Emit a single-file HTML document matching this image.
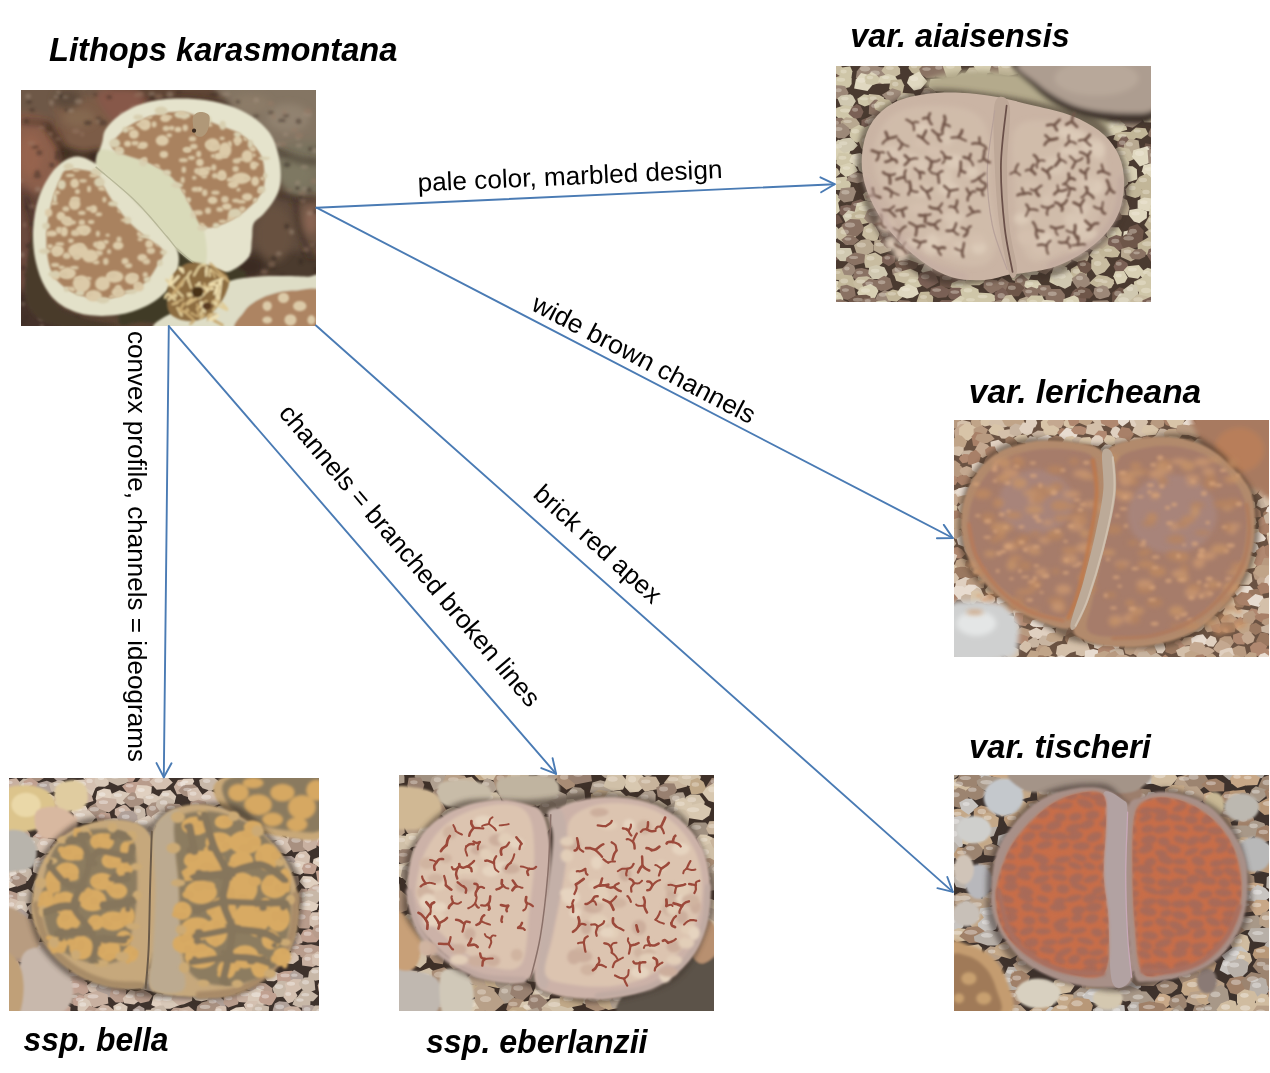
<!DOCTYPE html>
<html><head><meta charset="utf-8">
<style>
html,body{margin:0;padding:0;background:#fff;}
body{width:1270px;height:1073px;position:relative;overflow:hidden;}
.ph{position:absolute;overflow:hidden;}
.ph svg{display:block;width:100%;height:100%;}
.s{fill:none;stroke-linecap:round;stroke-linejoin:round}
#ov{position:absolute;left:0;top:0;width:1270px;height:1073px;}
</style></head>
<body>
<div class="ph" style="left:21px;top:90px;width:295px;height:236px;background:#8a7560"><svg viewBox="0 0 1270 1016" preserveAspectRatio="none">
<defs><filter id="p1g" x="-30%" y="-30%" width="160%" height="160%"><feGaussianBlur stdDeviation="16"/></filter>
<filter id="p1m" x="-30%" y="-30%" width="160%" height="160%"><feGaussianBlur stdDeviation="8"/></filter>
<filter id="p1s" x="-30%" y="-30%" width="160%" height="160%"><feGaussianBlur stdDeviation="4"/></filter>
<filter id="p1t" x="-30%" y="-30%" width="160%" height="160%"><feGaussianBlur stdDeviation="2.5"/></filter>
</defs>
<rect width="1270" height="1016" fill="#5a4434"/>
<g filter="url(#p1g)"><path d="M-40 -40C27 -70 297 -65 360 -40C423 -15 362 75 340 110C318 145 273 163 230 170C187 177 125 155 80 150C35 145 -20 172 -40 140C-60 108 -107 -10 -40 -40Z" fill="#6e5846"/><path d="M-40 130C-15 79 74 110 110 125C146 140 163 179 175 220C187 261 194 333 180 370C166 407 127 430 90 440C53 450 -18 482 -40 430C-62 378 -65 181 -40 130Z" fill="#8c5e4b"/><path d="M150 60C178 40 285 22 330 30C375 38 408 73 420 110C432 147 420 221 400 250C380 279 334 286 300 285C266 284 218 268 195 245C172 222 172 181 165 150C158 119 122 80 150 60Z" fill="#7c5b47"/><path d="M330 10C350 -13 480 -8 520 0C560 8 577 38 570 60C563 82 508 117 480 130C452 143 425 160 400 140C375 120 310 33 330 10Z" fill="#87594a"/><path d="M520 -40C577 -56 842 -55 900 -40C958 -25 903 37 870 50C837 63 752 39 700 40C648 41 590 68 560 55C530 42 463 -24 520 -40Z" fill="#5e4535"/><path d="M860 -40C930 -57 1235 -100 1310 -40C1385 20 1330 263 1310 320C1290 377 1232 313 1190 300C1148 287 1098 265 1060 240C1022 215 988 180 960 150C932 120 907 92 890 60C873 28 790 -23 860 -40Z" fill="#847463"/><path d="M1090 250C1123 228 1273 193 1310 230C1347 267 1335 433 1310 470C1285 507 1193 468 1160 450C1127 432 1122 393 1110 360C1098 327 1057 272 1090 250Z" fill="#7a735f"/><path d="M960 440C995 412 1102 430 1150 450C1198 470 1235 508 1250 560C1265 612 1262 717 1240 760C1218 803 1163 818 1120 820C1077 822 1010 803 980 770C950 737 943 675 940 620C937 565 925 468 960 440Z" fill="#5f4b3c"/><path d="M1180 480C1198 458 1288 430 1310 470C1332 510 1322 682 1310 720C1298 758 1258 720 1240 700C1222 680 1210 637 1200 600C1190 563 1162 502 1180 480Z" fill="#6e5444"/><path d="M-40 460C-23 358 37 427 60 450C83 473 97 542 100 600C103 658 78 723 80 800C82 877 130 1017 110 1060C90 1103 -15 1160 -40 1060C-65 960 -57 562 -40 460Z" fill="#6b4a3c"/><path d="M40 860C80 870 137 927 200 960C263 993 460 1043 420 1060C380 1077 37 1087 -40 1060C-117 1033 -53 933 -40 900C-27 867 0 850 40 860Z" fill="#45322a"/><path d="M990 690C1025 673 1257 697 1310 720C1363 743 1345 813 1310 830C1275 847 1153 843 1100 820C1047 797 955 707 990 690Z" fill="#4c3a2e"/></g>
<g filter="url(#p1g)"><ellipse cx="40" cy="280" rx="50" ry="90" fill="#96644e"/><ellipse cx="250" cy="120" rx="70" ry="40" fill="#846850"/><ellipse cx="1150" cy="120" rx="90" ry="60" fill="#91826f"/><ellipse cx="990" cy="60" rx="80" ry="40" fill="#8c7c68"/><ellipse cx="1180" cy="360" rx="70" ry="60" fill="#7e7862"/><ellipse cx="1090" cy="620" rx="80" ry="120" fill="#675140"/><ellipse cx="980" cy="760" rx="70" ry="50" fill="#3a2a20"/><ellipse cx="330" cy="290" rx="45" ry="30" fill="#3e2c22"/><ellipse cx="200" cy="40" rx="60" ry="40" fill="#5c4a3a"/><ellipse cx="1250" cy="560" rx="30" ry="60" fill="#8a6552"/><path class="s" d="M110 150C120 165 157 210 170 240C183 270 185 300 190 330C195 360 198 405 200 420" stroke="#2e2218" stroke-width="22"/><path class="s" d="M180 260C193 263 233 278 260 280C287 282 327 272 340 270" stroke="#2e2218" stroke-width="20"/><path class="s" d="M0 135C13 136 58 138 80 140C102 142 122 148 130 150" stroke="#3a2a20" stroke-width="14"/><path class="s" d="M880 60C893 75 930 120 960 150C990 180 1022 215 1060 240C1098 265 1155 288 1190 300C1225 312 1257 308 1270 310" stroke="#3a2c22" stroke-width="18"/><path class="s" d="M1100 450C1117 453 1172 467 1200 470C1228 473 1258 470 1270 470" stroke="#3a2c22" stroke-width="16"/><path class="s" d="M1180 470C1183 492 1188 558 1200 600C1212 642 1242 700 1250 720" stroke="#2e2218" stroke-width="14"/><path class="s" d="M540 60C567 58 647 45 700 45C753 45 833 58 860 60" stroke="#3a2a20" stroke-width="16"/><path class="s" d="M20 460C27 483 50 543 60 600C70 657 77 767 80 800" stroke="#2e2218" stroke-width="16"/></g>
<g filter="url(#p1m)" opacity="0.45"><ellipse cx="89" cy="162" rx="15" ry="7" fill="#9a7a66"/><ellipse cx="1086" cy="764" rx="13" ry="12" fill="#3a2c22"/><ellipse cx="226" cy="867" rx="16" ry="8" fill="#3a2c22"/><ellipse cx="486" cy="76" rx="16" ry="12" fill="#9a7a66"/><ellipse cx="1262" cy="669" rx="16" ry="10" fill="#3a2c22"/><ellipse cx="1065" cy="206" rx="11" ry="6" fill="#2e241c"/><ellipse cx="1157" cy="431" rx="13" ry="6" fill="#9a7a66"/><ellipse cx="1122" cy="884" rx="12" ry="13" fill="#9a7a66"/><ellipse cx="1158" cy="847" rx="18" ry="11" fill="#9a7a66"/><ellipse cx="1013" cy="43" rx="12" ry="11" fill="#a89482"/><ellipse cx="516" cy="-10" rx="17" ry="12" fill="#3a2c22"/><ellipse cx="3" cy="709" rx="12" ry="12" fill="#a89482"/><ellipse cx="1191" cy="400" rx="11" ry="10" fill="#a89482"/><ellipse cx="331" cy="895" rx="10" ry="7" fill="#9a7a66"/><ellipse cx="1057" cy="836" rx="13" ry="8" fill="#9a7a66"/><ellipse cx="48" cy="577" rx="18" ry="7" fill="#3a2c22"/><ellipse cx="1139" cy="191" rx="12" ry="8" fill="#a89482"/><ellipse cx="595" cy="1026" rx="11" ry="8" fill="#3a2c22"/><ellipse cx="1140" cy="110" rx="14" ry="8" fill="#3a2c22"/><ellipse cx="185" cy="849" rx="16" ry="10" fill="#2e241c"/><ellipse cx="133" cy="323" rx="11" ry="11" fill="#2e241c"/><ellipse cx="320" cy="20" rx="9" ry="7" fill="#3a2c22"/><ellipse cx="236" cy="177" rx="17" ry="11" fill="#9a7a66"/><ellipse cx="1193" cy="205" rx="12" ry="10" fill="#a89482"/><ellipse cx="991" cy="857" rx="15" ry="8" fill="#2e241c"/><ellipse cx="704" cy="1032" rx="18" ry="12" fill="#3a2c22"/><ellipse cx="341" cy="137" rx="18" ry="8" fill="#a89482"/><ellipse cx="8" cy="906" rx="17" ry="9" fill="#3a2c22"/><ellipse cx="183" cy="1019" rx="9" ry="7" fill="#9a7a66"/><ellipse cx="70" cy="789" rx="10" ry="9" fill="#a89482"/><ellipse cx="1133" cy="95" rx="9" ry="11" fill="#9a7a66"/><ellipse cx="78" cy="923" rx="9" ry="10" fill="#a89482"/><ellipse cx="88" cy="984" rx="15" ry="9" fill="#a89482"/><ellipse cx="1144" cy="587" rx="11" ry="12" fill="#2e241c"/><ellipse cx="927" cy="1005" rx="9" ry="10" fill="#2e241c"/><ellipse cx="31" cy="27" rx="12" ry="10" fill="#a89482"/><ellipse cx="281" cy="951" rx="14" ry="10" fill="#9a7a66"/><ellipse cx="211" cy="935" rx="12" ry="12" fill="#3a2c22"/><ellipse cx="1228" cy="688" rx="13" ry="12" fill="#9a7a66"/><ellipse cx="1198" cy="197" rx="17" ry="12" fill="#9a7a66"/><ellipse cx="500" cy="23" rx="15" ry="7" fill="#9a7a66"/><ellipse cx="1205" cy="460" rx="10" ry="10" fill="#2e241c"/><ellipse cx="70" cy="354" rx="11" ry="9" fill="#2e241c"/><ellipse cx="1262" cy="393" rx="15" ry="12" fill="#9a7a66"/><ellipse cx="264" cy="191" rx="9" ry="10" fill="#9a7a66"/><ellipse cx="63" cy="933" rx="17" ry="9" fill="#9a7a66"/><ellipse cx="755" cy="89" rx="15" ry="9" fill="#a89482"/><ellipse cx="35" cy="51" rx="13" ry="9" fill="#3a2c22"/><ellipse cx="1238" cy="104" rx="14" ry="11" fill="#a89482"/><ellipse cx="1123" cy="950" rx="14" ry="10" fill="#2e241c"/><ellipse cx="7" cy="998" rx="12" ry="6" fill="#2e241c"/><ellipse cx="1220" cy="1024" rx="9" ry="6" fill="#9a7a66"/><ellipse cx="-2" cy="391" rx="11" ry="6" fill="#a89482"/><ellipse cx="1124" cy="799" rx="11" ry="10" fill="#3a2c22"/><ellipse cx="907" cy="997" rx="11" ry="8" fill="#2e241c"/><ellipse cx="23" cy="134" rx="9" ry="8" fill="#2e241c"/><ellipse cx="473" cy="988" rx="12" ry="12" fill="#9a7a66"/><ellipse cx="1127" cy="925" rx="13" ry="11" fill="#a89482"/><ellipse cx="126" cy="709" rx="11" ry="6" fill="#9a7a66"/><ellipse cx="1249" cy="254" rx="14" ry="10" fill="#3a2c22"/><ellipse cx="641" cy="19" rx="16" ry="13" fill="#a89482"/><ellipse cx="1220" cy="331" rx="16" ry="8" fill="#a89482"/><ellipse cx="1156" cy="919" rx="15" ry="12" fill="#a89482"/><ellipse cx="836" cy="1031" rx="12" ry="10" fill="#3a2c22"/><ellipse cx="1211" cy="817" rx="10" ry="9" fill="#9a7a66"/><ellipse cx="334" cy="122" rx="13" ry="7" fill="#3a2c22"/><ellipse cx="831" cy="19" rx="18" ry="10" fill="#3a2c22"/><ellipse cx="1149" cy="869" rx="13" ry="12" fill="#2e241c"/><ellipse cx="870" cy="79" rx="14" ry="11" fill="#3a2c22"/><ellipse cx="73" cy="427" rx="12" ry="11" fill="#a89482"/><ellipse cx="563" cy="17" rx="14" ry="10" fill="#a89482"/><ellipse cx="1088" cy="115" rx="9" ry="12" fill="#9a7a66"/><ellipse cx="1145" cy="322" rx="15" ry="11" fill="#2e241c"/><ellipse cx="1081" cy="941" rx="15" ry="6" fill="#2e241c"/><ellipse cx="45" cy="229" rx="15" ry="9" fill="#9a7a66"/><ellipse cx="1108" cy="1007" rx="16" ry="13" fill="#3a2c22"/><ellipse cx="1077" cy="285" rx="14" ry="11" fill="#a89482"/><ellipse cx="1165" cy="611" rx="11" ry="11" fill="#a89482"/><ellipse cx="1178" cy="172" rx="14" ry="8" fill="#9a7a66"/><ellipse cx="79" cy="270" rx="13" ry="12" fill="#3a2c22"/><ellipse cx="409" cy="965" rx="18" ry="7" fill="#3a2c22"/><ellipse cx="659" cy="76" rx="16" ry="10" fill="#9a7a66"/><ellipse cx="246" cy="859" rx="16" ry="8" fill="#a89482"/><ellipse cx="1269" cy="773" rx="8" ry="12" fill="#2e241c"/><ellipse cx="462" cy="952" rx="15" ry="7" fill="#2e241c"/><ellipse cx="525" cy="975" rx="12" ry="6" fill="#3a2c22"/><ellipse cx="777" cy="936" rx="16" ry="9" fill="#2e241c"/><ellipse cx="1218" cy="701" rx="16" ry="7" fill="#2e241c"/><ellipse cx="974" cy="997" rx="12" ry="6" fill="#3a2c22"/><ellipse cx="1108" cy="883" rx="8" ry="13" fill="#2e241c"/><ellipse cx="41" cy="757" rx="13" ry="9" fill="#a89482"/><ellipse cx="843" cy="-17" rx="16" ry="7" fill="#2e241c"/><ellipse cx="-7" cy="168" rx="8" ry="8" fill="#9a7a66"/><ellipse cx="128" cy="189" rx="11" ry="9" fill="#9a7a66"/><ellipse cx="697" cy="1024" rx="13" ry="12" fill="#9a7a66"/><ellipse cx="418" cy="925" rx="16" ry="7" fill="#9a7a66"/><ellipse cx="1282" cy="-16" rx="9" ry="6" fill="#a89482"/><ellipse cx="1075" cy="57" rx="13" ry="11" fill="#9a7a66"/><ellipse cx="173" cy="26" rx="11" ry="9" fill="#2e241c"/><ellipse cx="680" cy="9" rx="13" ry="7" fill="#3a2c22"/><ellipse cx="1047" cy="782" rx="15" ry="10" fill="#9a7a66"/><ellipse cx="29" cy="506" rx="14" ry="9" fill="#2e241c"/><ellipse cx="1125" cy="233" rx="18" ry="10" fill="#9a7a66"/><ellipse cx="1241" cy="872" rx="17" ry="8" fill="#a89482"/><ellipse cx="1156" cy="972" rx="10" ry="11" fill="#9a7a66"/><ellipse cx="288" cy="141" rx="17" ry="10" fill="#2e241c"/><ellipse cx="205" cy="86" rx="17" ry="9" fill="#2e241c"/><ellipse cx="215" cy="89" rx="13" ry="8" fill="#a89482"/><ellipse cx="549" cy="71" rx="15" ry="10" fill="#a89482"/><ellipse cx="1027" cy="863" rx="16" ry="8" fill="#2e241c"/><ellipse cx="1234" cy="427" rx="13" ry="9" fill="#3a2c22"/><ellipse cx="1195" cy="135" rx="12" ry="12" fill="#3a2c22"/><ellipse cx="934" cy="51" rx="10" ry="8" fill="#2e241c"/><ellipse cx="1226" cy="426" rx="16" ry="8" fill="#a89482"/><ellipse cx="1205" cy="738" rx="10" ry="13" fill="#2e241c"/><ellipse cx="158" cy="272" rx="12" ry="13" fill="#3a2c22"/><ellipse cx="264" cy="1008" rx="15" ry="9" fill="#9a7a66"/><ellipse cx="239" cy="983" rx="16" ry="11" fill="#2e241c"/><ellipse cx="1062" cy="1001" rx="8" ry="11" fill="#9a7a66"/><ellipse cx="1243" cy="531" rx="12" ry="9" fill="#a89482"/><ellipse cx="1227" cy="945" rx="12" ry="12" fill="#2e241c"/><ellipse cx="151" cy="837" rx="11" ry="11" fill="#2e241c"/><ellipse cx="1225" cy="103" rx="11" ry="9" fill="#a89482"/><ellipse cx="106" cy="777" rx="9" ry="12" fill="#a89482"/><ellipse cx="1266" cy="946" rx="11" ry="11" fill="#2e241c"/><ellipse cx="593" cy="28" rx="17" ry="13" fill="#9a7a66"/><ellipse cx="1075" cy="985" rx="17" ry="10" fill="#9a7a66"/><ellipse cx="1079" cy="750" rx="15" ry="11" fill="#9a7a66"/><ellipse cx="883" cy="18" rx="17" ry="7" fill="#a89482"/><ellipse cx="511" cy="18" rx="17" ry="12" fill="#9a7a66"/><ellipse cx="184" cy="983" rx="14" ry="9" fill="#9a7a66"/><ellipse cx="1190" cy="421" rx="9" ry="10" fill="#2e241c"/><ellipse cx="915" cy="143" rx="15" ry="10" fill="#a89482"/><ellipse cx="510" cy="954" rx="18" ry="9" fill="#a89482"/><ellipse cx="58" cy="846" rx="15" ry="11" fill="#a89482"/><ellipse cx="48" cy="86" rx="12" ry="9" fill="#3a2c22"/><ellipse cx="36" cy="671" rx="17" ry="12" fill="#2e241c"/><ellipse cx="1210" cy="445" rx="17" ry="9" fill="#9a7a66"/><ellipse cx="643" cy="1008" rx="13" ry="10" fill="#a89482"/><ellipse cx="688" cy="-16" rx="9" ry="11" fill="#3a2c22"/><ellipse cx="1262" cy="667" rx="18" ry="6" fill="#9a7a66"/><ellipse cx="72" cy="906" rx="14" ry="12" fill="#2e241c"/><ellipse cx="150" cy="30" rx="11" ry="9" fill="#a89482"/><ellipse cx="200" cy="928" rx="16" ry="12" fill="#a89482"/><ellipse cx="161" cy="10" rx="9" ry="9" fill="#a89482"/><ellipse cx="141" cy="746" rx="9" ry="6" fill="#3a2c22"/><ellipse cx="1288" cy="347" rx="16" ry="9" fill="#a89482"/><ellipse cx="352" cy="141" rx="18" ry="13" fill="#3a2c22"/><ellipse cx="38" cy="868" rx="15" ry="10" fill="#a89482"/><ellipse cx="1123" cy="131" rx="17" ry="7" fill="#2e241c"/><ellipse cx="47" cy="501" rx="13" ry="9" fill="#9a7a66"/><ellipse cx="168" cy="-16" rx="8" ry="9" fill="#3a2c22"/><ellipse cx="937" cy="1012" rx="11" ry="10" fill="#3a2c22"/><ellipse cx="863" cy="1010" rx="11" ry="9" fill="#2e241c"/><ellipse cx="1197" cy="239" rx="14" ry="9" fill="#a89482"/><ellipse cx="16" cy="580" rx="8" ry="11" fill="#9a7a66"/><ellipse cx="380" cy="31" rx="12" ry="9" fill="#3a2c22"/><ellipse cx="22" cy="978" rx="12" ry="13" fill="#3a2c22"/><ellipse cx="995" cy="978" rx="16" ry="8" fill="#a89482"/><ellipse cx="315" cy="881" rx="11" ry="7" fill="#2e241c"/><ellipse cx="1088" cy="725" rx="13" ry="13" fill="#2e241c"/><ellipse cx="956" cy="-20" rx="15" ry="9" fill="#9a7a66"/><ellipse cx="1213" cy="478" rx="12" ry="8" fill="#9a7a66"/><ellipse cx="1266" cy="885" rx="14" ry="8" fill="#3a2c22"/><ellipse cx="70" cy="370" rx="16" ry="10" fill="#3a2c22"/><ellipse cx="157" cy="292" rx="14" ry="12" fill="#3a2c22"/><ellipse cx="564" cy="33" rx="15" ry="11" fill="#3a2c22"/><ellipse cx="435" cy="103" rx="11" ry="8" fill="#a89482"/><ellipse cx="1267" cy="524" rx="10" ry="11" fill="#3a2c22"/><ellipse cx="90" cy="1017" rx="9" ry="9" fill="#a89482"/><ellipse cx="616" cy="1023" rx="16" ry="11" fill="#3a2c22"/><ellipse cx="1103" cy="236" rx="16" ry="10" fill="#a89482"/><ellipse cx="131" cy="55" rx="10" ry="13" fill="#a89482"/><ellipse cx="1274" cy="249" rx="15" ry="8" fill="#3a2c22"/><ellipse cx="248" cy="49" rx="17" ry="12" fill="#a89482"/><ellipse cx="1110" cy="704" rx="12" ry="9" fill="#a89482"/><ellipse cx="23" cy="797" rx="9" ry="10" fill="#2e241c"/><ellipse cx="1286" cy="8" rx="9" ry="11" fill="#2e241c"/><ellipse cx="1280" cy="666" rx="17" ry="7" fill="#2e241c"/><ellipse cx="12" cy="766" rx="17" ry="12" fill="#3a2c22"/><ellipse cx="160" cy="1032" rx="16" ry="10" fill="#2e241c"/><ellipse cx="998" cy="899" rx="11" ry="12" fill="#a89482"/><ellipse cx="1012" cy="112" rx="13" ry="8" fill="#3a2c22"/><ellipse cx="1240" cy="430" rx="12" ry="11" fill="#3a2c22"/><ellipse cx="1076" cy="97" rx="13" ry="8" fill="#3a2c22"/><ellipse cx="1236" cy="91" rx="17" ry="12" fill="#9a7a66"/><ellipse cx="342" cy="911" rx="10" ry="11" fill="#3a2c22"/><ellipse cx="61" cy="245" rx="16" ry="7" fill="#2e241c"/><ellipse cx="1265" cy="260" rx="10" ry="12" fill="#a89482"/><ellipse cx="1072" cy="245" rx="17" ry="9" fill="#2e241c"/><ellipse cx="9" cy="922" rx="9" ry="7" fill="#a89482"/><ellipse cx="192" cy="31" rx="12" ry="6" fill="#a89482"/><ellipse cx="272" cy="-15" rx="11" ry="12" fill="#a89482"/><ellipse cx="159" cy="210" rx="14" ry="7" fill="#9a7a66"/><ellipse cx="1011" cy="831" rx="14" ry="13" fill="#3a2c22"/></g>
<g filter="url(#p1m)"><path d="M560 640C607 593 633 677 700 700C767 723 927 753 960 780C993 807 943 825 900 860C857 895 763 967 700 990C637 1013 567 1002 520 1000C473 998 413 1040 420 980C427 920 513 687 560 640Z" fill="#3f3a28"/><path d="M60 600C77 597 88 817 120 880C152 943 200 958 250 980C300 1002 437 1004 420 1010C403 1016 217 1034 150 1016C83 998 35 969 20 900C5 831 43 603 60 600Z" fill="#4a3a2a"/></g>
<g filter="url(#p1s)"><path d="M600 1040C500 1022 661 960 700 930C739 900 802 876 836 858C870 840 876 829 906 820C936 811 979 807 1015 804C1051 801 1087 801 1123 801C1159 801 1202 802 1231 804C1260 806 1288 773 1300 812C1312 851 1417 1002 1300 1040C1183 1078 700 1058 600 1040Z" fill="#deddc6"/><path d="M940 1040C883 1026 948 977 960 955C972 933 992 920 1015 906C1038 892 1069 881 1096 874C1123 867 1143 864 1177 863C1211 862 1280 840 1300 869C1320 898 1360 1012 1300 1040C1240 1068 997 1054 940 1040Z" fill="#ad8462"/><path d="M350 224C355 207 352 189 364 170C376 151 398 127 425 108C452 89 486 70 526 58C566 46 617 39 662 37C707 35 755 38 798 44C841 50 884 61 920 75C956 89 988 108 1015 129C1042 150 1066 174 1082 203C1098 232 1107 271 1113 305C1119 339 1120 379 1116 407C1112 435 1101 454 1089 475C1077 496 1057 519 1042 536C1027 553 1009 558 1001 576C993 594 998 620 994 644C990 668 996 697 980 720C964 743 921 774 895 782C869 790 850 772 825 766C800 760 769 757 744 744C719 731 695 708 676 689C657 670 650 656 628 631C606 606 575 567 547 536C519 505 490 475 459 447C428 419 387 385 364 366C341 347 328 348 323 332C318 316 330 288 335 270C340 252 345 241 350 224Z" fill="#e5e3cc"/><path d="M340 258C357 248 394 263 425 271C456 279 493 291 526 305C559 319 596 336 621 353C646 370 660 387 676 407C692 427 704 452 716 475C728 498 739 523 750 542C761 561 776 566 784 590C792 614 799 661 800 689C801 717 799 751 790 760C781 769 763 756 744 744C725 732 695 708 676 689C657 670 650 656 628 631C606 606 575 567 547 536C519 505 490 475 459 447C428 419 387 385 364 366C341 347 327 350 323 332C319 314 323 268 340 258Z" fill="#d9dab9"/><path d="M246 286C267 287 294 300 313 312C332 324 336 338 360 360C384 382 428 418 459 447C490 476 519 505 547 536C575 567 606 604 628 631C650 658 669 675 676 700C683 725 679 755 671 782C663 809 649 839 627 864C605 889 572 914 537 931C502 948 460 962 418 968C376 974 324 975 283 968C242 961 202 944 172 924C142 904 122 880 104 849C86 818 72 778 63 737C54 696 50 648 52 603C54 558 62 509 75 469C88 429 108 391 127 364C146 337 167 318 187 305C207 292 225 285 246 286Z" fill="#e3e1c9"/></g>
<g filter="url(#p1s)"><path d="M391 237C394 220 425 188 445 170C465 152 488 140 513 129C538 118 567 108 594 102C621 96 653 95 676 95C699 95 710 96 730 102C750 108 776 120 798 129C820 138 842 147 865 156C888 165 913 172 933 183C953 194 970 207 987 224C1004 241 1025 262 1035 285C1045 308 1047 335 1048 359C1049 383 1050 406 1042 427C1034 448 1019 469 1001 488C983 507 958 526 933 542C908 558 877 575 852 583C827 591 801 597 784 590C767 583 761 561 750 542C739 523 728 498 716 475C704 452 692 427 676 407C660 387 646 370 621 353C596 336 559 319 526 305C493 291 448 282 425 271C402 260 388 254 391 237Z" fill="#a9825f"/><path d="M201 342C227 336 296 346 321 357C346 368 337 387 351 409C365 431 384 465 403 491C422 517 441 542 463 566C485 590 512 612 537 633C562 654 603 672 612 692C621 712 602 730 589 752C576 774 558 807 537 827C516 847 493 859 463 871C433 883 392 898 358 901C324 904 290 895 261 886C232 877 208 865 187 849C166 833 146 814 134 789C122 764 116 734 112 700C108 666 108 625 112 588C116 551 125 508 134 476C143 444 153 416 164 394C175 372 175 348 201 342Z" fill="#a9825f"/></g>
<g filter="url(#p1s)"><ellipse cx="231" cy="491" rx="25" ry="26" fill="#dccaa8"/><ellipse cx="201" cy="566" rx="21" ry="21" fill="#dccaa8"/><ellipse cx="269" cy="603" rx="33" ry="23" fill="#dccaa8"/><ellipse cx="186" cy="610" rx="16" ry="21" fill="#dccaa8"/><ellipse cx="157" cy="692" rx="28" ry="25" fill="#dccaa8"/><ellipse cx="246" cy="692" rx="43" ry="32" fill="#dccaa8"/><ellipse cx="298" cy="715" rx="36" ry="28" fill="#dccaa8"/><ellipse cx="201" cy="789" rx="35" ry="26" fill="#dccaa8"/><ellipse cx="261" cy="834" rx="38" ry="37" fill="#dccaa8"/><ellipse cx="351" cy="834" rx="32" ry="31" fill="#dccaa8"/><ellipse cx="403" cy="804" rx="38" ry="26" fill="#dccaa8"/><ellipse cx="477" cy="812" rx="30" ry="25" fill="#dccaa8"/><ellipse cx="522" cy="722" rx="21" ry="16" fill="#dccaa8"/><ellipse cx="418" cy="670" rx="23" ry="18" fill="#dccaa8"/><ellipse cx="343" cy="670" rx="22" ry="21" fill="#dccaa8"/><ellipse cx="172" cy="543" rx="19" ry="19" fill="#dccaa8"/><ellipse cx="231" cy="402" rx="19" ry="21" fill="#dccaa8"/><ellipse cx="313" cy="513" rx="15" ry="17" fill="#dccaa8"/><ellipse cx="134" cy="618" rx="21" ry="13" fill="#dccaa8"/><ellipse cx="448" cy="737" rx="15" ry="14" fill="#dccaa8"/><ellipse cx="313" cy="886" rx="35" ry="25" fill="#dccaa8"/><ellipse cx="418" cy="871" rx="28" ry="22" fill="#dccaa8"/><ellipse cx="507" cy="849" rx="22" ry="19" fill="#dccaa8"/><ellipse cx="149" cy="797" rx="21" ry="21" fill="#dccaa8"/><ellipse cx="119" cy="528" rx="16" ry="17" fill="#dccaa8"/><ellipse cx="552" cy="663" rx="17" ry="17" fill="#dccaa8"/><ellipse cx="533" cy="149" rx="26" ry="25" fill="#dccaa8"/><ellipse cx="621" cy="122" rx="22" ry="16" fill="#dccaa8"/><ellipse cx="486" cy="190" rx="21" ry="20" fill="#dccaa8"/><ellipse cx="608" cy="217" rx="28" ry="23" fill="#dccaa8"/><ellipse cx="526" cy="237" rx="20" ry="14" fill="#dccaa8"/><ellipse cx="615" cy="278" rx="18" ry="15" fill="#dccaa8"/><ellipse cx="676" cy="170" rx="15" ry="12" fill="#dccaa8"/><ellipse cx="825" cy="237" rx="30" ry="29" fill="#dccaa8"/><ellipse cx="879" cy="258" rx="27" ry="33" fill="#dccaa8"/><ellipse cx="852" cy="285" rx="20" ry="15" fill="#dccaa8"/><ellipse cx="974" cy="285" rx="24" ry="27" fill="#dccaa8"/><ellipse cx="947" cy="380" rx="40" ry="25" fill="#dccaa8"/><ellipse cx="913" cy="407" rx="23" ry="16" fill="#dccaa8"/><ellipse cx="784" cy="353" rx="27" ry="20" fill="#dccaa8"/><ellipse cx="770" cy="312" rx="16" ry="16" fill="#dccaa8"/><ellipse cx="865" cy="366" rx="20" ry="22" fill="#dccaa8"/><ellipse cx="825" cy="475" rx="21" ry="16" fill="#dccaa8"/><ellipse cx="886" cy="502" rx="21" ry="14" fill="#dccaa8"/><ellipse cx="906" cy="542" rx="16" ry="16" fill="#dccaa8"/><ellipse cx="974" cy="461" rx="23" ry="17" fill="#dccaa8"/><ellipse cx="1008" cy="393" rx="17" ry="21" fill="#dccaa8"/><ellipse cx="1001" cy="325" rx="15" ry="18" fill="#dccaa8"/><ellipse cx="716" cy="258" rx="14" ry="10" fill="#dccaa8"/><ellipse cx="770" cy="427" rx="12" ry="11" fill="#dccaa8"/><ellipse cx="933" cy="217" rx="19" ry="17" fill="#dccaa8"/><ellipse cx="459" cy="231" rx="15" ry="13" fill="#dccaa8"/><ellipse cx="703" cy="115" rx="14" ry="11" fill="#dccaa8"/><ellipse cx="1060" cy="930" rx="20" ry="21" fill="#dccaa8"/><ellipse cx="1130" cy="895" rx="24" ry="22" fill="#dccaa8"/><ellipse cx="1200" cy="930" rx="29" ry="22" fill="#dccaa8"/><ellipse cx="1060" cy="990" rx="21" ry="15" fill="#dccaa8"/><ellipse cx="1160" cy="990" rx="26" ry="25" fill="#dccaa8"/><ellipse cx="1250" cy="990" rx="17" ry="20" fill="#dccaa8"/><ellipse cx="205" cy="330" rx="22" ry="15" fill="#d8cfb0"/><ellipse cx="326" cy="353" rx="24" ry="18" fill="#d8cfb0"/><ellipse cx="338" cy="397" rx="23" ry="21" fill="#d8cfb0"/><ellipse cx="396" cy="490" rx="21" ry="12" fill="#d8cfb0"/><ellipse cx="459" cy="561" rx="16" ry="16" fill="#d8cfb0"/><ellipse cx="531" cy="630" rx="25" ry="8" fill="#d8cfb0"/><ellipse cx="614" cy="699" rx="15" ry="11" fill="#d8cfb0"/><ellipse cx="598" cy="745" rx="12" ry="14" fill="#d8cfb0"/><ellipse cx="543" cy="816" rx="15" ry="13" fill="#d8cfb0"/><ellipse cx="472" cy="869" rx="27" ry="10" fill="#d8cfb0"/><ellipse cx="353" cy="905" rx="27" ry="14" fill="#d8cfb0"/><ellipse cx="253" cy="875" rx="20" ry="11" fill="#d8cfb0"/><ellipse cx="196" cy="858" rx="12" ry="12" fill="#d8cfb0"/><ellipse cx="143" cy="793" rx="26" ry="13" fill="#d8cfb0"/><ellipse cx="102" cy="694" rx="25" ry="12" fill="#d8cfb0"/><ellipse cx="108" cy="586" rx="17" ry="14" fill="#d8cfb0"/><ellipse cx="146" cy="466" rx="8" ry="21" fill="#d8cfb0"/><ellipse cx="175" cy="408" rx="18" ry="21" fill="#d8cfb0"/><ellipse cx="403" cy="229" rx="24" ry="20" fill="#d8cfb0"/><ellipse cx="450" cy="171" rx="14" ry="13" fill="#d8cfb0"/><ellipse cx="505" cy="117" rx="21" ry="12" fill="#d8cfb0"/><ellipse cx="603" cy="89" rx="28" ry="18" fill="#d8cfb0"/><ellipse cx="688" cy="106" rx="28" ry="16" fill="#d8cfb0"/><ellipse cx="716" cy="109" rx="12" ry="12" fill="#d8cfb0"/><ellipse cx="803" cy="130" rx="17" ry="21" fill="#d8cfb0"/><ellipse cx="868" cy="152" rx="14" ry="20" fill="#d8cfb0"/><ellipse cx="932" cy="191" rx="16" ry="11" fill="#d8cfb0"/><ellipse cx="988" cy="233" rx="12" ry="19" fill="#d8cfb0"/><ellipse cx="1047" cy="294" rx="26" ry="8" fill="#d8cfb0"/><ellipse cx="1052" cy="369" rx="9" ry="12" fill="#d8cfb0"/><ellipse cx="1036" cy="428" rx="17" ry="15" fill="#d8cfb0"/><ellipse cx="1009" cy="474" rx="9" ry="10" fill="#d8cfb0"/><ellipse cx="922" cy="530" rx="29" ry="20" fill="#d8cfb0"/><ellipse cx="840" cy="583" rx="15" ry="12" fill="#d8cfb0"/><ellipse cx="780" cy="594" rx="21" ry="13" fill="#d8cfb0"/><ellipse cx="741" cy="537" rx="11" ry="16" fill="#d8cfb0"/><ellipse cx="722" cy="472" rx="10" ry="10" fill="#d8cfb0"/><ellipse cx="672" cy="410" rx="25" ry="13" fill="#d8cfb0"/><ellipse cx="629" cy="356" rx="17" ry="13" fill="#d8cfb0"/><ellipse cx="526" cy="311" rx="17" ry="18" fill="#d8cfb0"/><ellipse cx="424" cy="264" rx="20" ry="18" fill="#d8cfb0"/></g>
<clipPath id="p1cw"><path d="M391 237C394 220 425 188 445 170C465 152 488 140 513 129C538 118 567 108 594 102C621 96 653 95 676 95C699 95 710 96 730 102C750 108 776 120 798 129C820 138 842 147 865 156C888 165 913 172 933 183C953 194 970 207 987 224C1004 241 1025 262 1035 285C1045 308 1047 335 1048 359C1049 383 1050 406 1042 427C1034 448 1019 469 1001 488C983 507 958 526 933 542C908 558 877 575 852 583C827 591 801 597 784 590C767 583 761 561 750 542C739 523 728 498 716 475C704 452 692 427 676 407C660 387 646 370 621 353C596 336 559 319 526 305C493 291 448 282 425 271C402 260 388 254 391 237Z"/><path d="M201 342C227 336 296 346 321 357C346 368 337 387 351 409C365 431 384 465 403 491C422 517 441 542 463 566C485 590 512 612 537 633C562 654 603 672 612 692C621 712 602 730 589 752C576 774 558 807 537 827C516 847 493 859 463 871C433 883 392 898 358 901C324 904 290 895 261 886C232 877 208 865 187 849C166 833 146 814 134 789C122 764 116 734 112 700C108 666 108 625 112 588C116 551 125 508 134 476C143 444 153 416 164 394C175 372 175 348 201 342Z"/></clipPath><g filter="url(#p1s)"><g clip-path="url(#p1cw)"><ellipse cx="64" cy="70" rx="12" ry="13" fill="#d8c6a4"/><ellipse cx="140" cy="56" rx="12" ry="11" fill="#d8c6a4"/><ellipse cx="195" cy="71" rx="13" ry="15" fill="#d8c6a4"/><ellipse cx="233" cy="70" rx="11" ry="13" fill="#d8c6a4"/><ellipse cx="340" cy="72" rx="12" ry="8" fill="#d8c6a4"/><ellipse cx="399" cy="59" rx="11" ry="13" fill="#d8c6a4"/><ellipse cx="473" cy="46" rx="13" ry="15" fill="#d8c6a4"/><ellipse cx="519" cy="69" rx="12" ry="11" fill="#d8c6a4"/><ellipse cx="584" cy="61" rx="12" ry="13" fill="#d8c6a4"/><ellipse cx="605" cy="63" rx="15" ry="8" fill="#d8c6a4"/><ellipse cx="702" cy="73" rx="12" ry="7" fill="#d8c6a4"/><ellipse cx="761" cy="55" rx="12" ry="12" fill="#d8c6a4"/><ellipse cx="893" cy="66" rx="17" ry="15" fill="#d8c6a4"/><ellipse cx="1020" cy="71" rx="18" ry="14" fill="#d8c6a4"/><ellipse cx="1085" cy="46" rx="10" ry="13" fill="#d8c6a4"/><ellipse cx="1132" cy="65" rx="10" ry="8" fill="#d8c6a4"/><ellipse cx="1171" cy="52" rx="12" ry="8" fill="#d8c6a4"/><ellipse cx="1206" cy="67" rx="13" ry="11" fill="#d8c6a4"/><ellipse cx="1261" cy="61" rx="20" ry="13" fill="#d8c6a4"/><ellipse cx="82" cy="91" rx="15" ry="10" fill="#d8c6a4"/><ellipse cx="145" cy="101" rx="19" ry="11" fill="#d8c6a4"/><ellipse cx="182" cy="102" rx="17" ry="9" fill="#d8c6a4"/><ellipse cx="219" cy="109" rx="15" ry="9" fill="#d8c6a4"/><ellipse cx="272" cy="113" rx="14" ry="11" fill="#d8c6a4"/><ellipse cx="316" cy="107" rx="9" ry="9" fill="#d8c6a4"/><ellipse cx="378" cy="116" rx="17" ry="9" fill="#d8c6a4"/><ellipse cx="401" cy="107" rx="9" ry="11" fill="#d8c6a4"/><ellipse cx="467" cy="110" rx="10" ry="14" fill="#d8c6a4"/><ellipse cx="511" cy="91" rx="17" ry="9" fill="#d8c6a4"/><ellipse cx="551" cy="117" rx="14" ry="7" fill="#d8c6a4"/><ellipse cx="593" cy="96" rx="12" ry="10" fill="#d8c6a4"/><ellipse cx="639" cy="116" rx="13" ry="7" fill="#d8c6a4"/><ellipse cx="692" cy="101" rx="18" ry="7" fill="#d8c6a4"/><ellipse cx="999" cy="104" rx="13" ry="11" fill="#d8c6a4"/><ellipse cx="1060" cy="95" rx="11" ry="11" fill="#d8c6a4"/><ellipse cx="1092" cy="116" rx="20" ry="10" fill="#d8c6a4"/><ellipse cx="1148" cy="95" rx="18" ry="10" fill="#d8c6a4"/><ellipse cx="1184" cy="114" rx="18" ry="9" fill="#d8c6a4"/><ellipse cx="47" cy="140" rx="14" ry="14" fill="#d8c6a4"/><ellipse cx="105" cy="141" rx="10" ry="10" fill="#d8c6a4"/><ellipse cx="163" cy="146" rx="17" ry="9" fill="#d8c6a4"/><ellipse cx="213" cy="165" rx="11" ry="8" fill="#d8c6a4"/><ellipse cx="257" cy="164" rx="18" ry="13" fill="#d8c6a4"/><ellipse cx="285" cy="143" rx="18" ry="10" fill="#d8c6a4"/><ellipse cx="332" cy="139" rx="19" ry="9" fill="#d8c6a4"/><ellipse cx="379" cy="137" rx="10" ry="12" fill="#d8c6a4"/><ellipse cx="471" cy="165" rx="17" ry="9" fill="#d8c6a4"/><ellipse cx="514" cy="148" rx="19" ry="9" fill="#d8c6a4"/><ellipse cx="573" cy="148" rx="11" ry="13" fill="#d8c6a4"/><ellipse cx="624" cy="166" rx="14" ry="12" fill="#d8c6a4"/><ellipse cx="649" cy="164" rx="12" ry="10" fill="#d8c6a4"/><ellipse cx="707" cy="163" rx="12" ry="15" fill="#d8c6a4"/><ellipse cx="767" cy="163" rx="14" ry="10" fill="#d8c6a4"/><ellipse cx="814" cy="151" rx="11" ry="7" fill="#d8c6a4"/><ellipse cx="876" cy="140" rx="10" ry="9" fill="#d8c6a4"/><ellipse cx="979" cy="144" rx="18" ry="7" fill="#d8c6a4"/><ellipse cx="1030" cy="153" rx="17" ry="9" fill="#d8c6a4"/><ellipse cx="1079" cy="165" rx="17" ry="8" fill="#d8c6a4"/><ellipse cx="1175" cy="152" rx="9" ry="13" fill="#d8c6a4"/><ellipse cx="1255" cy="156" rx="9" ry="10" fill="#d8c6a4"/><ellipse cx="144" cy="191" rx="10" ry="8" fill="#d8c6a4"/><ellipse cx="177" cy="192" rx="12" ry="10" fill="#d8c6a4"/><ellipse cx="269" cy="210" rx="13" ry="11" fill="#d8c6a4"/><ellipse cx="367" cy="192" rx="17" ry="12" fill="#d8c6a4"/><ellipse cx="638" cy="195" rx="12" ry="9" fill="#d8c6a4"/><ellipse cx="738" cy="210" rx="16" ry="11" fill="#d8c6a4"/><ellipse cx="866" cy="208" rx="11" ry="8" fill="#d8c6a4"/><ellipse cx="967" cy="209" rx="10" ry="11" fill="#d8c6a4"/><ellipse cx="1020" cy="182" rx="20" ry="10" fill="#d8c6a4"/><ellipse cx="1055" cy="208" rx="11" ry="13" fill="#d8c6a4"/><ellipse cx="1101" cy="203" rx="18" ry="12" fill="#d8c6a4"/><ellipse cx="1178" cy="198" rx="19" ry="7" fill="#d8c6a4"/><ellipse cx="1220" cy="194" rx="13" ry="9" fill="#d8c6a4"/><ellipse cx="53" cy="251" rx="19" ry="10" fill="#d8c6a4"/><ellipse cx="108" cy="259" rx="12" ry="13" fill="#d8c6a4"/><ellipse cx="254" cy="236" rx="15" ry="7" fill="#d8c6a4"/><ellipse cx="373" cy="229" rx="13" ry="9" fill="#d8c6a4"/><ellipse cx="421" cy="255" rx="16" ry="7" fill="#d8c6a4"/><ellipse cx="491" cy="229" rx="16" ry="10" fill="#d8c6a4"/><ellipse cx="518" cy="245" rx="18" ry="7" fill="#d8c6a4"/><ellipse cx="715" cy="257" rx="19" ry="10" fill="#d8c6a4"/><ellipse cx="744" cy="243" rx="16" ry="12" fill="#d8c6a4"/><ellipse cx="806" cy="235" rx="14" ry="14" fill="#d8c6a4"/><ellipse cx="839" cy="245" rx="17" ry="13" fill="#d8c6a4"/><ellipse cx="899" cy="232" rx="9" ry="13" fill="#d8c6a4"/><ellipse cx="931" cy="231" rx="10" ry="9" fill="#d8c6a4"/><ellipse cx="998" cy="254" rx="14" ry="12" fill="#d8c6a4"/><ellipse cx="1023" cy="232" rx="18" ry="15" fill="#d8c6a4"/><ellipse cx="1078" cy="254" rx="18" ry="13" fill="#d8c6a4"/><ellipse cx="1134" cy="234" rx="10" ry="12" fill="#d8c6a4"/><ellipse cx="1166" cy="247" rx="13" ry="8" fill="#d8c6a4"/><ellipse cx="95" cy="287" rx="9" ry="12" fill="#d8c6a4"/><ellipse cx="118" cy="283" rx="16" ry="10" fill="#d8c6a4"/><ellipse cx="215" cy="282" rx="17" ry="14" fill="#d8c6a4"/><ellipse cx="327" cy="300" rx="19" ry="12" fill="#d8c6a4"/><ellipse cx="374" cy="283" rx="15" ry="11" fill="#d8c6a4"/><ellipse cx="394" cy="282" rx="13" ry="13" fill="#d8c6a4"/><ellipse cx="533" cy="299" rx="11" ry="11" fill="#d8c6a4"/><ellipse cx="699" cy="302" rx="19" ry="9" fill="#d8c6a4"/><ellipse cx="734" cy="292" rx="15" ry="9" fill="#d8c6a4"/><ellipse cx="765" cy="276" rx="11" ry="14" fill="#d8c6a4"/><ellipse cx="827" cy="284" rx="10" ry="9" fill="#d8c6a4"/><ellipse cx="877" cy="286" rx="14" ry="7" fill="#d8c6a4"/><ellipse cx="928" cy="306" rx="17" ry="12" fill="#d8c6a4"/><ellipse cx="947" cy="298" rx="17" ry="7" fill="#d8c6a4"/><ellipse cx="1003" cy="280" rx="9" ry="7" fill="#d8c6a4"/><ellipse cx="1104" cy="299" rx="13" ry="13" fill="#d8c6a4"/><ellipse cx="1132" cy="283" rx="11" ry="9" fill="#d8c6a4"/><ellipse cx="1178" cy="291" rx="11" ry="11" fill="#d8c6a4"/><ellipse cx="1249" cy="277" rx="12" ry="11" fill="#d8c6a4"/><ellipse cx="99" cy="336" rx="12" ry="9" fill="#d8c6a4"/><ellipse cx="191" cy="333" rx="11" ry="13" fill="#d8c6a4"/><ellipse cx="237" cy="337" rx="19" ry="15" fill="#d8c6a4"/><ellipse cx="292" cy="333" rx="16" ry="8" fill="#d8c6a4"/><ellipse cx="324" cy="328" rx="13" ry="8" fill="#d8c6a4"/><ellipse cx="387" cy="351" rx="12" ry="9" fill="#d8c6a4"/><ellipse cx="478" cy="330" rx="19" ry="9" fill="#d8c6a4"/><ellipse cx="583" cy="331" rx="15" ry="12" fill="#d8c6a4"/><ellipse cx="701" cy="343" rx="10" ry="14" fill="#d8c6a4"/><ellipse cx="758" cy="349" rx="13" ry="13" fill="#d8c6a4"/><ellipse cx="805" cy="339" rx="13" ry="9" fill="#d8c6a4"/><ellipse cx="830" cy="334" rx="11" ry="14" fill="#d8c6a4"/><ellipse cx="924" cy="340" rx="14" ry="13" fill="#d8c6a4"/><ellipse cx="1014" cy="320" rx="11" ry="8" fill="#d8c6a4"/><ellipse cx="1080" cy="330" rx="9" ry="7" fill="#d8c6a4"/><ellipse cx="1156" cy="345" rx="15" ry="13" fill="#d8c6a4"/><ellipse cx="1252" cy="338" rx="18" ry="12" fill="#d8c6a4"/><ellipse cx="74" cy="380" rx="13" ry="12" fill="#d8c6a4"/><ellipse cx="212" cy="368" rx="19" ry="7" fill="#d8c6a4"/><ellipse cx="267" cy="391" rx="17" ry="8" fill="#d8c6a4"/><ellipse cx="311" cy="368" rx="17" ry="9" fill="#d8c6a4"/><ellipse cx="377" cy="374" rx="15" ry="11" fill="#d8c6a4"/><ellipse cx="415" cy="382" rx="15" ry="15" fill="#d8c6a4"/><ellipse cx="465" cy="394" rx="16" ry="10" fill="#d8c6a4"/><ellipse cx="490" cy="374" rx="17" ry="11" fill="#d8c6a4"/><ellipse cx="532" cy="375" rx="11" ry="14" fill="#d8c6a4"/><ellipse cx="586" cy="370" rx="14" ry="9" fill="#d8c6a4"/><ellipse cx="625" cy="383" rx="12" ry="10" fill="#d8c6a4"/><ellipse cx="696" cy="387" rx="9" ry="14" fill="#d8c6a4"/><ellipse cx="746" cy="378" rx="10" ry="9" fill="#d8c6a4"/><ellipse cx="789" cy="373" rx="12" ry="8" fill="#d8c6a4"/><ellipse cx="835" cy="369" rx="13" ry="12" fill="#d8c6a4"/><ellipse cx="863" cy="375" rx="19" ry="12" fill="#d8c6a4"/><ellipse cx="905" cy="386" rx="20" ry="10" fill="#d8c6a4"/><ellipse cx="973" cy="381" rx="15" ry="9" fill="#d8c6a4"/><ellipse cx="1048" cy="381" rx="19" ry="9" fill="#d8c6a4"/><ellipse cx="1103" cy="387" rx="10" ry="10" fill="#d8c6a4"/><ellipse cx="1157" cy="375" rx="17" ry="10" fill="#d8c6a4"/><ellipse cx="1181" cy="373" rx="16" ry="14" fill="#d8c6a4"/><ellipse cx="149" cy="441" rx="19" ry="9" fill="#d8c6a4"/><ellipse cx="243" cy="437" rx="11" ry="11" fill="#d8c6a4"/><ellipse cx="293" cy="426" rx="9" ry="14" fill="#d8c6a4"/><ellipse cx="350" cy="424" rx="18" ry="10" fill="#d8c6a4"/><ellipse cx="373" cy="419" rx="13" ry="13" fill="#d8c6a4"/><ellipse cx="482" cy="421" rx="17" ry="15" fill="#d8c6a4"/><ellipse cx="513" cy="425" rx="16" ry="8" fill="#d8c6a4"/><ellipse cx="660" cy="427" rx="11" ry="14" fill="#d8c6a4"/><ellipse cx="694" cy="438" rx="14" ry="12" fill="#d8c6a4"/><ellipse cx="750" cy="427" rx="16" ry="11" fill="#d8c6a4"/><ellipse cx="791" cy="442" rx="12" ry="15" fill="#d8c6a4"/><ellipse cx="837" cy="442" rx="18" ry="9" fill="#d8c6a4"/><ellipse cx="936" cy="429" rx="9" ry="8" fill="#d8c6a4"/><ellipse cx="1032" cy="437" rx="15" ry="9" fill="#d8c6a4"/><ellipse cx="1073" cy="422" rx="12" ry="15" fill="#d8c6a4"/><ellipse cx="1122" cy="425" rx="16" ry="14" fill="#d8c6a4"/><ellipse cx="1218" cy="441" rx="19" ry="8" fill="#d8c6a4"/><ellipse cx="32" cy="466" rx="15" ry="9" fill="#d8c6a4"/><ellipse cx="99" cy="490" rx="17" ry="15" fill="#d8c6a4"/><ellipse cx="140" cy="488" rx="20" ry="7" fill="#d8c6a4"/><ellipse cx="234" cy="470" rx="20" ry="11" fill="#d8c6a4"/><ellipse cx="359" cy="472" rx="9" ry="12" fill="#d8c6a4"/><ellipse cx="446" cy="466" rx="16" ry="11" fill="#d8c6a4"/><ellipse cx="496" cy="471" rx="20" ry="13" fill="#d8c6a4"/><ellipse cx="539" cy="460" rx="9" ry="9" fill="#d8c6a4"/><ellipse cx="624" cy="489" rx="9" ry="14" fill="#d8c6a4"/><ellipse cx="694" cy="488" rx="12" ry="13" fill="#d8c6a4"/><ellipse cx="717" cy="476" rx="10" ry="8" fill="#d8c6a4"/><ellipse cx="878" cy="471" rx="16" ry="15" fill="#d8c6a4"/><ellipse cx="925" cy="476" rx="16" ry="9" fill="#d8c6a4"/><ellipse cx="949" cy="481" rx="19" ry="8" fill="#d8c6a4"/><ellipse cx="1013" cy="481" rx="13" ry="11" fill="#d8c6a4"/><ellipse cx="1061" cy="462" rx="10" ry="12" fill="#d8c6a4"/><ellipse cx="1157" cy="474" rx="10" ry="9" fill="#d8c6a4"/><ellipse cx="65" cy="519" rx="10" ry="14" fill="#d8c6a4"/><ellipse cx="98" cy="527" rx="18" ry="12" fill="#d8c6a4"/><ellipse cx="193" cy="512" rx="15" ry="11" fill="#d8c6a4"/><ellipse cx="262" cy="529" rx="16" ry="9" fill="#d8c6a4"/><ellipse cx="295" cy="511" rx="15" ry="9" fill="#d8c6a4"/><ellipse cx="335" cy="535" rx="14" ry="9" fill="#d8c6a4"/><ellipse cx="433" cy="520" rx="18" ry="10" fill="#d8c6a4"/><ellipse cx="487" cy="512" rx="14" ry="10" fill="#d8c6a4"/><ellipse cx="554" cy="517" rx="11" ry="10" fill="#d8c6a4"/><ellipse cx="607" cy="508" rx="20" ry="13" fill="#d8c6a4"/><ellipse cx="703" cy="505" rx="11" ry="14" fill="#d8c6a4"/><ellipse cx="763" cy="528" rx="20" ry="11" fill="#d8c6a4"/><ellipse cx="805" cy="520" rx="13" ry="14" fill="#d8c6a4"/><ellipse cx="856" cy="514" rx="15" ry="10" fill="#d8c6a4"/><ellipse cx="953" cy="513" rx="14" ry="13" fill="#d8c6a4"/><ellipse cx="1079" cy="510" rx="15" ry="13" fill="#d8c6a4"/><ellipse cx="1117" cy="521" rx="12" ry="7" fill="#d8c6a4"/><ellipse cx="1163" cy="528" rx="13" ry="14" fill="#d8c6a4"/><ellipse cx="1201" cy="525" rx="18" ry="15" fill="#d8c6a4"/><ellipse cx="46" cy="575" rx="17" ry="14" fill="#d8c6a4"/><ellipse cx="76" cy="581" rx="13" ry="10" fill="#d8c6a4"/><ellipse cx="189" cy="562" rx="17" ry="15" fill="#d8c6a4"/><ellipse cx="220" cy="570" rx="17" ry="9" fill="#d8c6a4"/><ellipse cx="262" cy="570" rx="14" ry="13" fill="#d8c6a4"/><ellipse cx="302" cy="568" rx="14" ry="9" fill="#d8c6a4"/><ellipse cx="443" cy="560" rx="14" ry="7" fill="#d8c6a4"/><ellipse cx="503" cy="573" rx="14" ry="7" fill="#d8c6a4"/><ellipse cx="554" cy="559" rx="17" ry="12" fill="#d8c6a4"/><ellipse cx="714" cy="579" rx="19" ry="10" fill="#d8c6a4"/><ellipse cx="776" cy="582" rx="14" ry="10" fill="#d8c6a4"/><ellipse cx="868" cy="566" rx="17" ry="8" fill="#d8c6a4"/><ellipse cx="901" cy="561" rx="14" ry="13" fill="#d8c6a4"/><ellipse cx="952" cy="577" rx="16" ry="12" fill="#d8c6a4"/><ellipse cx="1056" cy="553" rx="19" ry="13" fill="#d8c6a4"/><ellipse cx="1086" cy="564" rx="20" ry="15" fill="#d8c6a4"/><ellipse cx="1137" cy="569" rx="10" ry="10" fill="#d8c6a4"/><ellipse cx="1195" cy="570" rx="15" ry="7" fill="#d8c6a4"/><ellipse cx="61" cy="625" rx="11" ry="9" fill="#d8c6a4"/><ellipse cx="111" cy="619" rx="11" ry="11" fill="#d8c6a4"/><ellipse cx="164" cy="604" rx="14" ry="15" fill="#d8c6a4"/><ellipse cx="234" cy="616" rx="19" ry="14" fill="#d8c6a4"/><ellipse cx="277" cy="611" rx="10" ry="13" fill="#d8c6a4"/><ellipse cx="331" cy="619" rx="9" ry="13" fill="#d8c6a4"/><ellipse cx="373" cy="625" rx="9" ry="7" fill="#d8c6a4"/><ellipse cx="511" cy="619" rx="12" ry="11" fill="#d8c6a4"/><ellipse cx="670" cy="601" rx="14" ry="13" fill="#d8c6a4"/><ellipse cx="798" cy="610" rx="13" ry="9" fill="#d8c6a4"/><ellipse cx="838" cy="622" rx="18" ry="11" fill="#d8c6a4"/><ellipse cx="905" cy="613" rx="15" ry="12" fill="#d8c6a4"/><ellipse cx="942" cy="623" rx="9" ry="14" fill="#d8c6a4"/><ellipse cx="969" cy="607" rx="16" ry="8" fill="#d8c6a4"/><ellipse cx="1033" cy="619" rx="13" ry="11" fill="#d8c6a4"/><ellipse cx="1085" cy="609" rx="10" ry="13" fill="#d8c6a4"/><ellipse cx="1172" cy="604" rx="10" ry="14" fill="#d8c6a4"/><ellipse cx="1207" cy="618" rx="13" ry="14" fill="#d8c6a4"/><ellipse cx="1272" cy="613" rx="18" ry="15" fill="#d8c6a4"/><ellipse cx="125" cy="673" rx="12" ry="10" fill="#d8c6a4"/><ellipse cx="167" cy="663" rx="19" ry="9" fill="#d8c6a4"/><ellipse cx="215" cy="649" rx="12" ry="10" fill="#d8c6a4"/><ellipse cx="257" cy="669" rx="16" ry="9" fill="#d8c6a4"/><ellipse cx="322" cy="665" rx="12" ry="12" fill="#d8c6a4"/><ellipse cx="366" cy="654" rx="12" ry="9" fill="#d8c6a4"/><ellipse cx="422" cy="644" rx="11" ry="13" fill="#d8c6a4"/><ellipse cx="513" cy="643" rx="11" ry="8" fill="#d8c6a4"/><ellipse cx="594" cy="662" rx="16" ry="12" fill="#d8c6a4"/><ellipse cx="628" cy="662" rx="14" ry="9" fill="#d8c6a4"/><ellipse cx="681" cy="644" rx="17" ry="7" fill="#d8c6a4"/><ellipse cx="744" cy="659" rx="11" ry="9" fill="#d8c6a4"/><ellipse cx="761" cy="663" rx="11" ry="9" fill="#d8c6a4"/><ellipse cx="823" cy="654" rx="19" ry="8" fill="#d8c6a4"/><ellipse cx="854" cy="664" rx="11" ry="11" fill="#d8c6a4"/><ellipse cx="917" cy="654" rx="19" ry="7" fill="#d8c6a4"/><ellipse cx="1109" cy="667" rx="10" ry="13" fill="#d8c6a4"/><ellipse cx="1135" cy="670" rx="10" ry="11" fill="#d8c6a4"/><ellipse cx="1203" cy="646" rx="16" ry="14" fill="#d8c6a4"/><ellipse cx="59" cy="695" rx="18" ry="11" fill="#d8c6a4"/><ellipse cx="102" cy="691" rx="15" ry="9" fill="#d8c6a4"/><ellipse cx="150" cy="707" rx="10" ry="8" fill="#d8c6a4"/><ellipse cx="197" cy="714" rx="17" ry="14" fill="#d8c6a4"/><ellipse cx="240" cy="720" rx="15" ry="13" fill="#d8c6a4"/><ellipse cx="336" cy="702" rx="16" ry="12" fill="#d8c6a4"/><ellipse cx="379" cy="695" rx="9" ry="11" fill="#d8c6a4"/><ellipse cx="559" cy="692" rx="18" ry="14" fill="#d8c6a4"/><ellipse cx="721" cy="706" rx="12" ry="7" fill="#d8c6a4"/><ellipse cx="760" cy="707" rx="17" ry="9" fill="#d8c6a4"/><ellipse cx="813" cy="717" rx="14" ry="12" fill="#d8c6a4"/><ellipse cx="879" cy="710" rx="18" ry="13" fill="#d8c6a4"/><ellipse cx="999" cy="719" rx="17" ry="13" fill="#d8c6a4"/><ellipse cx="1022" cy="701" rx="13" ry="11" fill="#d8c6a4"/><ellipse cx="1088" cy="710" rx="18" ry="11" fill="#d8c6a4"/><ellipse cx="1117" cy="716" rx="19" ry="12" fill="#d8c6a4"/><ellipse cx="1181" cy="701" rx="15" ry="13" fill="#d8c6a4"/><ellipse cx="1205" cy="701" rx="15" ry="11" fill="#d8c6a4"/><ellipse cx="1243" cy="694" rx="12" ry="11" fill="#d8c6a4"/><ellipse cx="95" cy="742" rx="13" ry="12" fill="#d8c6a4"/><ellipse cx="147" cy="753" rx="18" ry="9" fill="#d8c6a4"/><ellipse cx="175" cy="764" rx="13" ry="8" fill="#d8c6a4"/><ellipse cx="230" cy="765" rx="18" ry="8" fill="#d8c6a4"/><ellipse cx="324" cy="742" rx="14" ry="9" fill="#d8c6a4"/><ellipse cx="365" cy="738" rx="12" ry="15" fill="#d8c6a4"/><ellipse cx="463" cy="756" rx="16" ry="11" fill="#d8c6a4"/><ellipse cx="540" cy="738" rx="16" ry="13" fill="#d8c6a4"/><ellipse cx="690" cy="743" rx="16" ry="11" fill="#d8c6a4"/><ellipse cx="828" cy="735" rx="13" ry="8" fill="#d8c6a4"/><ellipse cx="869" cy="755" rx="14" ry="9" fill="#d8c6a4"/><ellipse cx="1058" cy="757" rx="11" ry="14" fill="#d8c6a4"/><ellipse cx="1142" cy="755" rx="13" ry="9" fill="#d8c6a4"/><ellipse cx="1184" cy="736" rx="11" ry="8" fill="#d8c6a4"/><ellipse cx="1224" cy="762" rx="16" ry="10" fill="#d8c6a4"/><ellipse cx="53" cy="806" rx="14" ry="8" fill="#d8c6a4"/><ellipse cx="118" cy="810" rx="17" ry="9" fill="#d8c6a4"/><ellipse cx="185" cy="796" rx="17" ry="12" fill="#d8c6a4"/><ellipse cx="247" cy="812" rx="19" ry="7" fill="#d8c6a4"/><ellipse cx="293" cy="811" rx="11" ry="7" fill="#d8c6a4"/><ellipse cx="393" cy="798" rx="19" ry="12" fill="#d8c6a4"/><ellipse cx="488" cy="802" rx="17" ry="10" fill="#d8c6a4"/><ellipse cx="535" cy="795" rx="11" ry="12" fill="#d8c6a4"/><ellipse cx="649" cy="805" rx="9" ry="10" fill="#d8c6a4"/><ellipse cx="699" cy="804" rx="19" ry="7" fill="#d8c6a4"/><ellipse cx="796" cy="805" rx="17" ry="11" fill="#d8c6a4"/><ellipse cx="844" cy="790" rx="16" ry="10" fill="#d8c6a4"/><ellipse cx="927" cy="800" rx="17" ry="10" fill="#d8c6a4"/><ellipse cx="979" cy="807" rx="19" ry="13" fill="#d8c6a4"/><ellipse cx="1044" cy="793" rx="15" ry="10" fill="#d8c6a4"/><ellipse cx="1068" cy="788" rx="10" ry="13" fill="#d8c6a4"/><ellipse cx="1121" cy="790" rx="14" ry="11" fill="#d8c6a4"/><ellipse cx="1156" cy="812" rx="20" ry="11" fill="#d8c6a4"/><ellipse cx="1227" cy="792" rx="12" ry="12" fill="#d8c6a4"/><ellipse cx="1260" cy="810" rx="13" ry="10" fill="#d8c6a4"/><ellipse cx="217" cy="858" rx="18" ry="12" fill="#d8c6a4"/><ellipse cx="419" cy="851" rx="14" ry="13" fill="#d8c6a4"/><ellipse cx="503" cy="840" rx="16" ry="14" fill="#d8c6a4"/><ellipse cx="579" cy="854" rx="11" ry="14" fill="#d8c6a4"/><ellipse cx="646" cy="853" rx="11" ry="8" fill="#d8c6a4"/><ellipse cx="720" cy="827" rx="11" ry="13" fill="#d8c6a4"/><ellipse cx="760" cy="851" rx="17" ry="11" fill="#d8c6a4"/><ellipse cx="857" cy="848" rx="9" ry="15" fill="#d8c6a4"/><ellipse cx="915" cy="854" rx="16" ry="10" fill="#d8c6a4"/><ellipse cx="963" cy="853" rx="11" ry="12" fill="#d8c6a4"/><ellipse cx="996" cy="833" rx="13" ry="8" fill="#d8c6a4"/><ellipse cx="1043" cy="832" rx="11" ry="15" fill="#d8c6a4"/><ellipse cx="1093" cy="846" rx="16" ry="12" fill="#d8c6a4"/><ellipse cx="1147" cy="840" rx="10" ry="12" fill="#d8c6a4"/><ellipse cx="1184" cy="857" rx="16" ry="11" fill="#d8c6a4"/><ellipse cx="1221" cy="844" rx="19" ry="13" fill="#d8c6a4"/><ellipse cx="168" cy="876" rx="20" ry="10" fill="#d8c6a4"/><ellipse cx="202" cy="880" rx="12" ry="14" fill="#d8c6a4"/><ellipse cx="296" cy="880" rx="12" ry="8" fill="#d8c6a4"/><ellipse cx="393" cy="894" rx="14" ry="13" fill="#d8c6a4"/><ellipse cx="423" cy="879" rx="18" ry="14" fill="#d8c6a4"/><ellipse cx="485" cy="886" rx="19" ry="11" fill="#d8c6a4"/><ellipse cx="565" cy="904" rx="10" ry="11" fill="#d8c6a4"/><ellipse cx="710" cy="891" rx="16" ry="13" fill="#d8c6a4"/><ellipse cx="814" cy="882" rx="13" ry="13" fill="#d8c6a4"/><ellipse cx="837" cy="892" rx="13" ry="9" fill="#d8c6a4"/><ellipse cx="987" cy="875" rx="12" ry="14" fill="#d8c6a4"/><ellipse cx="1077" cy="885" rx="11" ry="12" fill="#d8c6a4"/><ellipse cx="1124" cy="877" rx="11" ry="13" fill="#d8c6a4"/><ellipse cx="1155" cy="880" rx="20" ry="9" fill="#d8c6a4"/><ellipse cx="1198" cy="884" rx="9" ry="13" fill="#d8c6a4"/><ellipse cx="1269" cy="902" rx="19" ry="11" fill="#d8c6a4"/><ellipse cx="54" cy="924" rx="18" ry="13" fill="#d8c6a4"/><ellipse cx="84" cy="933" rx="17" ry="10" fill="#d8c6a4"/><ellipse cx="129" cy="941" rx="19" ry="13" fill="#d8c6a4"/><ellipse cx="173" cy="923" rx="10" ry="8" fill="#d8c6a4"/><ellipse cx="216" cy="920" rx="17" ry="15" fill="#d8c6a4"/><ellipse cx="269" cy="944" rx="17" ry="12" fill="#d8c6a4"/><ellipse cx="307" cy="935" rx="17" ry="10" fill="#d8c6a4"/><ellipse cx="399" cy="940" rx="12" ry="14" fill="#d8c6a4"/><ellipse cx="438" cy="946" rx="16" ry="10" fill="#d8c6a4"/><ellipse cx="581" cy="939" rx="17" ry="10" fill="#d8c6a4"/><ellipse cx="762" cy="937" rx="15" ry="10" fill="#d8c6a4"/><ellipse cx="838" cy="931" rx="14" ry="10" fill="#d8c6a4"/><ellipse cx="911" cy="944" rx="12" ry="8" fill="#d8c6a4"/><ellipse cx="1003" cy="937" rx="10" ry="9" fill="#d8c6a4"/><ellipse cx="1062" cy="947" rx="16" ry="13" fill="#d8c6a4"/><ellipse cx="1099" cy="926" rx="19" ry="14" fill="#d8c6a4"/><ellipse cx="1155" cy="936" rx="16" ry="11" fill="#d8c6a4"/><ellipse cx="1184" cy="944" rx="16" ry="11" fill="#d8c6a4"/><ellipse cx="1245" cy="949" rx="16" ry="13" fill="#d8c6a4"/></g></g>
<g filter="url(#p1t)"><path d="M740 120C743 104 758 97 770 95C782 93 804 98 810 110C816 122 810 155 805 170C800 185 789 197 780 200C771 203 757 203 750 190C743 177 737 136 740 120Z" fill="#b09878"/><ellipse cx="745" cy="175" rx="9" ry="9" fill="#3a2c20"/><path class="s" d="M323 332C330 338 341 347 364 366C387 385 428 419 459 447C490 475 519 505 547 536C575 567 606 606 628 631C650 656 657 670 676 689C695 708 733 735 744 744" stroke="#b8b898" stroke-width="6"/></g>
<g filter="url(#p1s)"><path d="M650 800C665 779 693 752 720 745C747 738 782 746 810 755C838 764 878 779 890 800C902 821 893 852 880 880C867 908 837 951 810 970C783 989 748 997 720 995C692 993 655 981 640 960C625 939 628 897 630 870C632 843 635 821 650 800Z" fill="#8c6c40"/><path class="s" d="M828 835C824 839 813 861 807 861C801 861 792 838 789 833" stroke="#d4b880" stroke-width="7"/><path class="s" d="M792 870C797 864 813 838 821 832C828 827 835 837 838 837" stroke="#d4b880" stroke-width="9"/><path class="s" d="M835 807C833 801 817 773 821 774C826 774 856 804 863 810" stroke="#d4b880" stroke-width="7"/><path class="s" d="M675 939C678 944 689 971 691 971C692 972 686 948 685 943" stroke="#e0cc98" stroke-width="11"/><path class="s" d="M866 918C869 923 892 947 886 946C879 945 836 919 826 914" stroke="#e0cc98" stroke-width="12"/><path class="s" d="M825 965C822 966 799 967 806 975C813 983 857 1006 867 1012" stroke="#c8a870" stroke-width="12"/><path class="s" d="M672 939C678 942 702 958 710 959C717 959 715 945 716 942" stroke="#d4b880" stroke-width="9"/><path class="s" d="M745 798C749 791 761 766 769 759C777 751 789 754 793 753" stroke="#e0cc98" stroke-width="10"/><path class="s" d="M820 857C816 857 799 857 800 857C801 857 822 856 826 855" stroke="#f0e0b0" stroke-width="11"/><path class="s" d="M797 799C798 793 800 763 800 761C800 758 797 781 796 785" stroke="#f0e0b0" stroke-width="9"/><path class="s" d="M673 866C677 870 702 895 694 887C686 879 637 829 626 817" stroke="#e0cc98" stroke-width="10"/><path class="s" d="M758 943C764 938 790 915 796 911C802 907 794 916 793 917" stroke="#d4b880" stroke-width="11"/><path class="s" d="M678 803C672 809 645 839 640 840C636 840 649 809 651 803" stroke="#f0e0b0" stroke-width="12"/><path class="s" d="M781 916C780 917 773 911 774 917C776 923 788 949 791 955" stroke="#f0e0b0" stroke-width="10"/><path class="s" d="M722 825C721 821 717 808 718 800C720 793 729 785 731 782" stroke="#e0cc98" stroke-width="10"/><path class="s" d="M662 902C657 898 638 879 631 878C624 877 622 892 620 894" stroke="#e0cc98" stroke-width="12"/><path class="s" d="M741 862C741 865 735 883 740 878C744 873 763 839 768 831" stroke="#f0e0b0" stroke-width="11"/><path class="s" d="M720 950C714 950 690 957 686 952C683 947 699 925 701 919" stroke="#c8a870" stroke-width="12"/><path class="s" d="M819 970C818 973 812 989 817 990C821 990 842 975 847 972" stroke="#f0e0b0" stroke-width="12"/><path class="s" d="M714 964C719 969 741 984 744 992C746 999 732 1004 729 1007" stroke="#c8a870" stroke-width="10"/><path class="s" d="M690 842C694 836 706 804 713 806C720 807 728 843 732 851" stroke="#e0cc98" stroke-width="9"/><path class="s" d="M840 962C835 965 816 973 809 978C803 982 804 989 803 992" stroke="#c8a870" stroke-width="6"/><path class="s" d="M768 895C774 889 801 869 805 862C808 855 791 854 789 853" stroke="#f0e0b0" stroke-width="10"/><path class="s" d="M815 771C814 776 811 794 811 798C811 803 814 800 814 800" stroke="#e0cc98" stroke-width="9"/><path class="s" d="M683 845C678 851 651 883 653 879C655 875 689 831 697 821" stroke="#c8a870" stroke-width="10"/><path class="s" d="M833 879C835 873 846 836 847 844C848 852 840 914 838 928" stroke="#f0e0b0" stroke-width="9"/><path class="s" d="M675 918C671 918 647 926 651 923C655 920 691 904 699 900" stroke="#d4b880" stroke-width="7"/><path class="s" d="M781 958C780 960 771 976 772 971C773 966 784 935 787 928" stroke="#e0cc98" stroke-width="7"/><path class="s" d="M789 969C786 971 776 980 773 982C771 985 773 983 773 983" stroke="#d4b880" stroke-width="9"/><path class="s" d="M734 899C731 902 707 925 715 922C722 920 767 890 778 883" stroke="#d4b880" stroke-width="11"/><path class="s" d="M771 859C768 856 747 839 755 839C762 838 805 854 815 857" stroke="#e0cc98" stroke-width="8"/><path class="s" d="M696 772C694 771 680 763 680 765C680 767 695 780 698 784" stroke="#f0e0b0" stroke-width="11"/><path class="s" d="M828 907C832 908 853 904 853 911C852 918 830 943 826 949" stroke="#d4b880" stroke-width="8"/><path class="s" d="M842 856C846 850 861 810 862 818C864 825 853 887 852 901" stroke="#f0e0b0" stroke-width="9"/><path class="s" d="M753 883C754 882 752 877 759 875C766 872 788 871 793 871" stroke="#c8a870" stroke-width="10"/><path class="s" d="M841 840C836 839 805 841 812 836C819 830 870 811 881 807" stroke="#f0e0b0" stroke-width="9"/><path class="s" d="M732 960C737 962 758 979 763 973C767 967 760 931 759 923" stroke="#c8a870" stroke-width="9"/><path class="s" d="M665 888C665 887 671 880 666 882C661 885 640 898 635 902" stroke="#e0cc98" stroke-width="12"/><path class="s" d="M856 791C862 797 902 831 895 824C889 817 828 760 815 747" stroke="#c8a870" stroke-width="9"/><path class="s" d="M718 878C723 878 748 877 748 878C748 880 725 885 720 886" stroke="#e0cc98" stroke-width="10"/><ellipse cx="760" cy="870" rx="26" ry="24" fill="#4a3018"/><ellipse cx="800" cy="930" rx="20" ry="16" fill="#5a3a20"/></g>
</svg>
</div>
<div class="ph" style="left:836px;top:66px;width:315px;height:236px;background:#9a8a7a"><svg viewBox="0 0 1270 951" preserveAspectRatio="none">
<defs><filter id="p2g" x="-30%" y="-30%" width="160%" height="160%"><feGaussianBlur stdDeviation="6"/></filter>
<filter id="p2m" x="-30%" y="-30%" width="160%" height="160%"><feGaussianBlur stdDeviation="10"/></filter>
<filter id="p2s" x="-30%" y="-30%" width="160%" height="160%"><feGaussianBlur stdDeviation="4"/></filter>
<filter id="p2t" x="-30%" y="-30%" width="160%" height="160%"><feGaussianBlur stdDeviation="3"/></filter>
<filter id="p2c" x="-30%" y="-30%" width="160%" height="160%"><feGaussianBlur stdDeviation="5"/></filter>
</defs>
<rect width="1270" height="951" fill="#4a3a30"/>
<g filter="url(#p2t)"><polygon points="-64,-47 -36,-50 -15,-37 -13,-23 -29,-3 -47,-3 -70,-7 -77,-37" fill="#c8bca0"/><polygon points="11,-52 45,-55 62,-37 52,-13 38,-4 4,-15 -1,-35" fill="#6e5648"/><polygon points="52,-35 68,-57 99,-69 137,-60 154,-45 139,-23 101,-6 86,-16" fill="#c8bca0"/><polygon points="186,-52 196,-32 187,-13 173,-10 149,-17 142,-39 147,-51 169,-63" fill="#e0d8c0"/><polygon points="230,-27 214,-3 173,-1 158,-51 183,-76 224,-63" fill="#c2b698"/><polygon points="215,-25 207,-42 218,-60 252,-61 291,-47 292,-27 274,-17 233,-12" fill="#d8d0b4"/><polygon points="327,-66 374,-57 398,-34 382,-22 350,-8 322,-18 311,-43" fill="#c2b698"/><polygon points="399,2 380,5 346,-23 352,-60 379,-77 404,-75 429,-50 423,-29" fill="#7a6054"/><polygon points="477,-22 446,-2 412,-12 407,-41 417,-57 463,-53" fill="#cfc6a8"/><polygon points="523,-6 496,2 473,0 449,-37 471,-60 487,-65 518,-45" fill="#c8bca0"/><polygon points="555,-19 563,-31 586,-41 604,-32 618,-8 609,3 582,10 560,-1" fill="#c8bca0"/><polygon points="554,-28 583,-56 616,-57 646,-38 637,-13 610,-4 583,-1" fill="#7a6054"/><polygon points="701,9 667,-4 651,-33 683,-59 720,-41 721,-19" fill="#cfc6a8"/><polygon points="794,-60 794,-29 772,-6 743,-7 730,-24 730,-52 740,-69 769,-70" fill="#e0d8c0"/><polygon points="791,19 757,-21 782,-46 835,-38 858,-22 839,14" fill="#c2b698"/><polygon points="906,-22 861,-16 833,-25 827,-46 848,-71 869,-72 897,-66 907,-40" fill="#d8d0b4"/><polygon points="984,-22 979,6 964,15 929,11 913,-3 909,-20 940,-35 963,-36" fill="#6e5648"/><polygon points="1042,-37 1042,-13 1020,17 997,22 953,6 946,-12 974,-54 1015,-51" fill="#7a6054"/><polygon points="1062,-55 1103,-31 1110,-12 1071,13 1026,18 1006,-11 1017,-36" fill="#d8d0b4"/><polygon points="1154,-53 1149,-28 1131,-16 1101,-17 1087,-33 1101,-59 1129,-69" fill="#6e5648"/><polygon points="1196,13 1164,16 1140,1 1147,-34 1156,-49 1189,-51 1213,-32 1206,-1" fill="#d8d0b4"/><polygon points="1243,-52 1265,-47 1278,-28 1275,-8 1246,5 1227,-7 1217,-35" fill="#cfc6a8"/><polygon points="1254,10 1220,-24 1232,-47 1271,-59 1328,-40 1329,-17 1302,9" fill="#c8bca0"/><polygon points="17,-6 34,19 23,46 -23,51 -42,29 -25,-1" fill="#c8bca0"/><polygon points="19,7 57,1 66,21 61,56 42,61 15,51 15,20" fill="#cfc6a8"/><polygon points="128,61 80,48 84,22 110,-13 147,-10 177,5 176,37" fill="#9c8878"/><polygon points="212,43 191,73 151,72 113,35 149,3 202,6" fill="#9c8878"/><polygon points="201,-7 217,-9 244,-6 258,10 259,32 235,45 202,39 183,19" fill="#c8bca0"/><polygon points="342,-12 351,14 344,32 329,38 306,27 292,8 299,-10 317,-17" fill="#c2b698"/><polygon points="335,12 354,-7 390,-10 407,0 418,25 397,46 365,48 344,34" fill="#8a7264"/><polygon points="435,48 402,43 383,26 394,-5 411,-12 442,-10 461,13 455,28" fill="#8a7264"/><polygon points="506,14 482,43 447,46 430,-1 467,-26 501,-16" fill="#cfc6a8"/><polygon points="612,25 603,45 573,62 531,55 514,38 537,7 564,5" fill="#c8bca0"/><polygon points="635,-5 634,24 593,32 573,27 554,-1 566,-29 623,-34" fill="#d8d0b4"/><polygon points="667,-26 687,4 681,19 657,37 641,35 619,21 631,-17 646,-25" fill="#8a7264"/><polygon points="714,-20 740,4 736,32 695,39 657,33 653,-3 681,-21" fill="#c8bca0"/><polygon points="762,53 736,41 731,1 747,-4 784,-10 812,9 801,35" fill="#b8a890"/><polygon points="855,45 832,61 815,64 774,54 765,19 800,5 835,1 855,18" fill="#cfc6a8"/><polygon points="916,61 890,56 863,29 883,8 923,13 942,29" fill="#cfc6a8"/><polygon points="1002,0 1013,22 1003,35 967,54 948,43 944,20 955,-8 980,-7" fill="#d8d0b4"/><polygon points="1004,5 1018,-27 1053,-23 1076,-13 1082,11 1067,36 1028,31" fill="#7a6054"/><polygon points="1076,66 1039,62 1027,39 1033,6 1069,-8 1098,3 1096,47" fill="#7a6054"/><polygon points="1123,39 1124,21 1145,5 1168,4 1202,21 1193,42 1169,60 1134,60" fill="#d8d0b4"/><polygon points="1160,5 1162,-16 1191,-17 1226,-14 1244,-1 1224,27 1194,29 1169,19" fill="#cfc6a8"/><polygon points="1207,12 1214,0 1240,-10 1268,15 1275,35 1257,61 1233,60 1213,48" fill="#6e5648"/><polygon points="1272,35 1261,-6 1301,-32 1330,-29 1332,24 1310,39" fill="#9c8878"/><polygon points="-4,88 -34,85 -56,52 -38,37 -9,25 22,44 17,76" fill="#6e5648"/><polygon points="63,49 63,73 54,86 24,92 -5,82 -11,61 0,45 37,33" fill="#cfc6a8"/><polygon points="80,54 101,28 149,40 149,75 127,101 73,91" fill="#e0d8c0"/><polygon points="116,42 144,24 163,35 175,48 176,67 150,77 121,73 115,55" fill="#cfc6a8"/><polygon points="223,71 186,72 170,63 176,42 210,32 238,40 251,61" fill="#d8d0b4"/><polygon points="220,56 263,53 275,78 267,117 236,116 214,92" fill="#c2b698"/><polygon points="314,99 286,69 295,43 335,22 368,62 342,93" fill="#e0d8c0"/><polygon points="375,85 381,52 422,52 449,75 437,101 398,101" fill="#d8d0b4"/><polygon points="502,69 503,95 470,114 443,106 435,66 465,55" fill="#e0d8c0"/><polygon points="507,29 537,31 568,55 553,83 528,90 480,71 475,51" fill="#d0c8b0"/><polygon points="576,52 603,84 570,103 514,98 487,79 530,50" fill="#e0d8c0"/><polygon points="635,84 627,99 611,106 587,101 577,81 589,60 618,62" fill="#d8d0b4"/><polygon points="703,109 671,79 683,46 735,46 765,77 744,108" fill="#b8a890"/><polygon points="676,75 706,47 746,49 772,63 773,88 747,105 688,102" fill="#9c8878"/><polygon points="822,112 785,101 779,75 795,62 818,51 849,66 855,84 845,106" fill="#7a6054"/><polygon points="833,37 887,24 912,52 912,75 871,88 831,73" fill="#8a7264"/><polygon points="945,36 946,62 910,79 889,68 894,35 916,31" fill="#d0c8b0"/><polygon points="938,68 974,59 1026,70 1024,86 1009,108 987,113 945,108 938,81" fill="#c2b698"/><polygon points="1052,72 1055,95 1038,108 1018,115 994,87 996,73 1014,55 1037,55" fill="#6e5648"/><polygon points="1100,42 1148,43 1159,61 1143,89 1102,101 1075,72" fill="#c8bca0"/><polygon points="1162,58 1185,55 1208,80 1201,101 1163,112 1147,98 1139,83" fill="#d0c8b0"/><polygon points="1263,45 1283,81 1264,88 1223,96 1196,87 1197,61 1214,45 1234,41" fill="#d8d0b4"/><polygon points="1259,55 1283,20 1305,11 1340,41 1334,65 1306,92 1280,84" fill="#6e5648"/><polygon points="19,135 -4,131 -13,108 0,78 22,79 37,82 51,109 39,128" fill="#9c8878"/><polygon points="68,120 80,142 67,163 33,161 18,159 6,130 21,119 58,114" fill="#d0c8b0"/><polygon points="91,152 86,132 113,114 144,120 159,134 148,152 116,163" fill="#cfc6a8"/><polygon points="124,127 134,113 174,117 195,128 184,153 170,163 142,165 132,153" fill="#c8bca0"/><polygon points="261,101 261,123 230,147 210,142 185,116 227,90" fill="#9c8878"/><polygon points="253,155 245,135 268,108 314,112 327,129 311,156" fill="#c8bca0"/><polygon points="356,90 377,87 404,106 402,127 374,139 343,129 340,116" fill="#9c8878"/><polygon points="437,165 415,167 395,148 405,116 437,114 454,133" fill="#d0c8b0"/><polygon points="503,142 474,152 445,143 424,125 438,99 472,86 499,92 512,125" fill="#c2b698"/><polygon points="549,141 525,129 513,103 548,85 571,90 573,126" fill="#b8a890"/><polygon points="591,96 631,100 653,106 647,133 621,151 589,148 568,137 565,107" fill="#9c8878"/><polygon points="675,95 707,108 714,148 677,171 648,158 648,117" fill="#b8a890"/><polygon points="691,113 708,92 732,86 763,96 781,132 760,150 740,152 694,140" fill="#7a6054"/><polygon points="800,129 770,134 740,112 736,82 786,63 814,86 823,104" fill="#d0c8b0"/><polygon points="810,99 865,102 886,129 854,156 820,156 803,133" fill="#b8a890"/><polygon points="922,113 928,135 918,155 899,155 877,142 886,114 902,105" fill="#6e5648"/><polygon points="915,111 932,104 964,113 969,136 952,162 919,165 909,143" fill="#d8d0b4"/><polygon points="993,143 964,114 990,89 1022,77 1061,97 1056,115 1040,142" fill="#c2b698"/><polygon points="1032,106 1063,82 1092,77 1138,99 1122,133 1087,146 1056,138" fill="#c2b698"/><polygon points="1161,136 1149,159 1138,158 1115,160 1103,137 1111,124 1122,115 1149,119" fill="#d8d0b4"/><polygon points="1144,157 1138,123 1152,98 1187,89 1221,111 1214,154 1180,170" fill="#c2b698"/><polygon points="1211,148 1189,126 1210,116 1249,106 1273,123 1278,140 1250,152" fill="#e0d8c0"/><polygon points="1309,129 1304,113 1339,103 1365,103 1376,126 1363,142 1324,147" fill="#8a7264"/><polygon points="-27,202 -67,191 -83,177 -63,155 -23,148 -8,158 -2,193" fill="#7a6054"/><polygon points="35,157 74,164 93,181 76,213 57,219 9,210 -7,196 1,169" fill="#cfc6a8"/><polygon points="64,167 83,153 99,161 111,184 101,208 75,214 50,192" fill="#7a6054"/><polygon points="170,203 132,193 134,157 157,134 192,143 206,167 201,188" fill="#8a7264"/><polygon points="215,137 227,150 224,172 185,188 157,174 153,156 177,129" fill="#c2b698"/><polygon points="286,153 316,170 301,190 278,196 253,195 237,168 260,152" fill="#d0c8b0"/><polygon points="309,164 326,134 348,120 369,139 376,180 349,197 323,178" fill="#7a6054"/><polygon points="377,128 401,122 421,136 416,165 390,183 368,176 357,143" fill="#c2b698"/><polygon points="432,127 470,142 480,171 461,188 426,189 386,176 391,149" fill="#8a7264"/><polygon points="540,149 554,180 543,200 496,204 474,198 467,176 481,149 521,141" fill="#8a7264"/><polygon points="582,153 609,159 615,193 598,213 575,206 560,187 562,172" fill="#9c8878"/><polygon points="616,134 645,157 632,196 593,198 577,166 588,148" fill="#d8d0b4"/><polygon points="716,148 718,179 687,193 656,188 648,156 660,142" fill="#d8d0b4"/><polygon points="711,174 720,151 736,142 773,145 811,171 797,194 772,200 730,199" fill="#e0d8c0"/><polygon points="830,119 850,155 832,186 794,187 759,167 763,132 782,118" fill="#e0d8c0"/><polygon points="863,197 835,196 814,177 829,152 870,157 876,180" fill="#7a6054"/><polygon points="889,129 910,125 953,129 964,142 959,168 928,179 894,169 874,163" fill="#c2b698"/><polygon points="1009,208 966,212 942,188 947,167 982,153 1009,155 1019,177" fill="#d0c8b0"/><polygon points="1028,180 1040,154 1087,152 1101,166 1091,191 1049,200" fill="#c2b698"/><polygon points="1090,160 1132,159 1140,183 1119,211 1080,206 1071,178" fill="#b8a890"/><polygon points="1157,188 1152,159 1185,135 1232,157 1219,188 1179,200" fill="#cfc6a8"/><polygon points="1191,199 1204,164 1229,155 1256,179 1244,213 1221,219" fill="#6e5648"/><polygon points="1256,167 1269,156 1301,162 1318,182 1307,194 1282,206 1252,198" fill="#7a6054"/><polygon points="-37,262 -52,243 -26,211 23,209 45,231 47,251 17,269" fill="#8a7264"/><polygon points="95,230 96,244 63,255 42,254 21,239 19,224 40,207 81,212" fill="#b8a890"/><polygon points="138,203 169,229 164,257 132,268 102,244 103,218" fill="#7a6054"/><polygon points="159,254 136,250 120,214 149,196 194,210 197,232" fill="#9c8878"/><polygon points="274,255 246,254 220,217 237,194 276,196 293,220" fill="#8a7264"/><polygon points="266,232 266,199 287,189 313,201 318,233 291,246" fill="#cfc6a8"/><polygon points="395,220 375,233 337,222 334,200 361,175 394,184" fill="#e0d8c0"/><polygon points="873,223 865,252 839,259 805,244 790,220 817,187 855,194" fill="#d8d0b4"/><polygon points="872,269 843,247 843,232 874,210 901,212 916,236 899,260" fill="#c2b698"/><polygon points="978,168 992,190 992,220 971,235 947,225 936,202 941,178" fill="#9c8878"/><polygon points="1084,217 1072,241 1034,265 1014,262 997,228 1015,190 1047,187" fill="#d0c8b0"/><polygon points="1039,228 1033,205 1085,191 1123,203 1123,225 1082,247" fill="#9c8878"/><polygon points="1174,257 1134,269 1092,254 1085,230 1136,212 1164,218" fill="#cfc6a8"/><polygon points="1150,202 1194,177 1233,191 1232,224 1196,249 1143,237" fill="#9c8878"/><polygon points="1310,210 1287,228 1243,227 1227,200 1234,185 1279,177 1304,196" fill="#cfc6a8"/><polygon points="1332,187 1340,209 1330,238 1309,243 1287,238 1281,197 1303,180" fill="#7a6054"/><polygon points="6,250 -8,272 -53,281 -62,269 -66,241 -47,219 -12,223" fill="#9c8878"/><polygon points="58,271 36,290 9,291 -14,278 -19,261 -7,240 27,230 53,250" fill="#9c8878"/><polygon points="69,302 55,282 59,255 93,237 113,245 127,262 110,295 85,309" fill="#cfc6a8"/><polygon points="192,295 171,306 138,309 118,283 117,247 146,234 176,247 188,259" fill="#cfc6a8"/><polygon points="262,265 254,278 238,292 213,292 202,287 202,261 219,247 233,249" fill="#9c8878"/><polygon points="294,273 288,285 261,303 237,306 206,285 212,267 242,259 270,259" fill="#d8d0b4"/><polygon points="957,298 924,287 907,279 923,252 949,245 983,256 985,271 979,288" fill="#7a6054"/><polygon points="1013,247 993,276 976,286 937,279 927,250 932,226 961,214 1005,227" fill="#b8a890"/><polygon points="1057,311 1018,296 1015,268 1032,258 1075,255 1102,279 1082,298" fill="#8a7264"/><polygon points="1055,255 1072,231 1131,210 1166,236 1146,272 1080,288" fill="#d8d0b4"/><polygon points="1158,313 1118,296 1127,271 1154,265 1198,266 1215,285 1189,308" fill="#c2b698"/><polygon points="1259,274 1231,294 1197,287 1189,265 1209,248 1248,251" fill="#c2b698"/><polygon points="1260,270 1271,246 1313,247 1334,256 1338,283 1319,297 1287,299 1259,281" fill="#8a7264"/><polygon points="27,364 -3,359 -21,337 -18,322 9,297 41,307 61,327 53,360" fill="#d8d0b4"/><polygon points="33,351 17,340 -1,315 1,306 28,292 61,289 88,320 69,339" fill="#d0c8b0"/><polygon points="164,330 122,352 101,330 92,305 106,280 151,275 168,304" fill="#c2b698"/><polygon points="204,310 211,339 189,364 155,361 129,339 125,314 165,298" fill="#c8bca0"/><polygon points="246,357 227,357 209,336 211,319 231,307 259,309 278,330 282,348" fill="#6e5648"/><polygon points="1018,332 1017,301 1050,282 1068,293 1068,340 1045,354" fill="#c8bca0"/><polygon points="1091,328 1050,332 1033,330 1019,312 1032,292 1064,287 1083,288 1096,308" fill="#e0d8c0"/><polygon points="1195,317 1192,336 1157,354 1134,330 1134,309 1153,283 1172,284" fill="#7a6054"/><polygon points="1189,363 1158,340 1162,316 1184,292 1220,300 1225,335" fill="#b8a890"/><polygon points="1238,347 1247,311 1276,316 1292,331 1285,352 1258,360" fill="#6e5648"/><polygon points="1333,362 1289,356 1278,330 1306,300 1348,297 1363,343" fill="#e0d8c0"/><polygon points="21,349 19,371 -15,386 -38,374 -47,366 -37,334 -14,322 4,332" fill="#d8d0b4"/><polygon points="11,350 60,354 76,369 65,391 23,410 1,393 2,372" fill="#cfc6a8"/><polygon points="65,357 98,351 129,375 109,406 82,405 53,383" fill="#e0d8c0"/><polygon points="210,354 224,379 213,400 185,411 147,418 119,391 132,368 156,346" fill="#c8bca0"/><polygon points="193,343 212,345 240,353 258,372 242,406 209,410 185,390 183,367" fill="#8a7264"/><polygon points="1003,385 996,356 1035,334 1080,353 1095,382 1064,412 1017,412" fill="#c8bca0"/><polygon points="1108,358 1132,373 1130,408 1100,416 1074,411 1067,389 1084,364" fill="#7a6054"/><polygon points="1203,375 1167,391 1132,382 1113,343 1140,325 1182,333" fill="#c8bca0"/><polygon points="1255,323 1271,348 1266,390 1225,405 1193,366 1199,340" fill="#e0d8c0"/><polygon points="1260,390 1256,339 1293,326 1325,346 1338,365 1313,401 1273,404" fill="#9c8878"/><polygon points="-12,403 8,415 17,434 -3,450 -19,450 -36,445 -40,419 -34,412" fill="#c8bca0"/><polygon points="74,396 88,422 65,440 39,447 14,427 19,401 54,390" fill="#d8d0b4"/><polygon points="119,438 93,421 85,397 124,380 160,388 173,419 159,442" fill="#d0c8b0"/><polygon points="190,426 175,448 150,447 127,424 139,395 176,389" fill="#9c8878"/><polygon points="1096,428 1074,423 1065,398 1073,382 1100,375 1118,381 1136,402 1131,419" fill="#e0d8c0"/><polygon points="1183,390 1173,419 1163,429 1136,426 1114,401 1125,370 1143,363 1169,368" fill="#cfc6a8"/><polygon points="1183,467 1152,465 1140,422 1165,403 1196,404 1213,416 1215,456" fill="#d8d0b4"/><polygon points="1240,399 1276,392 1317,415 1315,435 1289,451 1245,441 1233,424" fill="#e0d8c0"/><polygon points="1355,458 1303,477 1269,461 1259,424 1310,398 1341,419" fill="#e0d8c0"/><polygon points="-17,500 -30,508 -63,503 -81,478 -71,468 -50,450 -31,451 -13,477" fill="#6e5648"/><polygon points="-26,453 42,445 60,474 56,500 -13,500 -31,478" fill="#cfc6a8"/><polygon points="77,428 116,436 114,464 86,472 41,461 49,445" fill="#9c8878"/><polygon points="152,492 139,478 146,438 160,428 192,436 198,463 191,488" fill="#c2b698"/><polygon points="230,507 201,518 186,498 194,465 226,457 236,478" fill="#d0c8b0"/><polygon points="1110,513 1081,517 1055,495 1058,480 1078,462 1112,460 1127,471 1126,497" fill="#c8bca0"/><polygon points="1152,496 1119,484 1109,460 1128,433 1163,434 1178,458 1177,476" fill="#cfc6a8"/><polygon points="1252,505 1218,492 1204,476 1222,447 1252,433 1283,461 1285,476" fill="#c2b698"/><polygon points="1332,480 1325,503 1293,507 1276,489 1282,451 1292,434 1321,436" fill="#7a6054"/><polygon points="11,549 -6,557 -31,555 -48,531 -33,522 -6,510 5,518 20,535" fill="#cfc6a8"/><polygon points="8,531 20,493 71,488 81,506 68,544 32,550" fill="#9c8878"/><polygon points="160,545 131,546 117,539 109,517 120,507 144,505 161,515 165,532" fill="#cfc6a8"/><polygon points="205,525 202,537 183,558 160,555 152,539 151,520 167,505 180,505" fill="#e0d8c0"/><polygon points="1130,544 1089,569 1057,551 1060,509 1094,493 1141,512" fill="#6e5648"/><polygon points="1160,494 1164,520 1130,544 1098,527 1095,513 1101,479 1140,477" fill="#d8d0b4"/><polygon points="1180,480 1196,469 1222,479 1238,507 1222,527 1206,532 1171,521 1168,497" fill="#c2b698"/><polygon points="1256,551 1228,543 1226,509 1240,489 1264,481 1298,504 1297,528 1269,546" fill="#c2b698"/><polygon points="1295,523 1284,493 1303,481 1327,474 1350,484 1354,510 1344,524 1326,526" fill="#8a7264"/><polygon points="-21,617 -42,614 -68,574 -59,541 -30,541 7,543 16,584" fill="#d8d0b4"/><polygon points="83,599 66,611 35,609 14,595 18,565 43,559 71,563 95,579" fill="#7a6054"/><polygon points="55,575 66,548 99,537 147,559 126,581 85,588" fill="#7a6054"/><polygon points="120,542 162,554 177,606 155,620 88,622 71,604 84,553" fill="#cfc6a8"/><polygon points="187,527 228,539 248,551 237,579 193,585 168,575 155,548" fill="#e0d8c0"/><polygon points="1017,567 1040,547 1062,535 1098,558 1103,578 1079,604 1049,608 1021,584" fill="#cfc6a8"/><polygon points="1123,568 1111,591 1079,598 1064,579 1072,548 1101,545" fill="#7a6054"/><polygon points="1173,540 1183,571 1177,601 1139,600 1119,577 1124,548 1151,530" fill="#b8a890"/><polygon points="1216,574 1216,542 1242,530 1275,534 1284,553 1270,586 1250,584" fill="#e0d8c0"/><polygon points="1267,562 1301,543 1333,565 1340,604 1291,618 1261,598" fill="#d8d0b4"/><polygon points="13,603 28,630 -9,643 -42,635 -56,610 -8,592" fill="#6e5648"/><polygon points="50,581 77,587 90,618 80,636 40,634 26,604" fill="#d0c8b0"/><polygon points="146,629 91,641 63,625 61,596 95,582 138,587 155,607" fill="#c2b698"/><polygon points="161,572 201,578 219,617 188,640 135,638 113,614 129,577" fill="#9c8878"/><polygon points="190,661 190,645 200,611 238,596 252,606 271,624 263,651 227,672" fill="#8a7264"/><polygon points="1072,595 1106,620 1107,657 1052,670 1014,633 1025,611" fill="#9c8878"/><polygon points="1104,624 1094,602 1119,583 1138,579 1154,606 1149,619 1119,629" fill="#6e5648"/><polygon points="1253,613 1223,634 1201,627 1180,600 1183,580 1224,573 1254,586" fill="#e0d8c0"/><polygon points="1302,665 1270,671 1243,641 1264,602 1285,586 1311,615" fill="#c2b698"/><polygon points="1340,665 1311,660 1295,648 1293,614 1323,600 1354,602 1379,618 1383,648" fill="#cfc6a8"/><polygon points="-42,674 -31,650 3,648 22,671 5,696 -17,697" fill="#d0c8b0"/><polygon points="32,640 66,647 81,685 72,706 46,721 8,697 4,661" fill="#c8bca0"/><polygon points="22,641 57,617 96,619 116,658 84,687 44,682" fill="#8a7264"/><polygon points="143,632 157,643 176,677 165,706 137,703 121,697 105,682 113,649" fill="#c8bca0"/><polygon points="175,707 173,691 179,667 212,660 232,667 235,697 229,713 204,721" fill="#8a7264"/><polygon points="225,648 249,628 282,622 302,641 302,663 282,674 242,672" fill="#c8bca0"/><polygon points="983,671 975,644 989,627 1022,625 1034,641 1034,672 1020,683 999,681" fill="#d8d0b4"/><polygon points="1067,686 1051,702 1019,706 1006,689 996,672 1014,650 1042,644 1064,660" fill="#b8a890"/><polygon points="1105,716 1091,682 1092,666 1110,650 1140,650 1153,671 1147,705 1122,716" fill="#cfc6a8"/><polygon points="1189,706 1157,693 1160,667 1199,658 1218,675 1210,699" fill="#e0d8c0"/><polygon points="1215,637 1241,664 1236,699 1186,713 1170,685 1182,649" fill="#6e5648"/><polygon points="1245,671 1282,645 1304,651 1323,684 1299,697 1262,692" fill="#c2b698"/><polygon points="-22,699 16,717 16,732 6,750 -27,759 -54,744 -53,730 -45,707" fill="#d0c8b0"/><polygon points="44,683 71,685 93,702 70,721 37,720 21,700" fill="#8a7264"/><polygon points="72,721 101,701 133,696 152,722 150,747 111,769 83,756" fill="#b8a890"/><polygon points="207,697 226,718 222,744 179,758 151,742 155,702" fill="#b8a890"/><polygon points="194,687 235,675 257,699 254,731 206,734 178,707" fill="#7a6054"/><polygon points="322,727 311,761 273,765 253,766 236,732 249,689 273,692 305,688" fill="#8a7264"/><polygon points="321,704 363,699 389,713 389,732 370,745 341,742 318,732" fill="#cfc6a8"/><polygon points="981,742 951,755 922,761 891,738 891,716 909,696 963,689 981,712" fill="#d8d0b4"/><polygon points="1001,684 1033,696 1043,715 1028,730 1002,739 993,730 970,709 978,694" fill="#d0c8b0"/><polygon points="1107,734 1074,759 1046,751 1007,725 1020,703 1050,676 1078,680 1116,708" fill="#b8a890"/><polygon points="1168,732 1138,744 1103,733 1096,714 1099,694 1130,681 1160,689 1176,717" fill="#7a6054"/><polygon points="1225,678 1246,719 1197,736 1157,732 1140,695 1185,669" fill="#6e5648"/><polygon points="1305,693 1315,727 1308,754 1253,761 1217,749 1216,716 1263,688" fill="#c2b698"/><polygon points="1292,744 1287,717 1311,698 1340,701 1371,724 1359,745 1323,750" fill="#b8a890"/><polygon points="-34,737 1,746 9,779 -23,799 -47,793 -65,765" fill="#7a6054"/><polygon points="68,761 39,787 16,786 -14,752 13,733 59,733" fill="#d0c8b0"/><polygon points="73,804 39,786 42,772 75,752 115,759 125,780 111,794" fill="#8a7264"/><polygon points="189,771 193,789 165,815 119,813 114,792 117,763 158,752" fill="#c8bca0"/><polygon points="186,770 208,759 239,766 237,791 213,807 186,791" fill="#7a6054"/><polygon points="248,798 253,771 298,756 332,767 322,804 276,816" fill="#d8d0b4"/><polygon points="314,752 334,749 370,755 368,779 357,796 331,803 297,788 282,767" fill="#cfc6a8"/><polygon points="422,738 437,752 440,768 423,784 393,785 375,763 391,743" fill="#cfc6a8"/><polygon points="434,732 463,712 486,722 503,752 490,783 454,794 431,774" fill="#d0c8b0"/><polygon points="515,738 540,745 546,774 533,787 496,789 477,783 468,756 474,742" fill="#7a6054"/><polygon points="711,761 765,765 775,789 748,810 711,805 686,792" fill="#e0d8c0"/><polygon points="813,797 782,799 764,797 750,770 766,746 781,742 819,754 822,774" fill="#cfc6a8"/><polygon points="909,741 910,771 881,779 838,766 844,743 887,732" fill="#6e5648"/><polygon points="949,788 922,810 899,803 889,768 909,745 945,755" fill="#c2b698"/><polygon points="951,781 950,763 981,747 1017,751 1020,768 1013,787 983,794" fill="#b8a890"/><polygon points="1040,737 1064,734 1097,750 1079,779 1043,783 1021,763" fill="#c8bca0"/><polygon points="1112,772 1071,767 1060,749 1092,721 1121,728 1146,751 1136,770" fill="#c2b698"/><polygon points="1213,774 1189,788 1149,770 1150,737 1181,728 1211,741" fill="#b8a890"/><polygon points="1223,780 1194,778 1182,762 1206,739 1231,736 1251,753 1246,769" fill="#8a7264"/><polygon points="1254,763 1261,738 1279,731 1302,747 1309,778 1296,793 1274,796" fill="#7a6054"/><polygon points="46,839 32,863 -6,861 -26,830 0,818 29,815" fill="#c2b698"/><polygon points="34,844 23,818 50,792 73,805 81,826 59,851" fill="#9c8878"/><polygon points="138,852 126,863 88,861 66,853 76,827 82,817 104,814 134,822" fill="#8a7264"/><polygon points="209,838 197,858 147,858 130,836 134,810 162,802 195,811" fill="#d0c8b0"/><polygon points="254,800 272,798 290,821 279,855 255,862 229,840 225,821" fill="#9c8878"/><polygon points="283,778 333,795 323,815 270,835 243,814 237,790" fill="#6e5648"/><polygon points="389,798 407,821 388,848 360,844 343,826 358,796" fill="#e0d8c0"/><polygon points="413,791 441,794 453,821 444,839 420,849 388,841 389,812" fill="#8a7264"/><polygon points="464,833 426,826 425,815 446,794 466,794 493,810 489,824" fill="#d8d0b4"/><polygon points="553,861 516,846 504,812 549,785 580,796 593,836" fill="#d0c8b0"/><polygon points="625,799 644,815 640,852 630,866 606,871 596,860 587,832 608,810" fill="#6e5648"/><polygon points="627,807 639,784 667,771 690,796 693,818 664,834 640,830" fill="#d0c8b0"/><polygon points="719,797 760,789 795,823 778,861 735,868 712,863 692,823" fill="#cfc6a8"/><polygon points="824,788 830,812 812,841 778,842 752,815 763,792 797,778" fill="#e0d8c0"/><polygon points="846,840 813,829 803,805 829,777 865,783 874,815" fill="#8a7264"/><polygon points="932,812 934,838 919,854 888,853 867,846 875,817 884,800 905,801" fill="#d8d0b4"/><polygon points="971,804 1007,811 1011,834 1010,862 978,873 946,865 945,846 947,818" fill="#c2b698"/><polygon points="973,804 976,788 1003,782 1031,799 1035,814 1008,838 985,828" fill="#6e5648"/><polygon points="1029,781 1049,774 1090,775 1106,802 1083,830 1049,845 1029,816" fill="#c8bca0"/><polygon points="1147,778 1174,794 1181,815 1169,825 1139,834 1128,827 1119,809 1129,787" fill="#7a6054"/><polygon points="1160,823 1175,807 1221,802 1242,827 1218,857 1180,851" fill="#d8d0b4"/><polygon points="1221,835 1256,813 1279,820 1294,841 1261,861 1238,859" fill="#d8d0b4"/><polygon points="1340,830 1310,824 1302,804 1314,789 1334,781 1355,791 1371,805 1359,825" fill="#c2b698"/><polygon points="-21,861 10,867 20,892 1,909 -35,915 -55,886" fill="#e0d8c0"/><polygon points="4,888 16,852 34,841 65,844 74,866 79,891 51,911 16,903" fill="#c2b698"/><polygon points="151,858 149,881 125,902 95,905 78,896 68,870 89,850 125,847" fill="#c8bca0"/><polygon points="105,878 133,857 165,862 179,898 146,919 119,913" fill="#8a7264"/><polygon points="161,864 194,845 218,855 229,892 208,903 180,907 158,891" fill="#8a7264"/><polygon points="280,877 242,865 233,836 300,817 330,831 337,869" fill="#c8bca0"/><polygon points="298,851 337,851 364,867 342,889 313,897 275,882" fill="#cfc6a8"/><polygon points="330,860 338,835 383,824 401,839 414,871 398,881 367,898 340,880" fill="#7a6054"/><polygon points="443,827 495,844 509,876 469,896 419,890 419,845" fill="#6e5648"/><polygon points="467,874 495,863 520,864 548,887 538,897 512,914 486,910 462,890" fill="#cfc6a8"/><polygon points="592,846 603,868 578,884 541,883 520,874 527,853 558,835" fill="#c2b698"/><polygon points="611,909 595,893 596,866 620,861 650,863 661,889 652,904 627,919" fill="#8a7264"/><polygon points="684,906 650,907 647,872 668,852 697,871 697,894" fill="#8a7264"/><polygon points="722,882 721,859 749,838 779,865 775,885 752,909" fill="#8a7264"/><polygon points="784,909 759,887 764,866 783,861 813,863 829,883 801,906" fill="#d8d0b4"/><polygon points="860,870 866,836 896,830 922,845 918,877 892,887" fill="#d8d0b4"/><polygon points="947,885 923,898 876,876 879,839 900,829 939,821 955,847" fill="#d0c8b0"/><polygon points="1002,835 1021,858 1025,879 1002,895 975,899 957,874 951,856 983,833" fill="#9c8878"/><polygon points="1118,878 1088,898 1046,890 1021,874 1035,860 1056,841 1094,847 1121,862" fill="#c2b698"/><polygon points="1110,895 1086,901 1061,894 1054,881 1066,860 1087,851 1116,860 1121,875" fill="#c8bca0"/><polygon points="1176,852 1165,872 1133,880 1118,847 1126,827 1161,826" fill="#d8d0b4"/><polygon points="1277,858 1282,901 1243,922 1204,902 1201,869 1241,849" fill="#cfc6a8"/><polygon points="1250,834 1284,812 1318,823 1348,846 1334,877 1277,888 1230,861" fill="#cfc6a8"/><polygon points="0,965 -19,948 -31,926 -3,907 30,919 29,950" fill="#d8d0b4"/><polygon points="30,939 15,910 19,887 44,881 74,894 80,927 49,943" fill="#8a7264"/><polygon points="156,938 126,945 99,941 85,914 97,894 139,878 162,892 171,907" fill="#d8d0b4"/><polygon points="168,919 197,903 224,913 238,934 220,950 179,957 158,941" fill="#9c8878"/><polygon points="245,950 211,945 198,916 229,901 269,910 274,927" fill="#c2b698"/><polygon points="334,918 310,933 286,937 253,926 246,914 261,892 292,878 326,895" fill="#e0d8c0"/><polygon points="375,909 392,931 390,956 373,968 337,965 325,950 335,921 341,911" fill="#c2b698"/><polygon points="411,935 377,920 383,896 423,883 466,905 444,932" fill="#7a6054"/><polygon points="453,930 453,902 465,894 499,894 532,908 526,925 512,944 464,941" fill="#7a6054"/><polygon points="508,934 501,902 520,887 541,885 574,900 577,918 558,946 541,942" fill="#cfc6a8"/><polygon points="567,913 623,916 649,929 633,962 585,961 549,940" fill="#cfc6a8"/><polygon points="640,913 671,893 712,923 715,946 684,985 652,973 640,934" fill="#7a6054"/><polygon points="737,928 700,929 685,902 698,871 741,876 760,894" fill="#6e5648"/><polygon points="817,900 815,924 786,943 766,934 751,903 788,890" fill="#8a7264"/><polygon points="817,884 861,884 874,911 863,928 830,929 812,912" fill="#8a7264"/><polygon points="899,964 852,951 844,935 846,915 865,899 905,899 923,921 922,948" fill="#8a7264"/><polygon points="1009,947 993,960 963,952 942,934 954,909 966,898 990,899 1008,917" fill="#7a6054"/><polygon points="984,888 1022,899 1038,921 1023,937 968,935 956,918" fill="#6e5648"/><polygon points="1094,890 1107,918 1100,930 1064,940 1049,934 1038,916 1042,895 1075,884" fill="#9c8878"/><polygon points="1173,955 1145,970 1113,955 1114,913 1143,892 1174,902 1177,930" fill="#6e5648"/><polygon points="1219,921 1193,942 1170,936 1157,903 1191,877 1214,887" fill="#d0c8b0"/><polygon points="1236,947 1219,923 1227,884 1265,877 1293,887 1315,915 1292,941 1262,951" fill="#cfc6a8"/><polygon points="1339,961 1303,948 1284,925 1305,910 1355,907 1382,927 1370,947" fill="#6e5648"/><polygon points="-3,957 -7,997 -25,1003 -48,986 -49,949 -18,939" fill="#c8bca0"/><polygon points="-21,999 -39,975 -29,945 19,940 50,951 50,975 33,1003" fill="#8a7264"/><polygon points="47,943 83,924 122,922 138,928 148,961 114,977 81,975 60,961" fill="#6e5648"/><polygon points="155,976 125,974 101,950 114,937 155,934 169,946" fill="#8a7264"/><polygon points="163,948 198,944 231,966 230,995 208,1006 167,1005 147,975" fill="#d0c8b0"/><polygon points="240,958 256,943 294,946 310,955 315,988 298,999 259,1006 237,983" fill="#8a7264"/><polygon points="336,941 363,940 388,974 370,1010 334,1010 316,976" fill="#c8bca0"/><polygon points="413,1003 373,989 380,972 393,964 422,961 445,976 432,1000" fill="#8a7264"/><polygon points="426,943 474,944 497,960 500,984 474,999 447,996 416,979 407,960" fill="#7a6054"/><polygon points="461,953 503,925 539,948 537,982 497,993 464,992" fill="#d8d0b4"/><polygon points="560,976 512,970 506,949 534,922 573,921 598,940 590,972" fill="#cfc6a8"/><polygon points="665,943 674,950 687,970 680,988 655,995 632,990 618,973 627,950" fill="#9c8878"/><polygon points="668,983 660,958 684,925 708,922 729,950 702,991" fill="#c8bca0"/><polygon points="740,939 769,929 797,947 801,962 771,984 749,982 723,962" fill="#b8a890"/><polygon points="825,1007 780,1004 770,984 769,941 787,925 831,925 854,973" fill="#cfc6a8"/><polygon points="898,983 867,998 836,993 814,970 835,942 878,945 895,959" fill="#e0d8c0"/><polygon points="977,934 984,960 961,988 936,987 913,976 917,940 960,924" fill="#d8d0b4"/><polygon points="981,995 956,978 978,958 1023,959 1033,978 1005,993" fill="#6e5648"/><polygon points="1106,990 1061,999 1028,970 1035,946 1094,944 1112,958" fill="#9c8878"/><polygon points="1151,998 1129,999 1103,992 1096,969 1116,951 1148,955 1163,977" fill="#cfc6a8"/><polygon points="1177,915 1220,936 1220,970 1166,996 1120,980 1122,947 1144,917" fill="#d0c8b0"/><polygon points="1272,942 1262,974 1229,988 1186,966 1187,944 1216,920 1259,930" fill="#c8bca0"/><polygon points="1269,930 1311,944 1305,973 1279,977 1238,966 1235,945" fill="#7a6054"/><g fill="#f4eee0" opacity="0.35"><ellipse cx="-53" cy="-32" rx="12" ry="7"/><ellipse cx="23" cy="-37" rx="14" ry="6"/><ellipse cx="92" cy="-47" rx="19" ry="8"/><ellipse cx="161" cy="-42" rx="12" ry="7"/><ellipse cx="186" cy="-48" rx="15" ry="10"/><ellipse cx="236" cy="-46" rx="18" ry="7"/><ellipse cx="342" cy="-44" rx="16" ry="8"/><ellipse cx="379" cy="-50" rx="16" ry="11"/><ellipse cx="428" cy="-38" rx="16" ry="7"/><ellipse cx="480" cy="-41" rx="15" ry="10"/><ellipse cx="579" cy="-20" rx="13" ry="6"/><ellipse cx="595" cy="-36" rx="19" ry="7"/><ellipse cx="681" cy="-33" rx="15" ry="8"/><ellipse cx="753" cy="-45" rx="15" ry="9"/><ellipse cx="797" cy="-25" rx="19" ry="8"/><ellipse cx="861" cy="-52" rx="16" ry="8"/><ellipse cx="939" cy="-19" rx="15" ry="7"/><ellipse cx="987" cy="-25" rx="20" ry="10"/><ellipse cx="1042" cy="-25" rx="20" ry="9"/><ellipse cx="1115" cy="-51" rx="13" ry="8"/><ellipse cx="1170" cy="-27" rx="15" ry="9"/><ellipse cx="1243" cy="-32" rx="13" ry="8"/><ellipse cx="1265" cy="-34" rx="21" ry="10"/><ellipse cx="-14" cy="14" rx="15" ry="9"/><ellipse cx="31" cy="22" rx="12" ry="8"/><ellipse cx="117" cy="11" rx="21" ry="11"/><ellipse cx="157" cy="28" rx="20" ry="10"/><ellipse cx="217" cy="8" rx="16" ry="7"/><ellipse cx="315" cy="2" rx="13" ry="7"/><ellipse cx="365" cy="12" rx="17" ry="7"/><ellipse cx="414" cy="6" rx="14" ry="9"/><ellipse cx="461" cy="2" rx="17" ry="9"/><ellipse cx="550" cy="25" rx="19" ry="9"/><ellipse cx="586" cy="-9" rx="18" ry="10"/><ellipse cx="647" cy="-2" rx="14" ry="9"/><ellipse cx="686" cy="0" rx="20" ry="9"/><ellipse cx="758" cy="11" rx="18" ry="8"/><ellipse cx="806" cy="22" rx="19" ry="9"/><ellipse cx="894" cy="23" rx="14" ry="7"/><ellipse cx="968" cy="11" rx="14" ry="8"/><ellipse cx="1033" cy="-4" rx="17" ry="8"/><ellipse cx="1054" cy="16" rx="15" ry="10"/><ellipse cx="1148" cy="23" rx="17" ry="8"/><ellipse cx="1188" cy="-3" rx="17" ry="7"/><ellipse cx="1234" cy="17" rx="13" ry="9"/><ellipse cx="1292" cy="-7" rx="16" ry="10"/><ellipse cx="-25" cy="50" rx="16" ry="8"/><ellipse cx="20" cy="55" rx="17" ry="8"/><ellipse cx="102" cy="57" rx="17" ry="10"/><ellipse cx="137" cy="46" rx="13" ry="7"/><ellipse cx="201" cy="46" rx="15" ry="6"/><ellipse cx="239" cy="73" rx="13" ry="10"/><ellipse cx="315" cy="51" rx="16" ry="10"/><ellipse cx="402" cy="69" rx="16" ry="7"/><ellipse cx="462" cy="75" rx="16" ry="8"/><ellipse cx="508" cy="50" rx="19" ry="8"/><ellipse cx="534" cy="71" rx="21" ry="8"/><ellipse cx="600" cy="77" rx="12" ry="7"/><ellipse cx="703" cy="68" rx="18" ry="9"/><ellipse cx="718" cy="67" rx="20" ry="8"/><ellipse cx="810" cy="75" rx="16" ry="9"/><ellipse cx="862" cy="49" rx="17" ry="8"/><ellipse cx="911" cy="46" rx="14" ry="6"/><ellipse cx="967" cy="79" rx="19" ry="8"/><ellipse cx="1019" cy="74" rx="12" ry="8"/><ellipse cx="1106" cy="61" rx="19" ry="8"/><ellipse cx="1162" cy="75" rx="14" ry="7"/><ellipse cx="1227" cy="60" rx="17" ry="9"/><ellipse cx="1290" cy="43" rx="16" ry="10"/><ellipse cx="10" cy="98" rx="13" ry="8"/><ellipse cx="36" cy="131" rx="15" ry="7"/><ellipse cx="113" cy="132" rx="18" ry="6"/><ellipse cx="150" cy="130" rx="14" ry="8"/><ellipse cx="219" cy="111" rx="15" ry="8"/><ellipse cx="276" cy="122" rx="17" ry="8"/><ellipse cx="366" cy="105" rx="14" ry="7"/><ellipse cx="414" cy="129" rx="12" ry="8"/><ellipse cx="460" cy="108" rx="18" ry="9"/><ellipse cx="538" cy="102" rx="13" ry="7"/><ellipse cx="599" cy="115" rx="18" ry="7"/><ellipse cx="668" cy="123" rx="16" ry="10"/><ellipse cx="725" cy="108" rx="18" ry="10"/><ellipse cx="770" cy="93" rx="19" ry="9"/><ellipse cx="830" cy="117" rx="16" ry="8"/><ellipse cx="897" cy="125" rx="11" ry="6"/><ellipse cx="928" cy="123" rx="13" ry="9"/><ellipse cx="1006" cy="102" rx="19" ry="9"/><ellipse cx="1072" cy="103" rx="21" ry="9"/><ellipse cx="1124" cy="131" rx="11" ry="6"/><ellipse cx="1171" cy="120" rx="18" ry="10"/><ellipse cx="1227" cy="125" rx="18" ry="6"/><ellipse cx="1332" cy="117" rx="16" ry="6"/><ellipse cx="-48" cy="165" rx="16" ry="7"/><ellipse cx="37" cy="179" rx="21" ry="8"/><ellipse cx="77" cy="176" rx="12" ry="8"/><ellipse cx="159" cy="160" rx="17" ry="9"/><ellipse cx="182" cy="151" rx="17" ry="7"/><ellipse cx="266" cy="170" rx="15" ry="6"/><ellipse cx="338" cy="148" rx="13" ry="9"/><ellipse cx="382" cy="144" rx="14" ry="7"/><ellipse cx="425" cy="153" rx="20" ry="8"/><ellipse cx="501" cy="163" rx="19" ry="9"/><ellipse cx="582" cy="177" rx="11" ry="7"/><ellipse cx="604" cy="156" rx="13" ry="9"/><ellipse cx="670" cy="160" rx="17" ry="7"/><ellipse cx="747" cy="164" rx="19" ry="8"/><ellipse cx="796" cy="143" rx="19" ry="9"/><ellipse cx="840" cy="169" rx="13" ry="6"/><ellipse cx="911" cy="145" rx="17" ry="7"/><ellipse cx="971" cy="173" rx="17" ry="8"/><ellipse cx="1056" cy="166" rx="17" ry="7"/><ellipse cx="1099" cy="175" rx="14" ry="8"/><ellipse cx="1179" cy="162" rx="19" ry="8"/><ellipse cx="1216" cy="180" rx="13" ry="8"/><ellipse cx="1275" cy="174" rx="14" ry="7"/><ellipse cx="-8" cy="229" rx="20" ry="9"/><ellipse cx="47" cy="224" rx="17" ry="6"/><ellipse cx="129" cy="225" rx="14" ry="8"/><ellipse cx="148" cy="219" rx="17" ry="8"/><ellipse cx="250" cy="215" rx="15" ry="8"/><ellipse cx="283" cy="207" rx="12" ry="8"/><ellipse cx="356" cy="198" rx="14" ry="7"/><ellipse cx="824" cy="214" rx="16" ry="9"/><ellipse cx="870" cy="229" rx="14" ry="8"/><ellipse cx="960" cy="194" rx="12" ry="9"/><ellipse cx="1025" cy="217" rx="18" ry="10"/><ellipse cx="1069" cy="207" rx="22" ry="7"/><ellipse cx="1124" cy="230" rx="18" ry="8"/><ellipse cx="1179" cy="203" rx="20" ry="10"/><ellipse cx="1257" cy="196" rx="18" ry="6"/><ellipse cx="1305" cy="203" rx="13" ry="9"/><ellipse cx="-40" cy="242" rx="17" ry="9"/><ellipse cx="9" cy="254" rx="17" ry="8"/><ellipse cx="78" cy="263" rx="16" ry="9"/><ellipse cx="144" cy="265" rx="17" ry="10"/><ellipse cx="222" cy="266" rx="12" ry="6"/><ellipse cx="239" cy="274" rx="17" ry="7"/><ellipse cx="942" cy="266" rx="16" ry="6"/><ellipse cx="960" cy="241" rx="18" ry="9"/><ellipse cx="1043" cy="271" rx="18" ry="8"/><ellipse cx="1097" cy="241" rx="22" ry="11"/><ellipse cx="1153" cy="281" rx="18" ry="7"/><ellipse cx="1215" cy="262" rx="14" ry="6"/><ellipse cx="1286" cy="263" rx="17" ry="8"/><ellipse cx="6" cy="323" rx="18" ry="9"/><ellipse cx="29" cy="311" rx="17" ry="8"/><ellipse cx="119" cy="300" rx="15" ry="10"/><ellipse cx="155" cy="322" rx="17" ry="9"/><ellipse cx="234" cy="328" rx="15" ry="7"/><ellipse cx="1036" cy="305" rx="12" ry="9"/><ellipse cx="1051" cy="304" rx="15" ry="6"/><ellipse cx="1154" cy="309" rx="13" ry="9"/><ellipse cx="1183" cy="315" rx="14" ry="9"/><ellipse cx="1258" cy="329" rx="11" ry="7"/><ellipse cx="1316" cy="322" rx="18" ry="9"/><ellipse cx="-22" cy="345" rx="14" ry="8"/><ellipse cx="26" cy="370" rx="16" ry="8"/><ellipse cx="83" cy="369" rx="14" ry="8"/><ellipse cx="161" cy="370" rx="20" ry="10"/><ellipse cx="208" cy="366" rx="17" ry="9"/><ellipse cx="1034" cy="364" rx="19" ry="11"/><ellipse cx="1092" cy="380" rx="14" ry="8"/><ellipse cx="1149" cy="351" rx="19" ry="9"/><ellipse cx="1224" cy="352" rx="18" ry="11"/><ellipse cx="1283" cy="359" rx="18" ry="11"/><ellipse cx="-21" cy="420" rx="12" ry="7"/><ellipse cx="42" cy="411" rx="15" ry="7"/><ellipse cx="121" cy="402" rx="18" ry="9"/><ellipse cx="153" cy="411" rx="12" ry="8"/><ellipse cx="1088" cy="393" rx="15" ry="8"/><ellipse cx="1143" cy="390" rx="13" ry="9"/><ellipse cx="1170" cy="424" rx="16" ry="9"/><ellipse cx="1263" cy="415" rx="19" ry="7"/><ellipse cx="1292" cy="429" rx="21" ry="9"/><ellipse cx="-50" cy="468" rx="14" ry="8"/><ellipse cx="0" cy="467" rx="21" ry="8"/><ellipse cx="71" cy="443" rx="15" ry="7"/><ellipse cx="160" cy="449" rx="13" ry="10"/><ellipse cx="204" cy="478" rx="11" ry="9"/><ellipse cx="1082" cy="479" rx="16" ry="7"/><ellipse cx="1137" cy="456" rx="15" ry="8"/><ellipse cx="1238" cy="459" rx="16" ry="9"/><ellipse cx="1295" cy="462" rx="13" ry="10"/><ellipse cx="-18" cy="528" rx="13" ry="6"/><ellipse cx="38" cy="509" rx="16" ry="9"/><ellipse cx="131" cy="521" rx="12" ry="5"/><ellipse cx="169" cy="523" rx="12" ry="7"/><ellipse cx="1083" cy="517" rx="20" ry="10"/><ellipse cx="1118" cy="499" rx="14" ry="8"/><ellipse cx="1194" cy="492" rx="14" ry="9"/><ellipse cx="1250" cy="508" rx="15" ry="9"/><ellipse cx="1315" cy="492" rx="14" ry="7"/><ellipse cx="-39" cy="566" rx="19" ry="11"/><ellipse cx="44" cy="577" rx="15" ry="8"/><ellipse cx="88" cy="558" rx="19" ry="7"/><ellipse cx="114" cy="574" rx="22" ry="11"/><ellipse cx="189" cy="550" rx="20" ry="7"/><ellipse cx="1053" cy="561" rx="16" ry="10"/><ellipse cx="1086" cy="565" rx="11" ry="8"/><ellipse cx="1146" cy="556" rx="13" ry="11"/><ellipse cx="1241" cy="549" rx="15" ry="8"/><ellipse cx="1286" cy="572" rx="18" ry="10"/><ellipse cx="-23" cy="612" rx="18" ry="7"/><ellipse cx="50" cy="603" rx="15" ry="8"/><ellipse cx="97" cy="605" rx="21" ry="8"/><ellipse cx="154" cy="595" rx="23" ry="10"/><ellipse cx="218" cy="625" rx="19" ry="9"/><ellipse cx="1051" cy="621" rx="20" ry="10"/><ellipse cx="1121" cy="599" rx="12" ry="7"/><ellipse cx="1208" cy="594" rx="17" ry="8"/><ellipse cx="1274" cy="621" rx="15" ry="11"/><ellipse cx="1320" cy="623" rx="21" ry="8"/><ellipse cx="-18" cy="666" rx="13" ry="7"/><ellipse cx="35" cy="669" rx="17" ry="10"/><ellipse cx="56" cy="641" rx="21" ry="10"/><ellipse cx="133" cy="663" rx="14" ry="9"/><ellipse cx="197" cy="679" rx="14" ry="9"/><ellipse cx="260" cy="642" rx="17" ry="8"/><ellipse cx="999" cy="646" rx="13" ry="8"/><ellipse cx="1026" cy="666" rx="16" ry="8"/><ellipse cx="1114" cy="673" rx="14" ry="9"/><ellipse cx="1181" cy="677" rx="13" ry="6"/><ellipse cx="1197" cy="666" rx="16" ry="10"/><ellipse cx="1277" cy="664" rx="15" ry="7"/><ellipse cx="-26" cy="722" rx="16" ry="7"/><ellipse cx="48" cy="697" rx="14" ry="6"/><ellipse cx="102" cy="721" rx="19" ry="10"/><ellipse cx="176" cy="719" rx="18" ry="8"/><ellipse cx="214" cy="698" rx="16" ry="9"/><ellipse cx="268" cy="716" rx="18" ry="11"/><ellipse cx="346" cy="716" rx="17" ry="6"/><ellipse cx="930" cy="714" rx="19" ry="10"/><ellipse cx="1001" cy="704" rx="15" ry="7"/><ellipse cx="1049" cy="706" rx="21" ry="10"/><ellipse cx="1126" cy="705" rx="16" ry="9"/><ellipse cx="1180" cy="694" rx="21" ry="9"/><ellipse cx="1256" cy="716" rx="22" ry="10"/><ellipse cx="1315" cy="718" rx="17" ry="7"/><ellipse cx="-35" cy="760" rx="14" ry="9"/><ellipse cx="19" cy="750" rx="16" ry="9"/><ellipse cx="71" cy="772" rx="18" ry="6"/><ellipse cx="139" cy="775" rx="16" ry="9"/><ellipse cx="207" cy="773" rx="12" ry="7"/><ellipse cx="278" cy="778" rx="19" ry="7"/><ellipse cx="321" cy="766" rx="18" ry="7"/><ellipse cx="403" cy="756" rx="13" ry="7"/><ellipse cx="459" cy="742" rx="15" ry="10"/><ellipse cx="494" cy="756" rx="17" ry="8"/><ellipse cx="725" cy="779" rx="18" ry="7"/><ellipse cx="780" cy="764" rx="14" ry="7"/><ellipse cx="869" cy="748" rx="15" ry="7"/><ellipse cx="910" cy="770" rx="14" ry="9"/><ellipse cx="979" cy="762" rx="14" ry="6"/><ellipse cx="1046" cy="750" rx="16" ry="7"/><ellipse cx="1097" cy="742" rx="16" ry="7"/><ellipse cx="1175" cy="747" rx="15" ry="8"/><ellipse cx="1212" cy="753" rx="13" ry="6"/><ellipse cx="1275" cy="755" rx="11" ry="8"/><ellipse cx="3" cy="832" rx="15" ry="6"/><ellipse cx="44" cy="816" rx="11" ry="8"/><ellipse cx="95" cy="832" rx="14" ry="7"/><ellipse cx="158" cy="825" rx="17" ry="8"/><ellipse cx="251" cy="821" rx="15" ry="9"/><ellipse cx="272" cy="796" rx="19" ry="7"/><ellipse cx="367" cy="816" rx="14" ry="7"/><ellipse cx="412" cy="813" rx="15" ry="7"/><ellipse cx="450" cy="807" rx="13" ry="6"/><ellipse cx="541" cy="812" rx="19" ry="9"/><ellipse cx="612" cy="827" rx="11" ry="9"/><ellipse cx="650" cy="796" rx="14" ry="8"/><ellipse cx="731" cy="820" rx="21" ry="11"/><ellipse cx="781" cy="802" rx="17" ry="9"/><ellipse cx="831" cy="796" rx="13" ry="8"/><ellipse cx="895" cy="821" rx="15" ry="8"/><ellipse cx="969" cy="827" rx="15" ry="10"/><ellipse cx="995" cy="799" rx="13" ry="8"/><ellipse cx="1055" cy="796" rx="15" ry="10"/><ellipse cx="1140" cy="797" rx="12" ry="8"/><ellipse cx="1195" cy="820" rx="18" ry="8"/><ellipse cx="1252" cy="832" rx="15" ry="6"/><ellipse cx="1327" cy="800" rx="14" ry="6"/><ellipse cx="-24" cy="880" rx="15" ry="7"/><ellipse cx="33" cy="866" rx="16" ry="10"/><ellipse cx="100" cy="868" rx="18" ry="8"/><ellipse cx="134" cy="876" rx="16" ry="8"/><ellipse cx="184" cy="871" rx="15" ry="8"/><ellipse cx="274" cy="841" rx="22" ry="8"/><ellipse cx="308" cy="865" rx="17" ry="7"/><ellipse cx="360" cy="849" rx="17" ry="10"/><ellipse cx="447" cy="853" rx="20" ry="9"/><ellipse cx="497" cy="881" rx="16" ry="6"/><ellipse cx="551" cy="854" rx="17" ry="7"/><ellipse cx="618" cy="878" rx="14" ry="8"/><ellipse cx="667" cy="875" rx="12" ry="7"/><ellipse cx="741" cy="864" rx="12" ry="9"/><ellipse cx="782" cy="876" rx="14" ry="7"/><ellipse cx="882" cy="849" rx="15" ry="8"/><ellipse cx="909" cy="847" rx="17" ry="10"/><ellipse cx="982" cy="854" rx="14" ry="9"/><ellipse cx="1060" cy="863" rx="18" ry="7"/><ellipse cx="1082" cy="869" rx="13" ry="6"/><ellipse cx="1140" cy="844" rx="12" ry="8"/><ellipse cx="1231" cy="873" rx="19" ry="10"/><ellipse cx="1277" cy="840" rx="22" ry="10"/><ellipse cx="-4" cy="928" rx="13" ry="7"/><ellipse cx="38" cy="903" rx="14" ry="7"/><ellipse cx="119" cy="905" rx="18" ry="9"/><ellipse cx="188" cy="922" rx="15" ry="8"/><ellipse cx="225" cy="918" rx="17" ry="7"/><ellipse cx="282" cy="901" rx="17" ry="7"/><ellipse cx="353" cy="931" rx="14" ry="8"/><ellipse cx="406" cy="903" rx="18" ry="7"/><ellipse cx="479" cy="911" rx="18" ry="7"/><ellipse cx="532" cy="904" rx="17" ry="9"/><ellipse cx="591" cy="929" rx="20" ry="7"/><ellipse cx="666" cy="926" rx="15" ry="11"/><ellipse cx="709" cy="894" rx="16" ry="9"/><ellipse cx="777" cy="909" rx="14" ry="7"/><ellipse cx="836" cy="898" rx="13" ry="7"/><ellipse cx="872" cy="918" rx="18" ry="9"/><ellipse cx="971" cy="918" rx="14" ry="8"/><ellipse cx="990" cy="908" rx="15" ry="7"/><ellipse cx="1063" cy="904" rx="13" ry="8"/><ellipse cx="1137" cy="917" rx="15" ry="11"/><ellipse cx="1185" cy="899" rx="13" ry="9"/><ellipse cx="1250" cy="905" rx="20" ry="11"/><ellipse cx="1324" cy="926" rx="19" ry="6"/><ellipse cx="-31" cy="962" rx="11" ry="8"/><ellipse cx="0" cy="959" rx="20" ry="9"/><ellipse cx="88" cy="942" rx="20" ry="8"/><ellipse cx="128" cy="946" rx="12" ry="7"/><ellipse cx="183" cy="967" rx="19" ry="9"/><ellipse cx="266" cy="963" rx="16" ry="9"/><ellipse cx="342" cy="965" rx="16" ry="11"/><ellipse cx="401" cy="974" rx="14" ry="6"/><ellipse cx="447" cy="961" rx="19" ry="8"/><ellipse cx="490" cy="954" rx="19" ry="9"/><ellipse cx="542" cy="942" rx="18" ry="7"/><ellipse cx="644" cy="963" rx="15" ry="7"/><ellipse cx="685" cy="946" rx="15" ry="10"/><ellipse cx="753" cy="950" rx="14" ry="7"/><ellipse cx="794" cy="953" rx="18" ry="11"/><ellipse cx="849" cy="964" rx="16" ry="8"/><ellipse cx="943" cy="950" rx="15" ry="9"/><ellipse cx="986" cy="969" rx="14" ry="6"/><ellipse cx="1063" cy="961" rx="18" ry="8"/><ellipse cx="1120" cy="971" rx="14" ry="6"/><ellipse cx="1159" cy="943" rx="22" ry="11"/><ellipse cx="1218" cy="941" rx="19" ry="9"/><ellipse cx="1265" cy="950" rx="15" ry="6"/></g></g>
<g filter="url(#p2m)"><path d="M360 60C377 45 460 25 520 20C580 15 663 18 720 30C777 42 813 67 860 90C907 113 960 147 1000 170C1040 193 1090 212 1100 230C1110 248 1093 278 1060 280C1027 282 950 257 900 240C850 223 810 198 760 180C710 162 657 142 600 130C543 118 460 122 420 110C380 98 343 75 360 60Z" fill="#b4aa8c"/><path d="M740 -30C822 -50 1198 -68 1290 -30C1382 8 1313 157 1290 200C1267 243 1207 232 1150 230C1093 228 1008 213 950 190C892 167 835 127 800 90C765 53 658 -10 740 -30Z" fill="#3e322a"/><path d="M760 -20C840 -35 1202 -51 1290 -20C1378 11 1313 130 1290 165C1267 200 1205 191 1150 190C1095 189 1017 180 960 160C903 140 843 100 810 70C777 40 680 -5 760 -20Z" fill="#ad9d90"/><ellipse cx="1050" cy="50" rx="170" ry="70" fill="#b8a89a"/></g>
<g filter="url(#p2m)" opacity="0.55"><path d="M90 320C100 275 107 238 150 200C193 162 267 109 350 95C433 81 550 101 650 115C750 129 877 158 950 180C1023 202 1052 207 1090 250C1128 293 1168 385 1180 440C1192 495 1173 538 1160 580C1147 622 1143 647 1100 690C1057 733 967 812 900 840C833 868 775 853 700 860C625 867 517 887 450 880C383 873 348 857 300 820C252 783 195 718 160 660C125 602 102 527 90 470C78 413 80 365 90 320Z" fill="#3a2e26"/></g>
<g filter="url(#p2t)"><path d="M110 320C117 283 130 248 150 220C170 192 197 168 230 150C263 132 305 122 350 115C395 108 450 106 500 108C550 110 600 116 650 125C700 134 750 148 800 160C850 172 907 183 950 200C993 217 1030 237 1060 260C1090 283 1113 310 1130 340C1147 370 1157 403 1160 440C1163 477 1160 523 1150 560C1140 597 1125 628 1100 660C1075 692 1037 725 1000 750C963 775 922 796 880 810C838 824 780 830 750 835C720 840 725 836 700 840C675 844 638 860 600 862C562 864 512 864 470 852C428 840 390 819 350 790C310 761 263 718 230 680C197 642 170 600 150 560C130 520 115 480 108 440C101 400 103 357 110 320Z" fill="#cab4a4"/></g>
<g filter="url(#p2m)"><path d="M160 300C173 260 200 213 240 190C280 167 347 160 400 160C453 160 523 167 560 190C597 213 610 248 620 300C630 352 615 433 620 500C625 567 653 650 650 700C647 750 632 785 600 800C568 815 505 807 460 790C415 773 370 738 330 700C290 662 248 605 220 560C192 515 170 473 160 430C150 387 147 340 160 300Z" fill="#d0bcaa"/><path d="M720 260C742 213 803 220 850 220C897 220 962 238 1000 260C1038 282 1065 310 1080 350C1095 390 1097 452 1090 500C1083 548 1067 600 1040 640C1013 680 970 715 930 740C890 765 832 797 800 790C768 783 753 748 740 700C727 652 723 573 720 500C717 427 698 307 720 260Z" fill="#d0bcaa"/></g>
<g filter="url(#p2m)"><ellipse cx="977" cy="642" rx="44" ry="31" fill="#dccab8"/><ellipse cx="386" cy="729" rx="38" ry="34" fill="#d8c6b4"/><ellipse cx="547" cy="426" rx="27" ry="24" fill="#dccab8"/><ellipse cx="312" cy="715" rx="40" ry="22" fill="#d8c6b4"/><ellipse cx="447" cy="288" rx="25" ry="33" fill="#d8c6b4"/><ellipse cx="1047" cy="340" rx="28" ry="25" fill="#d8c6b4"/><ellipse cx="957" cy="358" rx="44" ry="30" fill="#d4c0ae"/><ellipse cx="344" cy="310" rx="28" ry="21" fill="#d4c0ae"/><ellipse cx="928" cy="546" rx="39" ry="21" fill="#d4c0ae"/><ellipse cx="894" cy="412" rx="35" ry="31" fill="#d8c6b4"/><ellipse cx="576" cy="733" rx="32" ry="26" fill="#dccab8"/><ellipse cx="857" cy="538" rx="25" ry="21" fill="#d8c6b4"/><ellipse cx="1045" cy="317" rx="30" ry="32" fill="#d4c0ae"/><ellipse cx="342" cy="503" rx="41" ry="22" fill="#dccab8"/><ellipse cx="858" cy="402" rx="34" ry="35" fill="#d8c6b4"/><ellipse cx="444" cy="716" rx="32" ry="34" fill="#dccab8"/><ellipse cx="474" cy="385" rx="41" ry="29" fill="#dccab8"/><ellipse cx="1059" cy="338" rx="26" ry="35" fill="#dccab8"/><ellipse cx="750" cy="615" rx="32" ry="24" fill="#dccab8"/><ellipse cx="222" cy="715" rx="26" ry="27" fill="#d8c6b4"/><ellipse cx="493" cy="733" rx="38" ry="32" fill="#d8c6b4"/><ellipse cx="349" cy="252" rx="33" ry="22" fill="#dccab8"/><ellipse cx="1052" cy="478" rx="35" ry="31" fill="#d4c0ae"/><ellipse cx="388" cy="707" rx="27" ry="32" fill="#dccab8"/><ellipse cx="941" cy="500" rx="32" ry="21" fill="#d4c0ae"/><ellipse cx="915" cy="501" rx="26" ry="32" fill="#d4c0ae"/><ellipse cx="952" cy="625" rx="32" ry="31" fill="#d4c0ae"/><ellipse cx="825" cy="731" rx="39" ry="34" fill="#d4c0ae"/><ellipse cx="926" cy="266" rx="36" ry="24" fill="#dccab8"/><ellipse cx="316" cy="490" rx="38" ry="25" fill="#d4c0ae"/><ellipse cx="976" cy="658" rx="32" ry="33" fill="#dccab8"/><ellipse cx="346" cy="401" rx="28" ry="35" fill="#d8c6b4"/><ellipse cx="1040" cy="489" rx="39" ry="31" fill="#dccab8"/><ellipse cx="447" cy="726" rx="35" ry="34" fill="#d4c0ae"/><ellipse cx="988" cy="566" rx="39" ry="20" fill="#d8c6b4"/><ellipse cx="940" cy="347" rx="40" ry="23" fill="#dccab8"/><ellipse cx="389" cy="342" rx="26" ry="22" fill="#d4c0ae"/><ellipse cx="894" cy="523" rx="33" ry="25" fill="#dccab8"/><ellipse cx="929" cy="374" rx="43" ry="20" fill="#d4c0ae"/><ellipse cx="1014" cy="676" rx="39" ry="28" fill="#d8c6b4"/><ellipse cx="836" cy="402" rx="35" ry="34" fill="#d4c0ae"/><ellipse cx="1002" cy="461" rx="41" ry="30" fill="#d4c0ae"/><ellipse cx="263" cy="427" rx="35" ry="23" fill="#d8c6b4"/><ellipse cx="852" cy="689" rx="25" ry="22" fill="#dccab8"/><ellipse cx="913" cy="416" rx="43" ry="28" fill="#d4c0ae"/><ellipse cx="291" cy="377" rx="44" ry="26" fill="#d8c6b4"/><ellipse cx="823" cy="731" rx="35" ry="26" fill="#d4c0ae"/><ellipse cx="838" cy="706" rx="28" ry="20" fill="#dccab8"/><ellipse cx="882" cy="401" rx="41" ry="32" fill="#d8c6b4"/><ellipse cx="424" cy="351" rx="34" ry="21" fill="#d4c0ae"/><ellipse cx="262" cy="754" rx="31" ry="29" fill="#d4c0ae"/><ellipse cx="1016" cy="683" rx="43" ry="20" fill="#d8c6b4"/><ellipse cx="413" cy="402" rx="31" ry="28" fill="#d4c0ae"/><ellipse cx="473" cy="659" rx="28" ry="20" fill="#dccab8"/><ellipse cx="567" cy="699" rx="36" ry="20" fill="#d4c0ae"/><ellipse cx="960" cy="718" rx="38" ry="33" fill="#d4c0ae"/><ellipse cx="473" cy="609" rx="43" ry="27" fill="#d8c6b4"/><ellipse cx="201" cy="641" rx="37" ry="30" fill="#d4c0ae"/><ellipse cx="786" cy="490" rx="36" ry="27" fill="#d4c0ae"/><ellipse cx="876" cy="520" rx="26" ry="31" fill="#d4c0ae"/><ellipse cx="993" cy="579" rx="26" ry="31" fill="#d8c6b4"/><ellipse cx="964" cy="283" rx="42" ry="23" fill="#dccab8"/><ellipse cx="776" cy="690" rx="45" ry="31" fill="#d4c0ae"/><ellipse cx="444" cy="444" rx="28" ry="29" fill="#d8c6b4"/><ellipse cx="951" cy="618" rx="31" ry="29" fill="#d8c6b4"/><ellipse cx="1021" cy="324" rx="34" ry="25" fill="#dccab8"/><ellipse cx="341" cy="574" rx="43" ry="22" fill="#d4c0ae"/><ellipse cx="453" cy="493" rx="43" ry="28" fill="#dccab8"/><ellipse cx="225" cy="347" rx="42" ry="24" fill="#d8c6b4"/><ellipse cx="1016" cy="478" rx="33" ry="22" fill="#d8c6b4"/></g>
<g filter="url(#p2t)"><path d="M640 150C650 110 692 118 700 160C708 202 690 318 690 400C690 482 693 580 700 650C707 720 730 788 730 820C730 852 712 868 700 840C688 812 670 723 660 650C650 577 643 483 640 400C637 317 630 190 640 150Z" fill="#bea898"/><path class="s" d="M688 160C684 200 666 318 665 400C664 482 672 578 680 650C688 722 707 800 712 830" stroke="#6a5048" stroke-width="7"/><path class="s" d="M640 180C635 220 612 343 610 420C608 497 617 573 630 640C643 707 680 790 690 820" stroke="#b8a29a" stroke-width="5"/></g>
<g filter="url(#p2c)"><path class="s" d="M309 231C306 229 295 222 291 219C286 217 284 216 283 216" stroke="#72564a" stroke-width="9"/><path class="s" d="M309 231C311 230 316 226 320 225C323 225 330 227 332 227" stroke="#72564a" stroke-width="8"/><path class="s" d="M309 231C310 233 314 242 314 247C315 251 314 257 314 259" stroke="#72564a" stroke-width="9"/><path class="s" d="M374 214C374 212 373 206 374 202C374 198 378 193 379 191" stroke="#72564a" stroke-width="11"/><path class="s" d="M374 214C375 217 379 226 381 230C383 233 385 234 386 235" stroke="#72564a" stroke-width="10"/><path class="s" d="M374 214C372 213 368 210 364 209C360 209 353 211 351 212" stroke="#72564a" stroke-width="10"/><path class="s" d="M435 234C436 231 440 220 440 215C440 210 438 204 437 202" stroke="#72564a" stroke-width="12"/><path class="s" d="M435 234C438 235 449 238 453 239C457 241 458 243 459 244" stroke="#72564a" stroke-width="9"/><path class="s" d="M435 234C434 238 430 249 429 254C428 258 429 260 428 261" stroke="#72564a" stroke-width="12"/><path class="s" d="M880 238C882 236 889 230 892 226C896 223 900 218 902 216" stroke="#72564a" stroke-width="11"/><path class="s" d="M880 238C881 240 883 246 885 249C887 253 890 257 891 259" stroke="#72564a" stroke-width="11"/><path class="s" d="M880 238C877 237 870 235 865 236C860 236 853 239 851 239" stroke="#72564a" stroke-width="11"/><path class="s" d="M951 224C952 221 952 210 954 205C955 199 960 193 961 191" stroke="#72564a" stroke-width="10"/><path class="s" d="M951 224C953 226 960 233 963 236C967 240 970 244 972 245" stroke="#72564a" stroke-width="11"/><path class="s" d="M951 224C949 225 944 227 940 229C936 231 930 235 928 236" stroke="#72564a" stroke-width="11"/><path class="s" d="M210 293C209 290 206 280 204 275C203 271 201 268 200 266" stroke="#72564a" stroke-width="12"/><path class="s" d="M210 293C214 292 227 289 233 288C238 286 241 285 243 284" stroke="#72564a" stroke-width="11"/><path class="s" d="M210 293C207 295 199 300 195 304C191 307 189 311 188 313" stroke="#72564a" stroke-width="9"/><path class="s" d="M266 312C265 315 263 323 262 327C260 331 255 335 254 336" stroke="#72564a" stroke-width="10"/><path class="s" d="M266 312C264 310 256 302 253 299C251 296 251 295 250 294" stroke="#72564a" stroke-width="9"/><path class="s" d="M266 312C268 313 274 317 278 319C283 321 290 323 292 324" stroke="#72564a" stroke-width="8"/><path class="s" d="M349 292C350 289 353 282 355 277C358 272 362 264 363 261" stroke="#72564a" stroke-width="11"/><path class="s" d="M349 292C351 294 357 300 361 304C365 308 371 312 373 314" stroke="#72564a" stroke-width="9"/><path class="s" d="M349 292C347 291 342 286 339 285C336 283 331 282 330 281" stroke="#72564a" stroke-width="11"/><path class="s" d="M410 277C412 277 423 277 426 275C430 274 430 270 431 269" stroke="#72564a" stroke-width="9"/><path class="s" d="M410 277C411 280 413 290 415 295C418 299 422 302 424 303" stroke="#72564a" stroke-width="10"/><path class="s" d="M410 277C408 276 402 271 399 268C395 265 390 259 388 258" stroke="#72564a" stroke-width="10"/><path class="s" d="M494 287C496 288 505 293 510 295C515 297 522 300 524 301" stroke="#72564a" stroke-width="9"/><path class="s" d="M494 287C491 287 484 288 479 288C475 288 468 289 465 289" stroke="#72564a" stroke-width="9"/><path class="s" d="M494 287C496 284 503 273 506 269C508 264 508 260 508 259" stroke="#72564a" stroke-width="12"/><path class="s" d="M581 313C584 315 595 319 599 322C603 325 605 332 606 334" stroke="#72564a" stroke-width="10"/><path class="s" d="M581 313C578 313 568 311 562 311C557 311 551 313 549 313" stroke="#72564a" stroke-width="10"/><path class="s" d="M581 313C581 311 579 305 579 301C578 297 578 291 578 288" stroke="#72564a" stroke-width="10"/><path class="s" d="M863 297C866 297 875 296 880 295C885 294 890 292 892 292" stroke="#72564a" stroke-width="12"/><path class="s" d="M863 297C861 299 853 303 849 306C845 310 842 316 841 318" stroke="#72564a" stroke-width="11"/><path class="s" d="M863 297C860 295 851 286 848 283C845 280 844 280 844 279" stroke="#72564a" stroke-width="10"/><path class="s" d="M941 304C940 301 937 294 937 290C937 286 938 281 939 279" stroke="#72564a" stroke-width="8"/><path class="s" d="M941 304C944 304 953 305 957 307C962 308 966 312 967 313" stroke="#72564a" stroke-width="8"/><path class="s" d="M941 304C940 305 935 309 933 312C930 314 927 318 925 320" stroke="#72564a" stroke-width="10"/><path class="s" d="M1004 298C1002 298 997 298 993 298C988 298 981 300 979 301" stroke="#72564a" stroke-width="9"/><path class="s" d="M1004 298C1006 296 1015 287 1018 284C1021 280 1022 278 1023 277" stroke="#72564a" stroke-width="12"/><path class="s" d="M1004 298C1006 301 1015 311 1019 315C1022 319 1026 320 1027 321" stroke="#72564a" stroke-width="9"/><path class="s" d="M173 350C175 350 185 347 188 347C192 347 193 349 194 350" stroke="#72564a" stroke-width="8"/><path class="s" d="M173 350C172 354 172 364 170 369C169 374 164 379 163 380" stroke="#72564a" stroke-width="10"/><path class="s" d="M173 350C171 350 165 348 160 346C155 344 148 342 145 341" stroke="#72564a" stroke-width="12"/><path class="s" d="M226 375C224 372 216 361 213 356C210 351 209 349 209 347" stroke="#72564a" stroke-width="8"/><path class="s" d="M226 375C228 376 238 377 241 379C244 381 244 386 245 388" stroke="#72564a" stroke-width="11"/><path class="s" d="M226 375C223 377 215 382 210 384C206 386 201 386 199 386" stroke="#72564a" stroke-width="11"/><path class="s" d="M296 378C294 380 291 386 287 390C284 393 278 397 277 399" stroke="#72564a" stroke-width="11"/><path class="s" d="M296 378C294 376 289 371 286 368C283 365 279 362 277 360" stroke="#72564a" stroke-width="11"/><path class="s" d="M296 378C299 377 312 373 317 372C323 371 326 373 328 373" stroke="#72564a" stroke-width="9"/><path class="s" d="M385 385C383 383 378 378 374 375C371 372 365 369 363 368" stroke="#72564a" stroke-width="10"/><path class="s" d="M385 385C389 385 402 384 408 383C414 381 417 378 419 377" stroke="#72564a" stroke-width="9"/><path class="s" d="M385 385C385 389 383 402 381 408C380 413 376 415 376 417" stroke="#72564a" stroke-width="12"/><path class="s" d="M439 366C439 369 438 380 437 384C435 388 430 391 429 392" stroke="#72564a" stroke-width="8"/><path class="s" d="M439 366C438 364 436 357 433 353C431 350 426 347 424 345" stroke="#72564a" stroke-width="9"/><path class="s" d="M439 366C441 367 446 369 449 370C453 371 460 371 463 371" stroke="#72564a" stroke-width="12"/><path class="s" d="M537 375C539 378 546 386 549 390C551 395 552 399 553 401" stroke="#72564a" stroke-width="8"/><path class="s" d="M537 375C535 375 529 372 525 370C521 369 516 368 514 367" stroke="#72564a" stroke-width="11"/><path class="s" d="M537 375C538 373 539 366 540 363C541 359 543 356 543 355" stroke="#72564a" stroke-width="11"/><path class="s" d="M594 373C593 374 589 381 586 383C582 385 576 384 575 384" stroke="#72564a" stroke-width="8"/><path class="s" d="M594 373C595 369 597 356 598 350C598 345 598 342 598 340" stroke="#72564a" stroke-width="11"/><path class="s" d="M594 373C597 375 609 383 613 386C617 388 619 388 620 388" stroke="#72564a" stroke-width="11"/><path class="s" d="M815 384C814 382 811 373 808 368C806 364 800 361 798 359" stroke="#72564a" stroke-width="11"/><path class="s" d="M815 384C817 383 825 380 829 380C834 380 839 381 841 382" stroke="#72564a" stroke-width="8"/><path class="s" d="M815 384C814 387 810 395 809 399C808 403 810 407 811 409" stroke="#72564a" stroke-width="9"/><path class="s" d="M903 377C902 375 898 368 897 364C896 360 898 355 898 353" stroke="#72564a" stroke-width="9"/><path class="s" d="M903 377C906 378 916 381 920 383C924 385 926 388 927 390" stroke="#72564a" stroke-width="8"/><path class="s" d="M903 377C901 380 893 391 890 395C887 400 885 401 884 402" stroke="#72564a" stroke-width="12"/><path class="s" d="M965 385C969 384 980 381 984 379C989 376 992 372 994 371" stroke="#72564a" stroke-width="9"/><path class="s" d="M965 385C965 387 963 393 960 397C958 402 954 409 952 412" stroke="#72564a" stroke-width="10"/><path class="s" d="M965 385C963 382 952 372 948 368C944 364 943 364 942 363" stroke="#72564a" stroke-width="8"/><path class="s" d="M1015 363C1016 361 1021 354 1023 351C1025 348 1026 346 1026 345" stroke="#72564a" stroke-width="10"/><path class="s" d="M1015 363C1015 366 1017 376 1018 381C1018 385 1017 389 1017 391" stroke="#72564a" stroke-width="11"/><path class="s" d="M1015 363C1012 362 1003 355 998 352C993 350 986 348 984 348" stroke="#72564a" stroke-width="10"/><path class="s" d="M215 440C213 439 206 438 202 436C197 434 192 430 190 428" stroke="#72564a" stroke-width="11"/><path class="s" d="M215 440C218 439 228 439 232 438C236 437 237 435 238 434" stroke="#72564a" stroke-width="9"/><path class="s" d="M215 440C215 443 217 451 218 457C218 463 218 471 218 474" stroke="#72564a" stroke-width="12"/><path class="s" d="M277 448C277 446 276 437 277 432C277 428 280 422 281 420" stroke="#72564a" stroke-width="10"/><path class="s" d="M277 448C278 450 279 456 280 460C282 463 285 467 286 468" stroke="#72564a" stroke-width="8"/><path class="s" d="M277 448C275 449 266 450 260 451C254 453 246 456 243 457" stroke="#72564a" stroke-width="11"/><path class="s" d="M335 428C333 426 324 419 321 416C318 414 317 414 317 413" stroke="#72564a" stroke-width="9"/><path class="s" d="M335 428C337 428 344 427 347 428C351 429 354 432 355 432" stroke="#72564a" stroke-width="11"/><path class="s" d="M335 428C336 430 339 435 339 439C340 443 339 451 339 453" stroke="#72564a" stroke-width="10"/><path class="s" d="M411 437C408 436 396 434 390 432C385 430 381 426 380 425" stroke="#72564a" stroke-width="9"/><path class="s" d="M411 437C412 436 416 429 419 427C422 425 428 424 430 424" stroke="#72564a" stroke-width="9"/><path class="s" d="M411 437C411 441 413 452 414 457C414 463 415 469 415 471" stroke="#72564a" stroke-width="10"/><path class="s" d="M502 420C504 421 510 425 513 426C516 428 519 428 521 429" stroke="#72564a" stroke-width="11"/><path class="s" d="M502 420C501 422 497 431 496 436C495 440 495 443 494 445" stroke="#72564a" stroke-width="8"/><path class="s" d="M502 420C503 417 503 406 503 400C504 394 503 387 503 385" stroke="#72564a" stroke-width="11"/><path class="s" d="M576 451C573 453 566 459 561 462C556 464 549 466 547 466" stroke="#72564a" stroke-width="9"/><path class="s" d="M576 451C578 449 585 445 589 442C593 439 598 434 600 433" stroke="#72564a" stroke-width="9"/><path class="s" d="M576 451C578 454 583 464 588 467C592 471 599 472 602 473" stroke="#72564a" stroke-width="10"/><path class="s" d="M722 427C724 428 730 429 733 432C736 434 740 439 742 440" stroke="#72564a" stroke-width="8"/><path class="s" d="M722 427C720 427 712 429 709 431C705 432 704 434 703 435" stroke="#72564a" stroke-width="8"/><path class="s" d="M722 427C723 424 724 415 726 410C728 405 733 397 735 395" stroke="#72564a" stroke-width="9"/><path class="s" d="M787 420C788 418 789 410 790 406C792 402 796 399 797 398" stroke="#72564a" stroke-width="11"/><path class="s" d="M787 420C789 422 797 429 800 432C803 434 803 435 803 436" stroke="#72564a" stroke-width="12"/><path class="s" d="M787 420C785 420 779 417 776 418C772 418 767 421 765 422" stroke="#72564a" stroke-width="9"/><path class="s" d="M851 427C853 430 859 439 860 443C862 448 861 451 861 453" stroke="#72564a" stroke-width="10"/><path class="s" d="M851 427C850 426 845 424 842 422C839 420 834 416 832 415" stroke="#72564a" stroke-width="11"/><path class="s" d="M851 427C853 425 857 418 860 415C864 412 870 409 872 408" stroke="#72564a" stroke-width="11"/><path class="s" d="M940 454C938 456 933 465 929 469C925 473 918 476 915 477" stroke="#72564a" stroke-width="9"/><path class="s" d="M940 454C940 452 940 445 939 441C939 438 938 435 938 434" stroke="#72564a" stroke-width="12"/><path class="s" d="M940 454C942 454 947 452 951 452C955 453 961 457 963 458" stroke="#72564a" stroke-width="11"/><path class="s" d="M1005 433C1006 435 1007 442 1007 445C1007 449 1008 454 1008 456" stroke="#72564a" stroke-width="9"/><path class="s" d="M1005 433C1003 432 995 428 992 426C988 424 986 421 985 420" stroke="#72564a" stroke-width="12"/><path class="s" d="M1005 433C1006 431 1009 422 1011 419C1013 415 1017 413 1018 412" stroke="#72564a" stroke-width="10"/><path class="s" d="M1079 425C1078 423 1076 414 1074 409C1073 405 1072 399 1071 397" stroke="#72564a" stroke-width="9"/><path class="s" d="M1079 425C1082 427 1091 431 1095 433C1099 435 1101 436 1103 437" stroke="#72564a" stroke-width="10"/><path class="s" d="M1079 425C1076 425 1065 424 1062 425C1058 426 1057 429 1057 430" stroke="#72564a" stroke-width="11"/><path class="s" d="M150 519C152 520 158 523 163 525C167 527 175 529 178 530" stroke="#72564a" stroke-width="12"/><path class="s" d="M150 519C148 520 142 523 138 524C134 525 127 526 124 526" stroke="#72564a" stroke-width="11"/><path class="s" d="M150 519C150 517 150 510 149 506C149 502 147 496 147 493" stroke="#72564a" stroke-width="11"/><path class="s" d="M224 507C224 509 224 513 224 517C223 521 221 527 221 528" stroke="#72564a" stroke-width="9"/><path class="s" d="M224 507C221 505 213 497 208 495C204 492 198 493 196 493" stroke="#72564a" stroke-width="12"/><path class="s" d="M224 507C227 508 239 514 244 516C249 518 252 519 253 520" stroke="#72564a" stroke-width="8"/><path class="s" d="M301 499C304 501 312 505 317 506C322 508 327 507 329 507" stroke="#72564a" stroke-width="9"/><path class="s" d="M301 499C300 502 295 511 293 514C292 517 292 518 292 519" stroke="#72564a" stroke-width="10"/><path class="s" d="M301 499C301 496 300 484 299 478C299 473 297 468 296 466" stroke="#72564a" stroke-width="12"/><path class="s" d="M365 507C368 506 377 503 381 501C385 498 386 494 387 493" stroke="#72564a" stroke-width="11"/><path class="s" d="M365 507C367 510 372 521 374 526C376 531 377 533 378 535" stroke="#72564a" stroke-width="10"/><path class="s" d="M365 507C363 504 353 498 349 494C345 490 344 486 342 485" stroke="#72564a" stroke-width="9"/><path class="s" d="M459 503C462 502 475 500 481 499C486 498 489 498 491 497" stroke="#72564a" stroke-width="10"/><path class="s" d="M459 503C458 506 455 516 454 520C453 524 453 527 452 528" stroke="#72564a" stroke-width="10"/><path class="s" d="M459 503C456 501 449 495 445 491C441 488 437 485 436 483" stroke="#72564a" stroke-width="10"/><path class="s" d="M541 516C539 514 534 508 532 504C529 500 528 495 527 494" stroke="#72564a" stroke-width="10"/><path class="s" d="M541 516C542 515 546 508 550 506C553 505 560 506 562 506" stroke="#72564a" stroke-width="9"/><path class="s" d="M541 516C539 518 534 525 532 529C531 533 531 539 531 542" stroke="#72564a" stroke-width="10"/><path class="s" d="M590 500C587 500 577 498 573 497C570 497 570 496 569 496" stroke="#72564a" stroke-width="12"/><path class="s" d="M590 500C592 499 600 493 602 489C605 486 604 481 604 479" stroke="#72564a" stroke-width="11"/><path class="s" d="M590 500C590 503 589 511 590 515C591 518 593 520 594 521" stroke="#72564a" stroke-width="10"/><path class="s" d="M760 515C757 515 747 515 742 516C738 517 733 520 732 521" stroke="#72564a" stroke-width="11"/><path class="s" d="M760 515C758 512 752 501 751 497C749 493 750 493 750 492" stroke="#72564a" stroke-width="9"/><path class="s" d="M760 515C762 514 770 512 775 512C779 512 785 515 787 516" stroke="#72564a" stroke-width="10"/><path class="s" d="M805 499C804 500 800 502 796 502C793 502 787 498 785 497" stroke="#72564a" stroke-width="9"/><path class="s" d="M805 499C808 498 814 492 818 489C822 486 827 483 829 482" stroke="#72564a" stroke-width="9"/><path class="s" d="M805 499C806 501 807 508 809 512C811 516 817 521 818 523" stroke="#72564a" stroke-width="12"/><path class="s" d="M897 503C900 503 910 504 915 503C921 501 927 498 930 497" stroke="#72564a" stroke-width="10"/><path class="s" d="M897 503C895 504 889 508 886 511C883 513 881 516 880 517" stroke="#72564a" stroke-width="11"/><path class="s" d="M897 503C896 501 894 491 894 488C893 484 893 482 893 481" stroke="#72564a" stroke-width="8"/><path class="s" d="M943 493C943 497 941 509 939 515C938 521 935 524 935 526" stroke="#72564a" stroke-width="9"/><path class="s" d="M943 493C941 491 932 482 929 479C925 476 923 477 922 476" stroke="#72564a" stroke-width="9"/><path class="s" d="M943 493C945 493 952 493 955 494C959 495 962 497 963 498" stroke="#72564a" stroke-width="11"/><path class="s" d="M1012 510C1012 508 1013 497 1012 493C1011 490 1008 489 1007 489" stroke="#72564a" stroke-width="12"/><path class="s" d="M1012 510C1015 512 1026 519 1030 522C1035 526 1037 530 1038 532" stroke="#72564a" stroke-width="11"/><path class="s" d="M1012 510C1009 513 1001 521 997 525C993 528 990 529 989 529" stroke="#72564a" stroke-width="9"/><path class="s" d="M1104 493C1106 495 1112 504 1115 507C1118 510 1122 510 1123 510" stroke="#72564a" stroke-width="11"/><path class="s" d="M1104 493C1103 495 1098 504 1095 508C1093 512 1090 516 1089 517" stroke="#72564a" stroke-width="9"/><path class="s" d="M1104 493C1103 490 1100 479 1098 473C1096 468 1093 462 1092 460" stroke="#72564a" stroke-width="11"/><path class="s" d="M213 581C216 584 227 595 232 599C236 604 238 605 239 606" stroke="#72564a" stroke-width="10"/><path class="s" d="M213 581C211 581 204 581 199 581C195 581 189 580 187 580" stroke="#72564a" stroke-width="9"/><path class="s" d="M213 581C215 580 219 576 223 574C227 571 233 566 235 564" stroke="#72564a" stroke-width="8"/><path class="s" d="M265 580C266 583 269 593 270 597C271 601 273 604 273 606" stroke="#72564a" stroke-width="11"/><path class="s" d="M265 580C262 580 252 580 248 581C244 582 243 583 242 584" stroke="#72564a" stroke-width="10"/><path class="s" d="M265 580C267 579 276 574 279 573C282 571 283 572 284 572" stroke="#72564a" stroke-width="11"/><path class="s" d="M360 601C357 602 349 603 345 602C341 602 337 601 335 601" stroke="#72564a" stroke-width="12"/><path class="s" d="M360 601C362 601 366 601 369 600C373 600 379 598 381 597" stroke="#72564a" stroke-width="9"/><path class="s" d="M360 601C360 604 360 612 360 617C359 622 359 627 359 630" stroke="#72564a" stroke-width="12"/><path class="s" d="M410 576C411 577 417 580 420 582C423 585 424 591 425 592" stroke="#72564a" stroke-width="9"/><path class="s" d="M410 576C406 576 394 574 389 573C384 571 379 568 377 567" stroke="#72564a" stroke-width="11"/><path class="s" d="M410 576C412 574 420 565 423 561C426 557 427 554 428 553" stroke="#72564a" stroke-width="9"/><path class="s" d="M480 571C477 570 467 566 463 566C459 565 458 568 457 568" stroke="#72564a" stroke-width="9"/><path class="s" d="M480 571C481 568 486 559 487 554C489 549 488 544 488 542" stroke="#72564a" stroke-width="11"/><path class="s" d="M480 571C482 573 487 581 488 584C490 588 490 589 491 590" stroke="#72564a" stroke-width="9"/><path class="s" d="M554 589C553 587 547 580 544 577C542 573 540 569 539 568" stroke="#72564a" stroke-width="11"/><path class="s" d="M554 589C558 589 569 586 573 585C578 585 579 586 580 587" stroke="#72564a" stroke-width="9"/><path class="s" d="M554 589C552 591 543 595 539 598C534 600 530 603 528 604" stroke="#72564a" stroke-width="8"/><path class="s" d="M778 578C777 580 774 586 772 591C770 596 767 603 765 605" stroke="#72564a" stroke-width="8"/><path class="s" d="M778 578C777 575 774 566 772 563C770 560 768 559 767 558" stroke="#72564a" stroke-width="10"/><path class="s" d="M778 578C781 578 792 578 798 578C804 579 811 581 813 582" stroke="#72564a" stroke-width="9"/><path class="s" d="M856 572C855 575 851 587 850 591C849 596 852 598 852 600" stroke="#72564a" stroke-width="9"/><path class="s" d="M856 572C854 571 844 570 839 569C835 568 830 565 829 564" stroke="#72564a" stroke-width="9"/><path class="s" d="M856 572C858 571 862 569 866 568C869 566 875 563 877 562" stroke="#72564a" stroke-width="11"/><path class="s" d="M906 563C907 565 912 568 913 571C914 575 911 581 911 583" stroke="#72564a" stroke-width="11"/><path class="s" d="M906 563C904 562 899 555 895 553C891 551 886 551 884 550" stroke="#72564a" stroke-width="11"/><path class="s" d="M906 563C909 561 919 556 923 552C928 548 930 542 931 540" stroke="#72564a" stroke-width="11"/><path class="s" d="M984 563C985 566 987 575 988 579C989 584 991 589 991 591" stroke="#72564a" stroke-width="8"/><path class="s" d="M984 563C982 562 974 558 969 555C965 553 960 551 958 550" stroke="#72564a" stroke-width="12"/><path class="s" d="M984 563C986 560 993 550 995 546C998 542 998 540 999 539" stroke="#72564a" stroke-width="11"/><path class="s" d="M1071 575C1072 578 1073 587 1076 590C1078 593 1084 594 1085 595" stroke="#72564a" stroke-width="11"/><path class="s" d="M1071 575C1068 575 1057 575 1052 573C1047 572 1042 567 1040 566" stroke="#72564a" stroke-width="9"/><path class="s" d="M1071 575C1072 572 1075 560 1075 556C1076 551 1076 550 1076 548" stroke="#72564a" stroke-width="8"/><path class="s" d="M183 635C183 631 185 619 184 613C184 607 181 602 180 599" stroke="#72564a" stroke-width="10"/><path class="s" d="M183 635C185 637 188 645 191 648C194 650 200 649 202 650" stroke="#72564a" stroke-width="10"/><path class="s" d="M183 635C180 635 168 635 163 636C159 637 157 641 156 642" stroke="#72564a" stroke-width="9"/><path class="s" d="M257 667C256 670 253 680 252 686C251 692 250 699 249 701" stroke="#72564a" stroke-width="10"/><path class="s" d="M257 667C253 665 242 661 238 659C233 657 232 654 231 654" stroke="#72564a" stroke-width="8"/><path class="s" d="M257 667C259 664 267 655 271 651C275 648 279 647 281 646" stroke="#72564a" stroke-width="10"/><path class="s" d="M326 648C325 652 325 663 324 669C323 674 322 680 321 683" stroke="#72564a" stroke-width="11"/><path class="s" d="M326 648C322 646 311 639 306 636C301 633 297 632 295 631" stroke="#72564a" stroke-width="10"/><path class="s" d="M326 648C329 648 341 644 346 643C352 643 356 646 358 646" stroke="#72564a" stroke-width="11"/><path class="s" d="M398 639C399 641 401 647 403 650C405 653 410 656 411 657" stroke="#72564a" stroke-width="11"/><path class="s" d="M398 639C396 639 388 640 383 639C378 638 372 635 370 635" stroke="#72564a" stroke-width="12"/><path class="s" d="M398 639C400 637 405 630 408 627C412 625 419 623 421 622" stroke="#72564a" stroke-width="9"/><path class="s" d="M472 663C475 665 483 674 486 677C490 679 493 679 494 679" stroke="#72564a" stroke-width="9"/><path class="s" d="M472 663C470 663 464 664 460 664C455 664 448 664 446 664" stroke="#72564a" stroke-width="11"/><path class="s" d="M472 663C474 660 479 650 481 645C483 640 484 636 484 634" stroke="#72564a" stroke-width="10"/><path class="s" d="M531 663C528 661 520 656 516 655C512 653 507 651 506 651" stroke="#72564a" stroke-width="9"/><path class="s" d="M531 663C532 660 534 652 536 649C538 647 543 647 544 646" stroke="#72564a" stroke-width="9"/><path class="s" d="M531 663C530 665 528 674 526 678C524 681 519 684 517 685" stroke="#72564a" stroke-width="12"/><path class="s" d="M808 660C810 661 818 663 823 664C828 665 833 665 836 666" stroke="#72564a" stroke-width="11"/><path class="s" d="M808 660C808 663 806 673 807 679C808 684 812 690 813 693" stroke="#72564a" stroke-width="11"/><path class="s" d="M808 660C807 657 805 646 802 641C800 636 795 631 794 629" stroke="#72564a" stroke-width="10"/><path class="s" d="M885 655C885 657 885 667 887 671C888 675 893 679 894 681" stroke="#72564a" stroke-width="8"/><path class="s" d="M885 655C883 654 874 651 871 650C868 648 867 647 866 647" stroke="#72564a" stroke-width="11"/><path class="s" d="M885 655C889 654 901 651 907 650C912 649 915 648 917 647" stroke="#72564a" stroke-width="10"/><path class="s" d="M960 673C961 670 963 663 964 657C965 652 964 645 964 642" stroke="#72564a" stroke-width="12"/><path class="s" d="M960 673C961 675 964 680 966 684C968 688 972 694 973 696" stroke="#72564a" stroke-width="12"/><path class="s" d="M960 673C957 672 945 670 940 668C934 666 930 663 929 662" stroke="#72564a" stroke-width="8"/><path class="s" d="M1030 646C1029 648 1027 654 1025 656C1022 658 1017 660 1015 660" stroke="#72564a" stroke-width="12"/><path class="s" d="M1030 646C1027 644 1019 637 1015 633C1011 629 1007 625 1005 623" stroke="#72564a" stroke-width="11"/><path class="s" d="M1030 646C1032 645 1039 637 1043 635C1048 633 1055 634 1057 634" stroke="#72564a" stroke-width="11"/><path class="s" d="M268 734C270 736 278 745 281 748C284 751 283 752 283 752" stroke="#72564a" stroke-width="10"/><path class="s" d="M268 734C264 732 252 727 247 724C242 721 239 717 238 716" stroke="#72564a" stroke-width="9"/><path class="s" d="M268 734C268 732 270 725 272 721C274 717 278 713 279 712" stroke="#72564a" stroke-width="9"/><path class="s" d="M339 712C339 713 339 718 338 722C336 726 331 732 330 734" stroke="#72564a" stroke-width="8"/><path class="s" d="M339 712C336 710 326 706 322 704C318 703 315 702 313 701" stroke="#72564a" stroke-width="11"/><path class="s" d="M339 712C342 711 352 708 356 707C360 706 361 706 362 706" stroke="#72564a" stroke-width="10"/><path class="s" d="M412 736C410 735 400 730 397 728C394 726 393 726 392 726" stroke="#72564a" stroke-width="11"/><path class="s" d="M412 736C414 736 420 732 425 732C429 731 436 733 439 733" stroke="#72564a" stroke-width="12"/><path class="s" d="M412 736C413 739 413 747 415 751C417 755 421 759 423 761" stroke="#72564a" stroke-width="9"/><path class="s" d="M509 745C506 745 497 743 492 741C487 739 482 736 480 735" stroke="#72564a" stroke-width="8"/><path class="s" d="M509 745C510 742 513 733 514 727C515 722 516 715 516 713" stroke="#72564a" stroke-width="10"/><path class="s" d="M509 745C509 747 508 754 509 758C510 762 512 767 513 769" stroke="#72564a" stroke-width="11"/><path class="s" d="M849 724C849 727 849 738 850 743C851 749 854 755 855 757" stroke="#72564a" stroke-width="9"/><path class="s" d="M849 724C846 723 836 720 830 719C824 719 817 721 814 722" stroke="#72564a" stroke-width="10"/><path class="s" d="M849 724C850 722 853 716 855 713C858 709 863 705 865 704" stroke="#72564a" stroke-width="9"/><path class="s" d="M929 711C925 711 913 712 907 712C902 712 900 710 899 709" stroke="#72564a" stroke-width="10"/><path class="s" d="M929 711C930 708 935 698 937 694C938 691 938 691 938 690" stroke="#72564a" stroke-width="10"/><path class="s" d="M929 711C931 712 939 717 941 721C944 724 943 730 943 732" stroke="#72564a" stroke-width="9"/><path class="s" d="M974 721C978 720 991 718 997 718C1002 718 1004 721 1005 721" stroke="#72564a" stroke-width="10"/><path class="s" d="M974 721C972 721 962 722 958 722C954 722 953 723 952 723" stroke="#72564a" stroke-width="8"/><path class="s" d="M974 721C975 717 978 703 978 698C979 692 976 689 976 687" stroke="#72564a" stroke-width="10"/></g>
<g filter="url(#p2m)"><path class="s" d="M120 460C128 480 147 540 170 580C193 620 225 663 260 700C295 737 337 775 380 800C423 825 497 842 520 850" stroke="#c4aca2" stroke-width="18"/><path class="s" d="M1150 450C1148 468 1150 525 1140 560C1130 595 1115 628 1090 660C1065 692 1028 726 990 750C952 774 882 796 860 805" stroke="#c0a89e" stroke-width="18"/></g>
</svg>
</div>
<div class="ph" style="left:954px;top:420px;width:315px;height:237px;background:#a07a5a"><svg viewBox="0 0 1270 956" preserveAspectRatio="none">
<defs><filter id="p3m" x="-30%" y="-30%" width="160%" height="160%"><feGaussianBlur stdDeviation="10"/></filter>
<filter id="p3s" x="-30%" y="-30%" width="160%" height="160%"><feGaussianBlur stdDeviation="4"/></filter>
<filter id="p3t" x="-30%" y="-30%" width="160%" height="160%"><feGaussianBlur stdDeviation="2.5"/></filter>
<filter id="p3c" x="-30%" y="-30%" width="160%" height="160%"><feGaussianBlur stdDeviation="6"/></filter>
</defs>
<rect width="1270" height="956" fill="#6a5242"/>
<g filter="url(#p3t)"><polygon points="7,-59 20,-42 19,-16 7,-3 -31,-10 -51,-27 -43,-44 -21,-65" fill="#e8dcd0"/><polygon points="23,-53 55,-44 61,-25 41,-11 18,-8 -1,-20 -6,-35 9,-50" fill="#c4a890"/><polygon points="71,-72 95,-48 64,-16 36,-18 13,-43 31,-72" fill="#c0a488"/><polygon points="108,-26 85,-39 100,-56 129,-58 141,-45 133,-31" fill="#c0a488"/><polygon points="148,4 126,-7 129,-36 161,-39 187,-35 193,-20 173,2" fill="#d4c0aa"/><polygon points="164,-33 183,-48 229,-40 231,-12 217,3 172,3 153,-13" fill="#e8dcd0"/><polygon points="243,-14 217,-7 199,-21 202,-42 219,-50 247,-50 259,-34" fill="#c4a890"/><polygon points="291,-60 319,-42 308,-18 263,-13 253,-27 258,-58" fill="#c0a488"/><polygon points="347,-22 329,-11 316,-12 300,-22 293,-33 308,-47 333,-47 345,-39" fill="#e0d0c0"/><polygon points="376,-18 354,-35 363,-53 400,-59 427,-41 422,-25" fill="#9a7860"/><polygon points="411,7 397,-17 422,-37 438,-41 461,-31 470,-11 445,6" fill="#d8c4a8"/><polygon points="439,-33 468,-41 483,-36 499,-14 492,5 453,12 436,-1" fill="#9a7860"/><polygon points="477,-27 481,-43 493,-60 519,-60 539,-47 541,-18 512,-6 503,-11" fill="#b08870"/><polygon points="526,-27 528,-40 544,-60 565,-61 580,-52 585,-35 575,-18 550,-14" fill="#b89a80"/><polygon points="608,-51 622,-62 640,-58 651,-44 649,-22 629,-5 616,-8 605,-33" fill="#c4a890"/><polygon points="662,-68 687,-48 680,-20 658,-13 639,-25 633,-46 643,-64" fill="#b08870"/><polygon points="671,0 662,-14 660,-42 678,-56 712,-53 722,-43 719,-10 699,3" fill="#c4a890"/><polygon points="779,-63 786,-45 785,-15 751,-3 727,-20 722,-35 747,-59" fill="#c8b4a0"/><polygon points="766,-47 787,-56 801,-38 799,-9 770,-12 755,-33" fill="#d8c4a8"/><polygon points="882,-12 857,2 833,-7 821,-34 823,-49 858,-63 877,-52 889,-32" fill="#d4c0aa"/><polygon points="897,-62 906,-32 882,-17 856,-17 852,-48 877,-69" fill="#d4c0aa"/><polygon points="977,-38 969,-8 934,0 919,-14 936,-52 961,-58" fill="#d4c0aa"/><polygon points="981,-10 960,-9 944,-17 939,-30 951,-46 972,-56 992,-37 994,-29" fill="#c0a488"/><polygon points="1011,0 990,-8 983,-22 992,-36 1008,-46 1021,-42 1035,-25 1031,-14" fill="#9a7860"/><polygon points="1113,-51 1125,-29 1103,-4 1079,0 1059,-18 1063,-43 1092,-60" fill="#9a7860"/><polygon points="1129,-7 1101,-22 1112,-46 1143,-49 1156,-38 1160,-15" fill="#e8dcd0"/><polygon points="1220,-20 1208,-12 1180,1 1141,-17 1146,-42 1157,-63 1193,-63 1217,-48" fill="#b89a80"/><polygon points="1186,-42 1207,-55 1230,-57 1233,-44 1238,-28 1226,-13 1194,-19 1182,-30" fill="#b89a80"/><polygon points="1226,-25 1209,-45 1221,-57 1259,-59 1289,-43 1278,-27" fill="#9a7860"/><polygon points="1305,-58 1331,-29 1306,-5 1278,-7 1250,-39 1277,-61" fill="#b08870"/><polygon points="-27,9 -7,-8 23,0 31,15 10,35 -27,29" fill="#b89a80"/><polygon points="66,8 72,28 47,49 13,28 13,10 31,-1" fill="#d4c0aa"/><polygon points="112,9 115,26 98,43 73,37 68,2 94,-9" fill="#c0a488"/><polygon points="112,-18 135,-28 149,-24 158,0 151,20 124,26 109,19 105,-4" fill="#d8c4a8"/><polygon points="229,0 216,26 190,33 149,25 138,12 165,-21 201,-29" fill="#d4c0aa"/><polygon points="248,22 221,27 205,21 191,-5 207,-27 235,-28 252,-18 264,5" fill="#c0a488"/><polygon points="209,3 236,-11 255,-19 281,0 286,15 270,34 236,31 224,23" fill="#c0a488"/><polygon points="307,-12 330,-3 336,12 328,29 317,31 295,23 290,12 291,-5" fill="#e0d0c0"/><polygon points="360,38 351,29 350,7 360,-1 383,0 403,18 401,31 381,41" fill="#d8c4a8"/><polygon points="389,-11 412,-14 437,-8 446,8 433,31 404,38 386,28 374,9" fill="#c4a890"/><polygon points="445,3 460,-7 472,-12 486,-3 491,17 479,35 463,34 441,21" fill="#d8c4a8"/><polygon points="515,-9 504,12 482,25 467,22 460,2 465,-20 480,-32 509,-20" fill="#b08870"/><polygon points="504,-11 513,-19 544,-21 566,-6 548,18 535,24 504,11" fill="#c0a488"/><polygon points="620,-18 629,1 608,24 576,21 557,2 581,-18" fill="#d4c0aa"/><polygon points="624,-37 655,-20 663,-4 665,20 637,34 594,14 588,-11 611,-32" fill="#b08870"/><polygon points="705,7 679,26 662,13 659,-14 682,-31 708,-17" fill="#e8dcd0"/><polygon points="770,-6 774,20 746,39 715,23 706,-2 731,-16" fill="#e0d0c0"/><polygon points="775,-8 783,8 768,32 740,28 726,1 743,-15" fill="#d4c0aa"/><polygon points="846,25 824,35 806,36 791,15 801,-8 830,-18 851,-10" fill="#b89a80"/><polygon points="842,-3 863,-19 879,-13 891,11 876,27 854,20" fill="#a88068"/><polygon points="921,24 898,34 873,28 856,0 877,-20 892,-26 916,-20 929,1" fill="#d8c4a8"/><polygon points="976,14 970,34 948,39 922,24 924,12 945,-8 958,-9" fill="#e8dcd0"/><polygon points="1043,5 1041,30 1022,36 988,34 979,17 978,0 1010,-15 1031,-7" fill="#b89a80"/><polygon points="1079,20 1064,35 1030,45 1014,39 990,22 995,9 1022,0 1066,8" fill="#e0d0c0"/><polygon points="1128,42 1084,42 1076,29 1087,1 1107,-4 1134,0 1146,21" fill="#b08870"/><polygon points="1098,18 1097,-6 1140,-13 1164,-7 1166,19 1153,38 1122,38" fill="#c8b4a0"/><polygon points="1189,-17 1215,1 1210,18 1176,23 1150,16 1145,-3 1160,-15" fill="#c0a488"/><polygon points="1200,-8 1205,-20 1226,-26 1251,-14 1263,-5 1249,22 1227,27 1203,15" fill="#c0a488"/><polygon points="1271,-8 1288,-7 1308,18 1297,44 1264,54 1240,34 1241,14" fill="#c4a890"/><polygon points="1332,-25 1362,-15 1367,2 1361,16 1342,25 1318,11 1317,-12" fill="#a88068"/><polygon points="-55,62 -78,34 -65,10 -42,6 -12,23 -10,47 -34,65" fill="#a88068"/><polygon points="52,69 18,74 3,71 0,41 25,17 41,15 53,49" fill="#c4a890"/><polygon points="88,31 85,63 57,84 40,80 20,57 21,32 50,10 75,22" fill="#d8c4a8"/><polygon points="111,22 137,38 128,58 100,67 79,54 79,35" fill="#b89a80"/><polygon points="203,35 199,55 179,65 148,56 138,41 161,16 187,21" fill="#d8c4a8"/><polygon points="178,58 178,44 222,37 239,40 252,61 231,77 191,75" fill="#d4c0aa"/><polygon points="247,14 275,22 277,52 259,70 224,55 225,28" fill="#c8b4a0"/><polygon points="262,34 278,10 306,12 323,25 314,54 294,64 271,50" fill="#e0d0c0"/><polygon points="313,56 338,42 358,44 378,56 368,73 349,79 326,75" fill="#c8b4a0"/><polygon points="368,60 359,45 366,26 401,21 425,35 424,49 407,64" fill="#d8c4a8"/><polygon points="431,71 416,49 432,32 460,37 473,48 452,79" fill="#a88068"/><polygon points="501,52 492,73 476,89 444,98 417,77 427,57 453,30 468,34" fill="#e8dcd0"/><polygon points="485,56 472,42 487,25 511,24 531,31 539,46 522,61" fill="#b08870"/><polygon points="571,11 593,21 606,46 567,63 531,54 536,20" fill="#d4c0aa"/><polygon points="619,75 595,85 572,78 567,60 583,42 615,45" fill="#b08870"/><polygon points="672,68 659,75 641,69 630,49 639,31 653,25 667,32 677,52" fill="#e0d0c0"/><polygon points="709,84 674,79 659,57 676,28 707,33 725,56" fill="#a88068"/><polygon points="740,15 782,20 797,32 789,59 754,69 718,49 724,34" fill="#d4c0aa"/><polygon points="814,59 779,63 755,47 765,23 801,19 826,37" fill="#d8c4a8"/><polygon points="863,72 832,76 819,68 816,57 831,34 847,35 861,41 869,66" fill="#c8b4a0"/><polygon points="920,58 907,76 880,83 851,72 846,51 865,36 893,34" fill="#c0a488"/><polygon points="922,18 946,21 958,45 944,61 911,60 895,45 900,22" fill="#b89a80"/><polygon points="979,72 942,59 931,33 953,18 990,18 1015,37 995,63" fill="#b89a80"/><polygon points="1046,85 1014,77 1003,61 1011,51 1048,42 1062,52 1070,76" fill="#e8dcd0"/><polygon points="1098,46 1070,64 1033,52 1029,23 1057,11 1092,19" fill="#c0a488"/><polygon points="1155,55 1131,69 1116,67 1107,50 1106,26 1129,18 1154,30" fill="#a88068"/><polygon points="1187,77 1147,77 1131,62 1141,39 1187,40 1193,56" fill="#b89a80"/><polygon points="1211,17 1226,12 1249,23 1249,38 1242,48 1225,57 1204,48 1197,37" fill="#b08870"/><polygon points="1259,22 1278,34 1268,55 1261,58 1239,59 1225,49 1223,36 1240,22" fill="#c8b4a0"/><polygon points="1317,77 1289,85 1264,78 1263,68 1263,47 1291,32 1311,44 1321,61" fill="#a88068"/><polygon points="-46,112 -26,74 2,82 26,96 12,131 -23,128" fill="#d8c4a8"/><polygon points="44,109 26,122 4,117 -7,97 -9,86 11,62 31,64 53,86" fill="#c0a488"/><polygon points="109,108 77,104 71,67 87,47 116,53 124,93" fill="#a88068"/><polygon points="93,58 120,53 148,57 164,77 134,93 115,94 85,78" fill="#b89a80"/><polygon points="179,80 203,98 193,123 168,124 149,108 147,88" fill="#e0d0c0"/><polygon points="230,108 208,94 207,75 222,66 250,76 256,82 254,99" fill="#9a7860"/><polygon points="302,80 284,94 257,90 241,73 261,62 289,57" fill="#d8c4a8"/><polygon points="306,65 331,71 345,95 321,113 292,103 285,90" fill="#e0d0c0"/><polygon points="424,87 408,109 382,112 354,111 334,82 338,73 378,60 398,71" fill="#e8dcd0"/><polygon points="389,105 378,87 381,75 411,63 432,68 447,82 423,102" fill="#9a7860"/><polygon points="491,73 495,85 486,101 469,109 449,101 439,87 452,69 477,64" fill="#d8c4a8"/><polygon points="529,84 519,102 501,103 481,95 474,80 496,67 513,71" fill="#c8b4a0"/><polygon points="506,84 518,71 548,69 565,94 556,112 535,119 500,106" fill="#d8c4a8"/><polygon points="570,62 585,62 599,71 603,89 581,106 563,103 551,98 555,75" fill="#e0d0c0"/><polygon points="616,61 634,63 651,73 657,92 640,101 626,105 607,90 604,81" fill="#d8c4a8"/><polygon points="690,75 702,86 694,105 671,113 649,106 647,83 658,70" fill="#c8b4a0"/><polygon points="709,83 726,71 758,72 770,99 761,121 738,134 717,110" fill="#d4c0aa"/><polygon points="803,99 788,114 770,117 759,105 751,82 763,69 781,66 799,74" fill="#b08870"/><polygon points="800,89 796,75 820,57 842,59 853,83 847,92 818,107" fill="#d4c0aa"/><polygon points="917,83 910,97 885,108 853,100 842,82 870,65 898,68" fill="#d8c4a8"/><polygon points="902,76 937,79 944,91 933,111 906,118 880,118 869,104 868,85" fill="#d4c0aa"/><polygon points="956,74 977,88 984,100 976,124 945,128 920,109 926,80" fill="#9a7860"/><polygon points="1010,117 972,116 961,95 981,76 1012,77 1026,97" fill="#d4c0aa"/><polygon points="1009,95 1016,78 1034,69 1059,87 1048,111 1034,119" fill="#d4c0aa"/><polygon points="1103,111 1084,92 1080,78 1100,53 1131,59 1137,83 1133,97" fill="#9a7860"/><polygon points="1090,99 1089,69 1114,57 1143,61 1160,76 1156,110 1129,121" fill="#e8dcd0"/><polygon points="1205,123 1167,117 1147,82 1184,59 1224,77 1227,115" fill="#e0d0c0"/><polygon points="1200,79 1231,81 1251,86 1258,104 1238,122 1210,131 1190,119 1190,94" fill="#a88068"/><polygon points="1278,56 1306,69 1315,89 1301,114 1261,120 1245,103 1238,83 1263,61" fill="#c0a488"/><polygon points="1349,84 1330,106 1310,100 1300,92 1293,72 1307,51 1338,46 1347,62" fill="#c4a890"/><polygon points="4,135 -14,136 -40,124 -36,102 -4,100 13,108" fill="#c4a890"/><polygon points="39,130 22,146 1,141 -8,131 -2,109 20,106 39,111" fill="#d4c0aa"/><polygon points="91,145 68,158 40,157 29,136 39,124 64,122 92,128" fill="#c8b4a0"/><polygon points="135,142 116,153 96,142 83,123 93,104 104,88 135,99 143,108" fill="#c4a890"/><polygon points="146,150 129,141 125,120 142,107 165,107 174,133 166,151" fill="#a88068"/><polygon points="169,121 173,103 209,92 226,99 239,117 221,138 186,139" fill="#e0d0c0"/><polygon points="240,141 252,127 277,133 281,141 279,154 259,163 240,154" fill="#d8c4a8"/><polygon points="340,136 318,147 298,145 278,127 271,113 286,102 324,104 347,115" fill="#e8dcd0"/><polygon points="324,142 339,120 355,109 379,124 383,138 372,156 339,157" fill="#b08870"/><polygon points="369,97 383,99 407,122 400,146 383,156 334,148 332,123 339,100" fill="#e0d0c0"/><polygon points="460,118 450,129 433,143 414,136 401,118 412,100 427,91 448,96" fill="#9a7860"/><polygon points="454,115 482,105 500,114 503,129 492,147 457,147 446,128" fill="#a88068"/><polygon points="507,103 526,99 550,100 575,110 566,128 542,136 527,134 501,118" fill="#b08870"/><polygon points="562,109 601,125 590,144 567,161 530,145 535,112" fill="#c4a890"/><polygon points="634,101 646,115 647,132 619,139 592,130 592,116 609,99" fill="#e8dcd0"/><polygon points="623,148 616,126 634,107 682,114 688,124 684,150 640,159" fill="#b08870"/><polygon points="750,133 748,150 714,157 688,148 683,123 701,101 727,96 744,110" fill="#b89a80"/><polygon points="761,164 735,171 715,160 711,136 716,111 752,107 772,126 775,141" fill="#c0a488"/><polygon points="810,148 793,163 769,155 753,136 756,113 780,103 809,124" fill="#b89a80"/><polygon points="881,126 868,143 838,143 826,121 824,109 850,93 872,98" fill="#b89a80"/><polygon points="861,125 882,117 894,121 903,131 893,150 883,156 864,148 860,140" fill="#c4a890"/><polygon points="925,125 928,97 951,92 972,118 966,135 938,140" fill="#d4c0aa"/><polygon points="941,109 965,99 1000,106 1014,141 969,157 942,152" fill="#e8dcd0"/><polygon points="1077,124 1067,139 1038,144 1019,141 1014,125 1021,106 1045,91 1068,105" fill="#d4c0aa"/><polygon points="1093,149 1063,134 1064,106 1076,93 1098,93 1115,110 1102,138" fill="#d8c4a8"/><polygon points="1096,121 1115,89 1133,96 1151,126 1136,148 1114,149" fill="#b08870"/><polygon points="1150,158 1144,139 1153,110 1181,104 1199,123 1198,155 1172,164" fill="#e0d0c0"/><polygon points="1234,144 1208,141 1197,130 1198,106 1220,97 1232,101 1249,112 1245,133" fill="#a88068"/><polygon points="1303,121 1300,131 1282,147 1259,143 1241,125 1244,118 1266,105 1289,108" fill="#d4c0aa"/><polygon points="1318,153 1300,145 1292,131 1303,116 1327,111 1337,126 1337,143" fill="#d4c0aa"/><polygon points="4,201 -16,203 -32,188 -37,181 -23,163 5,163 26,178 20,194" fill="#b89a80"/><polygon points="25,147 39,137 59,138 63,156 53,171 34,174 20,157" fill="#b08870"/><polygon points="84,184 56,178 56,146 67,130 88,120 109,141 99,180" fill="#a88068"/><polygon points="154,206 133,202 119,180 126,157 138,143 174,153 179,171 176,190" fill="#a88068"/><polygon points="150,171 155,158 181,139 213,152 212,172 192,188" fill="#d4c0aa"/><polygon points="206,144 225,125 260,131 266,164 249,183 207,177" fill="#e0d0c0"/><polygon points="287,199 274,209 262,204 251,191 247,172 267,157 278,158 296,169" fill="#c0a488"/><polygon points="337,155 321,180 300,183 287,176 275,155 289,144 300,134 328,145" fill="#e8dcd0"/><polygon points="351,195 336,197 323,184 318,176 325,163 346,159 362,171 366,190" fill="#c8b4a0"/><polygon points="411,201 393,191 401,161 414,151 443,163 445,186 428,200" fill="#a88068"/><polygon points="448,189 443,163 469,148 490,159 487,187 468,202" fill="#e8dcd0"/><polygon points="500,199 485,189 480,162 496,149 532,151 542,163 541,189 516,202" fill="#9a7860"/><polygon points="505,160 529,139 561,147 565,166 556,182 519,191 502,177" fill="#c0a488"/><polygon points="628,165 609,192 577,185 554,155 569,135 610,136" fill="#d8c4a8"/><polygon points="668,125 682,149 679,170 655,183 618,176 613,156 624,130 644,122" fill="#c8b4a0"/><polygon points="691,188 659,182 657,164 671,138 691,139 721,161 716,179" fill="#c4a890"/><polygon points="721,136 740,135 772,155 770,171 757,193 729,197 707,185 706,165" fill="#d4c0aa"/><polygon points="762,187 747,168 764,150 800,140 821,155 829,174 809,184" fill="#b89a80"/><polygon points="827,144 841,152 843,180 824,191 806,188 798,174 801,152" fill="#d8c4a8"/><polygon points="889,185 871,202 841,181 847,157 870,150 896,170" fill="#9a7860"/><polygon points="961,152 960,184 923,189 884,167 905,144 933,141" fill="#c4a890"/><polygon points="996,187 974,203 952,200 940,172 956,150 979,142 1001,157" fill="#a88068"/><polygon points="973,177 986,145 1005,136 1023,147 1028,175 1019,197 988,193" fill="#e8dcd0"/><polygon points="1030,198 1022,174 1044,169 1084,173 1088,191 1059,206" fill="#d4c0aa"/><polygon points="1072,176 1096,161 1111,159 1127,180 1132,195 1114,205 1096,212 1069,190" fill="#c8b4a0"/><polygon points="1188,156 1184,174 1150,178 1126,166 1132,144 1154,139" fill="#c8b4a0"/><polygon points="1148,173 1163,158 1193,162 1206,186 1183,207 1152,196" fill="#9a7860"/><polygon points="1185,146 1230,138 1248,150 1257,171 1236,183 1201,180 1179,161" fill="#b89a80"/><polygon points="1296,177 1266,186 1242,175 1233,159 1248,140 1277,134 1307,155" fill="#d4c0aa"/><polygon points="1339,191 1316,194 1295,182 1289,166 1304,158 1324,151 1350,163 1347,176" fill="#e0d0c0"/><polygon points="4,194 2,224 -19,241 -42,236 -59,215 -43,189 -18,185" fill="#b08870"/><polygon points="-9,183 28,185 40,204 29,231 1,233 -25,223 -26,189" fill="#b89a80"/><polygon points="77,228 51,234 38,227 22,207 28,195 51,186 78,196 89,212" fill="#c4a890"/><polygon points="73,203 71,180 98,169 131,182 136,206 107,222" fill="#e0d0c0"/><polygon points="157,231 119,225 101,205 122,184 158,185 181,206" fill="#d4c0aa"/><polygon points="173,182 199,180 218,181 231,195 212,214 193,217 172,211 164,194" fill="#b08870"/><polygon points="209,177 242,173 268,188 248,213 219,215 199,200" fill="#b08870"/><polygon points="318,196 311,208 275,221 250,214 243,191 255,183 282,180" fill="#b08870"/><polygon points="330,218 316,201 329,176 337,163 377,181 382,204 365,223" fill="#c8b4a0"/><polygon points="344,195 365,175 397,180 394,209 380,217 356,213" fill="#b08870"/><polygon points="412,177 446,198 449,213 415,227 381,206 385,184" fill="#c0a488"/><polygon points="873,228 827,230 811,210 825,186 850,186 879,200" fill="#a88068"/><polygon points="881,230 864,224 855,214 852,204 869,188 891,190 903,199 897,223" fill="#d8c4a8"/><polygon points="926,202 956,193 976,207 972,230 947,244 932,241 912,214" fill="#d4c0aa"/><polygon points="980,186 1003,184 1013,197 1011,218 982,226 966,211 969,196" fill="#b08870"/><polygon points="1074,184 1062,214 1027,220 1014,197 1022,179 1055,172" fill="#b89a80"/><polygon points="1123,232 1104,243 1059,235 1061,216 1075,197 1108,201" fill="#e8dcd0"/><polygon points="1120,212 1090,214 1075,192 1082,174 1112,168 1132,179 1137,198" fill="#b89a80"/><polygon points="1174,245 1153,230 1151,210 1174,193 1191,206 1189,232" fill="#e0d0c0"/><polygon points="1203,204 1227,212 1227,224 1219,232 1199,236 1173,235 1164,218 1183,205" fill="#e0d0c0"/><polygon points="1259,183 1277,180 1305,197 1305,216 1290,231 1259,227 1237,213 1237,197" fill="#e0d0c0"/><polygon points="1336,169 1347,187 1342,211 1317,229 1286,219 1285,196 1286,181 1323,162" fill="#9a7860"/><polygon points="-13,219 10,229 17,243 7,261 -25,266 -37,259 -36,228" fill="#b08870"/><polygon points="62,255 31,264 5,242 24,223 51,223 76,243" fill="#a88068"/><polygon points="66,253 69,240 86,227 109,232 117,242 120,260 98,277 79,271" fill="#c4a890"/><polygon points="114,226 148,228 176,245 155,268 129,272 104,251" fill="#e0d0c0"/><polygon points="176,218 191,216 206,243 192,269 176,265 158,237" fill="#c8b4a0"/><polygon points="276,257 260,275 216,268 208,249 232,230 260,235" fill="#c4a890"/><polygon points="248,209 269,209 294,232 290,243 265,255 252,258 231,241 235,219" fill="#c4a890"/><polygon points="897,229 914,216 926,212 960,222 959,240 948,250 919,256 903,250" fill="#c4a890"/><polygon points="919,288 905,257 927,237 960,234 978,266 968,280" fill="#c8b4a0"/><polygon points="1004,286 978,272 986,244 1017,234 1055,244 1060,263 1043,276" fill="#e8dcd0"/><polygon points="1068,275 1035,266 1025,256 1049,231 1082,232 1093,245 1089,268" fill="#b89a80"/><polygon points="1112,222 1129,248 1122,270 1094,273 1073,269 1064,245 1086,226" fill="#b89a80"/><polygon points="1110,262 1100,226 1114,214 1150,223 1153,247 1141,267" fill="#9a7860"/><polygon points="1189,235 1206,241 1212,262 1181,275 1154,268 1154,243" fill="#d4c0aa"/><polygon points="1229,281 1207,274 1191,262 1202,240 1229,227 1256,243 1256,261" fill="#d4c0aa"/><polygon points="1242,252 1236,233 1262,212 1317,215 1317,245 1296,258" fill="#b08870"/><polygon points="1340,226 1336,248 1321,262 1298,265 1289,247 1293,225 1303,214 1323,215" fill="#d4c0aa"/><polygon points="-17,268 -16,298 -28,313 -59,307 -72,282 -50,261" fill="#e0d0c0"/><polygon points="25,274 58,286 51,320 9,330 -20,309 -18,292" fill="#e0d0c0"/><polygon points="84,275 85,291 60,309 39,311 3,293 18,276 45,269" fill="#e8dcd0"/><polygon points="65,261 104,248 125,267 111,300 78,299 56,285" fill="#e8dcd0"/><polygon points="169,309 137,309 109,299 115,274 147,266 166,276 183,293" fill="#e8dcd0"/><polygon points="209,280 234,281 246,293 237,317 211,322 192,310 191,287" fill="#a88068"/><polygon points="1025,279 1043,279 1060,290 1060,298 1044,313 1025,319 1008,309 1007,290" fill="#b89a80"/><polygon points="1061,277 1103,273 1124,291 1099,313 1077,321 1054,293" fill="#d4c0aa"/><polygon points="1148,305 1146,320 1123,326 1091,323 1080,310 1086,290 1122,287 1136,288" fill="#d4c0aa"/><polygon points="1197,312 1186,324 1156,319 1137,304 1141,290 1169,275 1195,278 1204,287" fill="#c0a488"/><polygon points="1221,296 1210,303 1186,286 1183,273 1195,252 1212,250 1230,253 1237,278" fill="#b89a80"/><polygon points="1226,296 1239,271 1268,263 1283,291 1275,306 1246,317" fill="#c4a890"/><polygon points="1329,321 1300,321 1281,306 1282,296 1295,280 1313,268 1342,281 1349,301" fill="#e0d0c0"/><polygon points="-40,325 -25,302 7,297 23,323 2,360 -18,355" fill="#c4a890"/><polygon points="14,311 35,305 60,302 87,318 83,334 66,348 39,354 16,331" fill="#b89a80"/><polygon points="37,332 45,315 69,296 99,304 118,330 97,360 62,363" fill="#c4a890"/><polygon points="168,293 180,316 170,337 145,350 120,328 119,306 136,294" fill="#e8dcd0"/><polygon points="157,355 135,339 135,320 144,305 176,310 197,327 179,351" fill="#b08870"/><polygon points="1069,315 1058,336 1035,337 1005,329 1008,309 1023,296 1049,297" fill="#c8b4a0"/><polygon points="1118,348 1095,368 1065,362 1056,333 1076,318 1113,324" fill="#b08870"/><polygon points="1101,333 1126,318 1165,316 1176,328 1173,353 1147,369 1115,371 1100,348" fill="#c8b4a0"/><polygon points="1163,335 1178,325 1205,326 1213,332 1215,353 1202,361 1183,367 1172,355" fill="#d8c4a8"/><polygon points="1276,338 1262,350 1240,356 1219,345 1226,324 1242,315 1262,314 1276,324" fill="#c8b4a0"/><polygon points="1287,301 1295,319 1295,336 1270,343 1256,344 1248,327 1249,305 1271,294" fill="#d4c0aa"/><polygon points="1353,326 1337,340 1297,337 1284,319 1305,308 1347,309" fill="#b08870"/><polygon points="12,369 -9,375 -36,369 -42,354 -31,345 -1,342 14,348" fill="#d8c4a8"/><polygon points="-26,383 -15,368 16,364 35,384 29,402 -4,403" fill="#a88068"/><polygon points="65,379 36,377 23,372 14,351 32,336 56,335 70,343 75,358" fill="#d4c0aa"/><polygon points="112,346 129,359 127,386 118,400 100,405 79,393 79,362 90,345" fill="#c4a890"/><polygon points="136,348 169,344 191,367 174,396 143,398 126,381" fill="#b89a80"/><polygon points="1108,365 1103,388 1082,398 1060,397 1055,370 1060,343 1079,338 1097,346" fill="#e8dcd0"/><polygon points="1086,378 1071,367 1074,346 1098,338 1120,338 1134,352 1128,379 1109,388" fill="#c4a890"/><polygon points="1149,376 1167,361 1179,357 1201,378 1194,396 1186,403 1166,410 1140,390" fill="#d4c0aa"/><polygon points="1201,395 1174,385 1181,363 1220,355 1235,367 1238,390" fill="#b08870"/><polygon points="1297,370 1298,389 1282,405 1249,395 1246,375 1265,355 1290,352" fill="#9a7860"/><polygon points="1326,374 1299,382 1275,378 1257,369 1263,353 1280,339 1299,338 1317,347" fill="#e8dcd0"/><polygon points="-10,426 -25,426 -39,399 -26,380 -8,384 2,402" fill="#b89a80"/><polygon points="-12,429 -8,403 19,393 50,408 41,434 11,444" fill="#c0a488"/><polygon points="42,406 64,398 88,402 99,422 84,433 60,435 45,422" fill="#d8c4a8"/><polygon points="110,370 145,380 153,404 129,426 92,412 98,389" fill="#a88068"/><polygon points="1060,390 1079,375 1113,369 1143,381 1143,404 1117,415 1088,415 1058,405" fill="#e0d0c0"/><polygon points="1141,437 1118,438 1099,425 1106,400 1112,389 1144,393 1163,410 1157,424" fill="#c0a488"/><polygon points="1179,428 1149,419 1153,400 1169,394 1215,395 1220,412 1215,424" fill="#d8c4a8"/><polygon points="1250,442 1230,431 1226,404 1241,389 1264,399 1269,420" fill="#b08870"/><polygon points="1304,381 1304,403 1286,419 1257,416 1248,387 1268,372" fill="#c8b4a0"/><polygon points="1326,390 1347,398 1358,430 1346,457 1324,454 1306,428" fill="#e0d0c0"/><polygon points="-21,422 10,442 -16,466 -38,468 -67,452 -48,423" fill="#c4a890"/><polygon points="27,443 37,461 26,478 7,481 -11,468 -9,445 10,438" fill="#c4a890"/><polygon points="93,441 85,456 45,465 33,449 27,429 65,417" fill="#d4c0aa"/><polygon points="128,456 98,456 90,445 87,428 95,414 124,419 138,428 139,445" fill="#c8b4a0"/><polygon points="133,451 150,439 167,449 169,470 161,486 134,485 125,468" fill="#b89a80"/><polygon points="1154,442 1136,463 1099,460 1094,441 1112,412 1140,421" fill="#c0a488"/><polygon points="1148,426 1161,423 1181,424 1185,436 1187,455 1164,465 1155,462 1146,449" fill="#e8dcd0"/><polygon points="1246,466 1231,475 1199,475 1189,463 1187,449 1199,439 1234,440 1240,452" fill="#d8c4a8"/><polygon points="1269,465 1232,458 1226,435 1254,418 1281,426 1285,452" fill="#a88068"/><polygon points="1262,472 1261,456 1298,446 1322,452 1317,481 1287,486" fill="#d8c4a8"/><polygon points="-38,521 -53,500 -43,475 -31,474 -5,475 9,499 0,509 -15,521" fill="#c8b4a0"/><polygon points="17,502 11,479 32,465 57,471 71,489 43,512" fill="#e8dcd0"/><polygon points="52,493 61,476 85,476 107,483 114,508 94,521 76,523 54,512" fill="#a88068"/><polygon points="132,535 111,526 100,501 123,476 147,487 153,505" fill="#e8dcd0"/><polygon points="1103,502 1088,489 1091,471 1105,458 1124,461 1139,470 1135,492 1122,502" fill="#a88068"/><polygon points="1171,497 1160,518 1142,523 1118,511 1113,489 1120,479 1140,470 1161,475" fill="#b89a80"/><polygon points="1192,510 1172,507 1160,480 1175,466 1202,462 1215,471 1222,489 1208,509" fill="#c4a890"/><polygon points="1252,487 1225,494 1191,488 1181,473 1195,465 1228,451 1247,464 1258,477" fill="#e8dcd0"/><polygon points="1328,491 1305,518 1270,508 1260,471 1284,456 1319,461" fill="#c4a890"/><polygon points="1316,458 1335,453 1361,473 1361,485 1338,497 1311,499 1296,487 1288,474" fill="#b89a80"/><polygon points="-28,490 -6,503 -9,523 -26,539 -72,540 -90,526 -89,511 -55,493" fill="#e8dcd0"/><polygon points="-14,518 15,512 32,522 46,541 27,560 -13,554 -19,541" fill="#b08870"/><polygon points="95,509 105,520 94,539 59,549 44,528 40,514 70,495" fill="#e8dcd0"/><polygon points="153,544 143,555 114,559 96,547 89,539 105,517 122,515 147,527" fill="#e8dcd0"/><polygon points="143,498 167,499 180,524 166,544 143,548 112,530 112,507" fill="#a88068"/><polygon points="1123,492 1141,495 1149,523 1145,529 1121,545 1102,537 1088,511 1100,493" fill="#d4c0aa"/><polygon points="1143,561 1119,549 1117,533 1128,518 1149,517 1171,522 1187,544 1173,561" fill="#d4c0aa"/><polygon points="1177,510 1205,493 1223,502 1230,522 1209,536 1189,527" fill="#e8dcd0"/><polygon points="1224,549 1217,527 1246,506 1266,520 1267,539 1257,552" fill="#b08870"/><polygon points="1263,552 1254,540 1253,509 1282,497 1297,500 1329,518 1325,552 1293,563" fill="#a88068"/><polygon points="-28,534 -16,530 13,546 7,563 -1,578 -23,580 -51,564 -46,548" fill="#e0d0c0"/><polygon points="58,568 77,581 53,601 30,605 11,598 4,582 10,566 32,558" fill="#c0a488"/><polygon points="45,589 47,571 69,560 91,566 103,577 95,592 85,598 61,596" fill="#9a7860"/><polygon points="114,551 148,549 169,562 153,589 126,590 100,565" fill="#9a7860"/><polygon points="1084,577 1081,559 1096,551 1118,552 1139,560 1142,578 1124,591 1109,593" fill="#a88068"/><polygon points="1166,529 1184,556 1170,595 1137,587 1117,558 1138,534" fill="#a88068"/><polygon points="1164,562 1192,546 1220,554 1231,574 1212,597 1178,601 1166,587" fill="#d8c4a8"/><polygon points="1220,546 1250,542 1290,563 1274,591 1232,600 1209,577" fill="#b08870"/><polygon points="1287,558 1302,581 1291,604 1260,609 1238,586 1250,557" fill="#b89a80"/><polygon points="1342,537 1355,540 1368,560 1353,580 1336,588 1317,579 1300,567 1321,543" fill="#a88068"/><polygon points="-42,593 -14,575 11,589 11,616 -13,624 -47,612" fill="#d8c4a8"/><polygon points="47,633 20,639 -2,630 4,597 27,592 49,593 55,620" fill="#9a7860"/><polygon points="95,633 64,654 39,638 29,610 49,596 81,593 106,610" fill="#9a7860"/><polygon points="65,593 87,583 122,589 131,600 124,610 109,625 83,620 64,603" fill="#b89a80"/><polygon points="106,605 116,582 158,577 172,602 151,617 131,622" fill="#e0d0c0"/><polygon points="1105,623 1099,638 1079,643 1062,630 1061,622 1067,609 1089,601 1105,616" fill="#9a7860"/><polygon points="1092,628 1083,601 1094,591 1108,583 1127,588 1138,614 1129,624 1101,635" fill="#9a7860"/><polygon points="1180,636 1150,646 1131,631 1129,619 1147,605 1166,604 1184,625" fill="#c8b4a0"/><polygon points="1236,648 1213,643 1204,614 1220,602 1247,604 1250,631" fill="#b89a80"/><polygon points="1276,627 1245,640 1230,632 1208,617 1216,593 1233,585 1274,587 1284,600" fill="#c0a488"/><polygon points="1322,640 1303,639 1284,624 1287,604 1321,595 1332,615" fill="#d4c0aa"/><polygon points="7,617 14,627 21,637 10,659 -3,660 -15,660 -21,634 -11,621" fill="#d4c0aa"/><polygon points="9,649 46,633 83,646 84,676 44,694 4,675" fill="#e0d0c0"/><polygon points="70,684 48,665 52,645 85,632 124,651 120,678" fill="#b89a80"/><polygon points="114,616 141,625 143,641 117,652 97,645 95,630" fill="#d8c4a8"/><polygon points="190,638 193,659 173,673 154,673 134,655 135,639 155,626" fill="#b08870"/><polygon points="1114,634 1115,642 1098,656 1075,664 1056,651 1055,636 1068,621 1094,622" fill="#e8dcd0"/><polygon points="1116,647 1119,626 1144,623 1169,631 1169,648 1160,658 1137,668 1121,655" fill="#e0d0c0"/><polygon points="1189,665 1155,665 1141,641 1143,623 1182,611 1200,621 1203,650" fill="#d4c0aa"/><polygon points="1233,633 1263,638 1271,658 1259,666 1225,665 1220,648" fill="#c4a890"/><polygon points="1296,630 1305,657 1288,685 1266,685 1250,662 1254,637 1267,624" fill="#e0d0c0"/><polygon points="1350,611 1361,629 1350,661 1318,671 1305,663 1288,625 1305,610" fill="#c0a488"/><polygon points="-49,672 -21,661 8,681 6,707 -20,712 -63,702" fill="#e8dcd0"/><polygon points="54,690 57,701 38,725 3,724 -9,705 -16,690 7,670 36,671" fill="#e8dcd0"/><polygon points="51,709 33,684 58,664 85,665 109,682 113,708 83,716" fill="#e8dcd0"/><polygon points="106,726 79,719 67,697 92,676 109,684 122,711" fill="#d4c0aa"/><polygon points="165,679 161,701 140,704 128,695 126,684 141,666 159,667" fill="#d8c4a8"/><polygon points="180,664 203,666 219,692 214,702 194,712 165,710 157,688 159,681" fill="#9a7860"/><polygon points="221,719 214,689 236,672 264,673 292,692 287,713 245,727" fill="#e8dcd0"/><polygon points="1049,691 1035,691 1012,692 1000,681 1008,664 1026,653 1042,661 1053,670" fill="#d8c4a8"/><polygon points="1020,672 1054,661 1089,668 1101,681 1082,697 1048,705 1029,691" fill="#e0d0c0"/><polygon points="1121,712 1087,706 1075,685 1088,674 1124,665 1145,675 1148,696" fill="#b08870"/><polygon points="1218,709 1183,731 1146,718 1131,695 1154,669 1194,670 1217,694" fill="#e8dcd0"/><polygon points="1223,681 1239,694 1246,710 1230,725 1209,732 1187,717 1185,702 1190,687" fill="#9a7860"/><polygon points="1240,655 1263,659 1279,686 1268,697 1237,703 1222,673" fill="#a88068"/><polygon points="1289,708 1272,705 1272,683 1290,667 1305,674 1319,689 1309,708" fill="#9a7860"/><polygon points="-21,740 -33,716 -33,703 2,703 16,720 3,738" fill="#a88068"/><polygon points="45,702 76,708 85,728 61,744 38,738 27,726 30,711" fill="#c8b4a0"/><polygon points="117,733 94,748 67,740 67,719 72,691 96,689 119,705" fill="#d8c4a8"/><polygon points="144,703 165,715 166,729 151,745 116,741 109,723 117,712" fill="#e0d0c0"/><polygon points="203,709 216,723 216,741 193,754 178,745 172,737 172,718 196,708" fill="#e8dcd0"/><polygon points="245,726 256,738 251,753 233,766 211,764 201,756 197,739 224,723" fill="#b89a80"/><polygon points="272,713 292,739 276,760 253,760 228,736 239,715" fill="#d4c0aa"/><polygon points="976,700 1012,728 998,762 964,761 936,743 941,716" fill="#e0d0c0"/><polygon points="975,724 979,704 1008,698 1037,704 1040,723 1021,733 988,736" fill="#e8dcd0"/><polygon points="1077,750 1054,748 1031,737 1041,717 1056,704 1073,706 1098,720 1097,737" fill="#c4a890"/><polygon points="1136,724 1140,742 1119,766 1099,764 1076,741 1094,718 1111,708" fill="#d8c4a8"/><polygon points="1175,721 1182,731 1164,757 1139,754 1130,735 1126,717 1153,706" fill="#9a7860"/><polygon points="1210,723 1194,751 1150,744 1129,720 1158,694 1195,700" fill="#a88068"/><polygon points="1244,710 1253,732 1230,754 1192,745 1182,728 1215,702" fill="#e8dcd0"/><polygon points="1257,767 1228,742 1244,721 1286,713 1312,722 1314,754 1288,771" fill="#d4c0aa"/><polygon points="1351,752 1331,756 1314,746 1305,724 1326,705 1343,704 1359,720 1355,738" fill="#c4a890"/><polygon points="-51,781 -57,765 -40,751 -14,746 8,755 10,781 -11,795 -39,799" fill="#b89a80"/><polygon points="59,769 64,787 52,804 25,813 11,797 8,772 28,763" fill="#c8b4a0"/><polygon points="33,752 63,753 72,766 63,788 36,793 28,775" fill="#c8b4a0"/><polygon points="101,782 81,772 74,749 91,731 119,737 129,754 120,771" fill="#9a7860"/><polygon points="197,752 189,779 162,784 135,768 145,740 172,739" fill="#b08870"/><polygon points="169,759 186,739 201,736 224,739 249,752 240,777 212,788 190,780" fill="#c4a890"/><polygon points="252,757 280,755 294,787 282,800 244,795 237,770" fill="#e0d0c0"/><polygon points="330,771 315,785 292,787 274,782 267,769 283,749 299,744 320,754" fill="#e8dcd0"/><polygon points="319,746 350,743 386,750 393,770 378,786 360,792 326,785 316,773" fill="#d8c4a8"/><polygon points="879,776 861,799 836,803 819,794 810,769 837,757 866,765" fill="#e8dcd0"/><polygon points="873,785 866,761 883,745 892,737 914,751 925,762 908,792 899,794" fill="#c4a890"/><polygon points="964,784 930,782 922,772 923,760 946,750 971,752 987,761 979,782" fill="#c0a488"/><polygon points="954,745 984,749 1003,758 1001,774 966,787 942,779 925,772 931,755" fill="#e8dcd0"/><polygon points="1003,766 1021,736 1045,733 1058,744 1059,777 1046,787 1012,786" fill="#c0a488"/><polygon points="1042,753 1056,740 1088,746 1095,756 1073,773 1050,770" fill="#d4c0aa"/><polygon points="1143,769 1145,781 1125,809 1104,807 1082,780 1092,761 1102,747 1121,741" fill="#d8c4a8"/><polygon points="1157,802 1126,790 1133,771 1158,763 1192,768 1189,787" fill="#d4c0aa"/><polygon points="1226,801 1205,809 1184,799 1188,771 1199,759 1222,764 1233,784" fill="#b08870"/><polygon points="1251,801 1223,777 1227,756 1253,737 1279,759 1269,786" fill="#d4c0aa"/><polygon points="1328,749 1334,768 1320,789 1293,786 1282,775 1283,751 1302,742" fill="#a88068"/><polygon points="29,792 32,815 25,832 9,842 -21,838 -37,819 -25,792 -3,790" fill="#b89a80"/><polygon points="39,782 56,776 72,799 69,813 51,820 38,821 27,811 29,788" fill="#c0a488"/><polygon points="116,830 84,841 58,822 63,802 91,796 120,804" fill="#e0d0c0"/><polygon points="118,811 139,799 161,806 159,823 138,837 121,827" fill="#d4c0aa"/><polygon points="143,829 134,796 146,781 175,781 199,800 190,827 161,835" fill="#e8dcd0"/><polygon points="243,793 243,807 238,824 221,829 206,826 192,816 189,801 220,790" fill="#e0d0c0"/><polygon points="291,778 319,796 288,832 264,828 239,808 248,776" fill="#b08870"/><polygon points="299,777 335,793 330,810 309,824 277,816 279,790" fill="#9a7860"/><polygon points="384,816 381,830 351,836 319,834 306,826 315,809 338,801 363,798" fill="#e8dcd0"/><polygon points="396,798 438,816 427,834 388,842 358,831 375,804" fill="#c8b4a0"/><polygon points="493,788 485,813 452,823 428,812 420,796 438,770 450,764 482,781" fill="#b89a80"/><polygon points="556,798 548,826 495,837 478,809 496,785 525,782" fill="#e8dcd0"/><polygon points="606,802 616,814 618,830 591,850 576,849 555,833 555,810 578,798" fill="#e8dcd0"/><polygon points="781,783 818,796 826,810 815,829 790,845 769,834 750,817 768,791" fill="#d4c0aa"/><polygon points="823,842 802,830 798,814 823,801 851,803 866,823 848,838" fill="#c0a488"/><polygon points="870,836 837,816 844,784 874,780 907,794 906,826" fill="#b89a80"/><polygon points="914,784 943,800 942,814 924,829 882,823 881,804 887,794" fill="#d8c4a8"/><polygon points="961,779 974,785 990,799 983,817 946,823 928,816 927,797 927,786" fill="#c0a488"/><polygon points="1036,831 1010,832 990,812 1007,795 1022,788 1045,799 1050,822" fill="#e8dcd0"/><polygon points="1016,805 1044,786 1064,796 1075,822 1045,839 1020,824" fill="#b89a80"/><polygon points="1087,791 1116,782 1142,802 1142,819 1138,838 1097,841 1086,832 1074,807" fill="#b89a80"/><polygon points="1183,833 1162,848 1142,848 1131,834 1128,813 1155,794 1172,808" fill="#b08870"/><polygon points="1186,827 1165,816 1166,785 1178,777 1205,768 1221,792 1205,820" fill="#b89a80"/><polygon points="1216,803 1212,790 1238,780 1265,782 1284,787 1278,804 1259,821 1238,816" fill="#a88068"/><polygon points="1306,808 1305,820 1286,832 1261,833 1240,820 1246,806 1270,798" fill="#b89a80"/><polygon points="1313,788 1342,788 1353,808 1338,826 1311,828 1302,803" fill="#c0a488"/><polygon points="-22,829 -4,832 9,845 3,857 -13,863 -21,865 -36,854 -30,836" fill="#e0d0c0"/><polygon points="45,834 38,846 23,853 0,854 -18,835 -11,828 5,817 28,818" fill="#d8c4a8"/><polygon points="98,817 116,834 108,850 77,858 52,855 37,842 41,820 72,810" fill="#c0a488"/><polygon points="104,878 77,845 89,837 119,812 147,823 156,832 150,870 118,878" fill="#c8b4a0"/><polygon points="154,886 137,884 115,868 124,853 138,842 166,846 184,855 182,879" fill="#c4a890"/><polygon points="218,833 220,852 197,859 179,855 160,834 175,819 200,816" fill="#c4a890"/><polygon points="253,857 225,865 212,862 198,831 208,823 232,810 259,825 263,838" fill="#c8b4a0"/><polygon points="315,867 292,884 263,882 245,862 248,850 272,836 304,846" fill="#b89a80"/><polygon points="357,850 369,857 358,881 325,884 307,869 300,852 332,837" fill="#e0d0c0"/><polygon points="358,876 351,852 362,834 388,836 403,845 412,864 387,882" fill="#e0d0c0"/><polygon points="454,823 464,854 449,872 412,865 409,847 419,819" fill="#c4a890"/><polygon points="487,882 459,879 449,869 456,848 470,839 494,841 516,862 508,869" fill="#b08870"/><polygon points="499,846 524,845 545,863 524,884 499,887 472,866" fill="#b08870"/><polygon points="526,832 563,830 586,850 578,868 539,880 520,862" fill="#b89a80"/><polygon points="594,839 610,839 630,851 631,859 617,876 591,875 572,868 571,853" fill="#c4a890"/><polygon points="670,870 639,868 616,844 610,818 641,808 672,816 682,829" fill="#a88068"/><polygon points="742,851 710,858 688,840 700,818 730,815 743,829" fill="#d4c0aa"/><polygon points="784,821 798,851 777,872 751,871 733,846 752,823" fill="#e8dcd0"/><polygon points="827,851 814,875 798,882 784,858 783,836 795,821 818,829" fill="#c4a890"/><polygon points="854,825 876,835 874,850 861,859 833,860 810,849 819,833 837,820" fill="#c4a890"/><polygon points="927,867 910,878 871,867 860,858 877,833 902,833 931,844" fill="#e8dcd0"/><polygon points="923,876 897,850 910,830 954,830 977,850 949,867" fill="#b89a80"/><polygon points="946,826 963,816 997,821 1012,831 999,846 986,854 948,853 943,844" fill="#d4c0aa"/><polygon points="1061,840 1040,853 1021,856 1013,845 1006,825 1016,814 1047,815 1058,827" fill="#b89a80"/><polygon points="1086,847 1069,859 1043,853 1035,829 1068,821 1082,826" fill="#b08870"/><polygon points="1079,817 1126,817 1135,833 1132,855 1100,859 1075,850 1070,834" fill="#9a7860"/><polygon points="1139,842 1146,832 1168,821 1194,821 1214,840 1216,857 1178,864 1159,862" fill="#c0a488"/><polygon points="1193,827 1217,818 1240,832 1247,851 1216,867 1190,853" fill="#9a7860"/><polygon points="1279,865 1240,854 1238,834 1276,822 1302,838 1305,855" fill="#c8b4a0"/><polygon points="1278,854 1296,839 1332,838 1355,842 1360,865 1350,876 1327,880 1296,872" fill="#c8b4a0"/><polygon points="-16,905 -34,892 -30,872 -6,855 12,855 27,867 30,890 11,902" fill="#d8c4a8"/><polygon points="8,854 41,851 57,871 42,899 13,895 -10,875" fill="#b08870"/><polygon points="58,905 78,885 117,886 144,903 123,923 94,929" fill="#b08870"/><polygon points="147,905 111,916 96,901 102,872 132,872 148,883" fill="#9a7860"/><polygon points="183,885 197,900 190,915 169,922 148,909 161,889" fill="#b08870"/><polygon points="238,891 214,900 196,884 204,861 220,851 243,860 247,879" fill="#c4a890"/><polygon points="267,862 300,874 299,897 279,906 235,893 240,871" fill="#b08870"/><polygon points="334,917 316,919 295,904 299,889 318,878 331,877 343,893 345,916" fill="#c8b4a0"/><polygon points="385,912 354,910 335,893 356,869 391,871 416,892" fill="#c8b4a0"/><polygon points="436,891 422,892 389,897 371,886 377,865 387,859 417,857 443,868" fill="#c0a488"/><polygon points="471,856 487,866 498,880 489,901 458,905 448,887 449,871" fill="#9a7860"/><polygon points="464,878 486,871 508,878 525,897 512,914 494,922 470,919 456,902" fill="#d4c0aa"/><polygon points="521,876 567,862 594,876 590,894 570,910 527,895" fill="#d8c4a8"/><polygon points="574,881 600,886 605,914 583,925 565,919 564,892" fill="#e0d0c0"/><polygon points="608,874 645,872 676,889 664,921 634,933 605,914" fill="#e8dcd0"/><polygon points="636,872 656,857 688,858 700,888 684,906 641,898" fill="#b89a80"/><polygon points="740,883 755,885 779,898 779,918 752,929 734,925 709,910 701,897" fill="#b89a80"/><polygon points="776,922 749,915 740,895 750,873 759,866 786,869 798,887 797,911" fill="#c0a488"/><polygon points="815,886 832,898 821,923 798,930 768,909 784,886" fill="#b89a80"/><polygon points="888,900 858,898 851,877 860,864 887,849 916,866 914,883" fill="#9a7860"/><polygon points="937,901 929,920 912,923 890,918 887,901 892,893 906,886 930,893" fill="#b08870"/><polygon points="985,895 969,907 930,911 916,896 928,878 964,873" fill="#b89a80"/><polygon points="1019,902 987,920 960,912 956,881 978,868 1004,864 1023,889" fill="#e8dcd0"/><polygon points="1055,877 1060,894 1046,915 1025,913 1012,900 1018,887 1034,869" fill="#e0d0c0"/><polygon points="1090,872 1116,872 1129,897 1113,920 1084,923 1065,913 1071,881" fill="#b89a80"/><polygon points="1152,857 1177,871 1171,906 1142,905 1125,892 1125,866" fill="#b08870"/><polygon points="1207,895 1183,906 1166,893 1159,875 1174,855 1193,852 1213,875" fill="#c4a890"/><polygon points="1228,916 1218,891 1235,857 1263,860 1282,884 1271,910" fill="#9a7860"/><polygon points="1304,884 1313,893 1323,909 1305,924 1280,918 1275,911 1282,892" fill="#9a7860"/><polygon points="1299,901 1302,891 1329,882 1371,894 1373,909 1352,922 1323,921" fill="#c0a488"/><polygon points="-9,914 -14,934 -45,942 -57,941 -81,929 -68,906 -39,893 -22,896" fill="#b89a80"/><polygon points="9,967 -15,953 -9,927 9,908 32,915 46,944 35,967" fill="#e0d0c0"/><polygon points="73,958 46,961 26,942 42,917 60,915 95,927 96,948" fill="#b89a80"/><polygon points="122,923 103,941 77,943 66,934 61,905 79,895 97,891 118,907" fill="#9a7860"/><polygon points="171,902 193,920 180,936 166,942 132,929 126,913 141,905" fill="#e8dcd0"/><polygon points="166,911 180,896 211,895 224,910 212,931 187,940 166,931" fill="#b89a80"/><polygon points="262,949 248,957 225,962 200,942 207,924 239,915 260,925" fill="#d4c0aa"/><polygon points="286,889 308,901 311,920 292,940 264,924 264,911" fill="#d4c0aa"/><polygon points="375,945 359,953 338,949 329,926 343,908 372,910 383,925" fill="#b89a80"/><polygon points="398,941 387,952 359,956 338,946 349,920 366,912 384,916" fill="#c0a488"/><polygon points="416,912 436,904 462,905 472,917 471,938 441,959 422,958 411,942" fill="#d4c0aa"/><polygon points="455,906 477,899 508,907 509,924 503,930 471,939 455,931 446,916" fill="#d4c0aa"/><polygon points="514,953 491,946 491,911 510,897 537,897 549,931 541,949" fill="#d4c0aa"/><polygon points="540,964 528,954 528,931 562,924 590,932 578,966" fill="#e8dcd0"/><polygon points="653,926 648,949 627,966 597,963 580,949 581,923 600,911 639,912" fill="#b08870"/><polygon points="658,919 682,927 689,957 670,973 634,965 627,931" fill="#c8b4a0"/><polygon points="716,889 741,902 753,924 742,933 711,949 691,942 686,923 691,908" fill="#b89a80"/><polygon points="795,928 775,958 749,960 722,943 739,916 780,916" fill="#c4a890"/><polygon points="767,926 787,913 813,921 815,945 793,959 772,948" fill="#b89a80"/><polygon points="844,898 854,924 840,942 820,940 807,909 825,892" fill="#e0d0c0"/><polygon points="852,936 854,900 873,894 905,908 908,934 877,945" fill="#9a7860"/><polygon points="895,929 924,914 949,912 980,931 980,949 938,962 903,951" fill="#d4c0aa"/><polygon points="1012,913 1009,932 988,943 968,938 948,928 951,909 969,894 1002,899" fill="#c4a890"/><polygon points="1042,924 1052,932 1024,952 995,953 980,948 973,929 986,920 1024,916" fill="#c4a890"/><polygon points="1074,886 1101,899 1116,910 1111,931 1090,949 1060,937 1045,924 1057,904" fill="#c4a890"/><polygon points="1083,963 1068,953 1072,931 1100,921 1119,918 1137,937 1142,953 1109,962" fill="#e0d0c0"/><polygon points="1128,945 1122,922 1146,910 1173,915 1181,951 1157,960" fill="#b89a80"/><polygon points="1193,915 1209,899 1236,894 1263,913 1248,941 1228,953 1199,945" fill="#b08870"/><polygon points="1249,963 1225,947 1248,921 1285,924 1303,931 1299,957 1280,964" fill="#b08870"/><polygon points="1300,899 1328,910 1335,929 1306,955 1285,945 1267,930 1279,905" fill="#c4a890"/><polygon points="23,961 12,981 -17,979 -31,972 -36,945 -9,927 10,935" fill="#9a7860"/><polygon points="-17,973 0,952 45,947 64,968 46,991 13,989" fill="#b89a80"/><polygon points="63,978 55,959 68,948 88,942 112,954 111,969 99,984 80,987" fill="#a88068"/><polygon points="138,964 125,992 92,986 87,964 99,946 126,940" fill="#d8c4a8"/><polygon points="146,940 166,933 189,953 196,974 173,990 151,992 128,970 129,956" fill="#c0a488"/><polygon points="191,993 186,974 203,952 237,960 248,977 241,995 213,1007" fill="#b89a80"/><polygon points="231,984 253,958 274,969 278,996 266,1011 234,1004" fill="#a88068"/><polygon points="330,980 304,983 294,953 309,929 338,933 348,951 343,974" fill="#c0a488"/><polygon points="342,949 360,950 380,963 378,983 364,993 337,993 326,969" fill="#9a7860"/><polygon points="423,972 417,981 395,993 382,993 359,982 361,965 389,951 408,955" fill="#d4c0aa"/><polygon points="397,976 400,959 434,949 470,962 475,983 428,990" fill="#e8dcd0"/><polygon points="503,957 522,972 522,989 503,1000 482,992 473,972" fill="#d8c4a8"/><polygon points="528,981 526,953 551,933 589,943 587,975 551,986" fill="#e8dcd0"/><polygon points="652,955 629,970 593,973 566,957 568,946 606,931 624,936" fill="#c0a488"/><polygon points="611,953 620,943 650,931 667,950 665,964 655,988 624,988 612,975" fill="#b89a80"/><polygon points="711,957 704,974 686,984 651,979 649,959 660,947 694,948" fill="#c4a890"/><polygon points="748,971 750,987 719,999 694,996 674,987 669,969 690,955 728,955" fill="#c8b4a0"/><polygon points="777,932 796,953 792,983 773,996 743,987 735,956 745,937" fill="#c8b4a0"/><polygon points="788,953 816,939 837,954 844,971 816,986 793,979" fill="#c8b4a0"/><polygon points="874,964 866,991 846,1001 825,989 832,960 852,946" fill="#b08870"/><polygon points="887,975 913,959 946,959 958,978 950,999 913,1006 897,998" fill="#d8c4a8"/><polygon points="930,942 955,930 988,942 987,969 957,983 930,974" fill="#c0a488"/><polygon points="968,976 969,959 979,948 1003,945 1022,962 1012,990 989,992" fill="#a88068"/><polygon points="1041,941 1056,953 1060,979 1045,992 1028,987 1012,965 1019,950" fill="#c0a488"/><polygon points="1090,939 1109,934 1128,953 1123,966 1095,975 1076,966 1073,955" fill="#d4c0aa"/><polygon points="1125,951 1140,946 1161,960 1159,981 1140,995 1122,979" fill="#c0a488"/><polygon points="1192,936 1219,941 1221,959 1218,982 1201,1000 1181,997 1168,971 1173,952" fill="#c0a488"/><polygon points="1235,945 1253,939 1280,958 1265,974 1240,978 1217,967" fill="#e8dcd0"/><polygon points="1245,973 1266,957 1285,957 1304,977 1306,990 1283,1009 1260,1004 1245,993" fill="#e0d0c0"/><polygon points="1292,1003 1287,986 1296,962 1316,957 1341,965 1354,985 1343,996 1316,1006" fill="#c0a488"/></g>
<g filter="url(#p3m)"><path d="M980 -20C1032 -33 1238 -73 1290 -20C1342 33 1302 250 1290 300C1278 350 1248 288 1220 280C1192 272 1153 270 1120 250C1087 230 1043 192 1020 160C997 128 987 90 980 60C973 30 928 -7 980 -20Z" fill="#a87a60"/><ellipse cx="1150" cy="120" rx="100" ry="90" fill="#b87e5a"/><path d="M-20 760C-7 722 27 733 60 730C93 727 148 728 180 740C212 752 237 777 250 800C263 823 265 853 260 880C255 907 267 947 220 960C173 973 20 993 -20 960C-60 927 -33 798 -20 760Z" fill="#cfd0d0"/><ellipse cx="90" cy="820" rx="80" ry="50" fill="#e4e6e6"/></g>
<g filter="url(#p3m)" opacity="0.55"><path d="M20 380C27 327 43 265 70 220C97 175 137 135 180 110C223 85 260 72 330 70C400 68 508 102 600 100C692 98 807 55 880 55C953 55 985 61 1040 100C1095 139 1178 230 1210 290C1242 350 1233 405 1230 460C1227 515 1212 572 1190 620C1168 668 1135 710 1100 750C1065 790 1027 832 980 860C933 888 897 913 820 920C743 927 593 913 520 900C447 887 447 877 380 840C313 803 178 730 120 680C62 630 47 590 30 540C13 490 13 433 20 380Z" fill="#3e2e24"/></g>
<g filter="url(#p3s)"><path d="M30 380C35 328 55 272 80 230C105 188 138 154 180 130C222 106 280 92 330 85C380 78 437 84 480 90C523 96 568 102 590 120C612 138 612 153 615 200C618 247 613 333 605 400C597 467 582 535 565 600C548 665 521 750 505 790C489 830 491 834 470 840C449 846 417 838 380 825C343 812 292 792 250 765C208 738 163 702 130 665C97 628 67 588 50 540C33 492 25 432 30 380Z" fill="#b28a6c"/><path d="M610 130C627 102 675 90 720 80C765 70 830 65 880 70C930 75 978 88 1020 110C1062 132 1100 168 1130 200C1160 232 1186 258 1200 300C1214 342 1215 400 1212 450C1209 500 1201 552 1182 600C1163 648 1134 694 1100 735C1066 776 1027 817 980 845C933 873 875 893 820 905C765 917 700 918 650 915C600 912 548 898 520 885C492 872 480 866 480 835C480 804 503 764 520 700C537 636 563 525 580 450C597 375 615 303 620 250C625 197 593 158 610 130Z" fill="#b28a6c"/></g>
<g filter="url(#p3c)"><path d="M60 380C66 335 87 287 110 250C133 213 163 182 200 160C237 138 285 127 330 120C375 113 432 115 470 120C508 125 542 128 560 150C578 172 575 205 575 250C575 295 569 362 560 420C551 478 535 540 520 600C505 660 493 748 470 780C447 812 415 798 380 790C345 782 298 755 260 730C222 705 181 675 150 640C119 605 90 563 75 520C60 477 54 425 60 380Z" fill="#a67c6a"/><path d="M660 160C678 132 723 124 760 115C797 106 838 101 880 105C922 109 972 121 1010 140C1048 159 1083 190 1110 220C1137 250 1158 282 1170 320C1182 358 1183 405 1180 450C1177 495 1168 547 1150 590C1132 633 1102 673 1070 710C1038 747 1002 783 960 810C918 837 870 859 820 870C770 881 707 878 660 875C613 872 557 876 540 850C523 824 548 782 560 720C572 658 595 553 610 480C625 407 642 333 650 280C658 227 642 188 660 160Z" fill="#a67c6a"/></g>
<g filter="url(#p3m)"><ellipse cx="330" cy="330" rx="150" ry="130" fill="#a8847a"/><ellipse cx="880" cy="380" rx="180" ry="160" fill="#a8847a"/></g>
<g filter="url(#p3m)" opacity="0.8"><ellipse cx="542" cy="230" rx="32" ry="11" fill="#c89468"/><ellipse cx="889" cy="429" rx="19" ry="16" fill="#cc9870"/><ellipse cx="710" cy="738" rx="20" ry="13" fill="#c08a60"/><ellipse cx="897" cy="482" rx="36" ry="19" fill="#b8845e"/><ellipse cx="469" cy="393" rx="35" ry="11" fill="#c08a60"/><ellipse cx="409" cy="463" rx="31" ry="21" fill="#c89468"/><ellipse cx="908" cy="167" rx="32" ry="12" fill="#cc9870"/><ellipse cx="1102" cy="346" rx="25" ry="21" fill="#c89468"/><ellipse cx="365" cy="485" rx="24" ry="14" fill="#cc9870"/><ellipse cx="713" cy="248" rx="29" ry="16" fill="#c08a60"/><ellipse cx="1088" cy="797" rx="29" ry="14" fill="#c08a60"/><ellipse cx="178" cy="171" rx="23" ry="14" fill="#cc9870"/><ellipse cx="264" cy="255" rx="31" ry="22" fill="#c89468"/><ellipse cx="692" cy="224" rx="34" ry="15" fill="#c89468"/><ellipse cx="1116" cy="240" rx="29" ry="15" fill="#c08a60"/><ellipse cx="765" cy="208" rx="20" ry="11" fill="#b8845e"/><ellipse cx="529" cy="458" rx="21" ry="17" fill="#c89468"/><ellipse cx="139" cy="393" rx="29" ry="19" fill="#b8845e"/><ellipse cx="249" cy="557" rx="28" ry="11" fill="#c08a60"/><ellipse cx="1095" cy="722" rx="34" ry="12" fill="#b8845e"/><ellipse cx="852" cy="200" rx="30" ry="16" fill="#cc9870"/><ellipse cx="817" cy="218" rx="32" ry="18" fill="#cc9870"/><ellipse cx="652" cy="809" rx="29" ry="20" fill="#cc9870"/><ellipse cx="167" cy="431" rx="20" ry="19" fill="#c08a60"/><ellipse cx="1073" cy="520" rx="38" ry="19" fill="#c89468"/><ellipse cx="785" cy="417" rx="28" ry="12" fill="#b8845e"/><ellipse cx="1118" cy="675" rx="37" ry="22" fill="#c89468"/><ellipse cx="645" cy="442" rx="33" ry="20" fill="#b8845e"/><ellipse cx="956" cy="829" rx="34" ry="14" fill="#c08a60"/><ellipse cx="251" cy="754" rx="35" ry="14" fill="#b8845e"/><ellipse cx="258" cy="729" rx="28" ry="18" fill="#b8845e"/><ellipse cx="945" cy="401" rx="27" ry="16" fill="#c08a60"/><ellipse cx="104" cy="612" rx="23" ry="15" fill="#c08a60"/><ellipse cx="1070" cy="850" rx="23" ry="20" fill="#b8845e"/><ellipse cx="505" cy="409" rx="25" ry="22" fill="#cc9870"/><ellipse cx="469" cy="526" rx="35" ry="14" fill="#c08a60"/><ellipse cx="821" cy="611" rx="34" ry="22" fill="#c08a60"/><ellipse cx="678" cy="579" rx="32" ry="11" fill="#cc9870"/><ellipse cx="981" cy="343" rx="29" ry="12" fill="#b8845e"/><ellipse cx="972" cy="370" rx="19" ry="21" fill="#c89468"/><ellipse cx="809" cy="736" rx="34" ry="19" fill="#b8845e"/><ellipse cx="435" cy="759" rx="19" ry="21" fill="#b8845e"/><ellipse cx="147" cy="713" rx="21" ry="19" fill="#c08a60"/><ellipse cx="179" cy="335" rx="22" ry="19" fill="#c08a60"/><ellipse cx="633" cy="706" rx="22" ry="12" fill="#b8845e"/><ellipse cx="189" cy="465" rx="20" ry="19" fill="#c08a60"/><ellipse cx="1131" cy="236" rx="25" ry="15" fill="#c89468"/><ellipse cx="286" cy="588" rx="27" ry="18" fill="#b8845e"/><ellipse cx="529" cy="514" rx="36" ry="21" fill="#cc9870"/><ellipse cx="1019" cy="701" rx="22" ry="13" fill="#cc9870"/><ellipse cx="1078" cy="339" rx="31" ry="16" fill="#b8845e"/><ellipse cx="924" cy="421" rx="21" ry="16" fill="#cc9870"/><ellipse cx="263" cy="172" rx="25" ry="21" fill="#b8845e"/><ellipse cx="84" cy="775" rx="35" ry="10" fill="#c89468"/><ellipse cx="534" cy="634" rx="35" ry="17" fill="#c08a60"/><ellipse cx="316" cy="772" rx="32" ry="14" fill="#b8845e"/><ellipse cx="227" cy="214" rx="35" ry="18" fill="#cc9870"/><ellipse cx="240" cy="384" rx="34" ry="14" fill="#c08a60"/><ellipse cx="1129" cy="617" rx="31" ry="11" fill="#c89468"/><ellipse cx="876" cy="483" rx="21" ry="12" fill="#b8845e"/><ellipse cx="1046" cy="674" rx="30" ry="13" fill="#b8845e"/><ellipse cx="491" cy="432" rx="31" ry="16" fill="#cc9870"/><ellipse cx="353" cy="614" rx="25" ry="17" fill="#cc9870"/><ellipse cx="351" cy="278" rx="28" ry="17" fill="#c89468"/><ellipse cx="620" cy="535" rx="31" ry="14" fill="#c89468"/><ellipse cx="744" cy="775" rx="22" ry="11" fill="#c08a60"/><ellipse cx="476" cy="349" rx="19" ry="10" fill="#c08a60"/><ellipse cx="928" cy="601" rx="18" ry="20" fill="#b8845e"/><ellipse cx="116" cy="298" rx="35" ry="20" fill="#c08a60"/><ellipse cx="715" cy="800" rx="33" ry="20" fill="#cc9870"/><ellipse cx="842" cy="246" rx="21" ry="19" fill="#b8845e"/><ellipse cx="849" cy="176" rx="26" ry="18" fill="#c08a60"/><ellipse cx="447" cy="348" rx="21" ry="11" fill="#b8845e"/><ellipse cx="326" cy="530" rx="26" ry="13" fill="#c89468"/><ellipse cx="466" cy="563" rx="35" ry="19" fill="#cc9870"/><ellipse cx="474" cy="300" rx="36" ry="15" fill="#cc9870"/><ellipse cx="1095" cy="839" rx="30" ry="17" fill="#cc9870"/><ellipse cx="324" cy="362" rx="37" ry="17" fill="#c89468"/><ellipse cx="401" cy="729" rx="25" ry="12" fill="#b8845e"/><ellipse cx="228" cy="510" rx="31" ry="19" fill="#cc9870"/><ellipse cx="1125" cy="427" rx="33" ry="11" fill="#cc9870"/><ellipse cx="1127" cy="758" rx="26" ry="10" fill="#b8845e"/><ellipse cx="1104" cy="842" rx="22" ry="19" fill="#b8845e"/><ellipse cx="307" cy="516" rx="30" ry="11" fill="#cc9870"/><ellipse cx="338" cy="275" rx="31" ry="11" fill="#b8845e"/><ellipse cx="417" cy="733" rx="30" ry="22" fill="#b8845e"/><ellipse cx="1153" cy="824" rx="28" ry="16" fill="#c89468"/><ellipse cx="908" cy="620" rx="32" ry="16" fill="#cc9870"/><ellipse cx="898" cy="771" rx="31" ry="22" fill="#c89468"/><ellipse cx="1020" cy="548" rx="37" ry="17" fill="#cc9870"/><ellipse cx="770" cy="679" rx="36" ry="22" fill="#b8845e"/><ellipse cx="987" cy="577" rx="24" ry="21" fill="#cc9870"/><ellipse cx="414" cy="270" rx="29" ry="18" fill="#b8845e"/><ellipse cx="263" cy="495" rx="22" ry="19" fill="#b8845e"/><ellipse cx="1002" cy="455" rx="33" ry="10" fill="#b8845e"/><ellipse cx="328" cy="459" rx="19" ry="11" fill="#b8845e"/><ellipse cx="515" cy="216" rx="35" ry="15" fill="#cc9870"/><ellipse cx="484" cy="167" rx="21" ry="15" fill="#b8845e"/><ellipse cx="1120" cy="445" rx="20" ry="15" fill="#cc9870"/><ellipse cx="1043" cy="658" rx="23" ry="12" fill="#c89468"/><ellipse cx="326" cy="664" rx="25" ry="21" fill="#c08a60"/><ellipse cx="888" cy="545" rx="35" ry="21" fill="#b8845e"/><ellipse cx="255" cy="158" rx="20" ry="12" fill="#c08a60"/><ellipse cx="691" cy="246" rx="24" ry="21" fill="#cc9870"/><ellipse cx="418" cy="753" rx="26" ry="21" fill="#cc9870"/><ellipse cx="428" cy="345" rx="38" ry="21" fill="#c08a60"/><ellipse cx="516" cy="378" rx="32" ry="10" fill="#b8845e"/><ellipse cx="1000" cy="170" rx="31" ry="17" fill="#cc9870"/><ellipse cx="630" cy="152" rx="32" ry="11" fill="#c89468"/><ellipse cx="552" cy="682" rx="25" ry="16" fill="#b8845e"/><ellipse cx="737" cy="767" rx="31" ry="12" fill="#c89468"/><ellipse cx="378" cy="414" rx="22" ry="11" fill="#cc9870"/><ellipse cx="315" cy="293" rx="19" ry="14" fill="#b8845e"/><ellipse cx="1035" cy="258" rx="30" ry="22" fill="#b8845e"/><ellipse cx="410" cy="610" rx="18" ry="11" fill="#b8845e"/><ellipse cx="772" cy="531" rx="22" ry="12" fill="#c08a60"/><ellipse cx="1034" cy="234" rx="23" ry="19" fill="#b8845e"/><ellipse cx="545" cy="340" rx="36" ry="12" fill="#cc9870"/><ellipse cx="371" cy="294" rx="28" ry="18" fill="#b8845e"/><ellipse cx="903" cy="830" rx="33" ry="10" fill="#b8845e"/><ellipse cx="317" cy="322" rx="18" ry="16" fill="#cc9870"/><ellipse cx="1149" cy="591" rx="32" ry="16" fill="#c08a60"/><ellipse cx="673" cy="591" rx="19" ry="14" fill="#b8845e"/><ellipse cx="960" cy="697" rx="29" ry="21" fill="#cc9870"/><ellipse cx="769" cy="660" rx="34" ry="17" fill="#cc9870"/><ellipse cx="1026" cy="208" rx="26" ry="14" fill="#cc9870"/><ellipse cx="943" cy="185" rx="29" ry="21" fill="#c89468"/><ellipse cx="920" cy="420" rx="24" ry="13" fill="#b8845e"/><ellipse cx="606" cy="355" rx="26" ry="16" fill="#cc9870"/><ellipse cx="307" cy="294" rx="29" ry="12" fill="#c89468"/><ellipse cx="691" cy="306" rx="34" ry="21" fill="#cc9870"/><ellipse cx="730" cy="804" rx="20" ry="18" fill="#b8845e"/><ellipse cx="408" cy="200" rx="35" ry="17" fill="#b8845e"/><ellipse cx="971" cy="674" rx="31" ry="12" fill="#c08a60"/><ellipse cx="798" cy="393" rx="23" ry="19" fill="#c08a60"/><ellipse cx="962" cy="255" rx="26" ry="10" fill="#cc9870"/><ellipse cx="810" cy="303" rx="19" ry="17" fill="#cc9870"/><ellipse cx="518" cy="408" rx="23" ry="15" fill="#c08a60"/><ellipse cx="164" cy="483" rx="19" ry="14" fill="#b8845e"/><ellipse cx="1104" cy="434" rx="18" ry="15" fill="#c08a60"/><ellipse cx="730" cy="216" rx="36" ry="11" fill="#c89468"/><ellipse cx="286" cy="693" rx="38" ry="11" fill="#c08a60"/><ellipse cx="764" cy="538" rx="25" ry="13" fill="#b8845e"/><ellipse cx="733" cy="185" rx="23" ry="14" fill="#c08a60"/><ellipse cx="341" cy="316" rx="26" ry="21" fill="#c08a60"/><ellipse cx="441" cy="684" rx="32" ry="20" fill="#cc9870"/><ellipse cx="403" cy="472" rx="35" ry="14" fill="#b8845e"/><ellipse cx="211" cy="433" rx="33" ry="11" fill="#c08a60"/><ellipse cx="1122" cy="176" rx="21" ry="21" fill="#c08a60"/><ellipse cx="723" cy="496" rx="24" ry="11" fill="#b8845e"/><ellipse cx="146" cy="540" rx="25" ry="13" fill="#c89468"/><ellipse cx="1045" cy="161" rx="32" ry="10" fill="#c89468"/><ellipse cx="914" cy="552" rx="34" ry="20" fill="#c08a60"/><ellipse cx="197" cy="433" rx="35" ry="21" fill="#c89468"/><ellipse cx="775" cy="582" rx="36" ry="15" fill="#c08a60"/><ellipse cx="71" cy="586" rx="20" ry="12" fill="#cc9870"/><ellipse cx="205" cy="173" rx="24" ry="20" fill="#c89468"/><ellipse cx="835" cy="185" rx="25" ry="16" fill="#c89468"/><ellipse cx="962" cy="233" rx="31" ry="12" fill="#cc9870"/><ellipse cx="1123" cy="334" rx="35" ry="17" fill="#b8845e"/><ellipse cx="426" cy="397" rx="22" ry="14" fill="#c08a60"/><ellipse cx="198" cy="236" rx="30" ry="15" fill="#c89468"/><ellipse cx="1102" cy="757" rx="24" ry="11" fill="#b8845e"/><ellipse cx="923" cy="638" rx="26" ry="16" fill="#c89468"/><ellipse cx="645" cy="290" rx="38" ry="10" fill="#c89468"/><ellipse cx="397" cy="282" rx="19" ry="15" fill="#c89468"/><ellipse cx="1036" cy="819" rx="25" ry="14" fill="#c89468"/><ellipse cx="283" cy="478" rx="24" ry="15" fill="#b8845e"/><ellipse cx="645" cy="816" rx="20" ry="17" fill="#c89468"/><ellipse cx="233" cy="586" rx="21" ry="21" fill="#c89468"/></g>
<g filter="url(#p3c)" opacity="0.75"><ellipse cx="326" cy="638" rx="9" ry="9" fill="#d8a47a"/><ellipse cx="803" cy="181" rx="12" ry="8" fill="#d8a47a"/><ellipse cx="957" cy="717" rx="12" ry="9" fill="#d8a47a"/><ellipse cx="100" cy="709" rx="11" ry="6" fill="#d8a47a"/><ellipse cx="792" cy="263" rx="14" ry="8" fill="#d8a47a"/><ellipse cx="952" cy="807" rx="12" ry="8" fill="#d8a47a"/><ellipse cx="831" cy="152" rx="13" ry="10" fill="#d8a47a"/><ellipse cx="134" cy="473" rx="15" ry="6" fill="#d8a47a"/><ellipse cx="1146" cy="223" rx="8" ry="6" fill="#d8a47a"/><ellipse cx="219" cy="510" rx="16" ry="10" fill="#d8a47a"/><ellipse cx="999" cy="526" rx="14" ry="10" fill="#d8a47a"/><ellipse cx="453" cy="566" rx="9" ry="8" fill="#d8a47a"/><ellipse cx="1149" cy="339" rx="13" ry="9" fill="#d8a47a"/><ellipse cx="799" cy="725" rx="16" ry="6" fill="#d8a47a"/><ellipse cx="1090" cy="432" rx="12" ry="5" fill="#d8a47a"/><ellipse cx="471" cy="428" rx="13" ry="7" fill="#d8a47a"/><ellipse cx="166" cy="189" rx="9" ry="9" fill="#d8a47a"/><ellipse cx="96" cy="386" rx="12" ry="6" fill="#d8a47a"/><ellipse cx="811" cy="596" rx="14" ry="6" fill="#d8a47a"/><ellipse cx="730" cy="599" rx="15" ry="7" fill="#d8a47a"/><ellipse cx="160" cy="200" rx="9" ry="10" fill="#d8a47a"/><ellipse cx="403" cy="293" rx="13" ry="10" fill="#d8a47a"/><ellipse cx="496" cy="323" rx="14" ry="6" fill="#d8a47a"/><ellipse cx="1023" cy="414" rx="9" ry="8" fill="#d8a47a"/><ellipse cx="1148" cy="772" rx="13" ry="7" fill="#d8a47a"/><ellipse cx="997" cy="713" rx="10" ry="8" fill="#d8a47a"/><ellipse cx="1067" cy="263" rx="15" ry="6" fill="#d8a47a"/><ellipse cx="869" cy="416" rx="14" ry="8" fill="#d8a47a"/><ellipse cx="1095" cy="850" rx="9" ry="7" fill="#d8a47a"/><ellipse cx="752" cy="310" rx="13" ry="5" fill="#d8a47a"/><ellipse cx="1085" cy="203" rx="14" ry="7" fill="#d8a47a"/><ellipse cx="1144" cy="832" rx="9" ry="8" fill="#d8a47a"/><ellipse cx="417" cy="449" rx="13" ry="7" fill="#d8a47a"/><ellipse cx="612" cy="708" rx="9" ry="9" fill="#d8a47a"/><ellipse cx="216" cy="254" rx="13" ry="8" fill="#d8a47a"/><ellipse cx="1017" cy="668" rx="10" ry="8" fill="#d8a47a"/><ellipse cx="272" cy="493" rx="13" ry="9" fill="#d8a47a"/><ellipse cx="167" cy="449" rx="8" ry="7" fill="#d8a47a"/><ellipse cx="933" cy="782" rx="9" ry="8" fill="#d8a47a"/><ellipse cx="287" cy="633" rx="16" ry="5" fill="#d8a47a"/><ellipse cx="509" cy="362" rx="12" ry="8" fill="#d8a47a"/><ellipse cx="252" cy="188" rx="12" ry="6" fill="#d8a47a"/><ellipse cx="491" cy="588" rx="15" ry="5" fill="#d8a47a"/><ellipse cx="924" cy="786" rx="14" ry="6" fill="#d8a47a"/><ellipse cx="621" cy="563" rx="9" ry="7" fill="#d8a47a"/><ellipse cx="192" cy="381" rx="12" ry="9" fill="#d8a47a"/><ellipse cx="865" cy="648" rx="13" ry="9" fill="#d8a47a"/><ellipse cx="136" cy="408" rx="15" ry="10" fill="#d8a47a"/><ellipse cx="813" cy="553" rx="16" ry="7" fill="#d8a47a"/><ellipse cx="988" cy="654" rx="9" ry="8" fill="#d8a47a"/><ellipse cx="167" cy="202" rx="10" ry="8" fill="#d8a47a"/><ellipse cx="1034" cy="701" rx="11" ry="6" fill="#d8a47a"/><ellipse cx="506" cy="579" rx="13" ry="6" fill="#d8a47a"/><ellipse cx="1098" cy="529" rx="10" ry="5" fill="#d8a47a"/><ellipse cx="342" cy="406" rx="13" ry="8" fill="#d8a47a"/><ellipse cx="330" cy="390" rx="13" ry="9" fill="#d8a47a"/><ellipse cx="110" cy="653" rx="13" ry="6" fill="#d8a47a"/><ellipse cx="318" cy="173" rx="13" ry="6" fill="#d8a47a"/><ellipse cx="693" cy="428" rx="9" ry="8" fill="#d8a47a"/><ellipse cx="809" cy="822" rx="16" ry="8" fill="#d8a47a"/><ellipse cx="336" cy="668" rx="11" ry="6" fill="#d8a47a"/><ellipse cx="1116" cy="506" rx="16" ry="9" fill="#d8a47a"/><ellipse cx="643" cy="758" rx="14" ry="6" fill="#d8a47a"/><ellipse cx="305" cy="726" rx="14" ry="7" fill="#d8a47a"/><ellipse cx="266" cy="609" rx="9" ry="8" fill="#d8a47a"/><ellipse cx="181" cy="538" rx="12" ry="10" fill="#d8a47a"/><ellipse cx="658" cy="386" rx="10" ry="7" fill="#d8a47a"/><ellipse cx="1068" cy="664" rx="10" ry="9" fill="#d8a47a"/><ellipse cx="198" cy="530" rx="12" ry="7" fill="#d8a47a"/><ellipse cx="165" cy="246" rx="10" ry="6" fill="#d8a47a"/><ellipse cx="348" cy="264" rx="8" ry="10" fill="#d8a47a"/><ellipse cx="668" cy="671" rx="10" ry="6" fill="#d8a47a"/><ellipse cx="690" cy="311" rx="11" ry="7" fill="#d8a47a"/><ellipse cx="1106" cy="640" rx="14" ry="6" fill="#d8a47a"/><ellipse cx="176" cy="609" rx="8" ry="8" fill="#d8a47a"/><ellipse cx="439" cy="203" rx="11" ry="7" fill="#d8a47a"/><ellipse cx="680" cy="213" rx="15" ry="7" fill="#d8a47a"/><ellipse cx="799" cy="676" rx="13" ry="9" fill="#d8a47a"/><ellipse cx="788" cy="290" rx="9" ry="8" fill="#d8a47a"/><ellipse cx="838" cy="267" rx="11" ry="9" fill="#d8a47a"/><ellipse cx="220" cy="368" rx="10" ry="6" fill="#d8a47a"/><ellipse cx="332" cy="511" rx="15" ry="7" fill="#d8a47a"/><ellipse cx="654" cy="634" rx="14" ry="7" fill="#d8a47a"/><ellipse cx="1029" cy="640" rx="14" ry="9" fill="#d8a47a"/><ellipse cx="919" cy="644" rx="16" ry="7" fill="#d8a47a"/><ellipse cx="765" cy="491" rx="10" ry="8" fill="#d8a47a"/><ellipse cx="450" cy="490" rx="10" ry="6" fill="#d8a47a"/><ellipse cx="1008" cy="296" rx="12" ry="10" fill="#d8a47a"/><ellipse cx="993" cy="546" rx="12" ry="10" fill="#d8a47a"/><ellipse cx="719" cy="761" rx="15" ry="8" fill="#d8a47a"/><ellipse cx="208" cy="433" rx="10" ry="6" fill="#d8a47a"/><ellipse cx="928" cy="504" rx="9" ry="5" fill="#d8a47a"/><ellipse cx="814" cy="304" rx="16" ry="7" fill="#d8a47a"/><ellipse cx="313" cy="653" rx="15" ry="6" fill="#d8a47a"/><ellipse cx="122" cy="724" rx="15" ry="8" fill="#d8a47a"/><ellipse cx="519" cy="341" rx="13" ry="5" fill="#d8a47a"/><ellipse cx="905" cy="549" rx="9" ry="9" fill="#d8a47a"/><ellipse cx="999" cy="548" rx="10" ry="8" fill="#d8a47a"/><ellipse cx="451" cy="616" rx="13" ry="7" fill="#d8a47a"/><ellipse cx="534" cy="172" rx="14" ry="8" fill="#d8a47a"/><ellipse cx="353" cy="696" rx="9" ry="5" fill="#d8a47a"/><ellipse cx="232" cy="640" rx="10" ry="5" fill="#d8a47a"/><ellipse cx="861" cy="354" rx="11" ry="8" fill="#d8a47a"/><ellipse cx="869" cy="190" rx="9" ry="8" fill="#d8a47a"/><ellipse cx="1041" cy="256" rx="13" ry="9" fill="#d8a47a"/><ellipse cx="683" cy="358" rx="16" ry="6" fill="#d8a47a"/><ellipse cx="760" cy="504" rx="14" ry="6" fill="#d8a47a"/><ellipse cx="272" cy="431" rx="12" ry="7" fill="#d8a47a"/><ellipse cx="888" cy="341" rx="12" ry="8" fill="#d8a47a"/><ellipse cx="89" cy="258" rx="13" ry="7" fill="#d8a47a"/><ellipse cx="1120" cy="807" rx="11" ry="5" fill="#d8a47a"/><ellipse cx="971" cy="499" rx="13" ry="9" fill="#d8a47a"/><ellipse cx="900" cy="798" rx="9" ry="8" fill="#d8a47a"/><ellipse cx="320" cy="225" rx="15" ry="8" fill="#d8a47a"/><ellipse cx="370" cy="629" rx="15" ry="9" fill="#d8a47a"/><ellipse cx="288" cy="523" rx="10" ry="8" fill="#d8a47a"/><ellipse cx="85" cy="613" rx="9" ry="9" fill="#d8a47a"/><ellipse cx="332" cy="588" rx="12" ry="6" fill="#d8a47a"/><ellipse cx="964" cy="248" rx="10" ry="6" fill="#d8a47a"/><ellipse cx="998" cy="708" rx="9" ry="6" fill="#d8a47a"/></g>
<g filter="url(#p3c)"><path class="s" d="M560 160C562 183 578 243 575 300C572 357 558 433 545 500C532 567 514 650 500 700C486 750 467 783 460 800" stroke="#c07848" stroke-width="14"/><path class="s" d="M60 420C65 442 70 507 90 550C110 593 145 643 180 680C215 717 257 748 300 770C343 792 417 803 440 810" stroke="#b87a58" stroke-width="14"/><path class="s" d="M1180 340C1182 358 1193 408 1190 450C1187 492 1178 547 1160 590C1142 633 1113 673 1080 710C1047 747 1007 783 960 810C913 837 853 858 800 870C747 882 667 878 640 880" stroke="#b07a5c" stroke-width="14"/></g>
<g filter="url(#p3t)"><path d="M598 130C604 107 631 112 640 140C649 168 658 237 652 300C646 363 623 450 605 520C587 590 564 668 545 720C526 772 504 818 492 835C480 852 465 853 470 822C475 791 505 712 522 650C539 588 559 512 572 450C585 388 598 333 602 280C606 227 592 153 598 130Z" fill="#bcaa98"/><path class="s" d="M640 150C641 175 652 238 645 300C638 362 618 450 600 520C582 590 558 668 540 720C522 772 498 812 490 830" stroke="#d0c0ae" stroke-width="8"/></g>
</svg>
</div>
<div class="ph" style="left:954px;top:775px;width:315px;height:236px;background:#9a6a50"><svg viewBox="0 0 1270 951" preserveAspectRatio="none">
<defs><filter id="p4m" x="-30%" y="-30%" width="160%" height="160%"><feGaussianBlur stdDeviation="10"/></filter>
<filter id="p4s" x="-30%" y="-30%" width="160%" height="160%"><feGaussianBlur stdDeviation="4"/></filter>
<filter id="p4t" x="-30%" y="-30%" width="160%" height="160%"><feGaussianBlur stdDeviation="2.5"/></filter>
<filter id="p4c" x="-30%" y="-30%" width="160%" height="160%"><feGaussianBlur stdDeviation="6"/></filter>
<clipPath id="p4lw"><path d="M170 480C172 431 192 373 210 330C228 287 250 255 280 220C310 185 353 144 390 120C427 96 465 82 500 75C535 68 581 59 600 80C619 101 612 147 612 200C612 253 600 333 602 400C604 467 622 533 622 600C622 667 631 768 602 800C573 832 500 808 450 795C400 782 342 753 300 725C258 697 222 666 200 625C178 584 168 529 170 480Z"/></clipPath><clipPath id="p4rw"><path d="M730 160C740 118 755 111 780 100C805 89 843 88 880 95C917 102 963 120 1000 145C1037 170 1075 206 1100 245C1125 284 1143 332 1152 380C1161 428 1160 485 1152 530C1144 575 1127 613 1102 650C1077 687 1039 728 1000 752C961 776 910 788 870 795C830 802 783 828 760 795C737 762 737 674 730 600C723 526 720 423 720 350C720 277 720 202 730 160Z"/></clipPath></defs>
<rect width="1270" height="951" fill="#3e322c"/>
<g filter="url(#p4t)"><polygon points="-41,5 -38,-17 -20,-45 17,-31 28,-6 -9,23" fill="#a89888"/><polygon points="55,0 4,-11 -12,-25 5,-56 44,-75 80,-56 97,-31 77,-2" fill="#a89888"/><polygon points="140,14 111,14 93,6 90,-17 105,-30 138,-34 158,-16 157,0" fill="#c8c4c0"/><polygon points="157,-35 174,-45 228,-26 237,-15 237,8 181,15 145,3 129,-6" fill="#c8a888"/><polygon points="207,-56 230,-70 265,-67 280,-50 274,-22 243,-13 218,-19" fill="#b8a088"/><polygon points="255,-31 283,-60 328,-56 350,-38 318,-5 292,-3" fill="#c8a888"/><polygon points="420,-30 400,-10 378,-11 347,-27 357,-59 393,-74 408,-61" fill="#a08068"/><polygon points="498,-36 487,-5 454,10 410,0 397,-32 402,-50 447,-83 485,-67" fill="#a89888"/><polygon points="522,1 480,7 430,-9 421,-22 475,-50 497,-47 529,-20" fill="#c8a888"/><polygon points="496,-45 546,-72 594,-70 607,-39 579,-15 514,-15" fill="#c8c4c0"/><polygon points="642,-65 662,-45 661,-21 651,3 614,25 584,1 578,-37 597,-54" fill="#b8b0a8"/><polygon points="698,-53 717,-39 712,1 690,12 647,-10 658,-39" fill="#a89888"/><polygon points="754,-77 806,-70 819,-50 807,-23 758,-22 723,-40 721,-67" fill="#a89888"/><polygon points="865,-46 860,-7 837,10 796,-15 788,-46 820,-61" fill="#b8a088"/><polygon points="919,-10 872,-7 849,-13 829,-57 863,-78 886,-85 928,-65 932,-45" fill="#b8a088"/><polygon points="1001,-17 962,11 937,-6 914,-43 935,-71 984,-90 1010,-50" fill="#9c8470"/><polygon points="1026,-73 1047,-57 1045,-35 999,-18 974,-37 981,-66" fill="#9c8470"/><polygon points="1116,-41 1146,-25 1129,11 1110,21 1080,-3 1084,-29" fill="#b8b0a8"/><polygon points="1210,-43 1236,-22 1221,14 1185,32 1153,16 1135,-14 1164,-47" fill="#a08068"/><polygon points="1174,-41 1235,-43 1269,-24 1243,12 1200,16 1165,-3" fill="#b8b0a8"/><polygon points="1324,-59 1336,-38 1325,-10 1294,-3 1255,-16 1255,-42 1280,-54" fill="#a89888"/><polygon points="64,18 78,46 77,67 26,86 -5,68 -21,50 -17,25 25,9" fill="#d0bca0"/><polygon points="109,6 91,46 45,47 5,32 25,-7 84,-11" fill="#9c8470"/><polygon points="91,23 122,3 186,11 203,38 188,66 140,68 97,52" fill="#a89888"/><polygon points="178,43 172,28 197,5 241,10 260,38 259,52 234,71 200,74" fill="#c4a888"/><polygon points="293,-11 318,-5 324,25 312,34 282,42 262,29 244,14 273,-6" fill="#c8a888"/><polygon points="373,19 360,51 333,63 292,54 290,22 293,7 321,-5 355,-5" fill="#b8b0a8"/><polygon points="414,49 381,43 357,24 377,-3 411,-17 438,-1 456,25" fill="#a89888"/><polygon points="494,18 459,34 435,21 422,8 430,-16 476,-16 500,-7" fill="#d0bca0"/><polygon points="498,66 497,30 542,9 564,19 599,43 575,73 529,76" fill="#b8b0a8"/><polygon points="604,-17 626,-17 654,0 653,36 629,49 594,47 572,29 580,1" fill="#9c8470"/><polygon points="629,83 613,63 618,19 659,5 687,22 696,58 674,83" fill="#d0bca0"/><polygon points="714,56 700,27 721,-9 752,0 760,38 745,51" fill="#b89878"/><polygon points="777,37 752,10 776,-28 812,-29 829,-13 837,16 815,33" fill="#c8c4c0"/><polygon points="836,47 795,33 797,-11 833,-23 886,-8 903,12 874,44" fill="#d0bca0"/><polygon points="987,5 975,46 942,53 886,38 903,7 951,-5" fill="#b8a088"/><polygon points="923,14 966,-19 1006,-11 1031,30 985,64 947,46" fill="#9c8470"/><polygon points="1090,33 1089,65 1032,68 997,38 1024,19 1057,14" fill="#a08068"/><polygon points="1112,14 1129,-7 1175,-14 1182,11 1182,40 1143,52 1118,33" fill="#c8a888"/><polygon points="1234,10 1223,40 1178,42 1152,17 1167,-3 1210,-4" fill="#c8a888"/><polygon points="1227,46 1244,10 1278,-2 1306,14 1313,36 1304,73 1275,88 1244,72" fill="#9c8470"/><polygon points="1286,8 1331,8 1355,22 1362,54 1337,82 1305,85 1266,73 1262,42" fill="#9c8470"/><polygon points="-20,49 18,65 9,94 -29,99 -71,77 -53,56" fill="#9c8470"/><polygon points="-32,86 17,50 45,60 61,101 24,133 -18,123" fill="#9c8470"/><polygon points="114,93 87,102 45,85 46,64 73,41 98,42 131,71" fill="#9c8470"/><polygon points="215,82 218,98 210,123 180,135 152,118 150,97 164,67 185,61" fill="#c4a888"/><polygon points="187,59 239,35 268,46 271,72 238,91 191,77" fill="#d0bca0"/><polygon points="263,101 243,69 253,40 283,23 314,58 307,90" fill="#c4a888"/><polygon points="336,102 333,57 374,44 423,73 417,96 381,123" fill="#b89878"/><polygon points="415,117 379,104 375,71 408,39 447,53 447,101" fill="#d0bca0"/><polygon points="505,117 484,108 463,69 474,41 488,25 533,27 546,61 542,89" fill="#d0bca0"/><polygon points="589,87 581,99 560,119 536,118 518,104 518,79 540,56 564,62" fill="#c8a888"/><polygon points="577,100 566,86 581,58 631,57 656,81 647,106 608,121" fill="#c8c4c0"/><polygon points="669,131 652,115 661,88 701,71 730,91 736,114 727,137 702,146" fill="#b89878"/><polygon points="758,55 791,58 808,101 797,122 747,129 710,108 710,84" fill="#9c8470"/><polygon points="805,69 847,97 834,120 804,137 778,126 766,108 784,70" fill="#b8b0a8"/><polygon points="927,42 946,83 897,98 850,86 851,56 880,39" fill="#c4a888"/><polygon points="980,45 1008,79 1007,102 959,121 926,103 924,71 931,47" fill="#b8a088"/><polygon points="1032,68 1044,73 1064,96 1056,111 1041,122 1013,115 1004,107 1008,76" fill="#c8a888"/><polygon points="1155,76 1157,93 1151,119 1121,130 1081,110 1069,96 1092,68 1128,62" fill="#a08068"/><polygon points="1104,96 1114,64 1172,59 1192,108 1173,130 1129,143" fill="#b89878"/><polygon points="1257,87 1230,109 1189,87 1200,58 1217,45 1259,59" fill="#a89888"/><polygon points="1262,93 1251,64 1294,41 1340,58 1333,90 1296,112" fill="#a08068"/><polygon points="51,135 69,162 39,191 8,193 -20,170 -6,140 13,136" fill="#c4a888"/><polygon points="99,124 80,143 59,160 29,139 21,111 48,96 71,95" fill="#c8c4c0"/><polygon points="142,189 117,197 79,176 80,138 109,123 145,131 171,160" fill="#b89878"/><polygon points="241,147 193,167 166,141 172,90 208,80 257,102" fill="#b89878"/><polygon points="282,105 309,126 306,152 267,170 216,150 208,132 243,97" fill="#c4a888"/><polygon points="320,156 290,130 296,107 335,102 357,125 344,153" fill="#b89878"/><polygon points="419,126 404,159 351,153 339,112 368,97 396,92" fill="#c8c4c0"/><polygon points="488,155 475,170 420,174 395,164 389,134 426,118 465,121 492,125" fill="#b8b0a8"/><polygon points="523,107 562,126 576,176 532,196 496,192 483,149" fill="#a89888"/><polygon points="746,117 778,92 829,123 810,159 779,169 741,147" fill="#b89878"/><polygon points="910,140 895,168 838,186 809,161 818,129 849,118" fill="#9c8470"/><polygon points="956,140 935,150 899,150 885,129 900,107 919,90 948,102 967,121" fill="#c8c4c0"/><polygon points="949,143 970,122 1004,131 1014,154 1001,189 964,189 945,169" fill="#c8c4c0"/><polygon points="1019,164 1019,128 1044,104 1080,123 1090,160 1057,177" fill="#a89888"/><polygon points="1069,144 1108,131 1139,138 1154,170 1117,189 1075,184" fill="#9c8470"/><polygon points="1188,73 1229,116 1227,133 1184,169 1159,169 1119,148 1107,110 1160,72" fill="#9c8470"/><polygon points="1327,137 1308,155 1252,161 1226,140 1221,117 1263,94 1290,89 1327,110" fill="#b89878"/><polygon points="1323,164 1300,148 1298,113 1327,95 1354,97 1374,113 1364,153" fill="#d0bca0"/><polygon points="14,193 -6,219 -58,209 -77,170 -58,151 4,161" fill="#a89888"/><polygon points="-11,172 26,164 58,180 47,225 16,243 -24,213" fill="#c8c4c0"/><polygon points="159,186 178,200 160,246 134,253 89,238 77,220 90,182 136,162" fill="#b8b0a8"/><polygon points="142,151 181,172 177,208 140,213 109,200 117,152" fill="#c4a888"/><polygon points="203,164 240,153 262,148 287,182 285,194 264,217 215,207 201,181" fill="#b89878"/><polygon points="274,162 310,148 356,151 366,180 359,220 328,230 296,233 265,192" fill="#c4a888"/><polygon points="297,230 310,189 335,179 397,173 432,206 418,229 394,249 342,245" fill="#a08068"/><polygon points="989,160 1024,194 1007,246 970,264 920,235 940,173" fill="#b8b0a8"/><polygon points="1040,241 1002,244 965,221 974,197 996,175 1038,172 1051,221" fill="#c8a888"/><polygon points="1075,246 1045,214 1050,176 1071,163 1110,174 1124,217 1098,244" fill="#b89878"/><polygon points="1207,171 1216,203 1174,222 1142,210 1150,167 1178,153" fill="#a08068"/><polygon points="1266,227 1249,237 1213,249 1194,245 1181,212 1196,188 1214,182 1251,194" fill="#a89888"/><polygon points="1279,196 1284,179 1306,159 1320,159 1348,178 1352,194 1340,212 1302,212" fill="#b8b0a8"/><polygon points="32,217 40,259 34,289 -1,294 -25,266 -27,240 -4,212" fill="#c8c4c0"/><polygon points="113,277 69,286 34,277 33,258 54,228 75,221 116,222 127,252" fill="#d0bca0"/><polygon points="156,272 136,302 90,295 73,269 94,233 140,237" fill="#c4a888"/><polygon points="174,281 179,245 222,232 278,246 286,271 263,302 214,307" fill="#c8c4c0"/><polygon points="293,247 307,283 290,308 242,308 222,291 215,253 251,226" fill="#c8c4c0"/><polygon points="974,284 944,261 956,216 1000,211 1018,234 1009,274" fill="#9c8470"/><polygon points="1127,290 1078,305 1028,280 1043,241 1090,227 1128,252" fill="#c8a888"/><polygon points="1182,204 1212,243 1171,279 1107,262 1101,223 1119,203" fill="#a89888"/><polygon points="1150,303 1135,273 1157,251 1185,252 1194,290 1176,304" fill="#c4a888"/><polygon points="1308,224 1291,258 1252,271 1213,256 1222,217 1261,201" fill="#a08068"/><polygon points="1307,214 1343,199 1366,221 1374,252 1342,286 1325,279 1299,245" fill="#b89878"/><polygon points="4,271 31,302 20,326 -13,343 -44,333 -74,306 -68,291 -23,271" fill="#b8b0a8"/><polygon points="58,295 83,314 71,344 12,344 -3,321 16,291" fill="#b89878"/><polygon points="60,274 93,271 117,299 111,322 81,344 52,337 32,301" fill="#9c8470"/><polygon points="119,305 122,286 151,276 179,287 190,303 181,323 157,326 122,322" fill="#9c8470"/><polygon points="215,315 234,281 259,279 290,286 304,321 281,337 253,342 218,333" fill="#d0bca0"/><polygon points="1087,363 1054,349 1051,305 1088,286 1123,290 1138,329 1125,344" fill="#b8b0a8"/><polygon points="1111,263 1151,257 1207,283 1190,323 1156,336 1115,340 1098,288" fill="#d0bca0"/><polygon points="1209,333 1190,301 1226,266 1267,281 1278,305 1234,335" fill="#c8c4c0"/><polygon points="1350,325 1345,364 1308,378 1275,358 1275,338 1297,313 1328,313" fill="#c4a888"/><polygon points="56,401 24,409 -21,415 -48,379 -32,368 23,354 56,366" fill="#a89888"/><polygon points="66,364 105,386 103,407 78,423 46,424 27,393 48,367" fill="#a08068"/><polygon points="175,395 129,415 101,387 98,357 148,350 179,362" fill="#9c8470"/><polygon points="223,392 195,392 168,366 154,353 188,317 232,324 255,334 265,367" fill="#c8a888"/><polygon points="1073,327 1106,332 1119,366 1114,392 1078,405 1055,399 1050,358" fill="#a89888"/><polygon points="1148,353 1162,385 1157,410 1093,409 1083,376 1112,341" fill="#9c8470"/><polygon points="1230,371 1213,397 1181,402 1161,364 1183,332 1212,330" fill="#b89878"/><polygon points="1224,385 1212,357 1241,335 1267,336 1297,370 1270,396" fill="#b89878"/><polygon points="1352,432 1313,425 1296,389 1307,366 1343,359 1365,365 1376,385 1380,411" fill="#c4a888"/><polygon points="-37,470 -61,458 -54,424 -18,408 2,428 -6,457" fill="#b8a088"/><polygon points="27,394 63,406 63,441 46,458 9,451 -7,416" fill="#b8b0a8"/><polygon points="96,460 51,448 52,413 82,391 132,394 147,422 144,449" fill="#d0bca0"/><polygon points="226,420 202,469 162,471 131,434 131,405 160,388 218,394" fill="#9c8470"/><polygon points="199,436 198,403 212,381 249,379 284,395 288,432 251,448" fill="#c8c4c0"/><polygon points="1210,408 1213,446 1144,463 1102,441 1125,393 1178,393" fill="#9c8470"/><polygon points="1209,433 1248,439 1243,466 1222,481 1203,482 1173,468 1154,449 1182,437" fill="#c8a888"/><polygon points="1345,462 1293,472 1259,453 1261,412 1299,389 1338,400 1352,428" fill="#b8b0a8"/><polygon points="-24,497 24,472 63,485 80,527 36,549 -23,533" fill="#9c8470"/><polygon points="111,502 76,538 49,543 4,519 9,484 37,474 103,482" fill="#b8a088"/><polygon points="190,524 145,525 114,511 119,479 169,465 199,484" fill="#c4a888"/><polygon points="172,528 144,515 150,473 185,474 218,491 204,518" fill="#a08068"/><polygon points="1142,487 1158,510 1134,537 1116,542 1083,530 1066,500 1081,485 1127,483" fill="#c8c4c0"/><polygon points="1211,469 1242,494 1228,534 1166,544 1125,506 1162,463" fill="#b8b0a8"/><polygon points="1224,442 1255,455 1275,478 1271,495 1234,522 1217,513 1187,494 1201,459" fill="#c8c4c0"/><polygon points="1330,459 1355,473 1341,511 1318,518 1288,499 1283,469" fill="#c4a888"/><polygon points="-2,525 21,540 8,568 -9,584 -51,580 -76,553 -52,534" fill="#b8a088"/><polygon points="85,548 72,568 27,551 21,523 55,499 93,513" fill="#a89888"/><polygon points="134,563 92,562 63,535 64,506 122,497 150,523" fill="#b8a088"/><polygon points="119,597 97,576 106,537 162,530 191,532 196,575 160,607" fill="#c8c4c0"/><polygon points="224,535 261,544 264,580 249,596 213,600 189,577 204,547" fill="#a08068"/><polygon points="1070,605 1036,598 1026,572 1042,539 1074,537 1104,553 1107,588" fill="#c4a888"/><polygon points="1207,509 1230,520 1229,542 1199,551 1167,555 1148,544 1137,521 1162,505" fill="#a08068"/><polygon points="1251,562 1217,568 1191,531 1218,503 1262,504 1282,524" fill="#c8a888"/><polygon points="1274,575 1270,539 1315,528 1346,536 1349,577 1308,591" fill="#c8c4c0"/><polygon points="-39,621 -50,592 -33,576 18,566 42,589 37,614 9,631" fill="#c8c4c0"/><polygon points="134,592 122,613 73,615 51,583 73,560 109,558" fill="#c4a888"/><polygon points="98,619 96,597 128,567 145,571 177,590 170,621 136,639" fill="#c8c4c0"/><polygon points="234,659 198,659 174,633 193,604 217,581 248,599 259,626" fill="#a89888"/><polygon points="321,626 287,627 257,609 264,573 287,562 321,582" fill="#c8c4c0"/><polygon points="1054,643 1026,652 995,632 984,607 1026,590 1062,592 1078,622" fill="#c8c4c0"/><polygon points="1160,590 1176,626 1144,645 1104,634 1100,609 1123,586" fill="#a08068"/><polygon points="1229,622 1174,626 1141,602 1161,571 1224,565 1252,598" fill="#a89888"/><polygon points="1256,616 1231,602 1231,572 1244,555 1279,545 1295,566 1303,590 1284,623" fill="#b8a088"/><polygon points="1308,668 1286,639 1283,604 1302,593 1344,589 1358,622 1355,654" fill="#b89878"/><polygon points="-9,648 -5,671 -35,682 -70,681 -75,670 -72,633 -59,629 -21,632" fill="#b8b0a8"/><polygon points="17,617 62,622 81,654 56,666 11,673 -25,651 -7,627" fill="#d0bca0"/><polygon points="61,677 21,650 53,614 96,609 151,648 126,674" fill="#a08068"/><polygon points="134,625 163,629 205,640 190,671 177,687 135,687 83,670 80,651" fill="#b8b0a8"/><polygon points="280,626 277,645 254,669 218,658 204,640 227,615" fill="#b89878"/><polygon points="247,679 266,654 303,642 345,652 351,694 327,707 278,712" fill="#c8c4c0"/><polygon points="1018,717 977,703 958,686 977,664 1019,652 1036,657 1054,686 1038,709" fill="#b8a088"/><polygon points="1035,688 1036,658 1063,652 1102,661 1104,684 1092,693 1062,702" fill="#d0bca0"/><polygon points="1183,648 1193,674 1188,708 1161,718 1129,711 1110,671 1126,659 1153,639" fill="#d0bca0"/><polygon points="1197,618 1269,616 1299,644 1257,676 1207,671 1184,640" fill="#b8b0a8"/><polygon points="1342,672 1346,695 1322,708 1295,711 1251,690 1257,678 1277,652 1318,654" fill="#b8b0a8"/><polygon points="38,727 33,756 15,775 -23,775 -50,758 -61,736 -32,708 10,711" fill="#c4a888"/><polygon points="113,696 108,730 74,753 48,738 22,710 41,692 98,682" fill="#d0bca0"/><polygon points="146,690 183,695 195,727 180,742 152,750 120,730 123,708" fill="#b8a088"/><polygon points="227,741 157,721 168,688 220,665 251,683 266,720" fill="#c4a888"/><polygon points="292,776 263,769 248,742 263,714 286,706 338,719 338,740 322,772" fill="#c8a888"/><polygon points="394,731 343,745 318,731 300,709 323,674 361,667 387,679 404,695" fill="#b8b0a8"/><polygon points="456,751 415,766 368,747 351,706 389,688 445,676 475,706" fill="#c8a888"/><polygon points="554,756 524,759 481,752 476,730 498,715 526,711 554,733" fill="#c4a888"/><polygon points="828,726 826,764 796,771 756,758 750,727 794,709" fill="#b89878"/><polygon points="838,709 850,688 874,691 896,716 894,753 854,760 839,753" fill="#c4a888"/><polygon points="960,704 989,735 980,764 919,777 899,746 896,720" fill="#b8a088"/><polygon points="945,709 978,698 1002,716 1016,737 996,751 975,761 950,752 938,726" fill="#b89878"/><polygon points="1100,699 1071,727 1017,736 980,708 998,688 1072,681" fill="#d0bca0"/><polygon points="1094,748 1079,728 1125,694 1158,690 1184,712 1191,749 1176,755 1122,767" fill="#c8c4c0"/><polygon points="1202,749 1184,771 1154,773 1137,741 1152,708 1194,718" fill="#d0bca0"/><polygon points="1258,748 1214,740 1204,724 1211,702 1252,688 1284,701 1288,729" fill="#b89878"/><polygon points="1296,714 1340,700 1380,722 1387,752 1331,770 1277,744" fill="#b8b0a8"/><polygon points="-86,793 -104,776 -89,747 -38,732 -10,731 6,766 0,794 -41,797" fill="#a89888"/><polygon points="5,771 31,740 71,765 63,813 31,843 -5,812" fill="#b89878"/><polygon points="112,797 87,791 71,768 88,753 105,744 140,753 153,768 138,785" fill="#b8b0a8"/><polygon points="141,800 104,778 124,755 181,749 199,772 183,799" fill="#9c8470"/><polygon points="250,825 229,829 202,809 218,773 252,774 268,793" fill="#b8b0a8"/><polygon points="237,765 268,741 318,742 331,772 292,801 258,793" fill="#b8a088"/><polygon points="369,799 343,787 339,762 370,741 405,744 419,761 410,790" fill="#b8a088"/><polygon points="497,761 482,796 456,806 414,783 430,747 463,742" fill="#a08068"/><polygon points="457,786 466,760 517,735 549,737 573,787 551,804 489,803" fill="#c4a888"/><polygon points="532,760 590,765 614,792 602,815 550,823 526,807 516,775" fill="#b8a088"/><polygon points="557,796 559,779 578,756 620,752 649,768 648,799 628,818 590,822" fill="#a08068"/><polygon points="671,789 641,771 654,735 696,723 730,735 751,753 748,779 702,797" fill="#c8a888"/><polygon points="715,776 741,748 795,749 812,776 784,801 750,807" fill="#c8a888"/><polygon points="816,785 781,771 816,732 872,731 895,756 881,786" fill="#a89888"/><polygon points="915,783 899,814 875,821 848,812 847,784 874,744 905,754" fill="#a89888"/><polygon points="1035,764 1042,789 994,822 954,820 930,797 925,768 953,749 987,750" fill="#b89878"/><polygon points="981,757 1001,739 1042,742 1059,759 1049,792 1026,805 980,793" fill="#b89878"/><polygon points="1137,798 1103,805 1071,787 1085,746 1115,737 1140,753" fill="#c8c4c0"/><polygon points="1099,768 1109,753 1156,737 1188,757 1183,793 1163,812 1131,818 1106,794" fill="#b8b0a8"/><polygon points="1289,759 1281,790 1248,802 1228,799 1204,771 1225,736 1268,739" fill="#9c8470"/><polygon points="1235,803 1249,754 1285,749 1314,777 1296,818 1246,828" fill="#9c8470"/><polygon points="16,815 50,826 68,847 53,864 4,870 -43,847 -36,830" fill="#c8c4c0"/><polygon points="107,810 126,824 121,842 110,859 79,860 32,844 31,825 60,810" fill="#a89888"/><polygon points="86,835 113,820 152,838 157,875 135,893 97,881" fill="#c8c4c0"/><polygon points="173,824 198,801 264,810 287,834 271,857 244,868 195,867 166,840" fill="#b8b0a8"/><polygon points="224,826 234,793 273,788 307,811 298,839 279,866 233,849" fill="#a08068"/><polygon points="373,851 357,879 322,889 290,872 291,846 313,828 342,834" fill="#a08068"/><polygon points="415,882 379,889 359,867 367,841 401,838 417,857" fill="#a89888"/><polygon points="427,883 391,863 405,828 439,817 487,848 469,875" fill="#d0bca0"/><polygon points="511,832 528,817 564,808 595,820 603,863 575,887 533,889 518,867" fill="#9c8470"/><polygon points="556,813 604,813 620,834 622,859 591,888 546,876 529,864 536,835" fill="#c4a888"/><polygon points="655,860 618,859 601,847 602,823 636,793 657,796 679,818 688,835" fill="#a89888"/><polygon points="754,855 706,883 669,871 657,831 697,802 753,825" fill="#c8c4c0"/><polygon points="702,819 748,781 805,784 844,818 805,850 734,849" fill="#9c8470"/><polygon points="849,826 883,833 903,847 900,860 877,879 846,887 823,866 814,846" fill="#9c8470"/><polygon points="905,815 922,783 954,780 988,795 993,828 956,854 924,851" fill="#9c8470"/><polygon points="975,817 1009,825 1021,842 1017,882 975,892 929,889 916,872 923,836" fill="#c4a888"/><polygon points="1012,875 997,856 1024,816 1050,817 1090,839 1090,868 1053,887" fill="#b8a088"/><polygon points="1112,819 1160,810 1178,817 1202,840 1167,880 1152,888 1114,878 1097,844" fill="#a08068"/><polygon points="1198,794 1257,806 1276,854 1242,882 1174,864 1156,830" fill="#9c8470"/><polygon points="1262,825 1270,872 1249,895 1220,903 1189,879 1197,832 1238,815" fill="#b8b0a8"/><polygon points="1328,813 1341,845 1324,866 1278,860 1262,847 1258,820 1299,805" fill="#9c8470"/><polygon points="20,899 4,928 -15,938 -35,933 -55,912 -44,895 -18,887 -1,884" fill="#9c8470"/><polygon points="89,909 72,932 44,934 9,928 -9,891 6,879 35,860 80,874" fill="#c4a888"/><polygon points="134,900 115,924 88,924 66,895 75,865 94,845 128,855" fill="#b89878"/><polygon points="133,879 184,885 206,917 154,945 121,943 101,905" fill="#c8a888"/><polygon points="205,904 211,876 234,867 268,863 278,887 276,912 254,930 223,927" fill="#a08068"/><polygon points="309,905 290,921 251,910 239,891 256,852 291,856 310,868" fill="#b8a088"/><polygon points="396,928 380,935 334,938 318,909 314,884 347,864 389,874 410,889" fill="#d0bca0"/><polygon points="480,885 500,910 487,926 445,944 429,936 406,898 440,882" fill="#c4a888"/><polygon points="541,863 562,886 538,927 511,921 481,901 481,879 510,855" fill="#a89888"/><polygon points="527,907 517,890 547,860 602,860 646,878 634,905 591,925" fill="#c8c4c0"/><polygon points="660,870 682,892 673,927 621,943 588,917 587,890 622,863" fill="#b89878"/><polygon points="662,857 705,848 752,866 760,887 745,904 690,913 662,902 638,876" fill="#a89888"/><polygon points="811,913 781,936 722,934 702,893 738,870 776,872" fill="#a89888"/><polygon points="811,906 829,879 854,883 872,893 877,920 851,942 825,939 808,929" fill="#c8a888"/><polygon points="919,881 938,907 938,933 918,951 879,942 865,920 874,899 895,887" fill="#9c8470"/><polygon points="1032,917 978,932 933,914 952,875 998,868 1027,888" fill="#b8a088"/><polygon points="1048,908 1013,928 985,917 973,897 995,877 1022,874 1051,882" fill="#c4a888"/><polygon points="1043,935 1022,908 1036,862 1078,845 1103,864 1110,906 1068,941" fill="#a89888"/><polygon points="1212,872 1225,897 1206,926 1172,942 1141,920 1141,884 1171,863" fill="#d0bca0"/><polygon points="1288,930 1268,947 1235,953 1218,932 1216,899 1239,880 1271,886 1280,904" fill="#d0bca0"/><polygon points="1305,865 1333,876 1338,902 1315,919 1280,912 1268,894 1264,873" fill="#a08068"/><polygon points="29,976 -14,1002 -52,993 -60,958 -31,938 21,941" fill="#d0bca0"/><polygon points="111,924 114,959 92,974 32,978 9,967 26,929 63,918" fill="#a08068"/><polygon points="107,966 78,944 79,917 119,900 140,919 140,958" fill="#c8c4c0"/><polygon points="207,989 184,982 157,960 174,931 225,928 249,931 278,951 260,983" fill="#c4a888"/><polygon points="242,981 220,955 236,925 269,928 296,955 267,986" fill="#b8a088"/><polygon points="336,928 358,924 397,943 384,977 373,992 324,986 312,980 298,954" fill="#b89878"/><polygon points="388,933 437,947 456,966 438,993 376,1005 344,982 360,959" fill="#c8c4c0"/><polygon points="432,977 389,952 405,933 450,910 475,923 495,940 477,974" fill="#c4a888"/><polygon points="468,968 459,928 474,904 495,896 545,904 560,929 552,958 527,981" fill="#b89878"/><polygon points="593,923 636,936 641,979 595,1008 560,989 560,945" fill="#b8b0a8"/><polygon points="634,963 638,929 658,924 687,928 691,969 688,986 648,992" fill="#c8c4c0"/><polygon points="736,968 708,961 698,936 716,915 744,915 763,945" fill="#b8b0a8"/><polygon points="842,972 782,976 746,953 744,922 788,912 844,922 864,948" fill="#a08068"/><polygon points="934,963 917,986 902,998 858,992 830,970 834,955 865,937 910,943" fill="#c8a888"/><polygon points="896,994 870,973 868,956 889,938 908,926 929,947 930,973 917,988" fill="#a89888"/><polygon points="960,958 970,930 1010,926 1045,937 1038,963 1004,981" fill="#9c8470"/><polygon points="1073,953 1053,970 1031,973 1002,964 995,945 1006,931 1044,921 1061,924" fill="#a89888"/><polygon points="1080,975 1058,946 1076,921 1113,906 1135,912 1146,949 1136,985 1108,988" fill="#d0bca0"/><polygon points="1149,978 1128,946 1149,917 1200,905 1224,926 1227,976 1205,991" fill="#d0bca0"/><polygon points="1301,972 1265,1009 1198,1004 1204,953 1221,929 1295,930" fill="#b8a088"/><polygon points="1291,965 1276,937 1299,905 1328,913 1340,945 1322,976" fill="#c8a888"/><g fill="#ffffff" opacity="0.35"><ellipse cx="-14" cy="-21" rx="15" ry="8"/><ellipse cx="30" cy="-45" rx="22" ry="11"/><ellipse cx="114" cy="-14" rx="17" ry="7"/><ellipse cx="174" cy="-20" rx="22" ry="8"/><ellipse cx="235" cy="-51" rx="14" ry="7"/><ellipse cx="293" cy="-43" rx="18" ry="8"/><ellipse cx="377" cy="-49" rx="16" ry="8"/><ellipse cx="435" cy="-44" rx="22" ry="13"/><ellipse cx="466" cy="-27" rx="22" ry="8"/><ellipse cx="543" cy="-50" rx="24" ry="8"/><ellipse cx="614" cy="-33" rx="17" ry="11"/><ellipse cx="677" cy="-30" rx="16" ry="9"/><ellipse cx="756" cy="-58" rx="22" ry="8"/><ellipse cx="818" cy="-40" rx="16" ry="10"/><ellipse cx="874" cy="-58" rx="21" ry="11"/><ellipse cx="952" cy="-53" rx="21" ry="13"/><ellipse cx="1006" cy="-54" rx="15" ry="7"/><ellipse cx="1102" cy="-20" rx="14" ry="9"/><ellipse cx="1169" cy="-18" rx="22" ry="10"/><ellipse cx="1199" cy="-23" rx="22" ry="9"/><ellipse cx="1289" cy="-39" rx="17" ry="8"/><ellipse cx="17" cy="36" rx="20" ry="10"/><ellipse cx="46" cy="12" rx="23" ry="8"/><ellipse cx="131" cy="29" rx="25" ry="9"/><ellipse cx="208" cy="29" rx="18" ry="9"/><ellipse cx="280" cy="7" rx="16" ry="7"/><ellipse cx="318" cy="16" rx="17" ry="9"/><ellipse cx="398" cy="8" rx="19" ry="8"/><ellipse cx="452" cy="-2" rx="16" ry="7"/><ellipse cx="532" cy="37" rx="20" ry="9"/><ellipse cx="605" cy="7" rx="17" ry="9"/><ellipse cx="642" cy="36" rx="17" ry="10"/><ellipse cx="723" cy="16" rx="12" ry="9"/><ellipse cx="788" cy="-4" rx="16" ry="10"/><ellipse cx="830" cy="3" rx="23" ry="10"/><ellipse cx="928" cy="15" rx="21" ry="8"/><ellipse cx="966" cy="8" rx="20" ry="11"/><ellipse cx="1036" cy="33" rx="20" ry="8"/><ellipse cx="1141" cy="7" rx="15" ry="8"/><ellipse cx="1184" cy="10" rx="16" ry="7"/><ellipse cx="1263" cy="30" rx="19" ry="11"/><ellipse cx="1298" cy="36" rx="22" ry="10"/><ellipse cx="-35" cy="66" rx="18" ry="7"/><ellipse cx="4" cy="80" rx="19" ry="10"/><ellipse cx="74" cy="59" rx="17" ry="9"/><ellipse cx="176" cy="90" rx="15" ry="9"/><ellipse cx="223" cy="57" rx="18" ry="8"/><ellipse cx="269" cy="53" rx="16" ry="10"/><ellipse cx="363" cy="69" rx="20" ry="11"/><ellipse cx="406" cy="71" rx="15" ry="11"/><ellipse cx="496" cy="57" rx="17" ry="12"/><ellipse cx="545" cy="81" rx="13" ry="8"/><ellipse cx="599" cy="78" rx="17" ry="8"/><ellipse cx="687" cy="99" rx="16" ry="9"/><ellipse cx="750" cy="84" rx="21" ry="10"/><ellipse cx="795" cy="94" rx="16" ry="9"/><ellipse cx="884" cy="62" rx="20" ry="8"/><ellipse cx="950" cy="72" rx="19" ry="10"/><ellipse cx="1026" cy="88" rx="12" ry="7"/><ellipse cx="1106" cy="86" rx="19" ry="9"/><ellipse cx="1136" cy="87" rx="20" ry="12"/><ellipse cx="1217" cy="67" rx="16" ry="8"/><ellipse cx="1287" cy="67" rx="19" ry="8"/><ellipse cx="14" cy="156" rx="16" ry="8"/><ellipse cx="49" cy="117" rx="14" ry="8"/><ellipse cx="112" cy="147" rx="17" ry="11"/><ellipse cx="195" cy="111" rx="22" ry="11"/><ellipse cx="244" cy="121" rx="21" ry="9"/><ellipse cx="315" cy="121" rx="14" ry="7"/><ellipse cx="371" cy="116" rx="16" ry="9"/><ellipse cx="432" cy="136" rx="22" ry="8"/><ellipse cx="523" cy="145" rx="18" ry="12"/><ellipse cx="770" cy="121" rx="19" ry="10"/><ellipse cx="841" cy="141" rx="21" ry="10"/><ellipse cx="916" cy="116" rx="15" ry="8"/><ellipse cx="970" cy="145" rx="15" ry="9"/><ellipse cx="1045" cy="134" rx="15" ry="10"/><ellipse cx="1103" cy="152" rx="20" ry="8"/><ellipse cx="1161" cy="108" rx="25" ry="12"/><ellipse cx="1267" cy="115" rx="22" ry="10"/><ellipse cx="1324" cy="116" rx="19" ry="10"/><ellipse cx="-44" cy="174" rx="21" ry="10"/><ellipse cx="5" cy="187" rx="17" ry="10"/><ellipse cx="113" cy="198" rx="20" ry="11"/><ellipse cx="136" cy="172" rx="16" ry="9"/><ellipse cx="233" cy="173" rx="19" ry="9"/><ellipse cx="301" cy="178" rx="23" ry="12"/><ellipse cx="349" cy="200" rx="26" ry="10"/><ellipse cx="959" cy="199" rx="24" ry="12"/><ellipse cx="1000" cy="197" rx="18" ry="11"/><ellipse cx="1071" cy="196" rx="16" ry="10"/><ellipse cx="1167" cy="178" rx="15" ry="10"/><ellipse cx="1208" cy="205" rx="17" ry="10"/><ellipse cx="1307" cy="178" rx="15" ry="8"/><ellipse cx="-1" cy="237" rx="15" ry="12"/><ellipse cx="70" cy="243" rx="20" ry="10"/><ellipse cx="108" cy="256" rx="17" ry="10"/><ellipse cx="213" cy="261" rx="23" ry="11"/><ellipse cx="251" cy="260" rx="18" ry="11"/><ellipse cx="974" cy="236" rx="17" ry="10"/><ellipse cx="1070" cy="256" rx="21" ry="10"/><ellipse cx="1134" cy="227" rx="24" ry="10"/><ellipse cx="1161" cy="270" rx="13" ry="8"/><ellipse cx="1247" cy="230" rx="19" ry="9"/><ellipse cx="1332" cy="232" rx="15" ry="11"/><ellipse cx="-29" cy="294" rx="20" ry="10"/><ellipse cx="31" cy="312" rx="19" ry="8"/><ellipse cx="66" cy="295" rx="17" ry="9"/><ellipse cx="143" cy="295" rx="15" ry="7"/><ellipse cx="244" cy="304" rx="18" ry="8"/><ellipse cx="1081" cy="311" rx="19" ry="10"/><ellipse cx="1136" cy="284" rx="25" ry="12"/><ellipse cx="1224" cy="293" rx="16" ry="9"/><ellipse cx="1304" cy="330" rx="16" ry="9"/><ellipse cx="-7" cy="376" rx="22" ry="8"/><ellipse cx="57" cy="387" rx="17" ry="8"/><ellipse cx="129" cy="370" rx="19" ry="8"/><ellipse cx="199" cy="344" rx="21" ry="11"/><ellipse cx="1073" cy="355" rx="14" ry="11"/><ellipse cx="1116" cy="369" rx="17" ry="9"/><ellipse cx="1186" cy="355" rx="16" ry="11"/><ellipse cx="1240" cy="355" rx="18" ry="8"/><ellipse cx="1332" cy="382" rx="16" ry="10"/><ellipse cx="-35" cy="428" rx="14" ry="8"/><ellipse cx="25" cy="416" rx="16" ry="10"/><ellipse cx="88" cy="412" rx="21" ry="10"/><ellipse cx="166" cy="416" rx="22" ry="11"/><ellipse cx="233" cy="402" rx="21" ry="10"/><ellipse cx="1148" cy="413" rx="24" ry="10"/><ellipse cx="1195" cy="449" rx="19" ry="6"/><ellipse cx="1293" cy="417" rx="19" ry="12"/><ellipse cx="11" cy="497" rx="23" ry="11"/><ellipse cx="43" cy="496" rx="24" ry="10"/><ellipse cx="145" cy="489" rx="20" ry="8"/><ellipse cx="166" cy="492" rx="16" ry="8"/><ellipse cx="1103" cy="501" rx="17" ry="8"/><ellipse cx="1175" cy="492" rx="23" ry="11"/><ellipse cx="1223" cy="472" rx="19" ry="10"/><ellipse cx="1310" cy="477" rx="14" ry="9"/><ellipse cx="-37" cy="546" rx="19" ry="7"/><ellipse cx="49" cy="520" rx="14" ry="10"/><ellipse cx="93" cy="522" rx="19" ry="9"/><ellipse cx="137" cy="554" rx="23" ry="10"/><ellipse cx="221" cy="560" rx="17" ry="9"/><ellipse cx="1056" cy="558" rx="17" ry="9"/><ellipse cx="1172" cy="523" rx="19" ry="6"/><ellipse cx="1220" cy="524" rx="19" ry="9"/><ellipse cx="1298" cy="548" rx="18" ry="8"/><ellipse cx="-14" cy="589" rx="20" ry="9"/><ellipse cx="84" cy="578" rx="18" ry="8"/><ellipse cx="129" cy="593" rx="16" ry="9"/><ellipse cx="212" cy="615" rx="17" ry="11"/><ellipse cx="281" cy="589" rx="16" ry="9"/><ellipse cx="1022" cy="609" rx="18" ry="8"/><ellipse cx="1126" cy="607" rx="16" ry="7"/><ellipse cx="1182" cy="586" rx="22" ry="10"/><ellipse cx="1257" cy="575" rx="16" ry="10"/><ellipse cx="1311" cy="615" rx="16" ry="11"/><ellipse cx="-52" cy="645" rx="15" ry="9"/><ellipse cx="13" cy="636" rx="21" ry="8"/><ellipse cx="68" cy="634" rx="26" ry="10"/><ellipse cx="133" cy="646" rx="25" ry="9"/><ellipse cx="235" cy="635" rx="16" ry="7"/><ellipse cx="291" cy="666" rx="20" ry="9"/><ellipse cx="998" cy="675" rx="20" ry="9"/><ellipse cx="1061" cy="668" rx="16" ry="7"/><ellipse cx="1146" cy="669" rx="16" ry="10"/><ellipse cx="1225" cy="637" rx="23" ry="8"/><ellipse cx="1288" cy="671" rx="18" ry="9"/><ellipse cx="-21" cy="733" rx="22" ry="9"/><ellipse cx="63" cy="706" rx="18" ry="9"/><ellipse cx="152" cy="711" rx="15" ry="8"/><ellipse cx="201" cy="693" rx="22" ry="11"/><ellipse cx="280" cy="732" rx="20" ry="9"/><ellipse cx="339" cy="691" rx="20" ry="12"/><ellipse cx="401" cy="707" rx="23" ry="11"/><ellipse cx="504" cy="730" rx="19" ry="7"/><ellipse cx="782" cy="733" rx="17" ry="9"/><ellipse cx="856" cy="715" rx="13" ry="10"/><ellipse cx="930" cy="731" rx="20" ry="9"/><ellipse cx="966" cy="723" rx="16" ry="8"/><ellipse cx="1027" cy="700" rx="22" ry="7"/><ellipse cx="1130" cy="718" rx="22" ry="11"/><ellipse cx="1159" cy="733" rx="14" ry="9"/><ellipse cx="1236" cy="708" rx="19" ry="8"/><ellipse cx="1323" cy="726" rx="23" ry="10"/><ellipse cx="-55" cy="755" rx="23" ry="9"/><ellipse cx="24" cy="778" rx="16" ry="12"/><ellipse cx="104" cy="762" rx="16" ry="7"/><ellipse cx="145" cy="765" rx="20" ry="7"/><ellipse cx="227" cy="793" rx="15" ry="8"/><ellipse cx="274" cy="759" rx="17" ry="9"/><ellipse cx="370" cy="761" rx="16" ry="9"/><ellipse cx="447" cy="764" rx="16" ry="8"/><ellipse cx="500" cy="762" rx="24" ry="10"/><ellipse cx="550" cy="782" rx="20" ry="8"/><ellipse cx="594" cy="776" rx="21" ry="9"/><ellipse cx="685" cy="749" rx="22" ry="10"/><ellipse cx="757" cy="763" rx="20" ry="9"/><ellipse cx="828" cy="752" rx="22" ry="8"/><ellipse cx="872" cy="777" rx="14" ry="10"/><ellipse cx="967" cy="774" rx="22" ry="9"/><ellipse cx="1010" cy="758" rx="18" ry="9"/><ellipse cx="1099" cy="761" rx="16" ry="10"/><ellipse cx="1130" cy="766" rx="20" ry="10"/><ellipse cx="1238" cy="762" rx="18" ry="9"/><ellipse cx="1261" cy="776" rx="16" ry="12"/><ellipse cx="1" cy="835" rx="21" ry="8"/><ellipse cx="72" cy="825" rx="19" ry="7"/><ellipse cx="112" cy="845" rx="16" ry="9"/><ellipse cx="210" cy="826" rx="25" ry="10"/><ellipse cx="253" cy="818" rx="18" ry="10"/><ellipse cx="316" cy="850" rx="18" ry="7"/><ellipse cx="381" cy="854" rx="13" ry="7"/><ellipse cx="430" cy="844" rx="18" ry="8"/><ellipse cx="544" cy="838" rx="19" ry="10"/><ellipse cx="564" cy="834" rx="19" ry="11"/><ellipse cx="633" cy="821" rx="18" ry="8"/><ellipse cx="694" cy="833" rx="22" ry="10"/><ellipse cx="756" cy="808" rx="26" ry="10"/><ellipse cx="849" cy="849" rx="18" ry="7"/><ellipse cx="936" cy="807" rx="18" ry="9"/><ellipse cx="961" cy="844" rx="22" ry="11"/><ellipse cx="1039" cy="840" rx="19" ry="9"/><ellipse cx="1137" cy="835" rx="20" ry="11"/><ellipse cx="1204" cy="823" rx="23" ry="12"/><ellipse cx="1220" cy="847" rx="18" ry="11"/><ellipse cx="1291" cy="829" rx="18" ry="8"/><ellipse cx="-26" cy="904" rx="15" ry="7"/><ellipse cx="31" cy="887" rx="19" ry="10"/><ellipse cx="96" cy="876" rx="14" ry="10"/><ellipse cx="140" cy="905" rx="23" ry="9"/><ellipse cx="235" cy="887" rx="15" ry="10"/><ellipse cx="265" cy="877" rx="17" ry="8"/><ellipse cx="348" cy="890" rx="20" ry="11"/><ellipse cx="443" cy="901" rx="18" ry="9"/><ellipse cx="511" cy="883" rx="16" ry="9"/><ellipse cx="563" cy="880" rx="25" ry="8"/><ellipse cx="621" cy="888" rx="19" ry="10"/><ellipse cx="687" cy="875" rx="24" ry="9"/><ellipse cx="742" cy="895" rx="22" ry="10"/><ellipse cx="835" cy="903" rx="14" ry="9"/><ellipse cx="893" cy="908" rx="15" ry="9"/><ellipse cx="974" cy="892" rx="20" ry="9"/><ellipse cx="1002" cy="892" rx="18" ry="7"/><ellipse cx="1054" cy="884" rx="20" ry="12"/><ellipse cx="1171" cy="888" rx="17" ry="10"/><ellipse cx="1239" cy="908" rx="15" ry="9"/><ellipse cx="1293" cy="883" rx="16" ry="7"/><ellipse cx="-26" cy="961" rx="20" ry="10"/><ellipse cx="50" cy="941" rx="24" ry="9"/><ellipse cx="101" cy="925" rx="15" ry="9"/><ellipse cx="207" cy="949" rx="23" ry="9"/><ellipse cx="247" cy="946" rx="15" ry="8"/><ellipse cx="335" cy="950" rx="20" ry="9"/><ellipse cx="390" cy="961" rx="22" ry="9"/><ellipse cx="435" cy="936" rx="22" ry="8"/><ellipse cx="496" cy="920" rx="23" ry="12"/><ellipse cx="585" cy="950" rx="17" ry="11"/><ellipse cx="656" cy="948" rx="14" ry="9"/><ellipse cx="723" cy="932" rx="14" ry="8"/><ellipse cx="786" cy="935" rx="25" ry="9"/><ellipse cx="870" cy="959" rx="19" ry="8"/><ellipse cx="895" cy="952" rx="12" ry="8"/><ellipse cx="992" cy="943" rx="17" ry="7"/><ellipse cx="1025" cy="940" rx="15" ry="8"/><ellipse cx="1095" cy="935" rx="18" ry="11"/><ellipse cx="1174" cy="939" rx="21" ry="11"/><ellipse cx="1236" cy="957" rx="24" ry="12"/><ellipse cx="1303" cy="932" rx="13" ry="9"/></g></g>
<g filter="url(#p4s)"><ellipse cx="200" cy="90" rx="80" ry="75" fill="#c4c8cc"/><ellipse cx="80" cy="220" rx="70" ry="55" fill="#cfcfcc"/><ellipse cx="100" cy="430" rx="55" ry="70" fill="#b8b8bc"/><ellipse cx="40" cy="380" rx="40" ry="60" fill="#d0c4b8"/><ellipse cx="50" cy="560" rx="55" ry="50" fill="#c8c0b8"/><ellipse cx="1160" cy="130" rx="70" ry="55" fill="#bcb8b0"/><ellipse cx="1210" cy="320" rx="70" ry="70" fill="#b8b8b8"/><ellipse cx="1050" cy="120" rx="40" ry="50" fill="#c8b894"/><ellipse cx="700" cy="75" rx="60" ry="45" fill="#9c7e6c"/><ellipse cx="620" cy="900" rx="60" ry="45" fill="#d4c8b0"/><ellipse cx="340" cy="880" rx="90" ry="60" fill="#d8d0c0"/><ellipse cx="1020" cy="830" rx="40" ry="50" fill="#8a7a74"/><path d="M250 -20C330 -33 678 -33 760 -20C842 -7 767 44 740 60C713 76 653 73 600 75C547 77 473 72 420 70C367 68 308 75 280 60C252 45 170 -7 250 -20Z" fill="#a49488"/></g>
<g filter="url(#p4c)"><path d="M-20 690C-7 644 32 678 60 685C88 692 125 708 150 730C175 752 198 782 210 820C222 858 263 937 225 960C187 983 21 1005 -20 960C-61 915 -33 736 -20 690Z" fill="#c49c70"/><path d="M-20 740C-7 702 35 723 60 730C85 737 112 758 130 780C148 802 162 830 170 860C178 890 212 943 180 960C148 977 13 997 -20 960C-53 923 -33 778 -20 740Z" fill="#a07a58"/><ellipse cx="60" cy="820" rx="30" ry="25" fill="#c8a070"/><ellipse cx="120" cy="900" rx="30" ry="25" fill="#c8a070"/><ellipse cx="20" cy="900" rx="20" ry="20" fill="#c8a070"/></g>
<g filter="url(#p4m)" opacity="0.55"><path d="M130 470C132 417 125 365 160 300C195 235 267 124 340 80C413 36 537 28 600 35C663 42 677 118 720 120C763 122 795 40 860 50C925 60 1053 108 1110 180C1167 252 1192 403 1200 480C1208 557 1183 593 1160 640C1137 687 1123 725 1060 760C997 795 857 832 780 850C703 868 683 882 600 870C517 858 355 822 280 780C205 738 175 672 150 620C125 568 128 523 130 470Z" fill="#3a2e2a"/></g>
<g filter="url(#p4s)"><path d="M150 470C152 432 155 365 170 320C185 275 210 237 240 200C270 163 310 124 350 100C390 76 438 62 480 55C522 48 567 48 600 55C633 62 662 84 680 100C698 116 702 100 705 150C708 200 700 317 700 400C700 483 702 578 705 650C708 722 732 796 715 830C698 864 644 854 600 855C556 856 500 850 450 835C400 820 342 795 300 765C258 735 224 691 200 655C176 619 163 581 155 550C147 519 148 508 150 470Z" fill="#a89088"/><path d="M700 140C711 88 735 100 760 88C785 76 810 65 850 68C890 71 958 86 1000 108C1042 130 1071 161 1100 198C1129 235 1158 283 1172 330C1186 377 1185 432 1182 480C1179 528 1172 576 1152 620C1132 664 1101 710 1062 742C1023 774 967 797 920 812C873 827 812 832 780 832C748 832 742 842 730 812C718 782 711 719 705 650C699 581 696 485 695 400C694 315 689 192 700 140Z" fill="#a89088"/></g>
<g filter="url(#p4t)"><path d="M605 70C616 53 664 87 680 100C696 113 698 100 700 150C702 200 695 317 695 400C695 483 697 580 700 650C703 720 722 788 712 820C702 852 655 877 640 840C625 803 628 673 622 600C616 527 604 467 602 400C600 333 612 255 612 200C612 145 594 87 605 70Z" fill="#b2a2a2"/><path class="s" d="M700 150C699 192 692 317 692 400C692 483 696 581 700 650C704 719 713 788 716 815" stroke="#c8a8b8" stroke-width="5"/></g>
<g filter="url(#p4c)"><path d="M170 480C172 431 192 373 210 330C228 287 250 255 280 220C310 185 353 144 390 120C427 96 465 82 500 75C535 68 581 59 600 80C619 101 612 147 612 200C612 253 600 333 602 400C604 467 622 533 622 600C622 667 631 768 602 800C573 832 500 808 450 795C400 782 342 753 300 725C258 697 222 666 200 625C178 584 168 529 170 480Z" fill="#c86e48"/><path d="M730 160C740 118 755 111 780 100C805 89 843 88 880 95C917 102 963 120 1000 145C1037 170 1075 206 1100 245C1125 284 1143 332 1152 380C1161 428 1160 485 1152 530C1144 575 1127 613 1102 650C1077 687 1039 728 1000 752C961 776 910 788 870 795C830 802 783 828 760 795C737 762 737 674 730 600C723 526 720 423 720 350C720 277 720 202 730 160Z" fill="#c86e48"/></g>
<g filter="url(#p4c)" clip-path="url(#p4lw)"><ellipse cx="160" cy="77" rx="30" ry="14" fill="#a86a58" transform="rotate(18 160 80)"/><ellipse cx="215" cy="88" rx="30" ry="13" fill="#a86a58" transform="rotate(3 215 80)"/><ellipse cx="284" cy="78" rx="24" ry="17" fill="#a86a58" transform="rotate(-2 284 80)"/><ellipse cx="345" cy="75" rx="26" ry="14" fill="#a86a58" transform="rotate(0 345 80)"/><ellipse cx="412" cy="85" rx="31" ry="15" fill="#a86a58" transform="rotate(12 412 80)"/><ellipse cx="472" cy="83" rx="27" ry="17" fill="#a86a58" transform="rotate(-4 472 80)"/><ellipse cx="526" cy="74" rx="27" ry="15" fill="#a86a58" transform="rotate(15 526 80)"/><ellipse cx="581" cy="88" rx="35" ry="13" fill="#a86a58" transform="rotate(-6 581 80)"/><ellipse cx="160" cy="120" rx="24" ry="18" fill="#a86a58" transform="rotate(-19 160 122)"/><ellipse cx="218" cy="124" rx="25" ry="18" fill="#a86a58" transform="rotate(-15 218 122)"/><ellipse cx="267" cy="123" rx="25" ry="13" fill="#a86a58" transform="rotate(-21 267 122)"/><ellipse cx="324" cy="120" rx="35" ry="15" fill="#a86a58" transform="rotate(7 324 122)"/><ellipse cx="391" cy="115" rx="31" ry="17" fill="#a86a58" transform="rotate(23 391 122)"/><ellipse cx="449" cy="124" rx="31" ry="14" fill="#a86a58" transform="rotate(-12 449 122)"/><ellipse cx="526" cy="114" rx="36" ry="17" fill="#a86a58" transform="rotate(23 526 122)"/><ellipse cx="597" cy="113" rx="31" ry="15" fill="#a86a58" transform="rotate(9 597 122)"/><ellipse cx="160" cy="156" rx="33" ry="15" fill="#a86a58" transform="rotate(18 160 164)"/><ellipse cx="233" cy="162" rx="29" ry="19" fill="#a86a58" transform="rotate(4 233 164)"/><ellipse cx="289" cy="161" rx="34" ry="16" fill="#a86a58" transform="rotate(-14 289 164)"/><ellipse cx="360" cy="156" rx="28" ry="17" fill="#a86a58" transform="rotate(-20 360 164)"/><ellipse cx="428" cy="170" rx="24" ry="18" fill="#a86a58" transform="rotate(-0 428 164)"/><ellipse cx="488" cy="169" rx="27" ry="16" fill="#a86a58" transform="rotate(-13 488 164)"/><ellipse cx="558" cy="161" rx="29" ry="18" fill="#a86a58" transform="rotate(-7 558 164)"/><ellipse cx="626" cy="171" rx="26" ry="15" fill="#a86a58" transform="rotate(-22 626 164)"/><ellipse cx="160" cy="215" rx="26" ry="19" fill="#a86a58" transform="rotate(5 160 206)"/><ellipse cx="210" cy="200" rx="25" ry="15" fill="#a86a58" transform="rotate(6 210 206)"/><ellipse cx="276" cy="199" rx="28" ry="16" fill="#a86a58" transform="rotate(-18 276 206)"/><ellipse cx="331" cy="210" rx="31" ry="13" fill="#a86a58" transform="rotate(-2 331 206)"/><ellipse cx="402" cy="204" rx="33" ry="18" fill="#a86a58" transform="rotate(-17 402 206)"/><ellipse cx="478" cy="214" rx="33" ry="16" fill="#a86a58" transform="rotate(-20 478 206)"/><ellipse cx="540" cy="199" rx="30" ry="17" fill="#a86a58" transform="rotate(-21 540 206)"/><ellipse cx="612" cy="196" rx="27" ry="14" fill="#a86a58" transform="rotate(-2 612 206)"/><ellipse cx="160" cy="241" rx="29" ry="16" fill="#a86a58" transform="rotate(22 160 248)"/><ellipse cx="224" cy="239" rx="35" ry="19" fill="#a86a58" transform="rotate(19 224 248)"/><ellipse cx="300" cy="249" rx="30" ry="18" fill="#a86a58" transform="rotate(-22 300 248)"/><ellipse cx="370" cy="244" rx="31" ry="17" fill="#a86a58" transform="rotate(11 370 248)"/><ellipse cx="429" cy="247" rx="32" ry="16" fill="#a86a58" transform="rotate(7 429 248)"/><ellipse cx="490" cy="245" rx="31" ry="18" fill="#a86a58" transform="rotate(-13 490 248)"/><ellipse cx="564" cy="250" rx="33" ry="18" fill="#a86a58" transform="rotate(-23 564 248)"/><ellipse cx="637" cy="252" rx="31" ry="15" fill="#a86a58" transform="rotate(-22 637 248)"/><ellipse cx="160" cy="284" rx="31" ry="13" fill="#a86a58" transform="rotate(-7 160 290)"/><ellipse cx="228" cy="281" rx="30" ry="18" fill="#a86a58" transform="rotate(-8 228 290)"/><ellipse cx="300" cy="299" rx="24" ry="17" fill="#a86a58" transform="rotate(24 300 290)"/><ellipse cx="366" cy="282" rx="34" ry="15" fill="#a86a58" transform="rotate(-13 366 290)"/><ellipse cx="444" cy="284" rx="26" ry="14" fill="#a86a58" transform="rotate(-19 444 290)"/><ellipse cx="513" cy="287" rx="36" ry="17" fill="#a86a58" transform="rotate(-2 513 290)"/><ellipse cx="589" cy="293" rx="28" ry="14" fill="#a86a58" transform="rotate(-12 589 290)"/><ellipse cx="160" cy="331" rx="26" ry="19" fill="#a86a58" transform="rotate(-24 160 332)"/><ellipse cx="212" cy="323" rx="34" ry="15" fill="#a86a58" transform="rotate(18 212 332)"/><ellipse cx="286" cy="323" rx="27" ry="15" fill="#a86a58" transform="rotate(-10 286 332)"/><ellipse cx="352" cy="338" rx="36" ry="18" fill="#a86a58" transform="rotate(22 352 332)"/><ellipse cx="436" cy="341" rx="35" ry="14" fill="#a86a58" transform="rotate(-9 436 332)"/><ellipse cx="505" cy="332" rx="31" ry="15" fill="#a86a58" transform="rotate(17 505 332)"/><ellipse cx="571" cy="328" rx="27" ry="16" fill="#a86a58" transform="rotate(6 571 332)"/><ellipse cx="633" cy="326" rx="29" ry="15" fill="#a86a58" transform="rotate(-9 633 332)"/><ellipse cx="160" cy="368" rx="31" ry="17" fill="#a86a58" transform="rotate(8 160 374)"/><ellipse cx="220" cy="371" rx="32" ry="16" fill="#a86a58" transform="rotate(5 220 374)"/><ellipse cx="293" cy="379" rx="35" ry="14" fill="#a86a58" transform="rotate(2 293 374)"/><ellipse cx="364" cy="375" rx="24" ry="16" fill="#a86a58" transform="rotate(18 364 374)"/><ellipse cx="417" cy="374" rx="34" ry="14" fill="#a86a58" transform="rotate(11 417 374)"/><ellipse cx="485" cy="365" rx="30" ry="13" fill="#a86a58" transform="rotate(21 485 374)"/><ellipse cx="543" cy="367" rx="26" ry="14" fill="#a86a58" transform="rotate(16 543 374)"/><ellipse cx="611" cy="372" rx="32" ry="18" fill="#a86a58" transform="rotate(0 611 374)"/><ellipse cx="160" cy="413" rx="32" ry="15" fill="#a86a58" transform="rotate(-9 160 416)"/><ellipse cx="228" cy="418" rx="26" ry="18" fill="#a86a58" transform="rotate(4 228 416)"/><ellipse cx="277" cy="406" rx="32" ry="16" fill="#a86a58" transform="rotate(18 277 416)"/><ellipse cx="351" cy="421" rx="35" ry="15" fill="#a86a58" transform="rotate(-18 351 416)"/><ellipse cx="424" cy="411" rx="32" ry="15" fill="#a86a58" transform="rotate(12 424 416)"/><ellipse cx="491" cy="417" rx="31" ry="19" fill="#a86a58" transform="rotate(-24 491 416)"/><ellipse cx="552" cy="419" rx="33" ry="14" fill="#a86a58" transform="rotate(-18 552 416)"/><ellipse cx="618" cy="424" rx="31" ry="14" fill="#a86a58" transform="rotate(-15 618 416)"/><ellipse cx="160" cy="465" rx="29" ry="19" fill="#a86a58" transform="rotate(22 160 458)"/><ellipse cx="229" cy="449" rx="30" ry="18" fill="#a86a58" transform="rotate(-5 229 458)"/><ellipse cx="294" cy="467" rx="32" ry="16" fill="#a86a58" transform="rotate(21 294 458)"/><ellipse cx="372" cy="455" rx="25" ry="18" fill="#a86a58" transform="rotate(13 372 458)"/><ellipse cx="439" cy="459" rx="26" ry="19" fill="#a86a58" transform="rotate(2 439 458)"/><ellipse cx="502" cy="451" rx="36" ry="13" fill="#a86a58" transform="rotate(18 502 458)"/><ellipse cx="579" cy="465" rx="26" ry="15" fill="#a86a58" transform="rotate(-19 579 458)"/><ellipse cx="635" cy="456" rx="24" ry="18" fill="#a86a58" transform="rotate(-2 635 458)"/><ellipse cx="160" cy="493" rx="25" ry="14" fill="#a86a58" transform="rotate(4 160 500)"/><ellipse cx="211" cy="500" rx="32" ry="16" fill="#a86a58" transform="rotate(17 211 500)"/><ellipse cx="286" cy="493" rx="35" ry="15" fill="#a86a58" transform="rotate(23 286 500)"/><ellipse cx="358" cy="500" rx="27" ry="14" fill="#a86a58" transform="rotate(17 358 500)"/><ellipse cx="423" cy="509" rx="25" ry="16" fill="#a86a58" transform="rotate(-12 423 500)"/><ellipse cx="483" cy="497" rx="35" ry="13" fill="#a86a58" transform="rotate(-15 483 500)"/><ellipse cx="549" cy="496" rx="30" ry="18" fill="#a86a58" transform="rotate(-15 549 500)"/><ellipse cx="606" cy="492" rx="30" ry="15" fill="#a86a58" transform="rotate(-14 606 500)"/><ellipse cx="160" cy="551" rx="32" ry="15" fill="#a86a58" transform="rotate(7 160 542)"/><ellipse cx="225" cy="543" rx="35" ry="13" fill="#a86a58" transform="rotate(12 225 542)"/><ellipse cx="294" cy="532" rx="25" ry="18" fill="#a86a58" transform="rotate(10 294 542)"/><ellipse cx="348" cy="546" rx="31" ry="13" fill="#a86a58" transform="rotate(10 348 542)"/><ellipse cx="419" cy="533" rx="35" ry="16" fill="#a86a58" transform="rotate(0 419 542)"/><ellipse cx="501" cy="545" rx="28" ry="18" fill="#a86a58" transform="rotate(-8 501 542)"/><ellipse cx="565" cy="533" rx="35" ry="19" fill="#a86a58" transform="rotate(-9 565 542)"/><ellipse cx="638" cy="548" rx="27" ry="16" fill="#a86a58" transform="rotate(12 638 542)"/><ellipse cx="160" cy="590" rx="35" ry="17" fill="#a86a58" transform="rotate(-14 160 584)"/><ellipse cx="229" cy="575" rx="29" ry="19" fill="#a86a58" transform="rotate(-5 229 584)"/><ellipse cx="303" cy="587" rx="26" ry="18" fill="#a86a58" transform="rotate(7 303 584)"/><ellipse cx="361" cy="583" rx="24" ry="15" fill="#a86a58" transform="rotate(22 361 584)"/><ellipse cx="427" cy="594" rx="35" ry="14" fill="#a86a58" transform="rotate(-24 427 584)"/><ellipse cx="498" cy="576" rx="24" ry="16" fill="#a86a58" transform="rotate(-15 498 584)"/><ellipse cx="556" cy="579" rx="29" ry="19" fill="#a86a58" transform="rotate(-16 556 584)"/><ellipse cx="627" cy="587" rx="30" ry="14" fill="#a86a58" transform="rotate(12 627 584)"/><ellipse cx="160" cy="625" rx="26" ry="17" fill="#a86a58" transform="rotate(-1 160 626)"/><ellipse cx="225" cy="622" rx="32" ry="17" fill="#a86a58" transform="rotate(14 225 626)"/><ellipse cx="293" cy="629" rx="31" ry="16" fill="#a86a58" transform="rotate(-21 293 626)"/><ellipse cx="359" cy="630" rx="33" ry="13" fill="#a86a58" transform="rotate(-1 359 626)"/><ellipse cx="433" cy="619" rx="30" ry="17" fill="#a86a58" transform="rotate(10 433 626)"/><ellipse cx="500" cy="628" rx="35" ry="13" fill="#a86a58" transform="rotate(-11 500 626)"/><ellipse cx="579" cy="635" rx="25" ry="17" fill="#a86a58" transform="rotate(13 579 626)"/><ellipse cx="630" cy="633" rx="24" ry="16" fill="#a86a58" transform="rotate(-3 630 626)"/><ellipse cx="160" cy="665" rx="33" ry="18" fill="#a86a58" transform="rotate(-17 160 668)"/><ellipse cx="241" cy="664" rx="32" ry="16" fill="#a86a58" transform="rotate(19 241 668)"/><ellipse cx="308" cy="676" rx="32" ry="19" fill="#a86a58" transform="rotate(-12 308 668)"/><ellipse cx="384" cy="674" rx="31" ry="13" fill="#a86a58" transform="rotate(-4 384 668)"/><ellipse cx="451" cy="667" rx="34" ry="13" fill="#a86a58" transform="rotate(-15 451 668)"/><ellipse cx="530" cy="669" rx="35" ry="13" fill="#a86a58" transform="rotate(14 530 668)"/><ellipse cx="611" cy="668" rx="27" ry="15" fill="#a86a58" transform="rotate(-22 611 668)"/><ellipse cx="160" cy="702" rx="26" ry="18" fill="#a86a58" transform="rotate(-20 160 710)"/><ellipse cx="224" cy="705" rx="34" ry="15" fill="#a86a58" transform="rotate(-14 224 710)"/><ellipse cx="301" cy="715" rx="36" ry="16" fill="#a86a58" transform="rotate(2 301 710)"/><ellipse cx="375" cy="705" rx="33" ry="14" fill="#a86a58" transform="rotate(10 375 710)"/><ellipse cx="440" cy="715" rx="36" ry="14" fill="#a86a58" transform="rotate(-24 440 710)"/><ellipse cx="518" cy="710" rx="26" ry="17" fill="#a86a58" transform="rotate(15 518 710)"/><ellipse cx="574" cy="716" rx="31" ry="14" fill="#a86a58" transform="rotate(-8 574 710)"/><ellipse cx="160" cy="761" rx="28" ry="14" fill="#a86a58" transform="rotate(-21 160 752)"/><ellipse cx="220" cy="749" rx="30" ry="14" fill="#a86a58" transform="rotate(-3 220 752)"/><ellipse cx="294" cy="755" rx="35" ry="15" fill="#a86a58" transform="rotate(4 294 752)"/><ellipse cx="362" cy="758" rx="25" ry="15" fill="#a86a58" transform="rotate(-17 362 752)"/><ellipse cx="425" cy="747" rx="25" ry="14" fill="#a86a58" transform="rotate(20 425 752)"/><ellipse cx="487" cy="743" rx="26" ry="18" fill="#a86a58" transform="rotate(-19 487 752)"/><ellipse cx="551" cy="754" rx="32" ry="16" fill="#a86a58" transform="rotate(-4 551 752)"/><ellipse cx="616" cy="745" rx="32" ry="16" fill="#a86a58" transform="rotate(-12 616 752)"/><ellipse cx="160" cy="795" rx="35" ry="17" fill="#a86a58" transform="rotate(7 160 794)"/><ellipse cx="224" cy="801" rx="33" ry="17" fill="#a86a58" transform="rotate(1 224 794)"/><ellipse cx="303" cy="790" rx="35" ry="14" fill="#a86a58" transform="rotate(-8 303 794)"/><ellipse cx="368" cy="786" rx="27" ry="13" fill="#a86a58" transform="rotate(-5 368 794)"/><ellipse cx="419" cy="801" rx="30" ry="17" fill="#a86a58" transform="rotate(-22 419 794)"/><ellipse cx="489" cy="800" rx="26" ry="17" fill="#a86a58" transform="rotate(2 489 794)"/><ellipse cx="547" cy="788" rx="36" ry="18" fill="#a86a58" transform="rotate(-15 547 794)"/><ellipse cx="615" cy="785" rx="27" ry="18" fill="#a86a58" transform="rotate(-16 615 794)"/></g>
<g filter="url(#p4c)" clip-path="url(#p4rw)"><ellipse cx="710" cy="92" rx="27" ry="18" fill="#a86a58" transform="rotate(2 710 95)"/><ellipse cx="767" cy="88" rx="33" ry="13" fill="#a86a58" transform="rotate(10 767 95)"/><ellipse cx="845" cy="99" rx="33" ry="19" fill="#a86a58" transform="rotate(21 845 95)"/><ellipse cx="918" cy="97" rx="26" ry="16" fill="#a86a58" transform="rotate(10 918 95)"/><ellipse cx="974" cy="89" rx="25" ry="14" fill="#a86a58" transform="rotate(12 974 95)"/><ellipse cx="1035" cy="91" rx="30" ry="17" fill="#a86a58" transform="rotate(-3 1035 95)"/><ellipse cx="1102" cy="105" rx="26" ry="16" fill="#a86a58" transform="rotate(-1 1102 95)"/><ellipse cx="1156" cy="94" rx="29" ry="16" fill="#a86a58" transform="rotate(12 1156 95)"/><ellipse cx="710" cy="140" rx="31" ry="14" fill="#a86a58" transform="rotate(16 710 137)"/><ellipse cx="770" cy="144" rx="27" ry="14" fill="#a86a58" transform="rotate(-11 770 137)"/><ellipse cx="829" cy="146" rx="35" ry="14" fill="#a86a58" transform="rotate(7 829 137)"/><ellipse cx="911" cy="133" rx="30" ry="14" fill="#a86a58" transform="rotate(-22 911 137)"/><ellipse cx="968" cy="141" rx="25" ry="17" fill="#a86a58" transform="rotate(-22 968 137)"/><ellipse cx="1034" cy="135" rx="36" ry="15" fill="#a86a58" transform="rotate(19 1034 137)"/><ellipse cx="1113" cy="131" rx="33" ry="17" fill="#a86a58" transform="rotate(-3 1113 137)"/><ellipse cx="710" cy="174" rx="25" ry="14" fill="#a86a58" transform="rotate(-12 710 179)"/><ellipse cx="775" cy="173" rx="29" ry="14" fill="#a86a58" transform="rotate(-22 775 179)"/><ellipse cx="837" cy="171" rx="29" ry="16" fill="#a86a58" transform="rotate(-8 837 179)"/><ellipse cx="892" cy="172" rx="30" ry="14" fill="#a86a58" transform="rotate(13 892 179)"/><ellipse cx="956" cy="180" rx="28" ry="17" fill="#a86a58" transform="rotate(6 956 179)"/><ellipse cx="1028" cy="176" rx="33" ry="19" fill="#a86a58" transform="rotate(-24 1028 179)"/><ellipse cx="1092" cy="177" rx="25" ry="15" fill="#a86a58" transform="rotate(-6 1092 179)"/><ellipse cx="1153" cy="179" rx="28" ry="17" fill="#a86a58" transform="rotate(21 1153 179)"/><ellipse cx="710" cy="219" rx="28" ry="19" fill="#a86a58" transform="rotate(17 710 221)"/><ellipse cx="781" cy="217" rx="25" ry="16" fill="#a86a58" transform="rotate(-10 781 221)"/><ellipse cx="838" cy="219" rx="35" ry="16" fill="#a86a58" transform="rotate(-9 838 221)"/><ellipse cx="915" cy="215" rx="31" ry="13" fill="#a86a58" transform="rotate(13 915 221)"/><ellipse cx="989" cy="215" rx="28" ry="14" fill="#a86a58" transform="rotate(6 989 221)"/><ellipse cx="1053" cy="225" rx="35" ry="16" fill="#a86a58" transform="rotate(5 1053 221)"/><ellipse cx="1136" cy="214" rx="35" ry="14" fill="#a86a58" transform="rotate(-19 1136 221)"/><ellipse cx="710" cy="272" rx="34" ry="16" fill="#a86a58" transform="rotate(13 710 263)"/><ellipse cx="786" cy="261" rx="32" ry="19" fill="#a86a58" transform="rotate(-10 786 263)"/><ellipse cx="848" cy="269" rx="25" ry="18" fill="#a86a58" transform="rotate(18 848 263)"/><ellipse cx="910" cy="260" rx="27" ry="15" fill="#a86a58" transform="rotate(18 910 263)"/><ellipse cx="961" cy="266" rx="28" ry="17" fill="#a86a58" transform="rotate(-25 961 263)"/><ellipse cx="1015" cy="257" rx="26" ry="16" fill="#a86a58" transform="rotate(-23 1015 263)"/><ellipse cx="1081" cy="266" rx="30" ry="15" fill="#a86a58" transform="rotate(17 1081 263)"/><ellipse cx="1138" cy="258" rx="34" ry="16" fill="#a86a58" transform="rotate(3 1138 263)"/><ellipse cx="710" cy="309" rx="31" ry="13" fill="#a86a58" transform="rotate(2 710 305)"/><ellipse cx="777" cy="297" rx="31" ry="17" fill="#a86a58" transform="rotate(-21 777 305)"/><ellipse cx="836" cy="315" rx="25" ry="14" fill="#a86a58" transform="rotate(9 836 305)"/><ellipse cx="884" cy="299" rx="31" ry="17" fill="#a86a58" transform="rotate(12 884 305)"/><ellipse cx="956" cy="309" rx="30" ry="13" fill="#a86a58" transform="rotate(-22 956 305)"/><ellipse cx="1017" cy="310" rx="29" ry="13" fill="#a86a58" transform="rotate(-15 1017 305)"/><ellipse cx="1083" cy="297" rx="28" ry="15" fill="#a86a58" transform="rotate(-24 1083 305)"/><ellipse cx="1136" cy="301" rx="34" ry="17" fill="#a86a58" transform="rotate(-13 1136 305)"/><ellipse cx="710" cy="337" rx="35" ry="17" fill="#a86a58" transform="rotate(20 710 347)"/><ellipse cx="789" cy="352" rx="25" ry="18" fill="#a86a58" transform="rotate(-17 789 347)"/><ellipse cx="851" cy="341" rx="31" ry="18" fill="#a86a58" transform="rotate(18 851 347)"/><ellipse cx="911" cy="349" rx="30" ry="13" fill="#a86a58" transform="rotate(1 911 347)"/><ellipse cx="985" cy="347" rx="28" ry="19" fill="#a86a58" transform="rotate(19 985 347)"/><ellipse cx="1056" cy="357" rx="25" ry="15" fill="#a86a58" transform="rotate(-7 1056 347)"/><ellipse cx="1108" cy="349" rx="34" ry="16" fill="#a86a58" transform="rotate(-0 1108 347)"/><ellipse cx="710" cy="382" rx="31" ry="17" fill="#a86a58" transform="rotate(-12 710 389)"/><ellipse cx="768" cy="381" rx="35" ry="18" fill="#a86a58" transform="rotate(13 768 389)"/><ellipse cx="842" cy="384" rx="31" ry="14" fill="#a86a58" transform="rotate(19 842 389)"/><ellipse cx="915" cy="388" rx="33" ry="13" fill="#a86a58" transform="rotate(14 915 389)"/><ellipse cx="996" cy="392" rx="28" ry="14" fill="#a86a58" transform="rotate(23 996 389)"/><ellipse cx="1062" cy="393" rx="25" ry="17" fill="#a86a58" transform="rotate(-3 1062 389)"/><ellipse cx="1121" cy="393" rx="35" ry="16" fill="#a86a58" transform="rotate(23 1121 389)"/><ellipse cx="710" cy="432" rx="33" ry="18" fill="#a86a58" transform="rotate(14 710 431)"/><ellipse cx="782" cy="425" rx="30" ry="17" fill="#a86a58" transform="rotate(11 782 431)"/><ellipse cx="845" cy="435" rx="25" ry="17" fill="#a86a58" transform="rotate(7 845 431)"/><ellipse cx="895" cy="436" rx="35" ry="18" fill="#a86a58" transform="rotate(-18 895 431)"/><ellipse cx="965" cy="421" rx="30" ry="19" fill="#a86a58" transform="rotate(-16 965 431)"/><ellipse cx="1024" cy="426" rx="34" ry="16" fill="#a86a58" transform="rotate(8 1024 431)"/><ellipse cx="1090" cy="435" rx="25" ry="18" fill="#a86a58" transform="rotate(15 1090 431)"/><ellipse cx="1139" cy="430" rx="28" ry="13" fill="#a86a58" transform="rotate(19 1139 431)"/><ellipse cx="710" cy="481" rx="36" ry="18" fill="#a86a58" transform="rotate(-10 710 473)"/><ellipse cx="789" cy="463" rx="34" ry="13" fill="#a86a58" transform="rotate(24 789 473)"/><ellipse cx="854" cy="471" rx="35" ry="14" fill="#a86a58" transform="rotate(-6 854 473)"/><ellipse cx="936" cy="465" rx="32" ry="18" fill="#a86a58" transform="rotate(-8 936 473)"/><ellipse cx="1012" cy="480" rx="30" ry="16" fill="#a86a58" transform="rotate(-7 1012 473)"/><ellipse cx="1087" cy="474" rx="36" ry="16" fill="#a86a58" transform="rotate(5 1087 473)"/><ellipse cx="1167" cy="482" rx="27" ry="16" fill="#a86a58" transform="rotate(25 1167 473)"/><ellipse cx="710" cy="523" rx="35" ry="15" fill="#a86a58" transform="rotate(-23 710 515)"/><ellipse cx="786" cy="512" rx="31" ry="15" fill="#a86a58" transform="rotate(-11 786 515)"/><ellipse cx="845" cy="515" rx="30" ry="16" fill="#a86a58" transform="rotate(17 845 515)"/><ellipse cx="909" cy="520" rx="33" ry="16" fill="#a86a58" transform="rotate(-2 909 515)"/><ellipse cx="975" cy="522" rx="32" ry="19" fill="#a86a58" transform="rotate(15 975 515)"/><ellipse cx="1054" cy="514" rx="31" ry="19" fill="#a86a58" transform="rotate(9 1054 515)"/><ellipse cx="1114" cy="517" rx="34" ry="18" fill="#a86a58" transform="rotate(-5 1114 515)"/><ellipse cx="710" cy="559" rx="31" ry="18" fill="#a86a58" transform="rotate(-5 710 557)"/><ellipse cx="781" cy="549" rx="35" ry="18" fill="#a86a58" transform="rotate(10 781 557)"/><ellipse cx="855" cy="557" rx="24" ry="14" fill="#a86a58" transform="rotate(-15 855 557)"/><ellipse cx="912" cy="566" rx="32" ry="17" fill="#a86a58" transform="rotate(13 912 557)"/><ellipse cx="981" cy="554" rx="24" ry="14" fill="#a86a58" transform="rotate(5 981 557)"/><ellipse cx="1034" cy="554" rx="31" ry="13" fill="#a86a58" transform="rotate(-14 1034 557)"/><ellipse cx="1111" cy="560" rx="29" ry="16" fill="#a86a58" transform="rotate(-2 1111 557)"/><ellipse cx="710" cy="602" rx="35" ry="18" fill="#a86a58" transform="rotate(-8 710 599)"/><ellipse cx="780" cy="600" rx="24" ry="13" fill="#a86a58" transform="rotate(-12 780 599)"/><ellipse cx="835" cy="593" rx="28" ry="16" fill="#a86a58" transform="rotate(21 835 599)"/><ellipse cx="900" cy="609" rx="32" ry="17" fill="#a86a58" transform="rotate(23 900 599)"/><ellipse cx="973" cy="601" rx="34" ry="19" fill="#a86a58" transform="rotate(2 973 599)"/><ellipse cx="1042" cy="591" rx="32" ry="16" fill="#a86a58" transform="rotate(22 1042 599)"/><ellipse cx="1104" cy="595" rx="29" ry="17" fill="#a86a58" transform="rotate(18 1104 599)"/><ellipse cx="1165" cy="590" rx="31" ry="14" fill="#a86a58" transform="rotate(-4 1165 599)"/><ellipse cx="710" cy="649" rx="35" ry="16" fill="#a86a58" transform="rotate(-12 710 641)"/><ellipse cx="790" cy="647" rx="34" ry="17" fill="#a86a58" transform="rotate(7 790 641)"/><ellipse cx="861" cy="638" rx="31" ry="17" fill="#a86a58" transform="rotate(19 861 641)"/><ellipse cx="925" cy="633" rx="33" ry="14" fill="#a86a58" transform="rotate(-16 925 641)"/><ellipse cx="991" cy="639" rx="29" ry="18" fill="#a86a58" transform="rotate(-22 991 641)"/><ellipse cx="1063" cy="637" rx="27" ry="16" fill="#a86a58" transform="rotate(-3 1063 641)"/><ellipse cx="1125" cy="643" rx="24" ry="13" fill="#a86a58" transform="rotate(-17 1125 641)"/><ellipse cx="710" cy="688" rx="30" ry="13" fill="#a86a58" transform="rotate(-23 710 683)"/><ellipse cx="774" cy="687" rx="27" ry="18" fill="#a86a58" transform="rotate(20 774 683)"/><ellipse cx="845" cy="678" rx="36" ry="16" fill="#a86a58" transform="rotate(-18 845 683)"/><ellipse cx="921" cy="686" rx="32" ry="19" fill="#a86a58" transform="rotate(-6 921 683)"/><ellipse cx="990" cy="689" rx="35" ry="14" fill="#a86a58" transform="rotate(-5 990 683)"/><ellipse cx="1069" cy="689" rx="25" ry="18" fill="#a86a58" transform="rotate(7 1069 683)"/><ellipse cx="1119" cy="676" rx="31" ry="18" fill="#a86a58" transform="rotate(-13 1119 683)"/><ellipse cx="710" cy="720" rx="29" ry="18" fill="#a86a58" transform="rotate(-16 710 725)"/><ellipse cx="767" cy="724" rx="28" ry="16" fill="#a86a58" transform="rotate(23 767 725)"/><ellipse cx="829" cy="718" rx="34" ry="16" fill="#a86a58" transform="rotate(20 829 725)"/><ellipse cx="909" cy="717" rx="32" ry="19" fill="#a86a58" transform="rotate(-7 909 725)"/><ellipse cx="981" cy="717" rx="25" ry="15" fill="#a86a58" transform="rotate(15 981 725)"/><ellipse cx="1044" cy="720" rx="29" ry="16" fill="#a86a58" transform="rotate(-3 1044 725)"/><ellipse cx="1103" cy="716" rx="26" ry="14" fill="#a86a58" transform="rotate(14 1103 725)"/><ellipse cx="710" cy="770" rx="34" ry="16" fill="#a86a58" transform="rotate(-11 710 767)"/><ellipse cx="782" cy="774" rx="29" ry="19" fill="#a86a58" transform="rotate(-5 782 767)"/><ellipse cx="841" cy="775" rx="33" ry="19" fill="#a86a58" transform="rotate(24 841 767)"/><ellipse cx="918" cy="766" rx="34" ry="17" fill="#a86a58" transform="rotate(-14 918 767)"/><ellipse cx="1000" cy="772" rx="27" ry="18" fill="#a86a58" transform="rotate(19 1000 767)"/><ellipse cx="1058" cy="757" rx="30" ry="18" fill="#a86a58" transform="rotate(4 1058 767)"/><ellipse cx="1117" cy="765" rx="28" ry="16" fill="#a86a58" transform="rotate(-10 1117 767)"/><ellipse cx="710" cy="814" rx="30" ry="16" fill="#a86a58" transform="rotate(-3 710 809)"/><ellipse cx="774" cy="814" rx="35" ry="17" fill="#a86a58" transform="rotate(-22 774 809)"/><ellipse cx="854" cy="813" rx="29" ry="16" fill="#a86a58" transform="rotate(-21 854 809)"/><ellipse cx="920" cy="802" rx="33" ry="17" fill="#a86a58" transform="rotate(-12 920 809)"/><ellipse cx="981" cy="807" rx="25" ry="14" fill="#a86a58" transform="rotate(-16 981 809)"/><ellipse cx="1034" cy="809" rx="33" ry="16" fill="#a86a58" transform="rotate(20 1034 809)"/><ellipse cx="1101" cy="813" rx="35" ry="17" fill="#a86a58" transform="rotate(21 1101 809)"/><ellipse cx="1168" cy="810" rx="29" ry="16" fill="#a86a58" transform="rotate(24 1168 809)"/></g>
<g filter="url(#p4c)"><path class="s" d="M180 470C187 495 200 578 220 620C240 662 262 692 300 720C338 748 400 777 450 790C500 803 575 798 600 800" stroke="#a87060" stroke-width="20"/><path class="s" d="M760 790C780 790 840 797 880 790C920 783 963 773 1000 750C1037 727 1075 687 1100 650C1125 613 1142 550 1150 530" stroke="#a87060" stroke-width="20"/></g>
</svg>
</div>
<div class="ph" style="left:9px;top:778px;width:310px;height:233px;background:#a08050"><svg viewBox="0 0 1270 955" preserveAspectRatio="none">
<defs><filter id="p5m" x="-30%" y="-30%" width="160%" height="160%"><feGaussianBlur stdDeviation="10"/></filter>
<filter id="p5s" x="-30%" y="-30%" width="160%" height="160%"><feGaussianBlur stdDeviation="4"/></filter>
<filter id="p5t" x="-30%" y="-30%" width="160%" height="160%"><feGaussianBlur stdDeviation="2.5"/></filter>
<filter id="p5c" x="-30%" y="-30%" width="160%" height="160%"><feGaussianBlur stdDeviation="6"/></filter>
<clipPath id="p5lw"><path d="M130 420C142 382 172 323 200 290C228 257 263 235 300 220C337 205 386 198 420 200C454 202 488 197 505 230C522 263 520 338 520 400C520 462 513 540 505 600C497 660 491 730 470 760C449 790 415 788 380 780C345 772 295 735 260 710C225 685 192 662 170 630C148 598 137 555 130 520C123 485 118 458 130 420Z"/></clipPath><clipPath id="p5rw"><path d="M650 200C663 173 722 147 760 140C798 133 840 143 880 160C920 177 963 203 1000 240C1037 277 1078 328 1100 380C1122 432 1134 497 1135 550C1136 603 1128 656 1105 700C1082 744 1041 789 1000 815C959 841 907 852 860 855C813 858 747 861 720 835C693 809 703 764 700 700C697 636 703 517 700 450C697 383 688 342 680 300C672 258 637 227 650 200Z"/></clipPath><clipPath id="p5tw"><path d="M880 20C897 -2 932 -13 1000 -20C1068 -27 1242 -57 1290 -20C1338 17 1313 161 1290 200C1267 239 1198 218 1150 215C1102 212 1042 198 1000 180C958 162 920 137 900 110C880 83 863 42 880 20Z"/></clipPath></defs>
<rect width="1270" height="955" fill="#3e322c"/>
<g filter="url(#p5t)"><polygon points="-22,-6 -55,-36 -37,-61 -1,-66 34,-42 12,-4" fill="#c0a090"/><polygon points="69,-54 68,-37 49,-20 23,-15 5,-33 10,-55 24,-67 46,-68" fill="#e0d0c0"/><polygon points="148,-34 151,-5 126,11 102,18 65,-2 59,-18 72,-43 114,-53" fill="#a89080"/><polygon points="192,-9 172,-1 140,-5 125,-10 126,-34 141,-47 172,-44 199,-28" fill="#d4c0b0"/><polygon points="234,-30 246,-16 238,5 212,12 199,14 179,-4 187,-23 196,-33" fill="#b0a098"/><polygon points="237,-71 254,-73 285,-60 275,-26 268,-14 236,-14 218,-47" fill="#d8c8b8"/><polygon points="299,-57 322,-69 346,-41 334,-6 308,5 281,-31" fill="#d8c8b8"/><polygon points="353,-37 379,-47 393,-44 404,-17 404,3 376,11 355,3 346,-22" fill="#d8c8b8"/><polygon points="404,-51 441,-57 463,-42 459,-14 442,-7 412,-7 388,-25 377,-35" fill="#c8b8a8"/><polygon points="450,2 440,-20 461,-42 497,-44 525,-20 523,-7 508,15 459,18" fill="#c0a090"/><polygon points="554,-7 546,-2 528,-10 522,-34 532,-48 550,-47 564,-40 572,-20" fill="#a89080"/><polygon points="559,8 558,-36 591,-54 628,-47 635,-11 599,18" fill="#c8b8a8"/><polygon points="681,-18 634,-17 619,-43 633,-66 659,-76 681,-68 691,-39" fill="#b89c8c"/><polygon points="749,-29 728,-2 691,-8 680,-28 692,-43 730,-48" fill="#a89080"/><polygon points="804,-60 798,-30 760,-18 729,-36 737,-58 776,-73" fill="#c8b0a0"/><polygon points="807,-60 836,-78 863,-70 872,-42 853,-24 816,-25" fill="#b89c8c"/><polygon points="887,-55 934,-47 952,-35 938,-15 909,-7 867,-16 865,-41" fill="#c0a090"/><polygon points="951,14 923,16 889,-5 896,-34 920,-49 968,-36 979,-16" fill="#c8b8a8"/><polygon points="1038,-68 1077,-50 1060,-28 1020,-10 986,-13 967,-44 995,-69" fill="#e0d0c0"/><polygon points="1080,-6 1059,-22 1075,-47 1089,-52 1119,-47 1124,-25 1107,-1" fill="#a89080"/><polygon points="1131,-59 1145,-55 1146,-24 1127,-9 1098,-14 1081,-29 1089,-58" fill="#d4c0b0"/><polygon points="1146,18 1130,0 1134,-37 1156,-56 1190,-44 1207,-19 1187,11" fill="#d4c0b0"/><polygon points="1299,-34 1299,-12 1268,0 1239,-18 1237,-39 1261,-57 1290,-53" fill="#e0d0c0"/><polygon points="1320,-4 1279,9 1255,-6 1241,-24 1273,-47 1311,-45 1322,-28" fill="#c8b0a0"/><polygon points="-17,9 30,0 48,22 37,46 -4,47 -33,34" fill="#c8b0a0"/><polygon points="59,2 96,5 116,25 118,61 94,81 57,80 44,55 40,18" fill="#c8b8a8"/><polygon points="118,45 93,61 65,58 60,13 89,-1 122,21" fill="#c0a090"/><polygon points="181,58 147,64 108,48 117,22 155,11 179,20" fill="#b0a098"/><polygon points="225,62 204,62 172,52 164,24 204,9 222,12 245,34" fill="#c8b8a8"/><polygon points="358,32 341,74 289,69 250,47 266,9 335,4" fill="#d8c8b8"/><polygon points="305,36 311,4 338,-15 361,-1 366,34 337,52" fill="#d4c0b0"/><polygon points="393,36 361,35 350,16 356,-9 371,-14 394,-25 411,-4 408,28" fill="#d8c8b8"/><polygon points="410,15 398,0 413,-17 435,-26 470,-23 490,11 479,22 446,32" fill="#c8b8a8"/><polygon points="524,66 487,66 463,34 484,18 532,15 539,36" fill="#c0a090"/><polygon points="599,30 571,40 535,33 525,16 546,-8 582,-9 610,3" fill="#b89c8c"/><polygon points="641,45 605,48 575,15 595,-2 637,-15 671,18" fill="#d4c0b0"/><polygon points="675,36 692,8 730,4 758,30 744,64 688,67" fill="#c8b0a0"/><polygon points="703,31 701,19 715,3 753,2 759,13 747,35 721,44" fill="#e0d0c0"/><polygon points="857,36 828,53 793,42 783,30 779,8 818,-11 838,-3 857,11" fill="#c8b8a8"/><polygon points="914,43 893,58 863,59 851,53 850,20 866,7 893,4 909,19" fill="#c8b0a0"/><polygon points="899,11 919,-1 945,-4 963,12 962,47 934,62 908,60 895,46" fill="#c0a090"/><polygon points="996,53 964,58 943,23 960,0 985,-2 1006,22" fill="#e0d0c0"/><polygon points="1053,57 1017,36 1010,11 1026,-23 1071,-17 1103,14" fill="#b89c8c"/><polygon points="1088,23 1089,-14 1126,-26 1159,-2 1153,26 1116,45" fill="#c8b8a8"/><polygon points="1137,-12 1151,-20 1178,-14 1201,-2 1198,21 1174,37 1149,35 1128,12" fill="#e0d0c0"/><polygon points="1219,-2 1209,25 1182,30 1163,10 1181,-21 1206,-23" fill="#d8c8b8"/><polygon points="1228,26 1226,5 1274,-19 1309,-9 1323,15 1278,39" fill="#d8c8b8"/><polygon points="1346,13 1354,52 1337,70 1305,53 1301,25 1325,1" fill="#d4c0b0"/><polygon points="-11,63 -44,86 -76,84 -87,59 -88,47 -59,18 -31,20 -11,45" fill="#c0a090"/><polygon points="48,35 69,50 74,70 68,94 35,96 13,80 8,63 26,43" fill="#c8b8a8"/><polygon points="40,96 49,59 83,56 99,73 89,111 61,112" fill="#c8b0a0"/><polygon points="206,90 188,110 148,123 130,105 130,73 167,65" fill="#e0d0c0"/><polygon points="238,72 246,97 227,112 205,116 185,109 181,83 200,50 228,50" fill="#b89c8c"/><polygon points="268,116 222,126 204,107 192,80 211,65 254,57 275,80 287,97" fill="#d4c0b0"/><polygon points="346,94 319,102 290,100 264,86 282,67 319,56 339,72" fill="#c8b0a0"/><polygon points="415,47 426,77 412,102 369,110 355,86 361,54 389,43" fill="#e0d0c0"/><polygon points="421,65 453,50 496,64 487,99 460,111 414,91" fill="#d8c8b8"/><polygon points="503,58 534,61 551,78 551,102 519,121 495,120 466,93 477,81" fill="#a89080"/><polygon points="561,86 525,82 516,58 525,29 565,31 585,37 583,64" fill="#e0d0c0"/><polygon points="589,63 625,81 618,106 575,115 552,102 549,77" fill="#d8c8b8"/><polygon points="609,84 630,53 661,49 685,75 678,101 629,101" fill="#d8c8b8"/><polygon points="714,72 693,52 714,29 759,27 775,41 781,66 744,82" fill="#a89080"/><polygon points="772,39 792,68 798,84 776,102 742,95 734,86 730,52 747,43" fill="#d4c0b0"/><polygon points="781,77 819,49 843,59 860,77 865,106 831,120 785,117 766,89" fill="#d4c0b0"/><polygon points="896,30 916,23 934,30 944,59 942,74 917,86 883,74 878,61" fill="#b89c8c"/><polygon points="1024,74 995,98 943,92 916,61 945,32 984,28 1017,43" fill="#a89080"/><polygon points="973,108 939,82 944,58 994,47 1045,70 1015,103" fill="#d4c0b0"/><polygon points="1041,61 1071,62 1100,89 1083,116 1061,118 1007,104 1002,79" fill="#e0d0c0"/><polygon points="1121,125 1093,119 1060,86 1083,58 1123,50 1146,75 1155,95" fill="#a89080"/><polygon points="1185,65 1203,62 1229,77 1233,96 1213,107 1204,110 1176,106 1170,81" fill="#c8b8a8"/><polygon points="1262,107 1240,82 1242,59 1280,49 1292,67 1286,93" fill="#d4c0b0"/><polygon points="1306,65 1314,87 1304,104 1280,109 1256,100 1248,85 1257,66 1290,65" fill="#b89c8c"/><polygon points="-65,153 -63,127 -41,111 -10,114 15,120 19,161 -1,172 -28,176" fill="#b0a098"/><polygon points="20,105 41,81 76,84 90,109 74,155 43,153 20,129" fill="#c0a090"/><polygon points="165,121 164,145 124,163 93,147 87,114 131,104" fill="#c8b0a0"/><polygon points="177,74 210,98 201,115 176,139 132,140 107,116 115,98 150,71" fill="#d8c8b8"/><polygon points="176,103 188,81 230,77 241,101 240,126 219,139 187,131" fill="#c0a090"/><polygon points="255,138 266,119 293,114 314,114 330,141 310,157 275,157" fill="#e0d0c0"/><polygon points="402,135 387,162 365,165 333,169 310,144 331,117 355,102 398,119" fill="#a89080"/><polygon points="439,86 442,106 433,123 409,141 368,126 354,107 360,89 384,79" fill="#c8b0a0"/><polygon points="494,164 468,172 448,164 433,150 434,127 471,109 482,114 507,139" fill="#c8b0a0"/><polygon points="554,170 537,180 510,163 509,145 514,115 535,113 557,127 560,151" fill="#c8b8a8"/><polygon points="632,143 609,168 583,167 564,152 561,125 585,101 615,97 636,124" fill="#a89080"/><polygon points="638,76 659,81 680,94 669,127 659,137 625,147 602,115 604,94" fill="#c8b8a8"/><polygon points="637,119 652,105 698,107 718,125 704,144 679,156 641,141" fill="#a89080"/><polygon points="813,123 804,151 772,155 739,130 744,98 776,89 807,97" fill="#b89c8c"/><polygon points="848,156 817,166 793,158 784,142 787,121 815,109 847,120 857,138" fill="#a89080"/><polygon points="876,113 904,117 909,140 908,152 869,165 853,152 846,128 858,116" fill="#d8c8b8"/><polygon points="972,130 945,133 923,133 901,110 924,92 938,84 985,94 986,112" fill="#c8b8a8"/><polygon points="994,110 1017,124 1024,153 1013,165 980,177 967,160 955,135 973,109" fill="#c0a090"/><polygon points="1044,169 1010,166 982,142 1012,108 1046,115 1060,143" fill="#e0d0c0"/><polygon points="1085,88 1124,90 1140,133 1112,154 1066,136 1054,107" fill="#b0a098"/><polygon points="1149,93 1171,92 1185,117 1173,154 1140,158 1125,134 1126,120" fill="#c8b8a8"/><polygon points="1223,106 1237,132 1224,168 1203,166 1174,144 1172,120 1193,106" fill="#d4c0b0"/><polygon points="1318,101 1323,121 1291,138 1256,135 1238,108 1268,86" fill="#c0a090"/><polygon points="1294,95 1327,91 1348,116 1346,130 1308,146 1283,134 1278,110" fill="#c8b0a0"/><polygon points="-68,151 -19,142 7,153 6,180 -29,193 -60,176" fill="#c0a090"/><polygon points="76,157 58,186 21,185 -10,160 17,138 55,131" fill="#c8b0a0"/><polygon points="30,147 66,129 85,135 106,166 91,179 58,188 38,171" fill="#d8c8b8"/><polygon points="199,189 198,211 138,223 110,205 114,180 164,172" fill="#a89080"/><polygon points="191,130 229,140 244,158 239,191 198,203 179,194 173,145" fill="#d4c0b0"/><polygon points="239,221 217,213 208,192 236,170 262,185 268,209" fill="#e0d0c0"/><polygon points="264,176 265,146 270,131 326,132 356,161 338,183 302,186" fill="#d8c8b8"/><polygon points="362,177 357,158 377,141 413,144 421,180 385,192" fill="#c0a090"/><polygon points="390,171 427,165 450,166 475,195 464,207 434,223 403,210 387,186" fill="#e0d0c0"/><polygon points="442,163 462,136 507,134 525,153 528,185 500,198 474,196 453,188" fill="#b0a098"/><polygon points="516,209 516,177 571,153 606,179 591,223 559,227" fill="#d8c8b8"/><polygon points="664,143 667,177 651,198 626,210 591,188 584,158 615,136" fill="#e0d0c0"/><polygon points="674,172 668,204 632,208 605,184 622,158 647,153" fill="#d4c0b0"/><polygon points="774,156 772,180 750,201 714,193 699,179 719,155 749,149" fill="#e0d0c0"/><polygon points="731,174 741,160 789,167 803,185 777,212 752,211 724,199" fill="#c0a090"/><polygon points="892,171 892,188 860,199 836,181 834,149 852,139 882,141" fill="#d4c0b0"/><polygon points="951,158 933,183 904,188 884,165 891,142 906,135 936,137" fill="#d8c8b8"/><polygon points="976,207 939,195 910,182 924,148 943,130 995,139 1016,148 1016,181" fill="#e0d0c0"/><polygon points="1016,194 1002,171 1001,150 1026,122 1046,126 1058,142 1053,179 1039,188" fill="#a89080"/><polygon points="1058,200 1051,171 1085,148 1118,166 1119,199 1093,217" fill="#c8b8a8"/><polygon points="1165,167 1174,189 1156,209 1130,206 1110,193 1113,168 1139,158" fill="#e0d0c0"/><polygon points="1137,169 1180,169 1210,189 1206,213 1139,222 1118,196" fill="#d4c0b0"/><polygon points="1230,130 1255,146 1262,161 1255,179 1218,193 1181,181 1185,158 1195,134" fill="#d8c8b8"/><polygon points="1358,189 1308,199 1282,194 1276,146 1318,134 1356,139 1372,162" fill="#a89080"/><polygon points="-40,266 -60,250 -56,224 -14,212 19,233 19,247 -15,266" fill="#a89080"/><polygon points="29,242 30,217 70,208 85,229 88,257 53,267" fill="#b89c8c"/><polygon points="120,220 153,222 163,243 142,267 112,262 97,241" fill="#c0a090"/><polygon points="207,249 163,244 141,224 152,199 195,189 223,187 243,223 240,233" fill="#b0a098"/><polygon points="248,242 240,261 213,267 197,255 191,236 206,225 244,230" fill="#a89080"/><polygon points="310,232 316,263 295,276 270,277 244,245 264,226 285,217" fill="#c8b8a8"/><polygon points="389,255 363,277 331,276 309,249 313,226 339,207 386,219" fill="#c8b8a8"/><polygon points="415,228 439,224 454,243 456,262 430,272 401,270 397,255 395,239" fill="#b89c8c"/><polygon points="428,197 460,192 503,201 512,219 486,252 457,246 425,226" fill="#b0a098"/><polygon points="561,194 573,218 544,254 495,250 484,214 521,175" fill="#d8c8b8"/><polygon points="554,225 574,197 599,213 615,263 582,285 559,278" fill="#c8b8a8"/><polygon points="625,196 650,184 676,216 666,258 628,262 614,232" fill="#e0d0c0"/><polygon points="722,210 717,235 692,246 654,248 638,216 652,190 696,183" fill="#a89080"/><polygon points="814,234 790,247 763,252 728,232 739,209 764,180 810,199" fill="#b0a098"/><polygon points="810,193 844,189 863,217 856,243 836,248 807,255 781,235 780,205" fill="#d8c8b8"/><polygon points="901,274 878,272 863,246 870,221 897,212 917,224 923,248" fill="#d4c0b0"/><polygon points="968,252 954,260 921,255 903,239 905,220 925,207 960,205 976,223" fill="#d4c0b0"/><polygon points="993,229 1005,256 967,267 934,261 934,233 958,221" fill="#b0a098"/><polygon points="1044,220 1073,225 1082,245 1068,274 1046,275 1022,247 1026,231" fill="#d4c0b0"/><polygon points="1108,206 1120,237 1108,254 1060,260 1046,238 1076,208" fill="#d8c8b8"/><polygon points="1164,211 1188,218 1189,244 1174,265 1148,270 1136,240 1146,217" fill="#d8c8b8"/><polygon points="1225,200 1235,216 1247,243 1214,283 1180,276 1153,266 1154,239 1178,210" fill="#d8c8b8"/><polygon points="1288,229 1293,255 1282,272 1264,276 1233,274 1223,250 1233,230 1255,220" fill="#e0d0c0"/><polygon points="1356,207 1349,232 1313,237 1298,218 1298,194 1334,181" fill="#c8b0a0"/><polygon points="-29,232 20,241 40,278 12,295 -55,281 -51,246" fill="#d4c0b0"/><polygon points="-21,278 0,249 35,258 38,304 7,324 -24,315" fill="#e0d0c0"/><polygon points="79,297 46,266 68,244 110,243 154,271 124,297" fill="#c8b8a8"/><polygon points="192,269 174,303 148,312 125,302 114,275 130,249 143,246 187,252" fill="#d4c0b0"/><polygon points="213,264 231,276 227,303 196,310 174,308 168,283 186,257" fill="#a89080"/><polygon points="293,312 271,322 232,310 222,293 233,273 274,269 302,274 304,291" fill="#c0a090"/><polygon points="326,298 289,299 266,284 270,269 282,243 304,238 335,255 339,276" fill="#c8b8a8"/><polygon points="318,306 324,280 343,262 381,268 388,280 382,313 369,318 339,320" fill="#c8b8a8"/><polygon points="426,250 452,278 441,313 408,321 389,291 392,270" fill="#c8b8a8"/><polygon points="551,278 524,300 492,304 471,291 479,256 493,236 531,240 547,249" fill="#c8b0a0"/><polygon points="876,306 854,310 825,304 809,287 818,257 841,251 875,256 881,275" fill="#c8b8a8"/><polygon points="861,284 884,258 931,258 934,306 907,322 868,313" fill="#d8c8b8"/><polygon points="992,276 994,312 963,321 924,305 920,287 956,269" fill="#e0d0c0"/><polygon points="955,249 1015,236 1029,254 1044,280 1011,302 963,291 956,270" fill="#c8b8a8"/><polygon points="1073,313 1039,319 1008,301 1019,269 1045,255 1095,256 1108,280 1108,305" fill="#b0a098"/><polygon points="1163,289 1134,313 1082,296 1076,272 1119,238 1155,254" fill="#d4c0b0"/><polygon points="1164,304 1142,264 1150,235 1185,220 1213,229 1234,271 1215,297 1184,302" fill="#a89080"/><polygon points="1205,241 1241,232 1265,245 1259,286 1224,302 1204,283" fill="#c8b0a0"/><polygon points="1309,243 1330,267 1319,283 1298,293 1278,287 1259,275 1269,251 1289,243" fill="#c0a090"/><polygon points="-54,325 -41,303 -14,296 13,302 22,332 11,345 -34,346" fill="#b0a098"/><polygon points="23,309 80,316 93,354 59,379 7,375 2,335" fill="#a89080"/><polygon points="117,370 102,362 97,337 120,325 137,329 148,341 151,355 135,373" fill="#d4c0b0"/><polygon points="183,355 161,387 142,388 116,354 128,328 148,313 177,319" fill="#c8b0a0"/><polygon points="262,317 289,355 252,378 211,384 194,351 228,318" fill="#c8b8a8"/><polygon points="286,280 334,285 341,326 320,342 281,344 258,330 271,292" fill="#d8c8b8"/><polygon points="977,291 1021,302 1022,329 1004,344 945,334 940,312" fill="#c0a090"/><polygon points="1038,282 1091,287 1101,315 1093,333 1048,354 1020,331 1020,292" fill="#b89c8c"/><polygon points="1143,375 1105,372 1090,369 1080,338 1104,318 1127,320 1153,336 1161,352" fill="#b89c8c"/><polygon points="1084,347 1126,321 1157,320 1186,339 1178,365 1153,373 1104,359" fill="#b0a098"/><polygon points="1176,316 1192,301 1217,299 1234,320 1231,347 1211,357 1182,358 1169,334" fill="#d4c0b0"/><polygon points="1280,372 1244,349 1248,332 1276,322 1317,325 1317,348 1306,368" fill="#e0d0c0"/><polygon points="1300,367 1270,344 1277,319 1302,298 1326,311 1347,335 1335,357 1310,378" fill="#d8c8b8"/><polygon points="-83,386 -72,352 -50,332 -12,349 -3,370 -13,392 -57,402" fill="#d4c0b0"/><polygon points="4,435 -8,408 -9,384 12,370 47,373 70,403 60,419 39,431" fill="#d8c8b8"/><polygon points="42,423 30,402 28,370 55,355 91,375 95,395 77,422" fill="#c8b8a8"/><polygon points="98,385 101,347 143,334 192,359 182,391 134,400" fill="#d8c8b8"/><polygon points="214,360 246,368 255,400 225,416 195,406 187,382" fill="#c8b8a8"/><polygon points="309,383 288,393 242,387 231,372 254,351 300,360" fill="#d4c0b0"/><polygon points="1104,372 1082,399 1063,391 1050,369 1063,343 1087,343 1104,359" fill="#d4c0b0"/><polygon points="1135,400 1110,391 1107,354 1130,339 1164,346 1168,381" fill="#d8c8b8"/><polygon points="1210,345 1226,360 1213,385 1193,397 1166,389 1160,352 1179,338" fill="#e0d0c0"/><polygon points="1233,346 1262,359 1255,386 1244,394 1209,391 1200,371 1208,353" fill="#c0a090"/><polygon points="1265,428 1257,382 1296,371 1330,381 1353,409 1327,432 1290,445" fill="#c0a090"/><polygon points="43,420 33,443 0,453 -13,447 -17,418 -3,403 21,405" fill="#e0d0c0"/><polygon points="1,422 8,405 40,387 73,408 70,431 33,446" fill="#a89080"/><polygon points="134,478 112,479 92,456 105,422 119,411 155,432 162,454" fill="#c8b8a8"/><polygon points="179,409 219,425 214,450 195,458 142,458 137,441 136,420" fill="#b0a098"/><polygon points="1099,463 1095,435 1113,425 1142,434 1148,458 1139,479 1111,477" fill="#e0d0c0"/><polygon points="1133,402 1185,402 1189,435 1157,467 1117,455 1099,423" fill="#a89080"/><polygon points="1215,454 1189,424 1205,402 1240,404 1273,431 1250,449" fill="#e0d0c0"/><polygon points="1250,438 1292,434 1308,451 1308,463 1285,479 1229,476 1221,458" fill="#c8b0a0"/><polygon points="1312,472 1300,450 1337,422 1363,422 1388,444 1377,471 1352,480" fill="#b0a098"/><polygon points="19,510 -23,536 -59,526 -65,497 -29,479 1,487" fill="#c8b0a0"/><polygon points="53,499 42,511 0,521 -34,498 -22,473 1,461 37,473" fill="#b89c8c"/><polygon points="78,455 101,474 96,511 49,517 34,497 34,469" fill="#c8b8a8"/><polygon points="166,518 136,536 108,523 97,490 137,477 170,492" fill="#b0a098"/><polygon points="156,475 165,451 198,445 219,456 226,479 218,503 188,509 158,491" fill="#c8b8a8"/><polygon points="1080,505 1084,481 1115,475 1150,487 1149,516 1115,524" fill="#d8c8b8"/><polygon points="1244,488 1238,506 1219,537 1187,530 1180,480 1198,453 1220,455" fill="#b89c8c"/><polygon points="1200,506 1199,483 1204,468 1240,461 1279,475 1282,490 1262,513 1239,512" fill="#c8b8a8"/><polygon points="1314,452 1325,478 1283,496 1252,488 1247,466 1283,445" fill="#c8b8a8"/><polygon points="-17,526 -2,507 3,491 34,500 50,522 47,547 28,556 0,563" fill="#d4c0b0"/><polygon points="66,560 41,568 27,551 21,529 36,504 66,506 79,537" fill="#d8c8b8"/><polygon points="158,519 146,549 123,563 87,555 74,529 100,506 142,507" fill="#d4c0b0"/><polygon points="135,544 165,535 218,545 227,568 207,585 155,586 138,572" fill="#c8b8a8"/><polygon points="1132,532 1149,563 1119,586 1080,580 1073,554 1106,527" fill="#b89c8c"/><polygon points="1153,529 1185,540 1197,564 1179,579 1163,585 1132,580 1120,550 1135,530" fill="#c0a090"/><polygon points="1185,535 1191,514 1227,501 1269,517 1261,540 1229,552" fill="#e0d0c0"/><polygon points="1267,542 1291,527 1312,537 1330,553 1320,582 1307,586 1274,582 1264,568" fill="#a89080"/><polygon points="1300,531 1309,514 1338,506 1368,514 1373,536 1362,564 1322,562 1294,555" fill="#c0a090"/><polygon points="-40,564 -29,547 4,547 20,552 25,586 8,604 -14,608 -33,592" fill="#c0a090"/><polygon points="81,559 71,598 29,603 0,577 10,554 49,534" fill="#b0a098"/><polygon points="94,577 117,601 101,625 79,632 57,625 54,597 77,578" fill="#a89080"/><polygon points="128,605 113,584 117,569 146,557 164,560 170,597 160,609" fill="#d8c8b8"/><polygon points="192,580 216,582 237,597 227,621 212,627 173,621 159,609 161,589" fill="#d8c8b8"/><polygon points="1057,571 1076,568 1097,583 1112,612 1092,626 1056,635 1033,622 1031,603" fill="#b89c8c"/><polygon points="1107,633 1096,610 1102,594 1160,582 1175,599 1178,623 1146,640" fill="#a89080"/><polygon points="1170,587 1176,557 1195,539 1235,543 1250,579 1229,618 1189,616" fill="#b89c8c"/><polygon points="1231,569 1241,550 1276,550 1293,568 1306,590 1287,615 1254,619 1231,601" fill="#d4c0b0"/><polygon points="1306,544 1322,573 1319,591 1296,619 1272,609 1263,572 1281,538" fill="#c8b0a0"/><polygon points="-7,667 -23,662 -38,640 -18,626 16,623 31,645 25,658" fill="#c8b8a8"/><polygon points="19,604 57,601 84,618 85,648 67,655 12,659 -16,638 -10,611" fill="#c8b8a8"/><polygon points="68,637 103,617 127,632 129,654 119,684 86,679 64,655" fill="#b89c8c"/><polygon points="217,629 209,651 159,664 143,629 155,600 202,591" fill="#e0d0c0"/><polygon points="173,638 188,622 224,616 244,632 247,662 216,669 191,668" fill="#b0a098"/><polygon points="1048,623 1069,652 1053,685 1016,681 987,658 1007,630" fill="#d4c0b0"/><polygon points="1080,636 1101,637 1120,656 1118,668 1095,682 1066,678 1060,668 1064,648" fill="#b89c8c"/><polygon points="1161,689 1136,659 1145,644 1186,632 1206,658 1201,676" fill="#c8b0a0"/><polygon points="1200,668 1195,643 1206,624 1231,618 1266,632 1273,657 1259,673 1223,674" fill="#c0a090"/><polygon points="1317,609 1326,622 1313,650 1282,662 1253,652 1240,627 1252,606 1271,599" fill="#b89c8c"/><polygon points="1310,619 1336,605 1375,624 1391,662 1353,683 1316,671 1297,647" fill="#c8b0a0"/><polygon points="21,712 -12,733 -47,709 -51,686 -15,674 17,681" fill="#c8b8a8"/><polygon points="-15,697 -13,671 14,652 45,651 74,676 75,699 29,715" fill="#e0d0c0"/><polygon points="48,701 50,682 83,671 120,674 126,706 95,713" fill="#d4c0b0"/><polygon points="116,673 139,671 164,691 153,717 134,731 94,723 87,703 94,675" fill="#c8b0a0"/><polygon points="168,688 199,683 232,711 226,738 189,741 149,719" fill="#e0d0c0"/><polygon points="324,689 287,723 254,727 223,683 245,660 293,650" fill="#b0a098"/><polygon points="957,703 961,673 1012,666 1046,686 1034,715 984,725" fill="#c8b0a0"/><polygon points="1120,735 1060,742 1036,714 1049,689 1110,684 1129,712" fill="#d8c8b8"/><polygon points="1126,706 1103,699 1101,679 1123,655 1153,654 1174,668 1185,689 1170,711" fill="#b0a098"/><polygon points="1175,678 1206,686 1217,706 1206,723 1175,729 1155,717 1157,688" fill="#b89c8c"/><polygon points="1189,713 1205,685 1238,681 1278,692 1281,723 1272,742 1239,756 1194,733" fill="#b89c8c"/><polygon points="1290,662 1319,651 1361,666 1365,695 1350,717 1314,726 1271,700 1274,678" fill="#e0d0c0"/><polygon points="3,788 -14,768 0,742 35,743 42,768 25,789" fill="#c0a090"/><polygon points="68,707 81,745 53,755 9,747 2,718 33,702" fill="#a89080"/><polygon points="158,722 180,756 168,784 131,798 82,776 82,741 114,721" fill="#d8c8b8"/><polygon points="150,718 190,716 219,748 219,768 185,784 137,772 131,738" fill="#c8b0a0"/><polygon points="171,751 168,739 192,721 207,715 236,728 246,745 222,765 199,763" fill="#a89080"/><polygon points="341,743 326,764 282,775 264,765 240,746 264,732 300,728" fill="#c0a090"/><polygon points="313,751 296,735 302,715 346,704 374,715 381,733 373,745 338,762" fill="#b89c8c"/><polygon points="436,780 379,795 353,787 335,755 381,725 411,731 433,747" fill="#a89080"/><polygon points="1022,755 981,770 954,762 948,742 964,721 1002,719 1023,729" fill="#a89080"/><polygon points="1034,788 1006,785 999,758 1017,731 1053,733 1059,770" fill="#c0a090"/><polygon points="1128,750 1103,765 1059,748 1047,737 1067,704 1082,699 1123,700 1151,726" fill="#b89c8c"/><polygon points="1133,715 1171,715 1187,732 1187,746 1164,762 1149,761 1113,752 1112,729" fill="#d4c0b0"/><polygon points="1245,775 1201,769 1200,740 1219,720 1250,719 1264,764" fill="#c8b0a0"/><polygon points="1241,726 1264,710 1293,724 1295,746 1277,775 1243,762" fill="#d4c0b0"/><polygon points="1303,713 1343,708 1358,733 1354,748 1310,754 1293,734" fill="#a89080"/><polygon points="-25,844 -61,821 -47,803 -10,791 25,809 27,831 12,842" fill="#d8c8b8"/><polygon points="43,783 45,802 34,816 12,828 -8,822 -23,800 -4,774 8,770" fill="#e0d0c0"/><polygon points="55,802 59,770 78,757 130,756 167,781 145,804 128,823 92,819" fill="#e0d0c0"/><polygon points="211,783 213,804 201,817 159,826 111,816 104,797 125,778 173,767" fill="#b89c8c"/><polygon points="195,760 241,764 246,798 206,820 184,804 174,783" fill="#b0a098"/><polygon points="270,839 231,818 225,803 259,790 292,782 327,807 326,825 299,834" fill="#b89c8c"/><polygon points="356,759 365,789 344,813 318,815 308,783 329,763" fill="#b0a098"/><polygon points="323,817 317,795 344,783 369,777 394,791 396,811 374,828 329,830" fill="#b0a098"/><polygon points="450,773 480,785 489,797 483,813 441,824 423,821 413,789 422,775" fill="#c8b0a0"/><polygon points="517,836 475,829 471,799 496,782 535,786 547,815" fill="#c8b8a8"/><polygon points="622,793 634,811 602,829 574,835 554,830 536,806 568,782 600,778" fill="#c8b0a0"/><polygon points="670,856 630,840 637,793 657,778 707,789 729,816 699,846" fill="#e0d0c0"/><polygon points="691,809 701,782 715,775 753,783 765,799 764,820 729,831 706,824" fill="#b0a098"/><polygon points="795,790 807,824 784,849 743,846 728,826 741,793" fill="#d4c0b0"/><polygon points="858,754 888,769 910,797 892,814 848,827 816,799 818,783" fill="#c0a090"/><polygon points="869,841 857,818 904,785 938,793 950,821 932,847" fill="#b0a098"/><polygon points="940,816 904,799 901,775 959,765 992,788 989,806" fill="#c8b0a0"/><polygon points="1027,819 992,822 964,805 954,787 990,767 1024,766 1048,780 1048,803" fill="#d8c8b8"/><polygon points="1079,789 1109,801 1113,820 1086,833 1057,832 1045,814 1049,793" fill="#d8c8b8"/><polygon points="1126,792 1160,790 1195,817 1170,840 1141,845 1100,839 1097,803" fill="#c0a090"/><polygon points="1170,846 1155,830 1150,804 1168,786 1205,808 1206,826" fill="#b0a098"/><polygon points="1285,773 1301,796 1282,825 1255,831 1225,822 1229,794 1245,778" fill="#c8b8a8"/><polygon points="1280,797 1307,774 1338,768 1368,788 1372,813 1347,836 1313,841 1281,820" fill="#c8b0a0"/><polygon points="44,846 34,875 -8,898 -32,875 -40,850 -12,810 17,814" fill="#c8b0a0"/><polygon points="90,861 42,858 27,842 48,818 86,817 114,833" fill="#a89080"/><polygon points="88,848 124,842 137,859 140,881 126,895 100,902 72,886 69,865" fill="#d4c0b0"/><polygon points="176,832 198,846 204,878 176,892 155,890 139,871 157,839" fill="#d4c0b0"/><polygon points="233,881 196,869 180,835 207,815 262,834 269,866" fill="#e0d0c0"/><polygon points="240,866 257,833 295,825 320,837 326,877 289,900 249,893" fill="#c0a090"/><polygon points="318,852 333,839 356,822 379,838 392,859 387,880 348,884 327,874" fill="#d4c0b0"/><polygon points="392,826 437,850 444,881 419,899 376,899 355,862 371,836" fill="#b0a098"/><polygon points="468,804 491,804 523,823 515,861 488,868 459,861 438,841" fill="#d4c0b0"/><polygon points="515,809 571,818 568,845 547,860 502,865 485,845 483,823" fill="#e0d0c0"/><polygon points="530,845 558,810 598,821 604,853 592,876 541,866" fill="#d8c8b8"/><polygon points="654,817 688,840 673,872 631,883 588,858 594,836" fill="#c8b0a0"/><polygon points="716,890 687,893 661,892 637,873 643,862 675,848 708,856 729,874" fill="#c0a090"/><polygon points="765,825 767,842 752,856 738,862 717,861 709,843 716,824 741,819" fill="#d4c0b0"/><polygon points="780,847 789,803 826,805 854,820 848,862 809,865" fill="#d4c0b0"/><polygon points="886,892 854,907 830,900 822,866 835,847 860,840 891,867" fill="#a89080"/><polygon points="894,873 887,843 896,823 939,827 964,840 958,867 926,878" fill="#c8b0a0"/><polygon points="977,868 969,842 977,817 1008,816 1024,830 1023,859 996,875" fill="#b0a098"/><polygon points="1019,896 996,881 1002,844 1024,839 1050,841 1078,861 1081,885 1050,896" fill="#b89c8c"/><polygon points="1097,899 1087,885 1079,861 1102,834 1117,831 1151,836 1152,867 1135,896" fill="#c8b8a8"/><polygon points="1137,871 1129,843 1164,824 1198,825 1198,864 1174,879" fill="#d4c0b0"/><polygon points="1228,879 1214,883 1190,851 1186,840 1210,818 1245,817 1252,836 1255,869" fill="#c8b8a8"/><polygon points="1320,873 1310,886 1294,894 1269,875 1265,850 1270,837 1299,834 1320,850" fill="#d4c0b0"/><polygon points="1305,881 1289,865 1296,839 1328,834 1360,846 1356,873 1333,884" fill="#c0a090"/><polygon points="15,883 28,900 17,918 -8,935 -56,916 -52,903 -38,878 0,877" fill="#d8c8b8"/><polygon points="47,951 12,952 0,941 -7,904 12,894 32,886 64,903 74,934" fill="#c8b0a0"/><polygon points="45,904 44,890 76,872 111,881 127,895 117,912 95,924 59,921" fill="#e0d0c0"/><polygon points="86,911 97,894 119,878 142,883 160,902 152,931 131,943 98,935" fill="#c8b8a8"/><polygon points="170,900 188,880 237,879 254,904 225,931 180,928" fill="#d4c0b0"/><polygon points="269,931 242,918 241,891 284,879 311,893 302,924" fill="#a89080"/><polygon points="336,897 341,925 307,942 265,931 261,908 287,889" fill="#c0a090"/><polygon points="404,887 407,924 348,941 313,919 307,887 360,872" fill="#c8b0a0"/><polygon points="418,863 454,854 481,869 477,907 468,920 437,920 412,896" fill="#b89c8c"/><polygon points="472,923 466,903 498,868 531,879 533,913 513,928" fill="#d4c0b0"/><polygon points="517,908 514,898 516,875 550,868 576,882 588,893 574,915 539,923" fill="#b89c8c"/><polygon points="606,882 647,890 657,917 640,945 616,946 583,930 592,893" fill="#e0d0c0"/><polygon points="617,903 639,878 675,881 699,898 703,929 661,946 629,946" fill="#d8c8b8"/><polygon points="694,931 667,909 673,880 700,860 732,860 751,871 750,913 717,927" fill="#c8b0a0"/><polygon points="789,915 765,911 750,895 760,870 794,860 815,861 835,888 824,907" fill="#d8c8b8"/><polygon points="870,954 822,956 815,945 809,923 818,896 858,894 879,910 889,930" fill="#b0a098"/><polygon points="938,927 898,941 879,924 880,886 922,880 946,892" fill="#b89c8c"/><polygon points="997,873 1015,891 1006,911 977,921 942,918 935,909 932,884 962,870" fill="#c8b0a0"/><polygon points="1011,937 977,918 980,880 1016,860 1068,883 1066,924" fill="#d8c8b8"/><polygon points="1033,874 1060,872 1093,884 1097,897 1077,929 1065,932 1031,921 1023,911" fill="#c0a090"/><polygon points="1125,899 1128,881 1137,863 1170,871 1182,893 1163,917 1143,924" fill="#d4c0b0"/><polygon points="1195,892 1233,897 1235,913 1234,936 1203,942 1185,940 1161,928 1172,901" fill="#c8b8a8"/><polygon points="1200,914 1183,897 1201,871 1237,873 1267,892 1246,915" fill="#c8b8a8"/><polygon points="1331,895 1317,924 1287,926 1273,891 1286,866 1313,868" fill="#c8b0a0"/><polygon points="4,936 32,962 20,989 -6,996 -17,981 -14,945" fill="#b0a098"/><polygon points="69,934 62,963 52,975 24,965 17,940 29,921 51,917" fill="#c8b8a8"/><polygon points="84,999 59,978 67,958 91,941 113,938 145,962 146,988 110,1004" fill="#c8b8a8"/><polygon points="205,992 186,1008 156,1000 131,982 136,954 166,947 183,944 207,958" fill="#d8c8b8"/><polygon points="251,963 207,977 178,958 178,937 214,919 252,939" fill="#c0a090"/><polygon points="297,966 281,952 282,916 311,901 330,913 345,949 331,964" fill="#d8c8b8"/><polygon points="388,976 350,1011 308,1010 296,971 329,933 375,948" fill="#b89c8c"/><polygon points="432,953 427,970 405,980 361,973 353,952 381,929 407,932" fill="#c8b0a0"/><polygon points="456,919 486,937 482,965 464,981 431,964 427,934" fill="#d8c8b8"/><polygon points="528,997 506,983 507,950 533,932 554,944 560,981" fill="#b0a098"/><polygon points="576,1006 554,994 547,968 562,950 588,950 601,958 606,981 594,995" fill="#c8b8a8"/><polygon points="654,963 645,986 626,997 602,996 576,965 583,945 617,932 633,932" fill="#c8b8a8"/><polygon points="703,943 725,969 709,990 685,1001 667,984 661,956 675,941" fill="#b89c8c"/><polygon points="710,1002 680,984 700,945 737,936 776,967 773,990" fill="#c8b0a0"/><polygon points="839,984 804,979 765,970 771,936 790,920 831,909 865,930 861,953" fill="#a89080"/><polygon points="849,939 865,933 890,936 892,959 887,978 863,991 851,985 837,966" fill="#d4c0b0"/><polygon points="899,988 906,953 930,941 962,938 992,972 982,991 945,1008 924,1002" fill="#e0d0c0"/><polygon points="976,914 1017,914 1030,941 1021,957 999,968 973,957 962,928" fill="#d4c0b0"/><polygon points="1016,924 1040,930 1066,937 1063,968 1054,981 1032,990 994,969 996,946" fill="#c8b8a8"/><polygon points="1124,982 1097,989 1080,952 1089,924 1107,915 1138,918 1160,943 1151,980" fill="#b0a098"/><polygon points="1124,968 1128,944 1148,936 1183,937 1205,960 1200,975 1178,987 1141,980" fill="#c8b0a0"/><polygon points="1240,930 1263,940 1254,977 1217,989 1202,972 1200,932" fill="#b0a098"/><polygon points="1253,932 1307,932 1339,967 1323,993 1268,1003 1235,964" fill="#c8b8a8"/><polygon points="1308,962 1291,935 1307,918 1358,920 1372,950 1347,973" fill="#d8c8b8"/><g fill="#ffffff" opacity="0.35"><ellipse cx="-23" cy="-45" rx="20" ry="8"/><ellipse cx="30" cy="-50" rx="12" ry="7"/><ellipse cx="96" cy="-27" rx="19" ry="9"/><ellipse cx="151" cy="-30" rx="15" ry="6"/><ellipse cx="203" cy="-15" rx="13" ry="6"/><ellipse cx="245" cy="-50" rx="13" ry="8"/><ellipse cx="309" cy="-41" rx="13" ry="10"/><ellipse cx="368" cy="-26" rx="13" ry="7"/><ellipse cx="415" cy="-37" rx="18" ry="7"/><ellipse cx="477" cy="-24" rx="16" ry="9"/><ellipse cx="539" cy="-31" rx="11" ry="6"/><ellipse cx="586" cy="-30" rx="18" ry="11"/><ellipse cx="648" cy="-54" rx="16" ry="8"/><ellipse cx="707" cy="-32" rx="14" ry="6"/><ellipse cx="760" cy="-53" rx="15" ry="8"/><ellipse cx="832" cy="-57" rx="12" ry="8"/><ellipse cx="895" cy="-36" rx="18" ry="6"/><ellipse cx="923" cy="-24" rx="17" ry="8"/><ellipse cx="1008" cy="-50" rx="22" ry="8"/><ellipse cx="1084" cy="-35" rx="13" ry="7"/><ellipse cx="1109" cy="-44" rx="14" ry="7"/><ellipse cx="1157" cy="-29" rx="15" ry="11"/><ellipse cx="1259" cy="-39" rx="15" ry="7"/><ellipse cx="1275" cy="-28" rx="16" ry="8"/><ellipse cx="-1" cy="18" rx="16" ry="7"/><ellipse cx="68" cy="29" rx="18" ry="10"/><ellipse cx="84" cy="24" rx="13" ry="8"/><ellipse cx="140" cy="30" rx="16" ry="7"/><ellipse cx="198" cy="27" rx="16" ry="8"/><ellipse cx="295" cy="25" rx="21" ry="11"/><ellipse cx="330" cy="12" rx="13" ry="9"/><ellipse cx="377" cy="0" rx="13" ry="8"/><ellipse cx="434" cy="-5" rx="18" ry="8"/><ellipse cx="494" cy="32" rx="16" ry="7"/><ellipse cx="561" cy="6" rx="17" ry="7"/><ellipse cx="613" cy="10" rx="17" ry="9"/><ellipse cx="706" cy="25" rx="17" ry="10"/><ellipse cx="722" cy="15" rx="13" ry="5"/><ellipse cx="810" cy="12" rx="15" ry="8"/><ellipse cx="871" cy="26" rx="14" ry="8"/><ellipse cx="922" cy="21" rx="14" ry="9"/><ellipse cx="972" cy="18" rx="13" ry="8"/><ellipse cx="1040" cy="2" rx="19" ry="11"/><ellipse cx="1114" cy="-1" rx="14" ry="9"/><ellipse cx="1159" cy="2" rx="16" ry="8"/><ellipse cx="1188" cy="-5" rx="11" ry="8"/><ellipse cx="1261" cy="3" rx="21" ry="7"/><ellipse cx="1320" cy="26" rx="12" ry="9"/><ellipse cx="-59" cy="43" rx="18" ry="9"/><ellipse cx="36" cy="58" rx="13" ry="9"/><ellipse cx="62" cy="77" rx="13" ry="8"/><ellipse cx="151" cy="83" rx="16" ry="8"/><ellipse cx="203" cy="75" rx="13" ry="9"/><ellipse cx="226" cy="81" rx="19" ry="10"/><ellipse cx="298" cy="74" rx="16" ry="6"/><ellipse cx="381" cy="67" rx="14" ry="9"/><ellipse cx="446" cy="70" rx="17" ry="8"/><ellipse cx="501" cy="82" rx="16" ry="8"/><ellipse cx="541" cy="49" rx="15" ry="8"/><ellipse cx="576" cy="79" rx="17" ry="7"/><ellipse cx="641" cy="67" rx="16" ry="8"/><ellipse cx="731" cy="47" rx="17" ry="7"/><ellipse cx="754" cy="64" rx="14" ry="9"/><ellipse cx="808" cy="79" rx="20" ry="10"/><ellipse cx="904" cy="46" rx="14" ry="8"/><ellipse cx="959" cy="53" rx="21" ry="10"/><ellipse cx="979" cy="71" rx="20" ry="8"/><ellipse cx="1043" cy="83" rx="21" ry="8"/><ellipse cx="1100" cy="77" rx="18" ry="10"/><ellipse cx="1195" cy="79" rx="13" ry="7"/><ellipse cx="1259" cy="69" rx="12" ry="8"/><ellipse cx="1275" cy="80" rx="14" ry="6"/><ellipse cx="-32" cy="134" rx="17" ry="9"/><ellipse cx="49" cy="107" rx="14" ry="10"/><ellipse cx="118" cy="124" rx="17" ry="8"/><ellipse cx="147" cy="95" rx="20" ry="10"/><ellipse cx="202" cy="100" rx="15" ry="9"/><ellipse cx="283" cy="130" rx="15" ry="6"/><ellipse cx="349" cy="128" rx="19" ry="9"/><ellipse cx="387" cy="99" rx="19" ry="8"/><ellipse cx="462" cy="131" rx="13" ry="8"/><ellipse cx="529" cy="134" rx="11" ry="9"/><ellipse cx="588" cy="124" rx="14" ry="10"/><ellipse cx="633" cy="100" rx="15" ry="9"/><ellipse cx="664" cy="121" rx="17" ry="7"/><ellipse cx="764" cy="110" rx="16" ry="10"/><ellipse cx="811" cy="129" rx="14" ry="7"/><ellipse cx="873" cy="129" rx="13" ry="7"/><ellipse cx="938" cy="105" rx="17" ry="6"/><ellipse cx="984" cy="133" rx="14" ry="9"/><ellipse cx="1015" cy="131" rx="17" ry="8"/><ellipse cx="1088" cy="108" rx="17" ry="9"/><ellipse cx="1145" cy="116" rx="12" ry="9"/><ellipse cx="1196" cy="129" rx="14" ry="8"/><ellipse cx="1270" cy="107" rx="17" ry="6"/><ellipse cx="1307" cy="112" rx="16" ry="7"/><ellipse cx="-39" cy="157" rx="17" ry="6"/><ellipse cx="28" cy="152" rx="17" ry="7"/><ellipse cx="59" cy="151" rx="15" ry="7"/><ellipse cx="142" cy="189" rx="20" ry="7"/><ellipse cx="199" cy="156" rx="15" ry="10"/><ellipse cx="230" cy="189" rx="12" ry="6"/><ellipse cx="292" cy="151" rx="20" ry="8"/><ellipse cx="380" cy="157" rx="13" ry="8"/><ellipse cx="419" cy="183" rx="17" ry="8"/><ellipse cx="478" cy="159" rx="16" ry="9"/><ellipse cx="548" cy="182" rx="20" ry="10"/><ellipse cx="614" cy="161" rx="18" ry="11"/><ellipse cx="634" cy="172" rx="15" ry="7"/><ellipse cx="731" cy="166" rx="16" ry="7"/><ellipse cx="751" cy="180" rx="16" ry="7"/><ellipse cx="853" cy="157" rx="14" ry="8"/><ellipse cx="907" cy="153" rx="14" ry="7"/><ellipse cx="951" cy="157" rx="22" ry="9"/><ellipse cx="1023" cy="151" rx="12" ry="9"/><ellipse cx="1079" cy="173" rx="14" ry="10"/><ellipse cx="1136" cy="177" rx="13" ry="7"/><ellipse cx="1157" cy="189" rx="20" ry="7"/><ellipse cx="1213" cy="155" rx="18" ry="8"/><ellipse cx="1310" cy="156" rx="21" ry="10"/><ellipse cx="-33" cy="234" rx="17" ry="7"/><ellipse cx="50" cy="229" rx="13" ry="8"/><ellipse cx="122" cy="236" rx="14" ry="7"/><ellipse cx="180" cy="208" rx="21" ry="8"/><ellipse cx="214" cy="240" rx="12" ry="6"/><ellipse cx="275" cy="238" rx="14" ry="8"/><ellipse cx="337" cy="232" rx="19" ry="9"/><ellipse cx="416" cy="242" rx="13" ry="7"/><ellipse cx="460" cy="210" rx="19" ry="9"/><ellipse cx="518" cy="206" rx="18" ry="10"/><ellipse cx="572" cy="231" rx="14" ry="11"/><ellipse cx="637" cy="218" rx="14" ry="11"/><ellipse cx="669" cy="208" rx="17" ry="9"/><ellipse cx="763" cy="211" rx="17" ry="9"/><ellipse cx="814" cy="212" rx="17" ry="9"/><ellipse cx="883" cy="233" rx="12" ry="8"/><ellipse cx="928" cy="224" rx="16" ry="7"/><ellipse cx="958" cy="238" rx="15" ry="6"/><ellipse cx="1045" cy="237" rx="13" ry="8"/><ellipse cx="1079" cy="225" rx="15" ry="8"/><ellipse cx="1158" cy="232" rx="11" ry="8"/><ellipse cx="1187" cy="230" rx="20" ry="11"/><ellipse cx="1248" cy="241" rx="16" ry="8"/><ellipse cx="1321" cy="202" rx="13" ry="7"/><ellipse cx="-18" cy="254" rx="21" ry="8"/><ellipse cx="-1" cy="277" rx="13" ry="11"/><ellipse cx="87" cy="263" rx="20" ry="8"/><ellipse cx="143" cy="267" rx="16" ry="9"/><ellipse cx="190" cy="276" rx="13" ry="7"/><ellipse cx="258" cy="285" rx="16" ry="7"/><ellipse cx="294" cy="262" rx="15" ry="8"/><ellipse cx="347" cy="284" rx="15" ry="8"/><ellipse cx="411" cy="279" rx="13" ry="9"/><ellipse cx="502" cy="260" rx="16" ry="9"/><ellipse cx="838" cy="272" rx="16" ry="8"/><ellipse cx="894" cy="280" rx="16" ry="9"/><ellipse cx="949" cy="287" rx="18" ry="7"/><ellipse cx="987" cy="262" rx="18" ry="8"/><ellipse cx="1048" cy="274" rx="21" ry="10"/><ellipse cx="1109" cy="265" rx="18" ry="11"/><ellipse cx="1176" cy="255" rx="19" ry="10"/><ellipse cx="1224" cy="255" rx="14" ry="10"/><ellipse cx="1286" cy="259" rx="16" ry="7"/><ellipse cx="-21" cy="316" rx="16" ry="7"/><ellipse cx="32" cy="332" rx="19" ry="10"/><ellipse cx="119" cy="344" rx="12" ry="6"/><ellipse cx="145" cy="340" rx="13" ry="10"/><ellipse cx="228" cy="341" rx="19" ry="9"/><ellipse cx="288" cy="305" rx="21" ry="9"/><ellipse cx="975" cy="312" rx="19" ry="7"/><ellipse cx="1051" cy="305" rx="18" ry="10"/><ellipse cx="1112" cy="337" rx="16" ry="8"/><ellipse cx="1130" cy="336" rx="20" ry="7"/><ellipse cx="1197" cy="320" rx="14" ry="8"/><ellipse cx="1273" cy="337" rx="16" ry="7"/><ellipse cx="1301" cy="328" rx="14" ry="9"/><ellipse cx="-50" cy="361" rx="18" ry="9"/><ellipse cx="17" cy="393" rx="15" ry="9"/><ellipse cx="56" cy="380" rx="15" ry="9"/><ellipse cx="130" cy="359" rx="20" ry="8"/><ellipse cx="212" cy="382" rx="15" ry="8"/><ellipse cx="262" cy="366" rx="16" ry="6"/><ellipse cx="1072" cy="359" rx="11" ry="7"/><ellipse cx="1126" cy="359" rx="14" ry="8"/><ellipse cx="1182" cy="357" rx="13" ry="9"/><ellipse cx="1225" cy="363" rx="12" ry="7"/><ellipse cx="1290" cy="394" rx="19" ry="10"/><ellipse cx="3" cy="419" rx="12" ry="8"/><ellipse cx="29" cy="409" rx="15" ry="8"/><ellipse cx="117" cy="437" rx="15" ry="9"/><ellipse cx="167" cy="428" rx="19" ry="7"/><ellipse cx="1114" cy="445" rx="11" ry="8"/><ellipse cx="1138" cy="420" rx="19" ry="9"/><ellipse cx="1220" cy="421" rx="17" ry="7"/><ellipse cx="1260" cy="451" rx="18" ry="7"/><ellipse cx="1340" cy="444" rx="18" ry="7"/><ellipse cx="-39" cy="497" rx="18" ry="8"/><ellipse cx="0" cy="484" rx="18" ry="7"/><ellipse cx="56" cy="477" rx="16" ry="8"/><ellipse cx="127" cy="496" rx="15" ry="9"/><ellipse cx="181" cy="466" rx="15" ry="9"/><ellipse cx="1107" cy="492" rx="17" ry="6"/><ellipse cx="1201" cy="479" rx="15" ry="11"/><ellipse cx="1229" cy="480" rx="18" ry="7"/><ellipse cx="1276" cy="462" rx="16" ry="8"/><ellipse cx="10" cy="518" rx="12" ry="9"/><ellipse cx="45" cy="528" rx="12" ry="8"/><ellipse cx="109" cy="523" rx="16" ry="8"/><ellipse cx="168" cy="553" rx="19" ry="7"/><ellipse cx="1103" cy="547" rx="16" ry="8"/><ellipse cx="1147" cy="549" rx="16" ry="7"/><ellipse cx="1218" cy="518" rx="17" ry="6"/><ellipse cx="1290" cy="550" rx="12" ry="8"/><ellipse cx="1325" cy="527" rx="17" ry="8"/><ellipse cx="-16" cy="565" rx="14" ry="8"/><ellipse cx="32" cy="564" rx="18" ry="9"/><ellipse cx="76" cy="597" rx="12" ry="7"/><ellipse cx="134" cy="575" rx="12" ry="7"/><ellipse cx="187" cy="596" rx="15" ry="7"/><ellipse cx="1061" cy="595" rx="16" ry="9"/><ellipse cx="1128" cy="604" rx="20" ry="8"/><ellipse cx="1198" cy="569" rx="17" ry="11"/><ellipse cx="1255" cy="574" rx="16" ry="9"/><ellipse cx="1284" cy="566" rx="13" ry="10"/><ellipse cx="-11" cy="638" rx="12" ry="7"/><ellipse cx="24" cy="622" rx="21" ry="7"/><ellipse cx="91" cy="643" rx="13" ry="9"/><ellipse cx="174" cy="617" rx="16" ry="10"/><ellipse cx="203" cy="635" rx="16" ry="8"/><ellipse cx="1021" cy="645" rx="16" ry="8"/><ellipse cx="1082" cy="654" rx="13" ry="6"/><ellipse cx="1164" cy="651" rx="15" ry="7"/><ellipse cx="1223" cy="638" rx="16" ry="9"/><ellipse cx="1272" cy="622" rx="17" ry="9"/><ellipse cx="1332" cy="635" rx="19" ry="10"/><ellipse cx="-22" cy="693" rx="15" ry="8"/><ellipse cx="22" cy="670" rx="19" ry="9"/><ellipse cx="79" cy="685" rx="17" ry="6"/><ellipse cx="114" cy="692" rx="16" ry="8"/><ellipse cx="183" cy="704" rx="16" ry="8"/><ellipse cx="261" cy="679" rx="20" ry="10"/><ellipse cx="985" cy="685" rx="19" ry="8"/><ellipse cx="1075" cy="702" rx="19" ry="9"/><ellipse cx="1133" cy="675" rx="18" ry="8"/><ellipse cx="1173" cy="695" rx="15" ry="7"/><ellipse cx="1226" cy="706" rx="18" ry="10"/><ellipse cx="1307" cy="675" rx="19" ry="10"/><ellipse cx="8" cy="758" rx="13" ry="6"/><ellipse cx="29" cy="722" rx="17" ry="8"/><ellipse cx="120" cy="748" rx="20" ry="10"/><ellipse cx="167" cy="740" rx="19" ry="8"/><ellipse cx="199" cy="733" rx="15" ry="7"/><ellipse cx="281" cy="743" rx="18" ry="6"/><ellipse cx="328" cy="724" rx="19" ry="7"/><ellipse cx="377" cy="750" rx="21" ry="9"/><ellipse cx="974" cy="734" rx="16" ry="6"/><ellipse cx="1024" cy="752" rx="13" ry="8"/><ellipse cx="1082" cy="721" rx="20" ry="8"/><ellipse cx="1142" cy="733" rx="17" ry="6"/><ellipse cx="1223" cy="741" rx="13" ry="8"/><ellipse cx="1262" cy="730" rx="12" ry="9"/><ellipse cx="1317" cy="724" rx="16" ry="6"/><ellipse cx="-25" cy="814" rx="19" ry="7"/><ellipse cx="4" cy="791" rx="13" ry="8"/><ellipse cx="93" cy="778" rx="23" ry="9"/><ellipse cx="147" cy="790" rx="21" ry="8"/><ellipse cx="201" cy="780" rx="16" ry="7"/><ellipse cx="264" cy="805" rx="20" ry="8"/><ellipse cx="330" cy="779" rx="12" ry="8"/><ellipse cx="343" cy="798" rx="17" ry="7"/><ellipse cx="441" cy="790" rx="15" ry="7"/><ellipse cx="502" cy="799" rx="16" ry="8"/><ellipse cx="575" cy="798" rx="18" ry="7"/><ellipse cx="666" cy="805" rx="21" ry="10"/><ellipse cx="718" cy="795" rx="16" ry="7"/><ellipse cx="762" cy="809" rx="17" ry="9"/><ellipse cx="852" cy="783" rx="17" ry="9"/><ellipse cx="899" cy="809" rx="18" ry="9"/><ellipse cx="935" cy="785" rx="19" ry="7"/><ellipse cx="991" cy="786" rx="18" ry="8"/><ellipse cx="1067" cy="806" rx="14" ry="6"/><ellipse cx="1131" cy="809" rx="19" ry="8"/><ellipse cx="1169" cy="808" rx="13" ry="7"/><ellipse cx="1253" cy="793" rx="15" ry="8"/><ellipse cx="1313" cy="793" rx="20" ry="10"/><ellipse cx="-6" cy="842" rx="17" ry="11"/><ellipse cx="63" cy="831" rx="17" ry="6"/><ellipse cx="99" cy="862" rx="14" ry="7"/><ellipse cx="167" cy="854" rx="14" ry="8"/><ellipse cx="215" cy="838" rx="19" ry="8"/><ellipse cx="269" cy="850" rx="19" ry="10"/><ellipse cx="348" cy="849" rx="15" ry="8"/><ellipse cx="387" cy="853" rx="19" ry="11"/><ellipse cx="473" cy="825" rx="16" ry="10"/><ellipse cx="517" cy="828" rx="18" ry="8"/><ellipse cx="564" cy="835" rx="15" ry="9"/><ellipse cx="625" cy="841" rx="20" ry="9"/><ellipse cx="673" cy="866" rx="18" ry="6"/><ellipse cx="730" cy="833" rx="12" ry="6"/><ellipse cx="807" cy="825" rx="18" ry="9"/><ellipse cx="846" cy="864" rx="13" ry="8"/><ellipse cx="913" cy="843" rx="16" ry="8"/><ellipse cx="989" cy="836" rx="13" ry="8"/><ellipse cx="1029" cy="859" rx="17" ry="9"/><ellipse cx="1106" cy="855" rx="17" ry="10"/><ellipse cx="1155" cy="843" rx="17" ry="8"/><ellipse cx="1215" cy="837" rx="14" ry="9"/><ellipse cx="1287" cy="854" rx="13" ry="8"/><ellipse cx="1315" cy="851" rx="14" ry="7"/><ellipse cx="-21" cy="893" rx="18" ry="8"/><ellipse cx="17" cy="911" rx="17" ry="9"/><ellipse cx="75" cy="892" rx="17" ry="6"/><ellipse cx="116" cy="902" rx="14" ry="9"/><ellipse cx="199" cy="896" rx="16" ry="7"/><ellipse cx="265" cy="895" rx="16" ry="7"/><ellipse cx="290" cy="908" rx="16" ry="8"/><ellipse cx="344" cy="895" rx="22" ry="9"/><ellipse cx="439" cy="878" rx="13" ry="9"/><ellipse cx="493" cy="894" rx="16" ry="8"/><ellipse cx="538" cy="888" rx="16" ry="8"/><ellipse cx="613" cy="904" rx="16" ry="9"/><ellipse cx="647" cy="905" rx="19" ry="9"/><ellipse cx="699" cy="884" rx="18" ry="10"/><ellipse cx="783" cy="879" rx="16" ry="8"/><ellipse cx="834" cy="916" rx="16" ry="8"/><ellipse cx="900" cy="902" rx="15" ry="9"/><ellipse cx="965" cy="887" rx="17" ry="8"/><ellipse cx="1013" cy="888" rx="20" ry="10"/><ellipse cx="1050" cy="895" rx="15" ry="9"/><ellipse cx="1144" cy="885" rx="12" ry="8"/><ellipse cx="1192" cy="910" rx="15" ry="7"/><ellipse cx="1214" cy="888" rx="16" ry="7"/><ellipse cx="1294" cy="888" rx="13" ry="9"/><ellipse cx="-3" cy="959" rx="11" ry="8"/><ellipse cx="36" cy="939" rx="11" ry="8"/><ellipse cx="91" cy="962" rx="18" ry="8"/><ellipse cx="161" cy="967" rx="17" ry="8"/><ellipse cx="206" cy="943" rx="17" ry="8"/><ellipse cx="302" cy="928" rx="14" ry="9"/><ellipse cx="329" cy="963" rx="21" ry="10"/><ellipse cx="385" cy="948" rx="15" ry="6"/><ellipse cx="448" cy="943" rx="12" ry="8"/><ellipse cx="524" cy="956" rx="12" ry="9"/><ellipse cx="571" cy="969" rx="12" ry="7"/><ellipse cx="610" cy="956" rx="15" ry="9"/><ellipse cx="684" cy="960" rx="13" ry="8"/><ellipse cx="720" cy="962" rx="21" ry="9"/><ellipse cx="803" cy="938" rx="22" ry="9"/><ellipse cx="859" cy="952" rx="12" ry="8"/><ellipse cx="929" cy="962" rx="19" ry="10"/><ellipse cx="987" cy="932" rx="13" ry="8"/><ellipse cx="1022" cy="946" rx="15" ry="8"/><ellipse cx="1109" cy="938" rx="18" ry="10"/><ellipse cx="1157" cy="956" rx="17" ry="7"/><ellipse cx="1221" cy="948" rx="14" ry="9"/><ellipse cx="1280" cy="955" rx="21" ry="10"/><ellipse cx="1323" cy="935" rx="15" ry="8"/></g></g>
<g filter="url(#p5s)"><path d="M-20 60C-7 30 32 32 60 30C88 28 128 37 150 50C172 63 188 87 190 110C192 133 182 172 160 190C138 208 90 217 60 220C30 223 -7 237 -20 210C-33 183 -33 90 -20 60Z" fill="#dcc48c"/><ellipse cx="70" cy="110" rx="60" ry="50" fill="#ead8a8"/><path d="M190 40C198 22 230 12 250 10C270 8 298 15 310 30C322 45 327 82 320 100C313 118 290 132 270 135C250 138 213 136 200 120C187 104 182 58 190 40Z" fill="#e0cca0"/><path d="M110 140C122 120 172 115 200 120C228 125 272 150 280 170C288 190 275 228 250 240C225 252 153 257 130 240C107 223 98 160 110 140Z" fill="#d8b8a0"/><path d="M-20 230C-7 205 38 212 60 220C82 228 103 257 110 280C117 303 113 343 100 360C87 377 50 378 30 380C10 382 -12 395 -20 370C-28 345 -33 255 -20 230Z" fill="#b8b4ac"/><path d="M-20 540C-7 517 37 543 60 560C83 577 112 613 120 640C128 667 123 703 110 720C97 737 62 743 40 740C18 737 -10 733 -20 700C-30 667 -33 563 -20 540Z" fill="#b89c80"/><path d="M60 720C80 693 130 690 160 700C190 710 223 747 240 780C257 813 267 868 260 900C253 932 233 958 200 970C167 982 87 988 60 970C33 952 40 902 40 860C40 818 40 747 60 720Z" fill="#c8b8ac"/><path d="M-20 730C-10 695 27 738 40 760C53 782 60 825 60 860C60 895 53 952 40 970C27 988 -10 1010 -20 970C-30 930 -30 765 -20 730Z" fill="#c0a078"/></g>
<g filter="url(#p5s)"><path d="M840 30C853 5 885 -12 960 -20C1035 -28 1235 -62 1290 -20C1345 22 1313 186 1290 230C1267 274 1198 248 1150 245C1102 242 1045 229 1000 210C955 191 907 160 880 130C853 100 827 55 840 30Z" fill="#c8a878"/></g>
<g filter="url(#p5c)"><path d="M880 20C897 -2 932 -13 1000 -20C1068 -27 1242 -57 1290 -20C1338 17 1313 161 1290 200C1267 239 1198 218 1150 215C1102 212 1042 198 1000 180C958 162 920 137 900 110C880 83 863 42 880 20Z" fill="#8a7a5e"/><g clip-path="url(#p5tw)"><ellipse cx="940" cy="60" rx="42" ry="35" fill="#d6a862"/><ellipse cx="1020" cy="110" rx="56" ry="42" fill="#d6a862"/><ellipse cx="1120" cy="60" rx="49" ry="35" fill="#d6a862"/><ellipse cx="1200" cy="120" rx="56" ry="49" fill="#d6a862"/><ellipse cx="1260" cy="50" rx="42" ry="42" fill="#d6a862"/><ellipse cx="1080" cy="170" rx="42" ry="28" fill="#d6a862"/><ellipse cx="1180" cy="190" rx="42" ry="28" fill="#d6a862"/><ellipse cx="1000" cy="20" rx="42" ry="21" fill="#d6a862"/></g></g>
<g filter="url(#p5m)" opacity="0.55"><path d="M80 500C85 457 97 387 120 340C143 293 182 250 220 220C258 190 293 165 350 160C407 155 512 195 560 190C608 185 590 145 640 130C690 115 800 95 860 100C920 105 945 110 1000 160C1055 210 1158 327 1190 400C1222 473 1197 547 1190 600C1183 653 1172 683 1150 720C1128 757 1102 790 1060 820C1018 850 977 887 900 900C823 913 680 905 600 900C520 895 477 883 420 870C363 857 307 847 260 820C213 793 168 747 140 710C112 673 100 635 90 600C80 565 75 543 80 500Z" fill="#342a24"/></g>
<g filter="url(#p5s)"><path d="M95 500C99 460 109 403 130 360C151 317 183 270 220 240C257 210 307 191 350 180C393 169 445 170 480 175C515 180 540 189 560 210C580 231 592 260 600 300C608 340 610 392 610 450C610 508 607 592 600 650C593 708 580 766 570 800C560 834 565 843 540 852C515 861 463 860 420 852C377 844 322 827 280 802C238 777 199 736 170 702C141 668 118 634 105 600C92 566 91 540 95 500Z" fill="#c6a87c"/><path d="M590 230C598 202 615 170 640 150C665 130 703 115 740 110C777 105 820 108 860 120C900 132 940 152 980 180C1020 208 1068 250 1100 290C1132 330 1156 375 1170 420C1184 465 1185 513 1182 560C1179 607 1172 660 1152 700C1132 740 1101 770 1062 800C1023 830 967 866 920 882C873 898 830 897 780 897C730 897 654 891 620 882C586 873 580 872 575 842C570 812 586 765 590 700C594 635 600 513 600 450C600 387 592 357 590 320C588 283 582 258 590 230Z" fill="#c6a87c"/></g>
<g filter="url(#p5c)"><path d="M590 230C597 180 622 165 640 150C658 135 692 115 700 140C708 165 690 240 690 300C690 360 698 433 700 500C702 567 697 640 700 700C703 760 733 830 720 860C707 890 644 883 620 880C596 877 580 870 575 840C570 810 586 765 590 700C594 635 600 528 600 450C600 372 583 280 590 230Z" fill="#bcaa90"/><path class="s" d="M110 520C117 543 127 618 150 660C173 702 208 740 250 770C292 800 352 827 400 840C448 853 517 848 540 850" stroke="#a88c68" stroke-width="30"/><path class="s" d="M1175 480C1172 507 1176 590 1160 640C1144 690 1117 742 1080 780C1043 818 990 852 940 870C890 888 807 887 780 890" stroke="#a88a68" stroke-width="30"/></g>
<g filter="url(#p5t)"><path class="s" d="M585 220C584 258 580 370 578 450C576 530 575 632 572 700C569 768 562 833 560 860" stroke="#6a5a48" stroke-width="8"/></g>
<g filter="url(#p5c)"><path d="M212 261C236 242 273 225 309 216C345 207 394 204 426 209C458 214 488 223 504 248C520 273 520 319 523 359C526 399 526 445 523 488C520 531 513 577 504 618C495 659 493 711 471 735C449 759 408 761 374 761C340 761 296 750 264 735C232 720 200 700 179 670C158 640 146 592 140 553C134 514 136 474 140 437C144 400 154 362 166 333C178 304 188 280 212 261Z" fill="#8c7c60"/><path d="M687 166C707 142 763 136 801 135C839 134 876 144 914 158C952 172 994 189 1028 219C1062 249 1097 291 1118 339C1139 387 1154 449 1156 506C1158 563 1148 632 1133 680C1118 728 1098 765 1065 793C1032 821 981 838 937 846C893 854 836 851 801 838C766 825 741 806 725 770C709 734 708 676 703 619C698 562 699 487 695 430C691 373 681 323 680 279C679 235 667 190 687 166Z" fill="#8c7c60"/></g>
<g filter="url(#p5s)"><ellipse cx="381" cy="261" rx="49" ry="36" fill="#d8aa64"/><ellipse cx="360" cy="273" rx="19" ry="15" fill="#d6a862"/><ellipse cx="354" cy="244" rx="15" ry="11" fill="#d6a862"/><ellipse cx="401" cy="237" rx="18" ry="11" fill="#d6a862"/><ellipse cx="257" cy="307" rx="49" ry="32" fill="#d8aa64"/><ellipse cx="239" cy="303" rx="20" ry="12" fill="#d6a862"/><ellipse cx="215" cy="294" rx="15" ry="14" fill="#d6a862"/><ellipse cx="284" cy="325" rx="20" ry="13" fill="#d6a862"/><ellipse cx="419" cy="339" rx="40" ry="32" fill="#d8aa64"/><ellipse cx="451" cy="356" rx="13" ry="14" fill="#d6a862"/><ellipse cx="418" cy="354" rx="15" ry="11" fill="#d6a862"/><ellipse cx="409" cy="335" rx="13" ry="10" fill="#d6a862"/><ellipse cx="238" cy="385" rx="49" ry="40" fill="#d8aa64"/><ellipse cx="265" cy="406" rx="21" ry="16" fill="#d6a862"/><ellipse cx="243" cy="402" rx="15" ry="16" fill="#d6a862"/><ellipse cx="233" cy="362" rx="15" ry="15" fill="#d6a862"/><ellipse cx="381" cy="424" rx="49" ry="36" fill="#d8aa64"/><ellipse cx="360" cy="421" rx="18" ry="12" fill="#d6a862"/><ellipse cx="349" cy="423" rx="15" ry="12" fill="#d6a862"/><ellipse cx="355" cy="415" rx="14" ry="14" fill="#d6a862"/><ellipse cx="471" cy="378" rx="32" ry="32" fill="#d8aa64"/><ellipse cx="497" cy="372" rx="13" ry="14" fill="#d6a862"/><ellipse cx="445" cy="358" rx="13" ry="13" fill="#d6a862"/><ellipse cx="479" cy="359" rx="11" ry="14" fill="#d6a862"/><ellipse cx="179" cy="424" rx="32" ry="49" fill="#d8aa64"/><ellipse cx="201" cy="450" rx="10" ry="20" fill="#d6a862"/><ellipse cx="172" cy="443" rx="10" ry="21" fill="#d6a862"/><ellipse cx="185" cy="443" rx="10" ry="18" fill="#d6a862"/><ellipse cx="231" cy="514" rx="49" ry="49" fill="#d8aa64"/><ellipse cx="238" cy="522" rx="16" ry="19" fill="#d6a862"/><ellipse cx="217" cy="496" rx="15" ry="19" fill="#d6a862"/><ellipse cx="198" cy="490" rx="14" ry="19" fill="#d6a862"/><ellipse cx="342" cy="501" rx="56" ry="45" fill="#d8aa64"/><ellipse cx="348" cy="504" rx="16" ry="16" fill="#d6a862"/><ellipse cx="326" cy="469" rx="16" ry="20" fill="#d6a862"/><ellipse cx="305" cy="485" rx="18" ry="17" fill="#d6a862"/><ellipse cx="445" cy="463" rx="40" ry="32" fill="#d8aa64"/><ellipse cx="415" cy="461" rx="14" ry="13" fill="#d6a862"/><ellipse cx="410" cy="454" rx="14" ry="14" fill="#d6a862"/><ellipse cx="446" cy="462" rx="15" ry="11" fill="#d6a862"/><ellipse cx="426" cy="586" rx="56" ry="40" fill="#d8aa64"/><ellipse cx="380" cy="586" rx="24" ry="16" fill="#d6a862"/><ellipse cx="402" cy="599" rx="23" ry="13" fill="#d6a862"/><ellipse cx="435" cy="576" rx="18" ry="13" fill="#d6a862"/><ellipse cx="153" cy="501" rx="32" ry="40" fill="#d8aa64"/><ellipse cx="136" cy="490" rx="9" ry="14" fill="#d6a862"/><ellipse cx="129" cy="519" rx="12" ry="11" fill="#d6a862"/><ellipse cx="169" cy="479" rx="12" ry="15" fill="#d6a862"/><ellipse cx="244" cy="586" rx="49" ry="40" fill="#d8aa64"/><ellipse cx="230" cy="571" rx="17" ry="12" fill="#d6a862"/><ellipse cx="275" cy="559" rx="20" ry="13" fill="#d6a862"/><ellipse cx="227" cy="578" rx="14" ry="12" fill="#d6a862"/><ellipse cx="484" cy="566" rx="32" ry="40" fill="#d8aa64"/><ellipse cx="476" cy="562" rx="14" ry="18" fill="#d6a862"/><ellipse cx="458" cy="568" rx="10" ry="16" fill="#d6a862"/><ellipse cx="474" cy="594" rx="12" ry="12" fill="#d6a862"/><ellipse cx="296" cy="696" rx="49" ry="49" fill="#d8aa64"/><ellipse cx="254" cy="674" rx="20" ry="15" fill="#d6a862"/><ellipse cx="294" cy="685" rx="16" ry="20" fill="#d6a862"/><ellipse cx="271" cy="715" rx="19" ry="21" fill="#d6a862"/><ellipse cx="407" cy="703" rx="49" ry="45" fill="#d8aa64"/><ellipse cx="409" cy="736" rx="17" ry="17" fill="#d6a862"/><ellipse cx="417" cy="730" rx="21" ry="13" fill="#d6a862"/><ellipse cx="376" cy="706" rx="20" ry="16" fill="#d6a862"/><ellipse cx="199" cy="683" rx="40" ry="32" fill="#d8aa64"/><ellipse cx="185" cy="709" rx="13" ry="10" fill="#d6a862"/><ellipse cx="167" cy="656" rx="16" ry="10" fill="#d6a862"/><ellipse cx="214" cy="704" rx="18" ry="13" fill="#d6a862"/><ellipse cx="471" cy="657" rx="32" ry="32" fill="#d8aa64"/><ellipse cx="467" cy="664" rx="13" ry="13" fill="#d6a862"/><ellipse cx="459" cy="672" rx="10" ry="11" fill="#d6a862"/><ellipse cx="499" cy="655" rx="10" ry="13" fill="#d6a862"/><ellipse cx="497" cy="722" rx="32" ry="32" fill="#d8aa64"/><ellipse cx="494" cy="694" rx="9" ry="10" fill="#d6a862"/><ellipse cx="487" cy="747" rx="10" ry="14" fill="#d6a862"/><ellipse cx="517" cy="717" rx="14" ry="13" fill="#d6a862"/><ellipse cx="355" cy="592" rx="32" ry="32" fill="#d8aa64"/><ellipse cx="354" cy="578" rx="11" ry="14" fill="#d6a862"/><ellipse cx="357" cy="574" rx="11" ry="12" fill="#d6a862"/><ellipse cx="337" cy="596" rx="9" ry="13" fill="#d6a862"/><ellipse cx="300" cy="230" rx="38" ry="25" fill="#d8aa64"/><ellipse cx="279" cy="213" rx="14" ry="8" fill="#d6a862"/><ellipse cx="325" cy="230" rx="14" ry="10" fill="#d6a862"/><ellipse cx="281" cy="241" rx="14" ry="9" fill="#d6a862"/><ellipse cx="480" cy="290" rx="25" ry="31" fill="#d8aa64"/><ellipse cx="500" cy="264" rx="10" ry="9" fill="#d6a862"/><ellipse cx="495" cy="271" rx="7" ry="11" fill="#d6a862"/><ellipse cx="499" cy="277" rx="9" ry="12" fill="#d6a862"/><ellipse cx="763" cy="196" rx="56" ry="38" fill="#d8aa64"/><ellipse cx="738" cy="198" rx="16" ry="13" fill="#d6a862"/><ellipse cx="789" cy="185" rx="18" ry="11" fill="#d6a862"/><ellipse cx="783" cy="191" rx="24" ry="15" fill="#d6a862"/><ellipse cx="861" cy="264" rx="56" ry="42" fill="#d8aa64"/><ellipse cx="821" cy="295" rx="24" ry="17" fill="#d6a862"/><ellipse cx="894" cy="278" rx="22" ry="16" fill="#d6a862"/><ellipse cx="870" cy="246" rx="17" ry="17" fill="#d6a862"/><ellipse cx="967" cy="264" rx="66" ry="48" fill="#d8aa64"/><ellipse cx="978" cy="227" rx="25" ry="18" fill="#d6a862"/><ellipse cx="968" cy="287" rx="28" ry="16" fill="#d6a862"/><ellipse cx="1004" cy="264" rx="25" ry="16" fill="#d6a862"/><ellipse cx="1058" cy="324" rx="48" ry="56" fill="#d8aa64"/><ellipse cx="1094" cy="319" rx="21" ry="19" fill="#d6a862"/><ellipse cx="1072" cy="365" rx="18" ry="19" fill="#d6a862"/><ellipse cx="1023" cy="322" rx="16" ry="23" fill="#d6a862"/><ellipse cx="801" cy="339" rx="85" ry="42" fill="#d8aa64"/><ellipse cx="844" cy="375" rx="30" ry="15" fill="#d6a862"/><ellipse cx="811" cy="358" rx="25" ry="13" fill="#d6a862"/><ellipse cx="748" cy="326" rx="28" ry="18" fill="#d6a862"/><ellipse cx="748" cy="392" rx="38" ry="29" fill="#d8aa64"/><ellipse cx="729" cy="414" rx="12" ry="9" fill="#d6a862"/><ellipse cx="779" cy="371" rx="11" ry="9" fill="#d6a862"/><ellipse cx="719" cy="386" rx="12" ry="9" fill="#d6a862"/><ellipse cx="952" cy="339" rx="48" ry="38" fill="#d8aa64"/><ellipse cx="912" cy="352" rx="14" ry="12" fill="#d6a862"/><ellipse cx="957" cy="364" rx="18" ry="15" fill="#d6a862"/><ellipse cx="969" cy="359" rx="20" ry="11" fill="#d6a862"/><ellipse cx="786" cy="468" rx="66" ry="48" fill="#d8aa64"/><ellipse cx="734" cy="478" rx="24" ry="17" fill="#d6a862"/><ellipse cx="819" cy="441" rx="26" ry="17" fill="#d6a862"/><ellipse cx="777" cy="447" rx="22" ry="18" fill="#d6a862"/><ellipse cx="952" cy="453" rx="66" ry="66" fill="#d8aa64"/><ellipse cx="958" cy="500" rx="22" ry="26" fill="#d6a862"/><ellipse cx="905" cy="471" rx="20" ry="28" fill="#d6a862"/><ellipse cx="1006" cy="424" rx="27" ry="21" fill="#d6a862"/><ellipse cx="1088" cy="445" rx="56" ry="48" fill="#d8aa64"/><ellipse cx="1069" cy="412" rx="20" ry="14" fill="#d6a862"/><ellipse cx="1108" cy="451" rx="20" ry="19" fill="#d6a862"/><ellipse cx="1062" cy="431" rx="19" ry="13" fill="#d6a862"/><ellipse cx="876" cy="544" rx="56" ry="56" fill="#d8aa64"/><ellipse cx="914" cy="503" rx="17" ry="23" fill="#d6a862"/><ellipse cx="908" cy="539" rx="20" ry="17" fill="#d6a862"/><ellipse cx="827" cy="546" rx="18" ry="17" fill="#d6a862"/><ellipse cx="997" cy="574" rx="75" ry="66" fill="#d8aa64"/><ellipse cx="1051" cy="518" rx="25" ry="27" fill="#d6a862"/><ellipse cx="1030" cy="528" rx="30" ry="25" fill="#d6a862"/><ellipse cx="1014" cy="626" rx="31" ry="25" fill="#d6a862"/><ellipse cx="1103" cy="574" rx="48" ry="56" fill="#d8aa64"/><ellipse cx="1126" cy="573" rx="17" ry="23" fill="#d6a862"/><ellipse cx="1113" cy="562" rx="13" ry="23" fill="#d6a862"/><ellipse cx="1090" cy="567" rx="15" ry="21" fill="#d6a862"/><ellipse cx="770" cy="619" rx="66" ry="48" fill="#d8aa64"/><ellipse cx="758" cy="647" rx="25" ry="18" fill="#d6a862"/><ellipse cx="803" cy="614" rx="24" ry="19" fill="#d6a862"/><ellipse cx="796" cy="639" rx="28" ry="18" fill="#d6a862"/><ellipse cx="846" cy="634" rx="48" ry="56" fill="#d8aa64"/><ellipse cx="851" cy="603" rx="15" ry="20" fill="#d6a862"/><ellipse cx="846" cy="674" rx="14" ry="19" fill="#d6a862"/><ellipse cx="866" cy="630" rx="20" ry="17" fill="#d6a862"/><ellipse cx="1073" cy="665" rx="38" ry="38" fill="#d8aa64"/><ellipse cx="1091" cy="660" rx="14" ry="11" fill="#d6a862"/><ellipse cx="1067" cy="685" rx="15" ry="14" fill="#d6a862"/><ellipse cx="1068" cy="635" rx="15" ry="13" fill="#d6a862"/><ellipse cx="967" cy="733" rx="56" ry="48" fill="#d8aa64"/><ellipse cx="989" cy="742" rx="19" ry="20" fill="#d6a862"/><ellipse cx="931" cy="771" rx="17" ry="21" fill="#d6a862"/><ellipse cx="976" cy="729" rx="24" ry="17" fill="#d6a862"/><ellipse cx="786" cy="733" rx="66" ry="48" fill="#d8aa64"/><ellipse cx="787" cy="696" rx="27" ry="18" fill="#d6a862"/><ellipse cx="756" cy="701" rx="23" ry="20" fill="#d6a862"/><ellipse cx="829" cy="730" rx="19" ry="20" fill="#d6a862"/><ellipse cx="891" cy="786" rx="38" ry="38" fill="#d8aa64"/><ellipse cx="871" cy="801" rx="13" ry="16" fill="#d6a862"/><ellipse cx="868" cy="805" rx="15" ry="11" fill="#d6a862"/><ellipse cx="895" cy="772" rx="15" ry="16" fill="#d6a862"/><ellipse cx="1028" cy="771" rx="38" ry="48" fill="#d8aa64"/><ellipse cx="1039" cy="770" rx="14" ry="15" fill="#d6a862"/><ellipse cx="1026" cy="739" rx="15" ry="14" fill="#d6a862"/><ellipse cx="1030" cy="744" rx="14" ry="14" fill="#d6a862"/><ellipse cx="1118" cy="733" rx="38" ry="38" fill="#d8aa64"/><ellipse cx="1087" cy="741" rx="15" ry="16" fill="#d6a862"/><ellipse cx="1130" cy="766" rx="11" ry="14" fill="#d6a862"/><ellipse cx="1127" cy="712" rx="11" ry="12" fill="#d6a862"/><ellipse cx="710" cy="544" rx="38" ry="38" fill="#d8aa64"/><ellipse cx="712" cy="563" rx="15" ry="14" fill="#d6a862"/><ellipse cx="682" cy="559" rx="14" ry="12" fill="#d6a862"/><ellipse cx="718" cy="527" rx="12" ry="13" fill="#d6a862"/><ellipse cx="718" cy="680" rx="48" ry="38" fill="#d8aa64"/><ellipse cx="739" cy="654" rx="17" ry="12" fill="#d6a862"/><ellipse cx="732" cy="701" rx="15" ry="15" fill="#d6a862"/><ellipse cx="715" cy="661" rx="15" ry="14" fill="#d6a862"/><ellipse cx="880" cy="180" rx="38" ry="28" fill="#d8aa64"/><ellipse cx="900" cy="185" rx="11" ry="11" fill="#d6a862"/><ellipse cx="885" cy="176" rx="12" ry="10" fill="#d6a862"/><ellipse cx="893" cy="169" rx="11" ry="12" fill="#d6a862"/><ellipse cx="1000" cy="200" rx="38" ry="25" fill="#d8aa64"/><ellipse cx="996" cy="181" rx="16" ry="7" fill="#d6a862"/><ellipse cx="991" cy="205" rx="14" ry="11" fill="#d6a862"/><ellipse cx="979" cy="203" rx="16" ry="9" fill="#d6a862"/><ellipse cx="1130" cy="420" rx="25" ry="50" fill="#d8aa64"/><ellipse cx="1139" cy="417" rx="10" ry="22" fill="#d6a862"/><ellipse cx="1123" cy="441" rx="8" ry="21" fill="#d6a862"/><ellipse cx="1142" cy="451" rx="10" ry="19" fill="#d6a862"/><ellipse cx="221" cy="254" rx="25" ry="15" fill="#ccaa74"/><ellipse cx="311" cy="220" rx="21" ry="22" fill="#ccaa74"/><ellipse cx="424" cy="203" rx="20" ry="20" fill="#ccaa74"/><ellipse cx="502" cy="239" rx="22" ry="24" fill="#ccaa74"/><ellipse cx="522" cy="363" rx="23" ry="15" fill="#ccaa74"/><ellipse cx="525" cy="482" rx="19" ry="20" fill="#ccaa74"/><ellipse cx="508" cy="608" rx="29" ry="14" fill="#ccaa74"/><ellipse cx="464" cy="732" rx="28" ry="21" fill="#ccaa74"/><ellipse cx="379" cy="760" rx="29" ry="15" fill="#ccaa74"/><ellipse cx="273" cy="726" rx="20" ry="22" fill="#ccaa74"/><ellipse cx="184" cy="673" rx="21" ry="23" fill="#ccaa74"/><ellipse cx="140" cy="547" rx="19" ry="24" fill="#ccaa74"/><ellipse cx="131" cy="431" rx="22" ry="23" fill="#ccaa74"/><ellipse cx="173" cy="340" rx="26" ry="14" fill="#ccaa74"/><ellipse cx="692" cy="160" rx="29" ry="24" fill="#ccaa74"/><ellipse cx="792" cy="140" rx="21" ry="15" fill="#ccaa74"/><ellipse cx="921" cy="157" rx="22" ry="20" fill="#ccaa74"/><ellipse cx="1019" cy="217" rx="26" ry="23" fill="#ccaa74"/><ellipse cx="1110" cy="347" rx="19" ry="16" fill="#ccaa74"/><ellipse cx="1153" cy="499" rx="19" ry="21" fill="#ccaa74"/><ellipse cx="1131" cy="674" rx="24" ry="15" fill="#ccaa74"/><ellipse cx="1069" cy="802" rx="24" ry="18" fill="#ccaa74"/><ellipse cx="935" cy="843" rx="23" ry="16" fill="#ccaa74"/><ellipse cx="797" cy="842" rx="24" ry="15" fill="#ccaa74"/><ellipse cx="718" cy="777" rx="22" ry="22" fill="#ccaa74"/><ellipse cx="705" cy="622" rx="22" ry="20" fill="#ccaa74"/><ellipse cx="693" cy="430" rx="29" ry="15" fill="#ccaa74"/><ellipse cx="674" cy="287" rx="29" ry="22" fill="#ccaa74"/><clipPath id="p5ww"><path d="M212 261C236 242 273 225 309 216C345 207 394 204 426 209C458 214 488 223 504 248C520 273 520 319 523 359C526 399 526 445 523 488C520 531 513 577 504 618C495 659 493 711 471 735C449 759 408 761 374 761C340 761 296 750 264 735C232 720 200 700 179 670C158 640 146 592 140 553C134 514 136 474 140 437C144 400 154 362 166 333C178 304 188 280 212 261Z"/><path d="M687 166C707 142 763 136 801 135C839 134 876 144 914 158C952 172 994 189 1028 219C1062 249 1097 291 1118 339C1139 387 1154 449 1156 506C1158 563 1148 632 1133 680C1118 728 1098 765 1065 793C1032 821 981 838 937 846C893 854 836 851 801 838C766 825 741 806 725 770C709 734 708 676 703 619C698 562 699 487 695 430C691 373 681 323 680 279C679 235 667 190 687 166Z"/></clipPath><g clip-path="url(#p5ww)"><path class="s" d="M296 248C302 264 329 314 329 346C329 378 307 413 296 443C285 473 258 498 264 527C270 556 314 592 329 618C344 644 353 661 355 683C357 705 344 737 342 748" stroke="#86765c" stroke-width="25"/><ellipse cx="316" cy="233" rx="16" ry="13" fill="#86765c"/><ellipse cx="307" cy="239" rx="13" ry="12" fill="#86765c"/><ellipse cx="349" cy="353" rx="14" ry="10" fill="#86765c"/><ellipse cx="325" cy="356" rx="13" ry="11" fill="#86765c"/><ellipse cx="302" cy="449" rx="10" ry="9" fill="#86765c"/><ellipse cx="305" cy="446" rx="17" ry="8" fill="#86765c"/><ellipse cx="252" cy="527" rx="16" ry="9" fill="#86765c"/><ellipse cx="276" cy="523" rx="12" ry="13" fill="#86765c"/><ellipse cx="312" cy="637" rx="12" ry="10" fill="#86765c"/><ellipse cx="316" cy="617" rx="17" ry="9" fill="#86765c"/><ellipse cx="357" cy="680" rx="12" ry="9" fill="#86765c"/><ellipse cx="364" cy="679" rx="14" ry="12" fill="#86765c"/><ellipse cx="325" cy="762" rx="17" ry="10" fill="#86765c"/><ellipse cx="356" cy="757" rx="12" ry="10" fill="#86765c"/><path class="s" d="M166 359C178 372 216 423 238 437C260 451 286 442 296 443" stroke="#86765c" stroke-width="25"/><ellipse cx="162" cy="357" rx="14" ry="11" fill="#86765c"/><ellipse cx="168" cy="342" rx="12" ry="11" fill="#86765c"/><ellipse cx="237" cy="423" rx="12" ry="14" fill="#86765c"/><ellipse cx="251" cy="447" rx="13" ry="11" fill="#86765c"/><ellipse cx="305" cy="446" rx="15" ry="8" fill="#86765c"/><ellipse cx="305" cy="430" rx="13" ry="11" fill="#86765c"/><path class="s" d="M140 553C152 549 191 531 212 527C233 523 255 527 264 527" stroke="#86765c" stroke-width="32"/><ellipse cx="136" cy="559" rx="12" ry="14" fill="#86765c"/><ellipse cx="129" cy="555" rx="15" ry="12" fill="#86765c"/><ellipse cx="210" cy="533" rx="10" ry="14" fill="#86765c"/><ellipse cx="215" cy="531" rx="12" ry="11" fill="#86765c"/><ellipse cx="270" cy="523" rx="11" ry="9" fill="#86765c"/><ellipse cx="280" cy="514" rx="14" ry="12" fill="#86765c"/><path class="s" d="M329 346C336 338 348 304 374 300C400 296 462 323 484 320C506 317 501 288 504 281" stroke="#86765c" stroke-width="26"/><ellipse cx="343" cy="345" rx="18" ry="9" fill="#86765c"/><ellipse cx="326" cy="340" rx="12" ry="11" fill="#86765c"/><ellipse cx="371" cy="295" rx="17" ry="10" fill="#86765c"/><ellipse cx="354" cy="311" rx="13" ry="8" fill="#86765c"/><ellipse cx="495" cy="330" rx="15" ry="13" fill="#86765c"/><ellipse cx="474" cy="335" rx="13" ry="13" fill="#86765c"/><ellipse cx="526" cy="283" rx="13" ry="12" fill="#86765c"/><ellipse cx="514" cy="281" rx="11" ry="10" fill="#86765c"/><path class="s" d="M445 417C452 416 478 412 484 411" stroke="#86765c" stroke-width="29"/><ellipse cx="424" cy="413" rx="17" ry="12" fill="#86765c"/><ellipse cx="434" cy="401" rx="15" ry="12" fill="#86765c"/><ellipse cx="475" cy="412" rx="18" ry="12" fill="#86765c"/><ellipse cx="486" cy="392" rx="14" ry="8" fill="#86765c"/><path class="s" d="M387 521C401 520 452 517 471 514C490 511 498 503 504 501" stroke="#86765c" stroke-width="32"/><ellipse cx="388" cy="525" rx="15" ry="8" fill="#86765c"/><ellipse cx="401" cy="530" rx="11" ry="13" fill="#86765c"/><ellipse cx="487" cy="536" rx="11" ry="13" fill="#86765c"/><ellipse cx="483" cy="503" rx="11" ry="12" fill="#86765c"/><ellipse cx="485" cy="503" rx="16" ry="10" fill="#86765c"/><ellipse cx="497" cy="497" rx="11" ry="8" fill="#86765c"/><path class="s" d="M199 638C212 637 255 634 277 631C299 628 320 620 329 618" stroke="#86765c" stroke-width="29"/><ellipse cx="213" cy="660" rx="11" ry="10" fill="#86765c"/><ellipse cx="213" cy="629" rx="16" ry="14" fill="#86765c"/><ellipse cx="293" cy="636" rx="16" ry="13" fill="#86765c"/><ellipse cx="261" cy="624" rx="16" ry="11" fill="#86765c"/><ellipse cx="341" cy="639" rx="16" ry="12" fill="#86765c"/><ellipse cx="339" cy="637" rx="11" ry="8" fill="#86765c"/><path class="s" d="M374 657C390 658 455 663 471 664" stroke="#86765c" stroke-width="30"/><ellipse cx="390" cy="664" rx="14" ry="10" fill="#86765c"/><ellipse cx="395" cy="666" rx="18" ry="12" fill="#86765c"/><ellipse cx="487" cy="652" rx="16" ry="9" fill="#86765c"/><ellipse cx="463" cy="662" rx="14" ry="14" fill="#86765c"/><path class="s" d="M445 229C454 231 488 240 497 242" stroke="#86765c" stroke-width="29"/><ellipse cx="428" cy="242" rx="16" ry="13" fill="#86765c"/><ellipse cx="464" cy="241" rx="14" ry="12" fill="#86765c"/><ellipse cx="477" cy="236" rx="13" ry="12" fill="#86765c"/><ellipse cx="478" cy="229" rx="12" ry="9" fill="#86765c"/><path class="s" d="M244 261C253 259 287 250 296 248" stroke="#86765c" stroke-width="28"/><ellipse cx="266" cy="253" rx="11" ry="8" fill="#86765c"/><ellipse cx="255" cy="256" rx="18" ry="9" fill="#86765c"/><ellipse cx="317" cy="240" rx="18" ry="14" fill="#86765c"/><ellipse cx="292" cy="230" rx="15" ry="12" fill="#86765c"/><path class="s" d="M801 151C807 172 824 239 839 279C854 319 886 354 892 392C898 430 872 468 876 506C880 544 910 581 914 619C918 657 905 698 899 733C893 768 880 815 876 831" stroke="#86765c" stroke-width="29"/><ellipse cx="785" cy="166" rx="13" ry="10" fill="#86765c"/><ellipse cx="782" cy="130" rx="14" ry="9" fill="#86765c"/><ellipse cx="831" cy="289" rx="16" ry="11" fill="#86765c"/><ellipse cx="827" cy="285" rx="13" ry="14" fill="#86765c"/><ellipse cx="904" cy="408" rx="12" ry="13" fill="#86765c"/><ellipse cx="889" cy="381" rx="11" ry="11" fill="#86765c"/><ellipse cx="883" cy="495" rx="11" ry="12" fill="#86765c"/><ellipse cx="877" cy="516" rx="17" ry="9" fill="#86765c"/><ellipse cx="935" cy="610" rx="16" ry="9" fill="#86765c"/><ellipse cx="925" cy="612" rx="14" ry="13" fill="#86765c"/><ellipse cx="911" cy="744" rx="17" ry="10" fill="#86765c"/><ellipse cx="888" cy="747" rx="15" ry="10" fill="#86765c"/><ellipse cx="897" cy="848" rx="16" ry="11" fill="#86765c"/><ellipse cx="889" cy="827" rx="12" ry="13" fill="#86765c"/><path class="s" d="M892 392C915 386 990 352 1028 355C1066 358 1103 399 1118 408" stroke="#86765c" stroke-width="29"/><ellipse cx="903" cy="373" rx="14" ry="11" fill="#86765c"/><ellipse cx="872" cy="407" rx="14" ry="11" fill="#86765c"/><ellipse cx="1031" cy="360" rx="11" ry="9" fill="#86765c"/><ellipse cx="1010" cy="361" rx="11" ry="12" fill="#86765c"/><ellipse cx="1131" cy="419" rx="18" ry="11" fill="#86765c"/><ellipse cx="1120" cy="411" rx="15" ry="11" fill="#86765c"/><path class="s" d="M876 506C901 507 985 512 1028 513C1071 514 1116 513 1133 513" stroke="#86765c" stroke-width="26"/><ellipse cx="885" cy="518" rx="13" ry="9" fill="#86765c"/><ellipse cx="880" cy="495" rx="13" ry="13" fill="#86765c"/><ellipse cx="1041" cy="533" rx="15" ry="12" fill="#86765c"/><ellipse cx="1017" cy="519" rx="14" ry="9" fill="#86765c"/><ellipse cx="1139" cy="519" rx="11" ry="13" fill="#86765c"/><ellipse cx="1123" cy="530" rx="12" ry="13" fill="#86765c"/><path class="s" d="M914 619C936 622 1012 626 1043 634C1074 642 1093 660 1103 665" stroke="#86765c" stroke-width="30"/><ellipse cx="906" cy="604" rx="14" ry="10" fill="#86765c"/><ellipse cx="919" cy="619" rx="10" ry="10" fill="#86765c"/><ellipse cx="1045" cy="642" rx="12" ry="11" fill="#86765c"/><ellipse cx="1030" cy="645" rx="15" ry="10" fill="#86765c"/><ellipse cx="1087" cy="686" rx="11" ry="11" fill="#86765c"/><ellipse cx="1088" cy="655" rx="11" ry="13" fill="#86765c"/><path class="s" d="M899 733C917 734 978 736 1005 740C1032 744 1049 752 1058 755" stroke="#86765c" stroke-width="28"/><ellipse cx="882" cy="713" rx="15" ry="9" fill="#86765c"/><ellipse cx="911" cy="738" rx="15" ry="9" fill="#86765c"/><ellipse cx="993" cy="753" rx="18" ry="11" fill="#86765c"/><ellipse cx="1003" cy="740" rx="11" ry="9" fill="#86765c"/><ellipse cx="1040" cy="737" rx="13" ry="9" fill="#86765c"/><ellipse cx="1078" cy="768" rx="18" ry="8" fill="#86765c"/><path class="s" d="M892 392C870 394 784 404 763 407" stroke="#86765c" stroke-width="31"/><ellipse cx="904" cy="402" rx="10" ry="14" fill="#86765c"/><ellipse cx="913" cy="398" rx="16" ry="9" fill="#86765c"/><ellipse cx="778" cy="389" rx="15" ry="13" fill="#86765c"/><ellipse cx="755" cy="405" rx="15" ry="8" fill="#86765c"/><path class="s" d="M876 506C857 512 782 538 763 544" stroke="#86765c" stroke-width="26"/><ellipse cx="889" cy="526" rx="11" ry="9" fill="#86765c"/><ellipse cx="856" cy="517" rx="18" ry="8" fill="#86765c"/><ellipse cx="775" cy="547" rx="12" ry="12" fill="#86765c"/><ellipse cx="762" cy="531" rx="12" ry="10" fill="#86765c"/><path class="s" d="M914 619C889 624 788 644 763 649" stroke="#86765c" stroke-width="25"/><ellipse cx="909" cy="627" rx="11" ry="11" fill="#86765c"/><ellipse cx="933" cy="616" rx="11" ry="13" fill="#86765c"/><ellipse cx="778" cy="632" rx="17" ry="13" fill="#86765c"/><ellipse cx="773" cy="669" rx="16" ry="12" fill="#86765c"/><path class="s" d="M899 733C874 737 773 751 748 755" stroke="#86765c" stroke-width="25"/><ellipse cx="917" cy="748" rx="13" ry="11" fill="#86765c"/><ellipse cx="908" cy="720" rx="13" ry="9" fill="#86765c"/><ellipse cx="764" cy="747" rx="11" ry="13" fill="#86765c"/><ellipse cx="759" cy="742" rx="10" ry="11" fill="#86765c"/><path class="s" d="M740 200C743 217 757 283 760 300" stroke="#86765c" stroke-width="31"/><ellipse cx="726" cy="199" rx="10" ry="10" fill="#86765c"/><ellipse cx="742" cy="211" rx="12" ry="10" fill="#86765c"/><ellipse cx="754" cy="279" rx="16" ry="13" fill="#86765c"/><ellipse cx="743" cy="296" rx="17" ry="13" fill="#86765c"/></g></g>
</svg>
</div>
<div class="ph" style="left:399px;top:775px;width:315px;height:236px;background:#b09a88"><svg viewBox="0 0 1270 951" preserveAspectRatio="none">
<defs><filter id="p6m" x="-30%" y="-30%" width="160%" height="160%"><feGaussianBlur stdDeviation="10"/></filter>
<filter id="p6s" x="-30%" y="-30%" width="160%" height="160%"><feGaussianBlur stdDeviation="4"/></filter>
<filter id="p6t" x="-30%" y="-30%" width="160%" height="160%"><feGaussianBlur stdDeviation="2.5"/></filter>
<filter id="p6c" x="-30%" y="-30%" width="160%" height="160%"><feGaussianBlur stdDeviation="6"/></filter>
</defs>
<rect width="1270" height="951" fill="#3e3028"/>
<g filter="url(#p6t)"><polygon points="-2,-38 12,-14 12,4 -10,27 -29,23 -44,6 -44,-24 -32,-47" fill="#c8b49c"/><polygon points="48,-28 18,-13 -4,-27 -14,-49 -1,-77 36,-77 48,-64" fill="#c8b49c"/><polygon points="161,-23 159,4 129,28 77,22 63,8 68,-31 88,-39 137,-45" fill="#a09080"/><polygon points="196,-5 131,-7 126,-57 169,-85 222,-65 231,-38" fill="#a09080"/><polygon points="210,8 188,-2 184,-33 207,-69 239,-64 251,-36 235,8" fill="#d8c8b0"/><polygon points="371,-18 370,11 352,21 324,21 301,-3 298,-19 326,-42 342,-42" fill="#c0a888"/><polygon points="360,-70 399,-47 412,-15 383,21 341,15 319,-8 325,-57" fill="#d8c8b0"/><polygon points="435,-8 410,-34 422,-52 439,-57 480,-54 490,-42 470,-11 457,0" fill="#b0a090"/><polygon points="510,-76 557,-46 550,-26 518,6 480,-2 475,-20 487,-61" fill="#c0a888"/><polygon points="575,-78 614,-90 636,-72 637,-42 626,-23 584,-23 563,-50" fill="#a09080"/><polygon points="591,-54 643,-64 661,-53 668,-5 658,7 617,20 587,8 584,-29" fill="#b8a088"/><polygon points="739,-52 766,-25 745,13 709,27 693,-9 700,-42" fill="#b8a088"/><polygon points="732,-53 746,-70 777,-80 806,-73 811,-33 801,-9 769,-5 730,-27" fill="#c0a888"/><polygon points="907,-3 864,18 829,11 809,-6 804,-28 843,-50 877,-46 904,-22" fill="#b0a090"/><polygon points="963,-56 979,-35 963,-13 936,-1 907,-25 913,-51" fill="#c0a888"/><polygon points="998,-47 1031,-29 1032,-6 1002,11 976,-6 980,-37" fill="#a09080"/><polygon points="1024,-55 1052,-68 1091,-59 1094,-30 1063,-10 1027,-18" fill="#c8b49c"/><polygon points="1131,-11 1077,-16 1039,-43 1083,-72 1150,-69 1167,-49" fill="#a09080"/><polygon points="1240,-51 1250,-19 1222,0 1189,9 1144,-12 1144,-39 1186,-64" fill="#988070"/><polygon points="1309,-34 1287,2 1252,-1 1231,-11 1235,-51 1254,-62 1294,-56" fill="#c0a888"/><polygon points="22,8 22,31 -23,41 -50,37 -64,-1 -56,-12 -15,-28 18,-11" fill="#b0a090"/><polygon points="102,39 96,60 70,69 38,61 34,41 39,11 63,10 88,10" fill="#988070"/><polygon points="133,9 163,-3 187,-2 199,25 186,63 154,65 140,62 126,30" fill="#b0a090"/><polygon points="264,2 281,24 274,50 250,61 207,61 176,31 189,0 230,-1" fill="#b8a088"/><polygon points="293,7 319,35 296,67 251,76 225,65 222,20 268,12" fill="#c8b49c"/><polygon points="342,21 356,12 393,34 392,59 376,75 341,69 325,52" fill="#b0a090"/><polygon points="430,-17 463,22 440,53 394,62 380,20 398,-12" fill="#a88c74"/><polygon points="511,55 472,61 452,43 433,17 445,-17 489,-28 522,-12 522,13" fill="#c0a888"/><polygon points="519,82 499,58 514,15 565,0 609,52 585,86" fill="#a09080"/><polygon points="591,-24 628,-10 628,25 596,50 551,33 560,-3" fill="#b0a090"/><polygon points="675,59 634,26 641,-1 680,-23 714,7 708,46" fill="#a88c74"/><polygon points="778,25 712,38 677,10 698,-12 750,-23 773,-12" fill="#988070"/><polygon points="769,71 780,30 812,21 866,35 866,60 827,80" fill="#b0a090"/><polygon points="824,46 844,-9 895,-6 920,24 903,58 863,64" fill="#d0c0a8"/><polygon points="945,-20 985,4 993,43 966,67 931,71 911,49 915,3" fill="#d8c8b0"/><polygon points="1001,5 1036,7 1051,33 1048,55 992,68 981,55 962,26 974,11" fill="#c8b49c"/><polygon points="1107,60 1077,55 1069,31 1092,1 1112,-11 1150,1 1162,29 1161,46" fill="#c8b49c"/><polygon points="1190,-12 1218,7 1211,26 1187,48 1145,38 1117,20 1135,-3" fill="#d0c0a8"/><polygon points="1179,79 1171,50 1177,21 1204,11 1228,28 1241,61 1233,71 1195,79" fill="#c0a888"/><polygon points="1261,12 1307,10 1341,29 1332,56 1270,65 1237,49" fill="#988070"/><polygon points="-39,142 -71,134 -82,96 -58,67 -12,75 0,122" fill="#c8b49c"/><polygon points="82,128 43,130 15,112 20,93 61,81 102,86 104,108" fill="#d8c8b0"/><polygon points="86,77 110,65 139,75 157,95 151,119 119,150 94,142 82,116" fill="#a88c74"/><polygon points="170,111 157,110 136,71 142,60 174,45 198,55 217,73 199,109" fill="#988070"/><polygon points="156,81 170,50 215,32 269,56 269,89 203,107" fill="#b8a088"/><polygon points="257,97 277,77 310,79 330,106 323,133 283,147 268,141" fill="#a88c74"/><polygon points="377,138 340,129 330,96 336,72 393,70 408,86 414,115" fill="#d0c0a8"/><polygon points="505,91 491,113 442,123 414,96 405,78 425,35 473,37 492,47" fill="#b8a088"/><polygon points="497,138 457,117 456,79 508,71 557,89 552,122" fill="#a88c74"/><polygon points="534,88 553,49 588,48 611,82 585,117 555,126" fill="#d8c8b0"/><polygon points="617,131 582,113 589,81 635,60 674,79 692,114 665,132" fill="#b0a090"/><polygon points="677,74 702,48 733,51 747,62 751,97 710,113 674,96" fill="#a09080"/><polygon points="773,102 774,78 806,58 844,66 857,89 812,114" fill="#c0a888"/><polygon points="913,122 852,139 823,98 842,68 892,63 925,94" fill="#d0c0a8"/><polygon points="975,95 989,118 957,135 901,132 876,93 926,83" fill="#c8b49c"/><polygon points="1010,134 969,131 956,95 989,68 1024,62 1035,79 1034,114" fill="#b0a090"/><polygon points="1037,50 1072,33 1110,34 1121,61 1099,95 1069,99 1043,87" fill="#988070"/><polygon points="1123,71 1146,70 1162,106 1140,140 1101,139 1090,85" fill="#b0a090"/><polygon points="1158,88 1174,79 1212,80 1233,109 1225,141 1210,150 1161,139 1142,127" fill="#d0c0a8"/><polygon points="1284,115 1248,104 1223,73 1239,50 1281,25 1321,40 1320,72 1307,99" fill="#d8c8b0"/><polygon points="22,162 -7,174 -34,171 -49,145 -24,117 8,125" fill="#b0a090"/><polygon points="46,94 78,93 113,115 90,151 69,165 40,159 34,118" fill="#988070"/><polygon points="145,170 84,156 82,111 127,99 174,112 195,149" fill="#a88c74"/><polygon points="190,140 219,128 251,138 266,169 250,191 216,196 195,182 169,158" fill="#d8c8b0"/><polygon points="322,189 292,212 259,196 248,151 280,124 309,129" fill="#d8c8b0"/><polygon points="371,139 387,152 348,185 302,184 286,172 286,139 335,117" fill="#a09080"/><polygon points="378,119 407,112 437,119 443,136 429,162 391,163 380,150" fill="#d0c0a8"/><polygon points="448,140 449,111 469,97 505,100 523,121 521,147 489,163 471,170" fill="#b8a088"/><polygon points="565,190 534,195 490,183 462,163 494,137 543,129 563,135 590,157" fill="#b0a090"/><polygon points="576,153 564,132 574,110 604,96 632,116 636,141 613,160" fill="#a09080"/><polygon points="735,126 722,171 677,171 663,146 678,99 703,97" fill="#d8c8b0"/><polygon points="769,211 738,192 725,157 783,136 812,154 818,192" fill="#988070"/><polygon points="800,139 825,161 826,188 794,195 767,183 769,156" fill="#d8c8b0"/><polygon points="873,106 907,96 928,127 934,151 922,167 885,170 854,150 854,133" fill="#c0a888"/><polygon points="1024,134 995,160 971,156 938,139 945,103 987,90 1007,102" fill="#c8b49c"/><polygon points="1027,191 995,152 1009,122 1047,100 1085,126 1080,175" fill="#d0c0a8"/><polygon points="1158,176 1108,192 1067,175 1068,133 1114,108 1162,120" fill="#a09080"/><polygon points="1147,91 1182,115 1175,151 1141,159 1107,143 1115,101" fill="#d8c8b0"/><polygon points="1140,147 1170,123 1218,112 1259,135 1251,163 1223,182 1165,173" fill="#d8c8b0"/><polygon points="1299,175 1284,137 1284,113 1314,97 1348,106 1367,122 1357,158 1332,171" fill="#b8a088"/><polygon points="-16,267 -66,246 -56,207 -29,188 18,207 24,232" fill="#b8a088"/><polygon points="20,201 60,180 97,181 109,210 100,232 57,257 31,230" fill="#b8a088"/><polygon points="123,271 97,267 71,243 92,197 114,193 149,214 161,244" fill="#d8c8b0"/><polygon points="144,232 117,222 108,194 154,172 172,183 178,220" fill="#c8b49c"/><polygon points="244,197 282,214 285,253 245,265 218,253 211,216" fill="#d8c8b0"/><polygon points="300,245 270,235 262,194 274,167 320,158 341,190 338,226" fill="#d0c0a8"/><polygon points="332,185 374,185 388,220 376,248 345,251 321,217" fill="#d0c0a8"/><polygon points="595,233 568,232 539,202 543,185 578,165 605,170 616,209" fill="#c8b49c"/><polygon points="640,226 612,200 611,183 650,164 677,163 698,189 698,218 660,222" fill="#b8a088"/><polygon points="736,233 692,230 678,218 672,196 709,167 727,166 763,192 764,209" fill="#b8a088"/><polygon points="850,210 836,249 794,248 771,229 773,198 786,180 821,174 843,178" fill="#b8a088"/><polygon points="902,236 854,251 818,243 791,223 809,184 865,175 891,193" fill="#a88c74"/><polygon points="902,198 923,182 966,186 985,208 954,232 922,228" fill="#b0a090"/><polygon points="965,190 1010,184 1025,202 1026,230 997,249 965,237 947,200" fill="#988070"/><polygon points="1078,184 1097,210 1053,234 1010,230 990,200 1037,177" fill="#d0c0a8"/><polygon points="1108,227 1086,196 1095,174 1118,137 1154,140 1171,165 1166,202 1134,233" fill="#d0c0a8"/><polygon points="1209,253 1171,250 1160,211 1190,191 1236,191 1255,209 1246,241" fill="#a09080"/><polygon points="1315,214 1295,240 1249,239 1238,217 1251,186 1288,185" fill="#c8b49c"/><polygon points="56,267 62,280 40,302 5,307 -15,287 -25,264 -1,243 40,246" fill="#d0c0a8"/><polygon points="88,283 45,292 23,277 29,239 53,234 89,235 96,268" fill="#d8c8b0"/><polygon points="156,301 129,316 99,315 66,274 87,250 103,240 148,242 163,258" fill="#988070"/><polygon points="240,272 204,300 151,283 143,230 185,217 229,237" fill="#b0a090"/><polygon points="298,220 319,225 334,246 326,282 309,300 261,279 253,260 251,235" fill="#d8c8b0"/><polygon points="1017,313 998,295 1011,274 1039,261 1060,261 1078,284 1072,314 1048,324" fill="#a09080"/><polygon points="1115,215 1134,225 1144,259 1136,282 1114,286 1082,270 1073,254 1094,222" fill="#d8c8b0"/><polygon points="1114,260 1137,233 1179,247 1182,294 1151,317 1107,291" fill="#b8a088"/><polygon points="1265,253 1270,282 1265,297 1233,296 1215,289 1200,255 1215,240 1239,241" fill="#d8c8b0"/><polygon points="1339,240 1361,286 1326,319 1272,315 1254,264 1289,239" fill="#c8b49c"/><polygon points="-45,303 -2,318 2,342 -17,362 -52,366 -83,359 -96,335 -88,311" fill="#b8a088"/><polygon points="79,327 63,344 46,353 6,356 -14,341 -4,309 12,299 45,299" fill="#988070"/><polygon points="135,375 94,373 42,353 58,295 119,298 151,318" fill="#d0c0a8"/><polygon points="149,284 183,275 200,282 207,314 198,332 165,340 149,314" fill="#988070"/><polygon points="254,288 278,321 245,348 221,342 197,320 216,288" fill="#d8c8b0"/><polygon points="1178,298 1180,350 1155,361 1109,342 1106,303 1144,288" fill="#d0c0a8"/><polygon points="1153,354 1127,330 1167,302 1199,294 1230,328 1227,350 1191,364" fill="#d8c8b0"/><polygon points="1281,360 1240,374 1191,332 1189,303 1253,275 1280,308" fill="#d0c0a8"/><polygon points="10,415 -26,395 -16,362 47,349 91,374 72,411" fill="#d8c8b0"/><polygon points="15,373 43,351 97,360 111,384 101,424 63,439 28,427 7,408" fill="#a09080"/><polygon points="147,364 163,387 143,420 110,426 82,412 75,390 96,351 131,346" fill="#b8a088"/><polygon points="1130,393 1161,375 1205,380 1226,398 1217,427 1174,433 1141,424" fill="#d0c0a8"/><polygon points="1229,337 1254,334 1291,355 1293,388 1256,415 1236,415 1212,393 1210,359" fill="#a88c74"/><polygon points="1244,378 1273,355 1300,354 1338,377 1343,407 1320,421 1276,428 1242,398" fill="#b0a090"/><polygon points="2,438 5,466 -7,481 -40,497 -68,472 -67,437 -39,428" fill="#a09080"/><polygon points="62,396 99,418 99,448 78,469 45,467 26,436 39,403" fill="#d0c0a8"/><polygon points="85,417 122,403 149,410 175,434 152,463 116,469 86,448" fill="#c0a888"/><polygon points="1244,434 1261,460 1236,486 1178,483 1165,452 1190,427" fill="#a09080"/><polygon points="1273,464 1242,467 1207,446 1206,403 1248,394 1282,398 1302,431" fill="#a09080"/><polygon points="8,465 41,495 33,545 0,557 -33,555 -50,535 -39,498 -13,471" fill="#a88c74"/><polygon points="87,465 110,483 107,521 75,540 30,517 45,464" fill="#d0c0a8"/><polygon points="1171,510 1138,525 1106,489 1133,454 1168,453 1194,491" fill="#c8b49c"/><polygon points="1203,548 1186,512 1223,493 1262,501 1281,510 1290,538 1264,558 1209,561" fill="#d8c8b0"/><polygon points="1364,513 1352,545 1317,573 1262,554 1257,509 1310,489" fill="#d0c0a8"/><polygon points="-2,555 -27,588 -67,582 -73,535 -44,501 -12,515" fill="#988070"/><polygon points="3,587 35,559 69,571 79,595 64,609 26,612" fill="#d8c8b0"/><polygon points="84,550 137,544 172,582 116,627 72,618 42,581" fill="#c0a888"/><polygon points="1195,537 1186,565 1154,583 1119,584 1097,565 1084,542 1108,516 1171,514" fill="#b0a090"/><polygon points="1210,569 1204,598 1179,611 1143,604 1133,575 1159,547 1196,547" fill="#c0a888"/><polygon points="1222,533 1251,534 1287,544 1296,583 1282,599 1231,600 1208,593 1199,569" fill="#b0a090"/><polygon points="37,580 67,605 61,644 6,660 -28,654 -49,631 -26,594 -1,576" fill="#d8c8b0"/><polygon points="44,667 33,634 61,616 104,618 122,633 118,671 69,681" fill="#c8b49c"/><polygon points="102,635 86,613 102,587 155,580 178,593 185,625 137,636" fill="#d0c0a8"/><polygon points="1060,644 1085,617 1123,627 1158,648 1147,669 1086,683 1063,661" fill="#a09080"/><polygon points="1133,613 1168,605 1191,627 1187,670 1150,692 1126,664" fill="#a88c74"/><polygon points="1214,574 1254,578 1268,589 1281,617 1263,642 1217,650 1194,644 1181,617" fill="#d0c0a8"/><polygon points="1276,617 1294,601 1311,604 1328,617 1330,644 1311,667 1290,665 1273,644" fill="#988070"/><polygon points="-30,716 -95,719 -106,691 -70,658 -39,663 -2,695" fill="#d0c0a8"/><polygon points="28,708 -12,690 -5,659 14,638 66,643 72,675 66,701" fill="#d8c8b0"/><polygon points="140,686 126,722 87,732 61,708 66,681 112,664" fill="#d0c0a8"/><polygon points="172,723 151,709 134,672 140,650 178,636 207,646 224,680 206,705" fill="#d8c8b0"/><polygon points="270,685 278,722 259,732 227,741 200,726 199,701 211,687 242,674" fill="#b8a088"/><polygon points="1100,689 1087,715 1053,729 1005,710 997,696 1021,670 1049,665 1090,675" fill="#b0a090"/><polygon points="1069,672 1100,660 1147,651 1184,669 1169,714 1132,726 1099,712" fill="#c0a888"/><polygon points="1201,650 1192,697 1174,707 1134,701 1132,661 1152,624 1184,629" fill="#a88c74"/><polygon points="1233,691 1256,675 1283,677 1311,706 1302,717 1271,742 1243,735 1225,714" fill="#b0a090"/><polygon points="0,721 18,750 12,770 4,784 -22,784 -42,756 -38,728 -20,723" fill="#b8a088"/><polygon points="85,778 49,761 36,743 54,712 73,700 109,716 112,740 110,756" fill="#d0c0a8"/><polygon points="124,734 135,697 180,700 186,724 177,763 141,757" fill="#a88c74"/><polygon points="273,754 255,776 220,782 203,766 211,727 241,724" fill="#b8a088"/><polygon points="315,728 307,755 260,765 232,752 240,718 265,706" fill="#a09080"/><polygon points="373,795 342,811 304,809 281,790 289,745 318,725 341,721 370,758" fill="#a88c74"/><polygon points="853,782 843,756 872,741 921,748 948,770 922,795 874,803" fill="#a88c74"/><polygon points="955,746 963,717 1018,700 1057,715 1064,746 1036,765 990,771" fill="#a09080"/><polygon points="1121,759 1086,767 1045,746 1040,723 1094,701 1129,731" fill="#a09080"/><polygon points="1197,763 1148,774 1106,736 1145,710 1196,710 1214,742" fill="#a88c74"/><polygon points="1277,728 1296,748 1268,773 1230,773 1214,746 1233,727" fill="#d8c8b0"/><polygon points="1326,682 1355,709 1339,750 1316,764 1283,762 1271,730 1292,693" fill="#988070"/><polygon points="-16,794 -5,800 25,821 -1,841 -40,845 -71,838 -84,826 -54,797" fill="#988070"/><polygon points="85,833 66,854 26,855 -6,833 -5,807 33,788 73,791" fill="#b8a088"/><polygon points="68,820 76,795 122,777 154,803 157,824 139,857 94,851" fill="#d0c0a8"/><polygon points="227,807 211,839 171,855 133,833 132,790 182,775" fill="#a88c74"/><polygon points="208,798 246,797 266,819 255,853 216,861 193,822" fill="#d0c0a8"/><polygon points="337,779 358,789 381,818 365,847 336,857 293,843 271,821 303,790" fill="#b8a088"/><polygon points="417,794 447,799 452,841 435,858 398,858 351,848 342,819 369,794" fill="#c0a888"/><polygon points="418,785 483,800 480,837 470,865 417,869 390,846 384,817" fill="#a09080"/><polygon points="563,835 520,831 508,786 537,765 596,778 609,805" fill="#b0a090"/><polygon points="676,845 628,850 609,819 622,792 638,784 684,792 695,828" fill="#b0a090"/><polygon points="724,779 756,793 760,820 732,850 682,843 661,814 678,797" fill="#c8b49c"/><polygon points="797,822 788,848 737,859 720,833 726,787 783,790" fill="#988070"/><polygon points="819,823 807,804 826,781 861,779 905,793 896,817 870,831 848,833" fill="#d0c0a8"/><polygon points="933,769 965,794 976,834 950,849 897,853 855,829 862,792 902,771" fill="#a88c74"/><polygon points="1032,839 948,815 968,775 1015,758 1062,772 1063,816" fill="#a88c74"/><polygon points="1043,801 1100,806 1106,822 1096,845 1043,857 1009,836 1005,819" fill="#b8a088"/><polygon points="1053,789 1114,767 1161,800 1155,840 1078,853 1047,829" fill="#a09080"/><polygon points="1175,770 1208,786 1210,803 1184,826 1157,824 1144,804 1160,779" fill="#a88c74"/><polygon points="1294,783 1337,807 1334,828 1299,847 1247,834 1242,802 1259,786" fill="#a09080"/><polygon points="-45,860 7,843 46,882 23,917 -21,918 -45,889" fill="#b8a088"/><polygon points="95,919 40,902 32,876 64,846 110,851 128,897" fill="#d0c0a8"/><polygon points="103,884 98,865 111,844 154,845 164,855 170,881 135,895" fill="#d0c0a8"/><polygon points="170,915 158,876 177,856 238,871 240,909 217,922" fill="#c8b49c"/><polygon points="223,858 268,840 317,848 338,871 294,902 248,888" fill="#c0a888"/><polygon points="345,924 308,905 296,869 324,845 346,846 385,861 387,897 367,917" fill="#b8a088"/><polygon points="462,864 466,895 441,919 423,922 400,887 406,861 444,841" fill="#b0a090"/><polygon points="500,910 477,905 448,882 456,846 487,823 530,843 540,872" fill="#988070"/><polygon points="534,893 548,860 582,849 610,877 606,902 560,914" fill="#d0c0a8"/><polygon points="549,859 553,832 582,814 609,822 624,844 623,876 597,897 572,886" fill="#b0a090"/><polygon points="620,880 616,835 662,812 709,826 717,858 703,890 667,894" fill="#a88c74"/><polygon points="765,861 800,885 807,909 779,921 749,923 733,915 726,885 751,859" fill="#d0c0a8"/><polygon points="780,849 816,824 850,825 873,847 885,874 852,903 803,890" fill="#d0c0a8"/><polygon points="915,808 948,833 940,869 902,893 868,866 860,825" fill="#b0a090"/><polygon points="924,873 916,848 941,836 974,841 1006,859 994,881 972,895 945,889" fill="#c0a888"/><polygon points="964,877 960,853 990,834 1067,837 1085,859 1068,891 999,902" fill="#b0a090"/><polygon points="1129,878 1095,892 1069,874 1070,846 1096,831 1128,853" fill="#d8c8b0"/><polygon points="1224,881 1164,915 1117,892 1124,839 1178,816 1218,831" fill="#c8b49c"/><polygon points="1250,898 1224,906 1186,899 1155,868 1163,841 1202,826 1228,827 1269,861" fill="#d0c0a8"/><polygon points="1309,839 1354,852 1347,873 1313,907 1260,900 1235,878 1252,837" fill="#b8a088"/><polygon points="-82,906 -66,895 -18,895 1,905 13,925 -8,942 -38,946 -77,929" fill="#c8b49c"/><polygon points="25,967 21,930 51,909 86,923 91,966 53,994" fill="#c0a888"/><polygon points="155,929 142,941 116,959 92,963 64,943 61,918 93,906 117,910" fill="#a09080"/><polygon points="214,968 159,979 140,963 125,935 156,908 200,890 237,914 230,949" fill="#a88c74"/><polygon points="317,963 303,976 272,998 214,979 212,964 215,929 240,907 284,913" fill="#b0a090"/><polygon points="338,911 342,929 336,961 293,968 272,971 253,928 270,914 313,901" fill="#d8c8b0"/><polygon points="325,944 301,905 350,874 387,872 426,918 377,959" fill="#b8a088"/><polygon points="432,945 443,911 462,898 500,907 519,939 484,971 450,964" fill="#a88c74"/><polygon points="560,933 551,960 530,983 502,970 482,941 496,915 529,909" fill="#d8c8b0"/><polygon points="518,927 529,886 565,885 599,912 577,952 540,948" fill="#988070"/><polygon points="657,900 684,917 706,947 680,962 641,968 596,953 573,939 615,901" fill="#d0c0a8"/><polygon points="746,901 739,927 681,939 649,929 648,894 695,881" fill="#c0a888"/><polygon points="754,935 749,910 767,882 813,873 851,903 854,924 827,945 796,953" fill="#a88c74"/><polygon points="884,883 895,908 890,937 845,947 811,932 793,907 821,887" fill="#c0a888"/><polygon points="951,926 909,941 860,940 855,926 848,907 872,885 927,891 942,900" fill="#b0a090"/><polygon points="1027,936 996,947 953,932 957,888 983,878 1030,903" fill="#a88c74"/><polygon points="1100,895 1079,931 1037,948 1004,921 996,907 1023,875 1069,881" fill="#d8c8b0"/><polygon points="1131,908 1168,918 1176,941 1147,988 1106,976 1089,961 1093,919" fill="#d0c0a8"/><polygon points="1222,944 1174,936 1148,919 1161,886 1197,874 1224,881 1265,895 1247,931" fill="#b8a088"/><polygon points="1207,904 1255,909 1296,918 1297,954 1265,974 1243,980 1198,973 1185,942" fill="#a88c74"/><polygon points="15,940 38,971 38,988 14,1017 -29,1014 -46,984 -38,945" fill="#b0a090"/><polygon points="71,977 112,975 125,1018 108,1051 67,1047 49,1005" fill="#c0a888"/><polygon points="159,1020 96,1029 70,1009 83,971 122,966 159,984" fill="#a88c74"/><polygon points="145,1000 157,974 176,960 232,970 232,995 208,1023 169,1023" fill="#b0a090"/><polygon points="231,1008 264,965 283,964 318,984 322,1027 305,1055 261,1059 239,1024" fill="#d0c0a8"/><polygon points="342,939 357,974 341,995 293,999 284,976 308,943" fill="#b8a088"/><polygon points="442,1026 383,1021 370,988 417,968 445,967 469,1001" fill="#b8a088"/><polygon points="428,998 422,965 457,936 500,936 526,959 507,1000 464,1007" fill="#c0a888"/><polygon points="496,955 558,937 579,970 562,1000 537,1009 497,986" fill="#b0a090"/><polygon points="582,934 607,940 637,970 616,1015 581,1015 564,976" fill="#c8b49c"/><polygon points="628,1011 655,977 705,969 720,994 706,1046 669,1051" fill="#a88c74"/><polygon points="764,967 773,984 778,1007 758,1036 712,1035 689,1012 680,977 711,970" fill="#c0a888"/><polygon points="810,951 846,966 865,997 824,1022 787,1023 761,996 769,962" fill="#c0a888"/><polygon points="847,1032 812,1008 819,986 862,962 920,975 930,1002 912,1030" fill="#b0a090"/><polygon points="898,1017 886,992 900,970 955,966 970,998 955,1028" fill="#a09080"/><polygon points="970,1010 959,967 992,946 1016,932 1068,944 1077,980 1059,1016 1033,1019" fill="#988070"/><polygon points="1059,943 1116,944 1130,965 1102,1004 1059,1011 1028,976" fill="#d8c8b0"/><polygon points="1184,1032 1154,1057 1127,1041 1105,1006 1136,977 1180,976" fill="#c8b49c"/><polygon points="1249,954 1253,975 1231,1001 1193,1004 1167,994 1140,976 1158,950 1204,947" fill="#b8a088"/><polygon points="1275,971 1304,945 1340,955 1348,988 1345,1010 1291,1032 1271,1005" fill="#a09080"/><g fill="#f8f0e8" opacity="0.35"><ellipse cx="-26" cy="-20" rx="13" ry="10"/><ellipse cx="10" cy="-59" rx="14" ry="10"/><ellipse cx="99" cy="-20" rx="21" ry="10"/><ellipse cx="161" cy="-55" rx="24" ry="12"/><ellipse cx="207" cy="-40" rx="14" ry="11"/><ellipse cx="325" cy="-18" rx="16" ry="9"/><ellipse cx="352" cy="-33" rx="22" ry="12"/><ellipse cx="443" cy="-39" rx="14" ry="8"/><ellipse cx="501" cy="-42" rx="17" ry="10"/><ellipse cx="596" cy="-63" rx="15" ry="10"/><ellipse cx="614" cy="-32" rx="18" ry="11"/><ellipse cx="718" cy="-23" rx="15" ry="10"/><ellipse cx="760" cy="-53" rx="19" ry="11"/><ellipse cx="844" cy="-23" rx="19" ry="9"/><ellipse cx="935" cy="-40" rx="15" ry="7"/><ellipse cx="994" cy="-27" rx="14" ry="8"/><ellipse cx="1050" cy="-46" rx="15" ry="8"/><ellipse cx="1092" cy="-52" rx="24" ry="8"/><ellipse cx="1181" cy="-37" rx="23" ry="9"/><ellipse cx="1257" cy="-40" rx="17" ry="8"/><ellipse cx="-29" cy="-2" rx="19" ry="10"/><ellipse cx="60" cy="29" rx="15" ry="8"/><ellipse cx="155" cy="19" rx="15" ry="10"/><ellipse cx="219" cy="18" rx="21" ry="9"/><ellipse cx="256" cy="33" rx="21" ry="9"/><ellipse cx="350" cy="36" rx="14" ry="8"/><ellipse cx="409" cy="12" rx="16" ry="11"/><ellipse cx="470" cy="3" rx="19" ry="12"/><ellipse cx="542" cy="34" rx="21" ry="11"/><ellipse cx="584" cy="0" rx="18" ry="10"/><ellipse cx="666" cy="8" rx="17" ry="11"/><ellipse cx="722" cy="-3" rx="20" ry="10"/><ellipse cx="805" cy="41" rx="22" ry="8"/><ellipse cx="861" cy="16" rx="21" ry="11"/><ellipse cx="940" cy="17" rx="16" ry="13"/><ellipse cx="995" cy="26" rx="19" ry="8"/><ellipse cx="1104" cy="17" rx="21" ry="9"/><ellipse cx="1159" cy="9" rx="19" ry="8"/><ellipse cx="1195" cy="38" rx="15" ry="9"/><ellipse cx="1276" cy="26" rx="19" ry="9"/><ellipse cx="-49" cy="95" rx="15" ry="10"/><ellipse cx="50" cy="99" rx="20" ry="7"/><ellipse cx="107" cy="94" rx="17" ry="11"/><ellipse cx="167" cy="69" rx="16" ry="10"/><ellipse cx="201" cy="61" rx="25" ry="10"/><ellipse cx="283" cy="101" rx="15" ry="11"/><ellipse cx="361" cy="91" rx="19" ry="10"/><ellipse cx="445" cy="64" rx="19" ry="12"/><ellipse cx="488" cy="91" rx="24" ry="9"/><ellipse cx="560" cy="76" rx="15" ry="10"/><ellipse cx="621" cy="88" rx="23" ry="9"/><ellipse cx="704" cy="66" rx="16" ry="9"/><ellipse cx="800" cy="78" rx="18" ry="8"/><ellipse cx="860" cy="84" rx="23" ry="11"/><ellipse cx="919" cy="101" rx="22" ry="8"/><ellipse cx="990" cy="89" rx="16" ry="10"/><ellipse cx="1067" cy="56" rx="18" ry="10"/><ellipse cx="1116" cy="94" rx="15" ry="11"/><ellipse cx="1180" cy="100" rx="18" ry="10"/><ellipse cx="1266" cy="58" rx="19" ry="12"/><ellipse cx="-21" cy="140" rx="15" ry="8"/><ellipse cx="59" cy="116" rx="16" ry="10"/><ellipse cx="122" cy="124" rx="23" ry="10"/><ellipse cx="213" cy="153" rx="19" ry="8"/><ellipse cx="278" cy="158" rx="16" ry="11"/><ellipse cx="318" cy="144" rx="22" ry="10"/><ellipse cx="400" cy="129" rx="14" ry="7"/><ellipse cx="475" cy="117" rx="17" ry="10"/><ellipse cx="514" cy="153" rx="24" ry="9"/><ellipse cx="591" cy="122" rx="15" ry="8"/><ellipse cx="687" cy="122" rx="16" ry="11"/><ellipse cx="766" cy="163" rx="20" ry="10"/><ellipse cx="790" cy="162" rx="13" ry="7"/><ellipse cx="886" cy="125" rx="16" ry="10"/><ellipse cx="971" cy="117" rx="18" ry="9"/><ellipse cx="1030" cy="132" rx="19" ry="12"/><ellipse cx="1103" cy="138" rx="22" ry="10"/><ellipse cx="1135" cy="116" rx="17" ry="9"/><ellipse cx="1186" cy="140" rx="25" ry="10"/><ellipse cx="1311" cy="122" rx="18" ry="11"/><ellipse cx="-29" cy="217" rx="20" ry="9"/><ellipse cx="55" cy="202" rx="18" ry="10"/><ellipse cx="104" cy="216" rx="18" ry="11"/><ellipse cx="139" cy="194" rx="15" ry="8"/><ellipse cx="241" cy="222" rx="17" ry="8"/><ellipse cx="290" cy="188" rx="16" ry="11"/><ellipse cx="349" cy="206" rx="14" ry="10"/><ellipse cx="572" cy="190" rx="16" ry="10"/><ellipse cx="646" cy="185" rx="20" ry="8"/><ellipse cx="706" cy="191" rx="20" ry="10"/><ellipse cx="799" cy="200" rx="18" ry="11"/><ellipse cx="839" cy="200" rx="22" ry="11"/><ellipse cx="933" cy="197" rx="16" ry="7"/><ellipse cx="979" cy="202" rx="18" ry="9"/><ellipse cx="1033" cy="198" rx="21" ry="7"/><ellipse cx="1121" cy="173" rx="18" ry="13"/><ellipse cx="1198" cy="211" rx="20" ry="10"/><ellipse cx="1263" cy="206" rx="16" ry="9"/><ellipse cx="8" cy="262" rx="17" ry="9"/><ellipse cx="54" cy="253" rx="15" ry="9"/><ellipse cx="108" cy="263" rx="20" ry="10"/><ellipse cx="176" cy="245" rx="21" ry="12"/><ellipse cx="284" cy="244" rx="19" ry="11"/><ellipse cx="1032" cy="283" rx="16" ry="8"/><ellipse cx="1103" cy="243" rx="14" ry="9"/><ellipse cx="1141" cy="263" rx="17" ry="10"/><ellipse cx="1229" cy="261" rx="15" ry="8"/><ellipse cx="1296" cy="265" rx="20" ry="11"/><ellipse cx="-61" cy="325" rx="20" ry="9"/><ellipse cx="17" cy="321" rx="18" ry="8"/><ellipse cx="88" cy="322" rx="25" ry="12"/><ellipse cx="171" cy="298" rx="13" ry="10"/><ellipse cx="228" cy="309" rx="15" ry="8"/><ellipse cx="1135" cy="314" rx="18" ry="10"/><ellipse cx="1169" cy="321" rx="20" ry="9"/><ellipse cx="1230" cy="310" rx="20" ry="12"/><ellipse cx="17" cy="373" rx="23" ry="9"/><ellipse cx="49" cy="380" rx="20" ry="12"/><ellipse cx="111" cy="377" rx="16" ry="11"/><ellipse cx="1166" cy="397" rx="19" ry="8"/><ellipse cx="1238" cy="362" rx="17" ry="12"/><ellipse cx="1282" cy="379" rx="19" ry="10"/><ellipse cx="-43" cy="451" rx="17" ry="9"/><ellipse cx="53" cy="422" rx="17" ry="9"/><ellipse cx="117" cy="427" rx="19" ry="9"/><ellipse cx="1197" cy="450" rx="19" ry="8"/><ellipse cx="1237" cy="417" rx="21" ry="10"/><ellipse cx="-14" cy="501" rx="18" ry="12"/><ellipse cx="65" cy="489" rx="18" ry="11"/><ellipse cx="1141" cy="477" rx="16" ry="9"/><ellipse cx="1226" cy="518" rx="20" ry="9"/><ellipse cx="1293" cy="518" rx="22" ry="11"/><ellipse cx="-50" cy="537" rx="15" ry="11"/><ellipse cx="34" cy="579" rx="16" ry="7"/><ellipse cx="90" cy="574" rx="25" ry="12"/><ellipse cx="1126" cy="537" rx="22" ry="10"/><ellipse cx="1161" cy="571" rx="18" ry="9"/><ellipse cx="1234" cy="560" rx="21" ry="10"/><ellipse cx="-3" cy="606" rx="23" ry="11"/><ellipse cx="67" cy="634" rx="20" ry="9"/><ellipse cx="125" cy="599" rx="20" ry="8"/><ellipse cx="1093" cy="642" rx="21" ry="8"/><ellipse cx="1148" cy="632" rx="14" ry="11"/><ellipse cx="1221" cy="606" rx="19" ry="11"/><ellipse cx="1293" cy="627" rx="13" ry="8"/><ellipse cx="-66" cy="681" rx="20" ry="9"/><ellipse cx="21" cy="662" rx="19" ry="9"/><ellipse cx="89" cy="689" rx="18" ry="10"/><ellipse cx="165" cy="663" rx="20" ry="12"/><ellipse cx="226" cy="701" rx="16" ry="9"/><ellipse cx="1034" cy="685" rx="21" ry="8"/><ellipse cx="1116" cy="676" rx="24" ry="9"/><ellipse cx="1159" cy="657" rx="15" ry="11"/><ellipse cx="1256" cy="698" rx="17" ry="8"/><ellipse cx="-19" cy="741" rx="13" ry="9"/><ellipse cx="69" cy="726" rx="15" ry="10"/><ellipse cx="147" cy="718" rx="14" ry="9"/><ellipse cx="223" cy="747" rx="15" ry="8"/><ellipse cx="261" cy="728" rx="17" ry="8"/><ellipse cx="313" cy="757" rx="21" ry="12"/><ellipse cx="883" cy="763" rx="20" ry="9"/><ellipse cx="998" cy="727" rx="23" ry="10"/><ellipse cx="1075" cy="729" rx="19" ry="9"/><ellipse cx="1151" cy="729" rx="22" ry="10"/><ellipse cx="1244" cy="742" rx="17" ry="7"/><ellipse cx="1301" cy="715" rx="17" ry="11"/><ellipse cx="-42" cy="813" rx="20" ry="7"/><ellipse cx="24" cy="809" rx="20" ry="9"/><ellipse cx="103" cy="810" rx="20" ry="10"/><ellipse cx="162" cy="804" rx="21" ry="12"/><ellipse cx="219" cy="816" rx="16" ry="9"/><ellipse cx="318" cy="808" rx="22" ry="9"/><ellipse cx="388" cy="816" rx="22" ry="9"/><ellipse cx="422" cy="819" rx="22" ry="11"/><ellipse cx="547" cy="791" rx="23" ry="9"/><ellipse cx="639" cy="807" rx="17" ry="10"/><ellipse cx="705" cy="805" rx="21" ry="10"/><ellipse cx="752" cy="809" rx="17" ry="12"/><ellipse cx="844" cy="798" rx="20" ry="7"/><ellipse cx="904" cy="800" rx="25" ry="11"/><ellipse cx="999" cy="784" rx="25" ry="12"/><ellipse cx="1045" cy="819" rx="23" ry="8"/><ellipse cx="1088" cy="801" rx="24" ry="12"/><ellipse cx="1167" cy="792" rx="14" ry="8"/><ellipse cx="1275" cy="802" rx="20" ry="8"/><ellipse cx="-13" cy="875" rx="21" ry="10"/><ellipse cx="66" cy="873" rx="21" ry="10"/><ellipse cx="125" cy="859" rx="16" ry="8"/><ellipse cx="187" cy="882" rx="19" ry="10"/><ellipse cx="269" cy="858" rx="21" ry="8"/><ellipse cx="333" cy="874" rx="18" ry="11"/><ellipse cx="426" cy="870" rx="14" ry="10"/><ellipse cx="481" cy="858" rx="20" ry="11"/><ellipse cx="563" cy="874" rx="17" ry="8"/><ellipse cx="580" cy="841" rx="17" ry="11"/><ellipse cx="658" cy="843" rx="21" ry="10"/><ellipse cx="753" cy="884" rx="17" ry="9"/><ellipse cx="821" cy="849" rx="20" ry="11"/><ellipse cx="894" cy="837" rx="20" ry="11"/><ellipse cx="948" cy="856" rx="17" ry="8"/><ellipse cx="1006" cy="855" rx="26" ry="10"/><ellipse cx="1090" cy="853" rx="13" ry="7"/><ellipse cx="1154" cy="851" rx="23" ry="12"/><ellipse cx="1195" cy="856" rx="23" ry="11"/><ellipse cx="1281" cy="858" rx="24" ry="9"/><ellipse cx="-43" cy="909" rx="19" ry="7"/><ellipse cx="47" cy="939" rx="15" ry="11"/><ellipse cx="93" cy="926" rx="18" ry="8"/><ellipse cx="171" cy="925" rx="21" ry="11"/><ellipse cx="244" cy="940" rx="22" ry="12"/><ellipse cx="291" cy="926" rx="18" ry="10"/><ellipse cx="349" cy="903" rx="23" ry="12"/><ellipse cx="460" cy="923" rx="18" ry="9"/><ellipse cx="515" cy="934" rx="14" ry="9"/><ellipse cx="545" cy="906" rx="16" ry="10"/><ellipse cx="626" cy="925" rx="25" ry="10"/><ellipse cx="682" cy="903" rx="20" ry="9"/><ellipse cx="786" cy="903" rx="23" ry="10"/><ellipse cx="836" cy="902" rx="21" ry="9"/><ellipse cx="885" cy="904" rx="22" ry="8"/><ellipse cx="981" cy="903" rx="16" ry="9"/><ellipse cx="1035" cy="899" rx="23" ry="9"/><ellipse cx="1123" cy="932" rx="20" ry="11"/><ellipse cx="1194" cy="900" rx="24" ry="10"/><ellipse cx="1228" cy="931" rx="24" ry="10"/><ellipse cx="-17" cy="970" rx="19" ry="11"/><ellipse cx="82" cy="1000" rx="16" ry="10"/><ellipse cx="109" cy="988" rx="19" ry="10"/><ellipse cx="179" cy="984" rx="19" ry="9"/><ellipse cx="270" cy="997" rx="19" ry="13"/><ellipse cx="312" cy="963" rx="15" ry="9"/><ellipse cx="409" cy="988" rx="19" ry="8"/><ellipse cx="461" cy="959" rx="21" ry="10"/><ellipse cx="526" cy="963" rx="18" ry="9"/><ellipse cx="589" cy="965" rx="16" ry="13"/><ellipse cx="669" cy="996" rx="19" ry="10"/><ellipse cx="719" cy="988" rx="21" ry="10"/><ellipse cx="801" cy="976" rx="20" ry="10"/><ellipse cx="859" cy="989" rx="22" ry="10"/><ellipse cx="918" cy="988" rx="19" ry="9"/><ellipse cx="1006" cy="965" rx="25" ry="11"/><ellipse cx="1065" cy="963" rx="21" ry="9"/><ellipse cx="1140" cy="999" rx="16" ry="11"/><ellipse cx="1188" cy="966" rx="22" ry="8"/><ellipse cx="1299" cy="977" rx="18" ry="11"/></g></g>
<g filter="url(#p6s)"><path d="M-20 60C-7 35 32 47 60 50C88 53 132 62 150 80C168 98 175 138 170 160C165 182 145 200 120 210C95 220 43 222 20 220C-3 218 -13 227 -20 200C-27 173 -33 85 -20 60Z" fill="#d0b894"/><path d="M160 40C172 23 218 20 250 20C282 20 330 28 350 40C370 52 378 75 370 90C362 105 332 125 300 130C268 135 203 135 180 120C157 105 148 57 160 40Z" fill="#c8bca8"/><path d="M400 20C417 3 482 0 520 0C558 0 610 7 630 20C650 33 652 63 640 80C628 97 597 117 560 120C523 123 447 117 420 100C393 83 383 37 400 20Z" fill="#c0b4a0"/><path d="M-20 790C-7 760 32 785 60 790C88 795 132 802 150 820C168 838 173 875 170 900C167 925 162 958 130 970C98 982 5 1000 -20 970C-45 940 -33 820 -20 790Z" fill="#c0b8b0"/><path d="M170 800C183 770 238 778 260 790C282 802 297 840 300 870C303 900 300 953 280 970C260 987 198 998 180 970C162 942 157 830 170 800Z" fill="#d0c8b8"/><path d="M940 720C963 695 1002 700 1060 700C1118 700 1252 675 1290 720C1328 765 1355 928 1290 970C1225 1012 962 990 900 970C838 950 913 892 920 850C927 808 917 745 940 720Z" fill="#5c524a"/><path d="M-20 560C-10 530 22 560 40 580C58 600 87 647 90 680C93 713 78 767 60 780C42 793 -7 797 -20 760C-33 723 -30 590 -20 560Z" fill="#c8a078"/><path d="M1180 600C1195 582 1242 573 1260 590C1278 607 1297 672 1290 700C1283 728 1240 760 1220 760C1200 760 1177 727 1170 700C1163 673 1165 618 1180 600Z" fill="#b89070"/></g>
<g filter="url(#p6m)" opacity="0.55"><path d="M20 450C22 397 13 337 50 280C87 223 158 140 240 110C322 80 438 107 540 100C642 93 752 62 850 70C948 78 1062 95 1130 150C1198 205 1240 325 1260 400C1280 475 1275 528 1250 600C1225 672 1188 777 1110 830C1032 883 878 917 780 920C682 923 608 870 520 850C432 830 330 842 250 800C170 758 78 658 40 600C2 542 18 503 20 450Z" fill="#3a2e28"/></g>
<g filter="url(#p6s)"><path d="M35 450C35 403 44 342 60 300C76 258 98 228 130 200C162 172 205 147 250 130C295 113 355 102 400 100C445 98 490 110 520 120C550 130 565 130 580 160C595 190 607 243 610 300C613 357 607 433 600 500C593 567 583 646 570 700C557 754 548 800 520 822C492 844 443 839 400 832C357 825 303 807 260 782C217 757 173 716 140 682C107 648 78 619 60 580C42 541 35 497 35 450Z" fill="#ccb2a8"/><path d="M620 160C630 137 662 122 700 110C738 98 800 90 850 90C900 90 955 97 1000 110C1045 123 1085 143 1120 170C1155 197 1188 232 1210 270C1232 308 1244 352 1250 400C1256 448 1253 510 1245 560C1237 610 1224 658 1200 700C1176 742 1142 780 1100 810C1058 840 1003 865 950 880C897 895 835 902 780 902C725 902 658 894 620 882C582 870 560 862 550 832C540 802 550 764 560 700C570 636 597 525 610 450C623 375 638 298 640 250C642 202 610 183 620 160Z" fill="#ccb2a8"/></g>
<g filter="url(#p6c)"><path d="M600 150C607 133 647 125 660 150C673 175 682 242 680 300C678 358 662 433 650 500C638 567 618 642 610 700C602 758 608 827 600 850C592 873 566 865 560 840C554 815 558 765 565 700C572 635 591 525 600 450C609 375 620 300 620 250C620 200 593 167 600 150Z" fill="#c4b0a8"/><path class="s" d="M40 470C47 495 57 577 80 620C103 663 138 698 180 730C222 762 277 794 330 810C383 826 472 822 500 825" stroke="#c0a8a0" stroke-width="24"/><path class="s" d="M1245 450C1242 475 1244 552 1230 600C1216 648 1195 698 1160 740C1125 782 1080 825 1020 850C960 875 837 883 800 890" stroke="#c0aaa2" stroke-width="24"/></g>
<g filter="url(#p6t)"><path class="s" d="M612 160C610 200 607 318 600 400C593 482 582 580 570 650C558 720 537 792 530 820" stroke="#8a7068" stroke-width="6"/></g>
<g filter="url(#p6c)"><path d="M70 440C75 403 88 342 110 300C132 258 163 218 200 190C237 162 287 142 330 130C373 118 427 112 460 120C493 128 516 142 530 180C544 218 546 288 545 350C544 412 533 482 525 550C517 618 519 722 495 760C471 798 421 784 380 775C339 766 290 733 250 705C210 677 168 636 140 605C112 574 92 548 80 520C68 492 65 477 70 440Z" fill="#dcc4b0"/><path d="M690 180C710 150 757 130 800 120C843 110 903 112 950 120C997 128 1042 143 1080 170C1118 197 1156 238 1180 280C1204 322 1218 370 1222 420C1226 470 1219 530 1202 580C1185 630 1156 681 1122 720C1088 759 1045 790 1000 812C955 834 903 847 850 852C797 857 723 850 680 842C637 834 600 834 590 802C580 770 608 709 620 650C632 591 650 508 660 450C670 392 675 345 680 300C685 255 670 210 690 180Z" fill="#dcc4b0"/></g>
<g filter="url(#p6c)"><ellipse cx="1104" cy="480" rx="27" ry="18" fill="#ccae9c"/><ellipse cx="1057" cy="367" rx="22" ry="24" fill="#e2ceb8"/><ellipse cx="884" cy="516" rx="34" ry="20" fill="#d0b4a0"/><ellipse cx="989" cy="210" rx="30" ry="30" fill="#d0b4a0"/><ellipse cx="1095" cy="453" rx="24" ry="20" fill="#d0b4a0"/><ellipse cx="119" cy="701" rx="37" ry="29" fill="#ccae9c"/><ellipse cx="1151" cy="500" rx="34" ry="26" fill="#e6d4c0"/><ellipse cx="792" cy="442" rx="28" ry="19" fill="#e2ceb8"/><ellipse cx="378" cy="340" rx="26" ry="24" fill="#e2ceb8"/><ellipse cx="1110" cy="746" rx="31" ry="20" fill="#e2ceb8"/><ellipse cx="240" cy="702" rx="33" ry="22" fill="#ccae9c"/><ellipse cx="816" cy="612" rx="31" ry="20" fill="#ccae9c"/><ellipse cx="285" cy="641" rx="24" ry="25" fill="#ccae9c"/><ellipse cx="1109" cy="691" rx="31" ry="24" fill="#ccae9c"/><ellipse cx="764" cy="613" rx="30" ry="27" fill="#e2ceb8"/><ellipse cx="326" cy="303" rx="36" ry="20" fill="#ccae9c"/><ellipse cx="317" cy="749" rx="39" ry="23" fill="#ccae9c"/><ellipse cx="299" cy="442" rx="25" ry="23" fill="#d0b4a0"/><ellipse cx="912" cy="399" rx="25" ry="29" fill="#ccae9c"/><ellipse cx="804" cy="589" rx="40" ry="27" fill="#e2ceb8"/><ellipse cx="817" cy="154" rx="30" ry="19" fill="#e6d4c0"/><ellipse cx="968" cy="614" rx="29" ry="30" fill="#ccae9c"/><ellipse cx="694" cy="281" rx="39" ry="25" fill="#ccae9c"/><ellipse cx="1092" cy="507" rx="23" ry="21" fill="#d0b4a0"/><ellipse cx="161" cy="532" rx="33" ry="20" fill="#e6d4c0"/><ellipse cx="684" cy="475" rx="35" ry="19" fill="#e6d4c0"/><ellipse cx="729" cy="716" rx="24" ry="25" fill="#d0b4a0"/><ellipse cx="1142" cy="457" rx="34" ry="27" fill="#e2ceb8"/><ellipse cx="762" cy="785" rx="31" ry="23" fill="#d0b4a0"/><ellipse cx="973" cy="715" rx="27" ry="22" fill="#d0b4a0"/><ellipse cx="705" cy="733" rx="27" ry="30" fill="#ccae9c"/><ellipse cx="861" cy="635" rx="26" ry="25" fill="#e2ceb8"/><ellipse cx="678" cy="268" rx="29" ry="19" fill="#e2ceb8"/><ellipse cx="845" cy="203" rx="35" ry="19" fill="#e2ceb8"/><ellipse cx="927" cy="201" rx="23" ry="24" fill="#e6d4c0"/><ellipse cx="397" cy="262" rx="35" ry="24" fill="#ccae9c"/><ellipse cx="1170" cy="623" rx="35" ry="20" fill="#e2ceb8"/><ellipse cx="1196" cy="531" rx="22" ry="28" fill="#ccae9c"/><ellipse cx="237" cy="382" rx="30" ry="23" fill="#e2ceb8"/><ellipse cx="1008" cy="698" rx="29" ry="26" fill="#e2ceb8"/><ellipse cx="363" cy="385" rx="23" ry="18" fill="#e6d4c0"/><ellipse cx="399" cy="211" rx="29" ry="18" fill="#e2ceb8"/><ellipse cx="782" cy="534" rx="39" ry="22" fill="#ccae9c"/><ellipse cx="341" cy="186" rx="38" ry="23" fill="#e6d4c0"/><ellipse cx="756" cy="615" rx="23" ry="28" fill="#ccae9c"/><ellipse cx="815" cy="451" rx="26" ry="28" fill="#e2ceb8"/><ellipse cx="106" cy="471" rx="35" ry="30" fill="#d0b4a0"/><ellipse cx="711" cy="555" rx="23" ry="22" fill="#e6d4c0"/><ellipse cx="420" cy="370" rx="34" ry="22" fill="#e6d4c0"/><ellipse cx="113" cy="355" rx="31" ry="24" fill="#d0b4a0"/><ellipse cx="348" cy="317" rx="24" ry="23" fill="#e2ceb8"/><ellipse cx="378" cy="749" rx="30" ry="24" fill="#ccae9c"/><ellipse cx="797" cy="353" rx="23" ry="27" fill="#e6d4c0"/><ellipse cx="971" cy="795" rx="37" ry="24" fill="#e6d4c0"/><ellipse cx="265" cy="447" rx="38" ry="27" fill="#ccae9c"/><ellipse cx="371" cy="387" rx="36" ry="23" fill="#e6d4c0"/><ellipse cx="206" cy="231" rx="29" ry="28" fill="#d0b4a0"/><ellipse cx="428" cy="258" rx="29" ry="25" fill="#e2ceb8"/><ellipse cx="708" cy="409" rx="24" ry="29" fill="#e2ceb8"/><ellipse cx="1175" cy="504" rx="36" ry="24" fill="#d0b4a0"/><ellipse cx="837" cy="634" rx="29" ry="21" fill="#e6d4c0"/><ellipse cx="117" cy="509" rx="33" ry="30" fill="#e6d4c0"/><ellipse cx="1073" cy="808" rx="24" ry="28" fill="#e6d4c0"/><ellipse cx="242" cy="744" rx="37" ry="21" fill="#e2ceb8"/><ellipse cx="153" cy="442" rx="39" ry="25" fill="#e2ceb8"/><ellipse cx="1094" cy="539" rx="35" ry="30" fill="#d0b4a0"/><ellipse cx="808" cy="151" rx="38" ry="18" fill="#ccae9c"/><ellipse cx="105" cy="694" rx="24" ry="29" fill="#d0b4a0"/><ellipse cx="451" cy="378" rx="37" ry="20" fill="#ccae9c"/><ellipse cx="1085" cy="793" rx="38" ry="20" fill="#ccae9c"/><ellipse cx="475" cy="725" rx="24" ry="25" fill="#d0b4a0"/><ellipse cx="151" cy="580" rx="36" ry="30" fill="#e2ceb8"/><ellipse cx="798" cy="518" rx="28" ry="25" fill="#d0b4a0"/><ellipse cx="1190" cy="638" rx="23" ry="27" fill="#e6d4c0"/><ellipse cx="1101" cy="529" rx="27" ry="28" fill="#d0b4a0"/><ellipse cx="188" cy="336" rx="25" ry="19" fill="#d0b4a0"/><ellipse cx="1136" cy="298" rx="35" ry="25" fill="#e6d4c0"/><ellipse cx="1107" cy="542" rx="28" ry="24" fill="#e2ceb8"/><ellipse cx="1141" cy="573" rx="24" ry="27" fill="#ccae9c"/><ellipse cx="474" cy="274" rx="30" ry="21" fill="#e6d4c0"/><ellipse cx="1008" cy="719" rx="27" ry="21" fill="#d0b4a0"/><ellipse cx="279" cy="376" rx="40" ry="25" fill="#e2ceb8"/><ellipse cx="693" cy="493" rx="37" ry="30" fill="#e6d4c0"/><ellipse cx="147" cy="418" rx="32" ry="20" fill="#d0b4a0"/><ellipse cx="127" cy="586" rx="28" ry="23" fill="#e6d4c0"/><ellipse cx="813" cy="487" rx="35" ry="29" fill="#e2ceb8"/><ellipse cx="1158" cy="677" rx="32" ry="23" fill="#e2ceb8"/><ellipse cx="1006" cy="737" rx="38" ry="19" fill="#e2ceb8"/><ellipse cx="677" cy="325" rx="26" ry="27" fill="#e2ceb8"/><ellipse cx="743" cy="731" rx="36" ry="25" fill="#ccae9c"/></g>
<g filter="url(#p6t)"><path class="s" d="M229 226C228 224 226 218 225 214C223 210 220 204 219 202" stroke="#9c4a3a" stroke-width="8"/><path class="s" d="M229 226C230 227 234 230 238 232C243 235 252 239 254 240" stroke="#9c4a3a" stroke-width="8"/><path class="s" d="M301 213C299 211 294 201 292 197C291 192 292 188 292 186" stroke="#9c4a3a" stroke-width="11"/><path class="s" d="M301 213C305 213 320 213 326 214C333 214 337 214 340 215" stroke="#9c4a3a" stroke-width="9"/><path class="s" d="M301 213C298 217 290 227 287 232C284 238 284 243 283 245" stroke="#9c4a3a" stroke-width="10"/><path class="s" d="M363 197C363 194 365 184 367 179C370 175 375 172 377 170" stroke="#9c4a3a" stroke-width="8"/><path class="s" d="M363 197C366 200 379 208 383 213C388 217 389 222 391 223" stroke="#9c4a3a" stroke-width="8"/><path class="s" d="M363 197C359 198 348 201 343 202C338 203 336 205 335 206" stroke="#9c4a3a" stroke-width="8"/><path class="s" d="M442 198C439 199 431 201 425 201C419 202 409 203 406 203" stroke="#9c4a3a" stroke-width="8"/><path class="s" d="M834 206C837 204 849 197 852 194C856 190 857 186 858 185" stroke="#9c4a3a" stroke-width="9"/><path class="s" d="M834 206C832 206 827 206 822 206C817 205 805 203 801 203" stroke="#9c4a3a" stroke-width="9"/><path class="s" d="M925 223C926 226 930 235 932 238C934 242 936 243 937 244" stroke="#9c4a3a" stroke-width="9"/><path class="s" d="M925 223C923 222 918 219 915 217C911 216 905 216 903 215" stroke="#9c4a3a" stroke-width="10"/><path class="s" d="M925 223C927 221 933 214 934 210C936 206 935 201 935 200" stroke="#9c4a3a" stroke-width="9"/><path class="s" d="M999 218C1002 219 1007 225 1013 226C1019 227 1031 225 1034 225" stroke="#9c4a3a" stroke-width="10"/><path class="s" d="M999 218C997 218 989 218 985 220C981 222 977 228 975 229" stroke="#9c4a3a" stroke-width="9"/><path class="s" d="M999 218C1000 216 1002 211 1003 206C1004 201 1004 193 1004 190" stroke="#9c4a3a" stroke-width="10"/><path class="s" d="M1056 208C1057 211 1062 219 1064 223C1066 228 1068 233 1068 235" stroke="#9c4a3a" stroke-width="9"/><path class="s" d="M1056 208C1054 208 1046 207 1042 209C1039 210 1037 216 1035 217" stroke="#9c4a3a" stroke-width="9"/><path class="s" d="M1056 208C1057 206 1061 200 1063 194C1066 188 1072 176 1073 172" stroke="#9c4a3a" stroke-width="11"/><path class="s" d="M192 282C189 285 178 295 174 299C171 303 170 305 169 307" stroke="#9c4a3a" stroke-width="11"/><path class="s" d="M192 282C193 279 194 268 196 262C198 256 203 249 205 246" stroke="#9c4a3a" stroke-width="11"/><path class="s" d="M271 288C274 287 280 280 285 279C290 277 299 279 302 279" stroke="#9c4a3a" stroke-width="10"/><path class="s" d="M271 288C271 291 267 296 268 303C269 309 274 321 275 325" stroke="#9c4a3a" stroke-width="8"/><path class="s" d="M326 270C325 273 319 282 318 287C317 292 318 298 318 300" stroke="#9c4a3a" stroke-width="8"/><path class="s" d="M326 270C324 270 317 274 313 274C308 273 302 269 300 268" stroke="#9c4a3a" stroke-width="10"/><path class="s" d="M415 295C418 293 428 290 433 287C438 283 442 274 444 272" stroke="#9c4a3a" stroke-width="9"/><path class="s" d="M415 295C414 296 411 300 411 304C410 308 412 318 413 321" stroke="#9c4a3a" stroke-width="11"/><path class="s" d="M494 277C493 279 489 283 488 287C487 291 486 297 486 299" stroke="#9c4a3a" stroke-width="9"/><path class="s" d="M494 277C493 275 490 272 487 267C483 263 475 254 473 251" stroke="#9c4a3a" stroke-width="10"/><path class="s" d="M724 287C723 284 722 274 721 269C720 264 719 258 718 255" stroke="#9c4a3a" stroke-width="10"/><path class="s" d="M724 287C725 289 726 296 730 300C733 304 741 307 743 309" stroke="#9c4a3a" stroke-width="9"/><path class="s" d="M724 287C722 290 717 299 715 302C712 305 709 304 708 304" stroke="#9c4a3a" stroke-width="10"/><path class="s" d="M792 302C795 305 808 317 812 322C817 326 818 329 819 330" stroke="#9c4a3a" stroke-width="9"/><path class="s" d="M792 302C789 301 779 297 772 295C766 294 757 295 754 295" stroke="#9c4a3a" stroke-width="11"/><path class="s" d="M792 302C796 299 808 289 813 285C818 281 822 280 824 279" stroke="#9c4a3a" stroke-width="10"/><path class="s" d="M877 304C876 306 870 312 868 318C865 324 862 337 861 341" stroke="#9c4a3a" stroke-width="10"/><path class="s" d="M877 304C876 300 876 288 872 282C869 277 860 273 857 271" stroke="#9c4a3a" stroke-width="9"/><path class="s" d="M943 268C944 270 947 275 948 279C950 284 950 294 950 296" stroke="#9c4a3a" stroke-width="10"/><path class="s" d="M943 268C940 267 930 260 926 259C922 258 920 259 918 259" stroke="#9c4a3a" stroke-width="9"/><path class="s" d="M943 268C944 265 947 257 950 252C952 246 957 238 959 235" stroke="#9c4a3a" stroke-width="9"/><path class="s" d="M1019 303C1017 302 1012 298 1009 297C1006 295 1000 295 998 295" stroke="#9c4a3a" stroke-width="11"/><path class="s" d="M1019 303C1021 303 1029 303 1034 300C1039 298 1047 291 1050 289" stroke="#9c4a3a" stroke-width="11"/><path class="s" d="M1104 270C1108 271 1121 275 1126 278C1131 281 1134 286 1136 288" stroke="#9c4a3a" stroke-width="9"/><path class="s" d="M1104 270C1101 270 1090 269 1086 270C1081 271 1080 275 1079 276" stroke="#9c4a3a" stroke-width="11"/><path class="s" d="M1104 270C1105 267 1106 257 1108 253C1109 248 1113 246 1114 245" stroke="#9c4a3a" stroke-width="11"/><path class="s" d="M152 351C149 350 141 345 136 344C132 342 127 342 125 342" stroke="#9c4a3a" stroke-width="8"/><path class="s" d="M152 351C154 349 158 342 162 340C166 337 175 339 178 339" stroke="#9c4a3a" stroke-width="10"/><path class="s" d="M152 351C151 354 144 361 142 366C141 371 143 379 144 382" stroke="#9c4a3a" stroke-width="10"/><path class="s" d="M234 379C233 383 230 394 230 400C231 406 234 414 235 417" stroke="#9c4a3a" stroke-width="10"/><path class="s" d="M234 379C231 379 222 381 218 380C215 378 214 372 213 371" stroke="#9c4a3a" stroke-width="9"/><path class="s" d="M234 379C235 377 242 369 243 366C245 362 243 360 243 359" stroke="#9c4a3a" stroke-width="11"/><path class="s" d="M276 368C279 366 290 358 295 354C299 350 302 347 303 346" stroke="#9c4a3a" stroke-width="9"/><path class="s" d="M276 368C278 369 287 372 290 375C293 378 292 386 293 388" stroke="#9c4a3a" stroke-width="10"/><path class="s" d="M276 368C273 369 264 373 259 374C254 374 247 369 245 368" stroke="#9c4a3a" stroke-width="10"/><path class="s" d="M383 355C379 353 364 347 358 345C352 343 349 346 348 346" stroke="#9c4a3a" stroke-width="10"/><path class="s" d="M383 355C383 353 383 347 384 342C386 337 391 329 392 327" stroke="#9c4a3a" stroke-width="9"/><path class="s" d="M383 355C384 359 384 373 388 379C391 385 399 388 401 390" stroke="#9c4a3a" stroke-width="8"/><path class="s" d="M450 354C448 356 443 358 440 362C437 366 432 374 431 377" stroke="#9c4a3a" stroke-width="10"/><path class="s" d="M450 354C451 352 456 346 458 340C461 334 464 323 465 319" stroke="#9c4a3a" stroke-width="8"/><path class="s" d="M525 378C528 378 539 378 543 377C548 375 551 371 553 370" stroke="#9c4a3a" stroke-width="9"/><path class="s" d="M525 378C523 380 518 385 517 389C517 393 520 401 521 403" stroke="#9c4a3a" stroke-width="10"/><path class="s" d="M525 378C521 377 508 372 502 370C496 369 493 369 491 369" stroke="#9c4a3a" stroke-width="8"/><path class="s" d="M751 378C751 381 753 392 754 396C756 400 759 401 760 402" stroke="#9c4a3a" stroke-width="9"/><path class="s" d="M751 378C748 380 741 385 735 387C729 389 720 387 717 388" stroke="#9c4a3a" stroke-width="9"/><path class="s" d="M844 353C847 352 855 349 860 348C864 348 869 349 871 349" stroke="#9c4a3a" stroke-width="8"/><path class="s" d="M844 353C843 352 839 351 836 349C832 346 826 340 824 339" stroke="#9c4a3a" stroke-width="9"/><path class="s" d="M920 378C923 377 933 376 937 372C942 369 944 360 946 358" stroke="#9c4a3a" stroke-width="9"/><path class="s" d="M920 378C920 382 917 393 916 397C916 402 917 404 917 405" stroke="#9c4a3a" stroke-width="9"/><path class="s" d="M920 378C917 378 907 377 900 378C894 380 885 386 882 388" stroke="#9c4a3a" stroke-width="8"/><path class="s" d="M982 366C981 362 981 352 981 345C981 339 980 331 980 328" stroke="#9c4a3a" stroke-width="10"/><path class="s" d="M982 366C984 368 991 375 995 378C1000 381 1006 384 1009 385" stroke="#9c4a3a" stroke-width="10"/><path class="s" d="M982 366C980 367 975 372 972 376C970 381 966 389 964 392" stroke="#9c4a3a" stroke-width="11"/><path class="s" d="M1058 377C1057 379 1055 383 1054 387C1052 392 1049 402 1048 405" stroke="#9c4a3a" stroke-width="9"/><path class="s" d="M1058 377C1055 375 1043 367 1039 364C1035 362 1034 364 1033 363" stroke="#9c4a3a" stroke-width="8"/><path class="s" d="M1058 377C1061 375 1073 368 1078 364C1083 360 1086 356 1088 354" stroke="#9c4a3a" stroke-width="10"/><path class="s" d="M1160 377C1163 378 1173 382 1179 383C1185 384 1193 381 1195 381" stroke="#9c4a3a" stroke-width="8"/><path class="s" d="M1160 377C1158 379 1152 382 1150 385C1147 388 1147 394 1146 396" stroke="#9c4a3a" stroke-width="8"/><path class="s" d="M1160 377C1161 374 1166 364 1168 359C1171 354 1174 349 1175 347" stroke="#9c4a3a" stroke-width="9"/><path class="s" d="M108 437C106 438 100 440 96 442C93 444 89 448 87 449" stroke="#9c4a3a" stroke-width="9"/><path class="s" d="M108 437C106 434 98 424 96 419C93 414 94 411 93 409" stroke="#9c4a3a" stroke-width="9"/><path class="s" d="M108 437C111 437 119 433 125 434C131 434 141 438 145 439" stroke="#9c4a3a" stroke-width="8"/><path class="s" d="M189 444C189 441 189 431 187 425C186 419 183 410 182 407" stroke="#9c4a3a" stroke-width="9"/><path class="s" d="M189 444C191 446 199 453 203 456C206 459 209 461 211 462" stroke="#9c4a3a" stroke-width="11"/><path class="s" d="M261 449C262 451 269 455 270 459C272 463 270 471 269 474" stroke="#9c4a3a" stroke-width="10"/><path class="s" d="M261 449C259 448 256 447 252 445C248 442 239 434 236 432" stroke="#9c4a3a" stroke-width="9"/><path class="s" d="M318 457C320 456 325 451 329 451C333 450 341 454 343 455" stroke="#9c4a3a" stroke-width="9"/><path class="s" d="M318 457C317 460 311 470 309 475C308 480 310 484 310 486" stroke="#9c4a3a" stroke-width="10"/><path class="s" d="M318 457C318 454 318 445 316 442C313 438 306 438 304 438" stroke="#9c4a3a" stroke-width="10"/><path class="s" d="M419 445C421 447 428 453 431 455C435 457 440 457 441 457" stroke="#9c4a3a" stroke-width="8"/><path class="s" d="M419 445C418 447 413 453 408 455C404 458 395 460 393 461" stroke="#9c4a3a" stroke-width="10"/><path class="s" d="M419 445C419 444 415 442 414 439C414 435 415 426 415 424" stroke="#9c4a3a" stroke-width="11"/><path class="s" d="M474 448C477 448 487 452 491 453C495 454 497 454 498 454" stroke="#9c4a3a" stroke-width="8"/><path class="s" d="M474 448C473 449 468 451 465 454C462 457 458 463 457 465" stroke="#9c4a3a" stroke-width="11"/><path class="s" d="M474 448C473 446 472 444 469 440C466 436 460 427 458 425" stroke="#9c4a3a" stroke-width="10"/><path class="s" d="M713 441C716 439 723 435 728 431C733 428 742 421 745 419" stroke="#9c4a3a" stroke-width="11"/><path class="s" d="M713 441C714 443 717 451 716 457C715 464 709 476 707 480" stroke="#9c4a3a" stroke-width="9"/><path class="s" d="M810 446C809 446 808 444 804 446C800 447 791 453 788 454" stroke="#9c4a3a" stroke-width="10"/><path class="s" d="M810 446C811 442 815 432 816 427C818 422 818 419 819 417" stroke="#9c4a3a" stroke-width="10"/><path class="s" d="M810 446C814 445 827 445 833 444C838 443 842 442 844 442" stroke="#9c4a3a" stroke-width="11"/><path class="s" d="M868 451C865 451 859 454 854 454C849 454 840 451 837 450" stroke="#9c4a3a" stroke-width="10"/><path class="s" d="M868 451C869 449 870 445 873 443C876 441 884 437 886 436" stroke="#9c4a3a" stroke-width="9"/><path class="s" d="M868 451C869 452 872 456 877 459C881 462 891 467 894 468" stroke="#9c4a3a" stroke-width="10"/><path class="s" d="M948 436C947 434 944 428 941 425C938 422 932 420 930 419" stroke="#9c4a3a" stroke-width="10"/><path class="s" d="M948 436C952 436 963 438 968 436C974 434 978 427 980 426" stroke="#9c4a3a" stroke-width="8"/><path class="s" d="M948 436C946 439 938 448 936 453C935 459 937 467 937 470" stroke="#9c4a3a" stroke-width="9"/><path class="s" d="M1022 444C1021 447 1015 457 1012 461C1008 464 1003 464 1001 464" stroke="#9c4a3a" stroke-width="10"/><path class="s" d="M1022 444C1021 442 1017 434 1014 432C1010 429 1003 430 1001 429" stroke="#9c4a3a" stroke-width="10"/><path class="s" d="M1022 444C1025 441 1036 431 1041 428C1046 424 1051 424 1053 423" stroke="#9c4a3a" stroke-width="8"/><path class="s" d="M1118 449C1118 451 1116 457 1115 461C1114 465 1113 473 1112 475" stroke="#9c4a3a" stroke-width="9"/><path class="s" d="M1118 449C1115 448 1106 444 1101 443C1095 442 1088 443 1086 443" stroke="#9c4a3a" stroke-width="8"/><path class="s" d="M1118 449C1122 448 1137 446 1143 444C1149 443 1152 441 1154 440" stroke="#9c4a3a" stroke-width="10"/><path class="s" d="M1196 444C1196 441 1196 434 1199 431C1201 428 1209 427 1211 426" stroke="#9c4a3a" stroke-width="9"/><path class="s" d="M1196 444C1196 446 1197 455 1197 461C1196 466 1192 474 1191 476" stroke="#9c4a3a" stroke-width="9"/><path class="s" d="M1196 444C1193 443 1181 441 1177 440C1172 439 1171 439 1170 439" stroke="#9c4a3a" stroke-width="10"/><path class="s" d="M127 533C125 531 118 522 115 519C113 515 111 514 110 513" stroke="#9c4a3a" stroke-width="11"/><path class="s" d="M127 533C128 531 128 524 131 520C133 517 140 514 142 513" stroke="#9c4a3a" stroke-width="11"/><path class="s" d="M127 533C127 536 128 544 128 549C127 554 126 559 126 561" stroke="#9c4a3a" stroke-width="8"/><path class="s" d="M218 515C216 517 208 523 205 527C202 530 201 535 201 536" stroke="#9c4a3a" stroke-width="11"/><path class="s" d="M218 515C217 511 213 500 212 496C211 491 213 490 213 489" stroke="#9c4a3a" stroke-width="9"/><path class="s" d="M218 515C221 515 232 519 238 519C243 518 248 513 250 512" stroke="#9c4a3a" stroke-width="8"/><path class="s" d="M307 518C308 514 313 501 313 495C314 489 310 487 309 485" stroke="#9c4a3a" stroke-width="8"/><path class="s" d="M307 518C309 521 314 530 316 532C319 535 321 534 322 534" stroke="#9c4a3a" stroke-width="9"/><path class="s" d="M307 518C305 520 297 528 292 531C287 534 281 536 279 537" stroke="#9c4a3a" stroke-width="8"/><path class="s" d="M359 520C357 521 353 525 349 526C344 527 334 525 331 525" stroke="#9c4a3a" stroke-width="9"/><path class="s" d="M359 520C360 518 365 513 366 507C367 502 367 492 368 489" stroke="#9c4a3a" stroke-width="10"/><path class="s" d="M359 520C360 523 365 533 365 537C366 541 362 542 362 543" stroke="#9c4a3a" stroke-width="11"/><path class="s" d="M440 527C439 530 433 539 433 543C432 546 435 548 435 549" stroke="#9c4a3a" stroke-width="10"/><path class="s" d="M440 527C438 527 434 528 429 528C424 527 414 525 411 524" stroke="#9c4a3a" stroke-width="11"/><path class="s" d="M516 517C515 515 511 512 511 508C510 504 513 495 513 492" stroke="#9c4a3a" stroke-width="11"/><path class="s" d="M516 517C518 517 521 517 525 519C529 521 538 527 540 529" stroke="#9c4a3a" stroke-width="9"/><path class="s" d="M516 517C515 520 514 532 511 537C509 542 503 545 501 546" stroke="#9c4a3a" stroke-width="8"/><path class="s" d="M701 527C699 528 692 533 688 534C684 534 679 531 678 531" stroke="#9c4a3a" stroke-width="8"/><path class="s" d="M701 527C701 526 698 521 699 517C699 514 703 506 704 504" stroke="#9c4a3a" stroke-width="9"/><path class="s" d="M701 527C701 529 701 532 702 536C702 540 702 549 702 552" stroke="#9c4a3a" stroke-width="10"/><path class="s" d="M778 507C780 508 786 507 789 510C792 512 794 520 795 523" stroke="#9c4a3a" stroke-width="8"/><path class="s" d="M778 507C775 509 764 517 759 519C755 521 753 520 752 520" stroke="#9c4a3a" stroke-width="10"/><path class="s" d="M778 507C780 505 784 495 788 491C792 488 799 489 801 489" stroke="#9c4a3a" stroke-width="10"/><path class="s" d="M850 515C852 513 857 510 861 506C865 502 874 492 876 489" stroke="#9c4a3a" stroke-width="9"/><path class="s" d="M850 515C852 517 855 522 858 527C860 531 864 540 865 543" stroke="#9c4a3a" stroke-width="11"/><path class="s" d="M850 515C849 514 844 511 840 509C835 507 826 503 824 502" stroke="#9c4a3a" stroke-width="10"/><path class="s" d="M935 511C934 508 929 497 926 493C924 489 922 489 921 488" stroke="#9c4a3a" stroke-width="9"/><path class="s" d="M989 527C985 527 970 528 965 527C959 526 957 523 956 522" stroke="#9c4a3a" stroke-width="8"/><path class="s" d="M989 527C989 524 992 516 991 510C991 504 987 496 986 493" stroke="#9c4a3a" stroke-width="10"/><path class="s" d="M989 527C989 529 990 534 992 538C994 543 998 551 1000 554" stroke="#9c4a3a" stroke-width="10"/><path class="s" d="M1078 528C1078 526 1079 522 1079 517C1079 513 1078 504 1078 502" stroke="#9c4a3a" stroke-width="11"/><path class="s" d="M1078 528C1081 527 1093 523 1097 523C1101 523 1102 527 1103 528" stroke="#9c4a3a" stroke-width="8"/><path class="s" d="M1141 528C1143 525 1150 517 1155 514C1159 511 1167 510 1169 509" stroke="#9c4a3a" stroke-width="10"/><path class="s" d="M1141 528C1139 531 1133 544 1131 549C1130 554 1131 555 1131 556" stroke="#9c4a3a" stroke-width="9"/><path class="s" d="M1141 528C1137 526 1123 522 1118 520C1112 518 1109 518 1107 517" stroke="#9c4a3a" stroke-width="11"/><path class="s" d="M107 581C104 578 96 567 91 563C87 559 81 556 78 555" stroke="#9c4a3a" stroke-width="10"/><path class="s" d="M107 581C109 578 117 566 120 563C123 559 123 558 124 558" stroke="#9c4a3a" stroke-width="9"/><path class="s" d="M107 581C108 584 114 591 115 598C116 604 114 616 114 620" stroke="#9c4a3a" stroke-width="11"/><path class="s" d="M161 597C161 598 163 601 163 605C162 609 160 617 159 619" stroke="#9c4a3a" stroke-width="11"/><path class="s" d="M161 597C159 593 153 582 149 577C146 573 144 570 143 569" stroke="#9c4a3a" stroke-width="10"/><path class="s" d="M161 597C164 595 176 590 181 587C187 583 192 578 194 576" stroke="#9c4a3a" stroke-width="10"/><path class="s" d="M263 600C262 602 262 607 261 612C260 617 257 628 256 631" stroke="#9c4a3a" stroke-width="9"/><path class="s" d="M263 600C260 598 250 590 245 587C239 584 233 583 230 583" stroke="#9c4a3a" stroke-width="10"/><path class="s" d="M263 600C264 599 266 592 270 591C273 589 282 593 285 593" stroke="#9c4a3a" stroke-width="10"/><path class="s" d="M331 589C329 591 327 596 323 599C320 601 314 603 312 604" stroke="#9c4a3a" stroke-width="10"/><path class="s" d="M331 589C331 586 332 577 335 573C337 569 342 566 344 565" stroke="#9c4a3a" stroke-width="10"/><path class="s" d="M331 589C333 590 340 593 346 596C352 598 363 602 367 603" stroke="#9c4a3a" stroke-width="8"/><path class="s" d="M415 592C414 591 413 588 413 585C413 581 416 573 416 570" stroke="#9c4a3a" stroke-width="10"/><path class="s" d="M480 616C483 616 495 617 500 618C504 620 506 623 507 624" stroke="#9c4a3a" stroke-width="9"/><path class="s" d="M480 616C481 614 487 611 490 608C492 605 495 598 496 596" stroke="#9c4a3a" stroke-width="10"/><path class="s" d="M725 608C725 605 727 597 727 591C727 585 724 576 723 573" stroke="#9c4a3a" stroke-width="11"/><path class="s" d="M725 608C727 606 732 601 736 600C741 599 750 602 752 603" stroke="#9c4a3a" stroke-width="9"/><path class="s" d="M725 608C723 610 717 619 713 623C709 627 703 630 701 632" stroke="#9c4a3a" stroke-width="10"/><path class="s" d="M801 611C800 614 795 627 794 633C794 639 797 646 797 648" stroke="#9c4a3a" stroke-width="9"/><path class="s" d="M801 611C800 609 794 603 790 602C786 601 778 603 775 603" stroke="#9c4a3a" stroke-width="9"/><path class="s" d="M801 611C805 609 817 603 822 599C826 596 826 591 827 589" stroke="#9c4a3a" stroke-width="9"/><path class="s" d="M875 610C873 608 865 600 863 595C861 589 863 581 863 578" stroke="#9c4a3a" stroke-width="11"/><path class="s" d="M875 610C878 612 890 618 895 620C900 623 903 625 905 626" stroke="#9c4a3a" stroke-width="9"/><path class="s" d="M957 606C958 609 960 619 961 623C963 627 964 630 964 631" stroke="#9c4a3a" stroke-width="11"/><path class="s" d="M1034 583C1036 581 1041 576 1044 570C1048 565 1052 553 1053 550" stroke="#9c4a3a" stroke-width="9"/><path class="s" d="M1034 583C1036 584 1042 589 1048 592C1054 595 1065 597 1068 599" stroke="#9c4a3a" stroke-width="8"/><path class="s" d="M1098 597C1099 594 1105 582 1108 577C1112 573 1116 570 1117 568" stroke="#9c4a3a" stroke-width="9"/><path class="s" d="M1098 597C1098 599 1098 604 1101 607C1103 609 1111 612 1113 613" stroke="#9c4a3a" stroke-width="11"/><path class="s" d="M1175 585C1177 585 1185 584 1189 585C1193 585 1196 587 1198 587" stroke="#9c4a3a" stroke-width="9"/><path class="s" d="M1175 585C1173 586 1165 588 1161 592C1156 595 1151 601 1149 603" stroke="#9c4a3a" stroke-width="8"/><path class="s" d="M200 681C201 679 203 672 205 668C206 663 208 656 208 653" stroke="#9c4a3a" stroke-width="9"/><path class="s" d="M200 681C202 684 209 695 212 698C215 702 217 703 218 703" stroke="#9c4a3a" stroke-width="9"/><path class="s" d="M200 681C197 681 187 681 181 681C174 681 164 680 161 680" stroke="#9c4a3a" stroke-width="10"/><path class="s" d="M279 686C283 686 299 683 305 684C312 685 315 691 317 693" stroke="#9c4a3a" stroke-width="11"/><path class="s" d="M279 686C280 684 284 676 287 672C289 667 291 661 292 659" stroke="#9c4a3a" stroke-width="10"/><path class="s" d="M368 658C366 657 356 654 352 651C348 648 347 643 346 641" stroke="#9c4a3a" stroke-width="8"/><path class="s" d="M368 658C370 656 373 649 377 647C380 645 387 648 389 648" stroke="#9c4a3a" stroke-width="8"/><path class="s" d="M368 658C369 661 372 667 372 674C371 680 365 691 364 695" stroke="#9c4a3a" stroke-width="8"/><path class="s" d="M745 674C742 674 732 675 728 676C724 676 723 677 722 678" stroke="#9c4a3a" stroke-width="9"/><path class="s" d="M745 674C746 672 747 663 749 659C752 655 759 651 761 650" stroke="#9c4a3a" stroke-width="9"/><path class="s" d="M745 674C746 678 748 693 749 699C750 705 751 710 752 712" stroke="#9c4a3a" stroke-width="9"/><path class="s" d="M854 692C852 690 847 684 843 682C839 680 830 679 828 678" stroke="#9c4a3a" stroke-width="10"/><path class="s" d="M854 692C855 690 858 682 862 679C866 676 874 676 877 676" stroke="#9c4a3a" stroke-width="8"/><path class="s" d="M854 692C854 694 858 702 858 706C859 710 858 713 858 714" stroke="#9c4a3a" stroke-width="10"/><path class="s" d="M933 687C933 690 932 697 931 702C930 708 928 717 927 720" stroke="#9c4a3a" stroke-width="9"/><path class="s" d="M933 687C932 684 925 673 923 668C922 663 924 659 924 658" stroke="#9c4a3a" stroke-width="8"/><path class="s" d="M933 687C936 686 947 685 953 683C958 681 964 678 966 677" stroke="#9c4a3a" stroke-width="10"/><path class="s" d="M1012 686C1009 686 997 685 993 687C989 689 988 695 987 697" stroke="#9c4a3a" stroke-width="8"/><path class="s" d="M1012 686C1010 682 1005 670 1004 665C1003 659 1006 655 1006 653" stroke="#9c4a3a" stroke-width="11"/><path class="s" d="M1012 686C1015 686 1024 688 1030 687C1036 686 1044 680 1047 679" stroke="#9c4a3a" stroke-width="10"/><path class="s" d="M1085 676C1083 674 1076 667 1073 666C1069 664 1066 668 1064 668" stroke="#9c4a3a" stroke-width="11"/><path class="s" d="M1085 676C1088 675 1097 673 1102 670C1108 668 1114 663 1116 661" stroke="#9c4a3a" stroke-width="9"/><path class="s" d="M347 741C345 743 340 747 338 751C337 756 337 765 336 768" stroke="#9c4a3a" stroke-width="10"/><path class="s" d="M347 741C344 740 335 739 332 735C329 731 328 722 327 719" stroke="#9c4a3a" stroke-width="10"/><path class="s" d="M347 741C350 741 362 739 367 739C372 739 377 739 378 739" stroke="#9c4a3a" stroke-width="8"/><path class="s" d="M799 766C802 766 809 764 815 765C821 766 831 773 834 774" stroke="#9c4a3a" stroke-width="9"/><path class="s" d="M799 766C798 769 793 777 790 781C787 784 783 786 782 787" stroke="#9c4a3a" stroke-width="11"/><path class="s" d="M799 766C801 764 807 756 808 751C809 746 805 739 805 737" stroke="#9c4a3a" stroke-width="9"/><path class="s" d="M883 746C885 746 889 744 892 742C895 740 901 737 903 736" stroke="#9c4a3a" stroke-width="8"/><path class="s" d="M883 746C881 748 873 751 869 756C866 760 863 771 862 774" stroke="#9c4a3a" stroke-width="9"/><path class="s" d="M883 746C881 743 877 733 873 729C868 724 860 718 857 716" stroke="#9c4a3a" stroke-width="8"/><path class="s" d="M971 757C968 758 956 760 952 759C947 758 946 753 945 752" stroke="#9c4a3a" stroke-width="10"/><path class="s" d="M971 757C972 757 977 756 981 755C985 755 991 755 993 755" stroke="#9c4a3a" stroke-width="10"/><path class="s" d="M971 757C970 761 969 774 969 780C969 786 971 792 972 794" stroke="#9c4a3a" stroke-width="9"/><path class="s" d="M1041 768C1041 764 1041 751 1039 746C1036 741 1028 738 1026 737" stroke="#9c4a3a" stroke-width="11"/><path class="s" d="M1041 768C1043 767 1048 764 1051 762C1055 760 1060 757 1062 756" stroke="#9c4a3a" stroke-width="9"/><path class="s" d="M1041 768C1040 770 1035 775 1033 778C1031 782 1032 787 1031 788" stroke="#9c4a3a" stroke-width="9"/><path class="s" d="M908 821C910 819 920 813 923 807C926 801 925 789 926 786" stroke="#9c4a3a" stroke-width="8"/><path class="s" d="M908 821C908 823 909 827 911 831C913 836 919 846 920 849" stroke="#9c4a3a" stroke-width="9"/><path class="s" d="M908 821C905 820 896 819 890 817C883 814 874 809 871 808" stroke="#9c4a3a" stroke-width="9"/></g>
</svg>
</div>
<svg id="ov" width="1270" height="1073" viewBox="0 0 1270 1073">
<g stroke="#4a7bb4" stroke-width="1.9" fill="none" stroke-linecap="round" stroke-linejoin="round">
<path d="M316.5 207.7 L834.7 184.2"/>
<path d="M821.1 192.3 L834.7 184.2 L820.4 177.3"/>
<path d="M316.5 207.7 L952.8 538"/>
<path d="M936.9 538.2 L952.8 538 L943.8 524.9"/>
<path d="M316 325.5 L952.8 891.9"/>
<path d="M937.4 888.2 L952.8 891.9 L947.3 877.0"/>
<path d="M168.8 326.2 L163.8 777.2"/>
<path d="M156.5 763.1 L163.8 777.2 L171.5 763.3"/>
<path d="M168.8 326.2 L556.1 773.8"/>
<path d="M541.3 768.1 L556.1 773.8 L552.6 758.3"/>
</g>
<g font-family="Liberation Sans" font-weight="bold" font-style="italic" font-size="33.4" fill="#000">
<text x="49" y="60.5" textLength="348.5" lengthAdjust="spacingAndGlyphs">Lithops karasmontana</text>
<text x="850.3" y="47.2" textLength="219.5" lengthAdjust="spacingAndGlyphs">var. aiaisensis</text>
<text x="968.8" y="403.4" textLength="232.4" lengthAdjust="spacingAndGlyphs">var. lericheana</text>
<text x="969" y="757.8" textLength="181.8" lengthAdjust="spacingAndGlyphs">var. tischeri</text>
<text x="23.5" y="1051.2" textLength="145" lengthAdjust="spacingAndGlyphs">ssp. bella</text>
<text x="426" y="1052.9" textLength="221.5" lengthAdjust="spacingAndGlyphs">ssp. eberlanzii</text>
</g>
<g font-family="Liberation Sans" font-size="26" fill="#000">
<text x="418" y="191.5" textLength="305" lengthAdjust="spacingAndGlyphs" transform="rotate(-2.55 418 191.5)">pale color, marbled design</text>
<text x="530" y="309.5" textLength="248" lengthAdjust="spacingAndGlyphs" transform="rotate(27.6 530 309.5)">wide brown channels</text>
<text x="532" y="496" textLength="162" lengthAdjust="spacingAndGlyphs" transform="rotate(42.2 532 496)">brick red apex</text>
<text x="277.7" y="413.8" textLength="387" lengthAdjust="spacingAndGlyphs" transform="rotate(49.6 277.7 413.8)">channels = branched broken lines</text>
<text x="128" y="331" textLength="431" lengthAdjust="spacingAndGlyphs" transform="rotate(90 128 331)">convex profile, channels = ideograms</text>
</g>
</svg>
</body></html>
